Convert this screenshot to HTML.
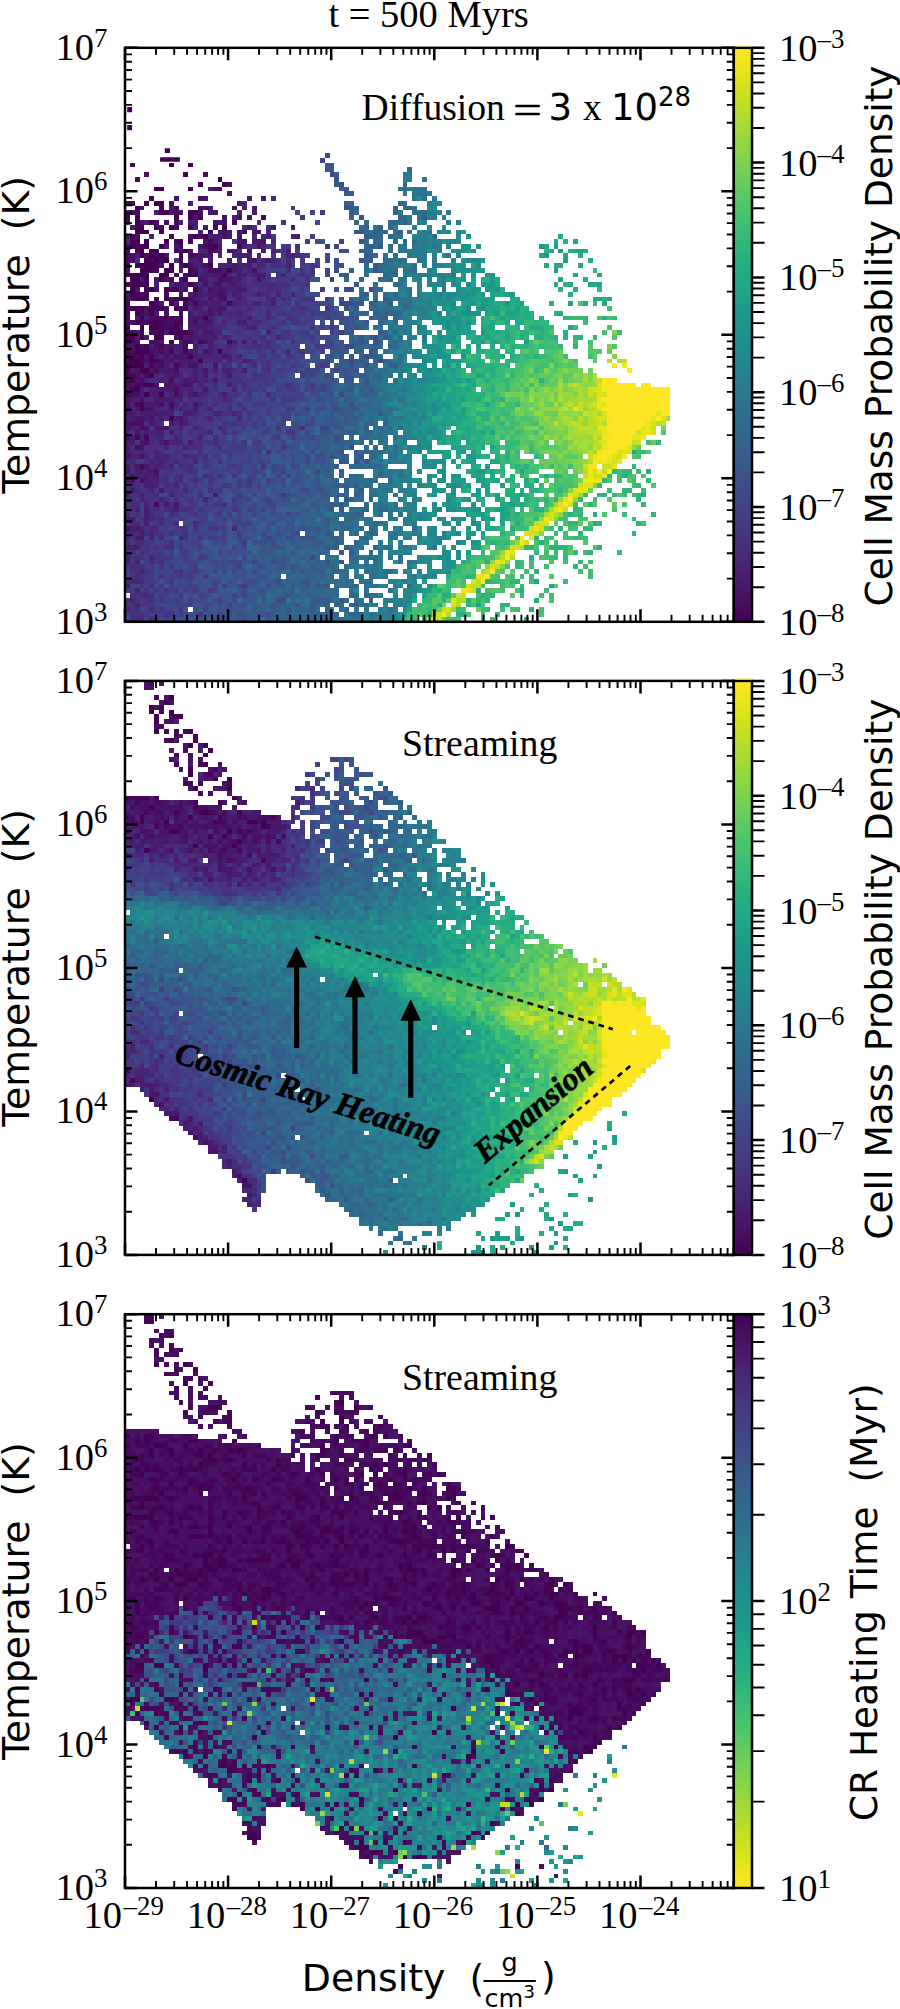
<!DOCTYPE html>
<html><head><meta charset="utf-8"><title>plot</title><style>html,body{margin:0;padding:0;background:#fff;width:900px;height:2009px;overflow:hidden}svg{display:block}</style></head><body>
<svg width="900" height="2009" viewBox="0 0 900 2009">
<rect width="900" height="2009" fill="#fff"/>
<defs><clipPath id="clip0"><rect x="125.0" y="47.8" width="608.8" height="574.0"/></clipPath><clipPath id="clip1"><rect x="125.0" y="680.9" width="608.8" height="574.0"/></clipPath><clipPath id="clip2"><rect x="125.0" y="1314.2" width="608.8" height="573.8"/></clipPath></defs>
<g clip-path="url(#clip0)"><g transform="translate(125.00 47.80) scale(4.8704 4.7833)" shape-rendering="crispEdges">
<path fill="#440154" d="M9 24h1v1h-1zM13 24h1v1h-1zM12 26h1v1h-1zM19 27h1v1h-1zM15 28h1v1h-1zM20 28h1v1h-1zM6 29h2v1h-2zM13 29h1v1h-1zM5 31h1v1h-1zM4 32h1v1h-1zM6 32h2v1h-2zM2 33h1v1h-1zM7 34h2v1h-2zM13 34h2v1h-2zM0 35h1v1h-1zM2 35h1v1h-1zM10 35h1v1h-1zM13 35h1v1h-1zM15 35h1v1h-1zM2 36h1v1h-1zM5 36h1v1h-1zM3 37h1v1h-1zM9 37h1v1h-1zM20 37h1v1h-1zM2 38h3v1h-3zM7 38h1v1h-1zM17 38h1v1h-1zM1 39h1v1h-1zM14 39h1v1h-1zM16 39h1v1h-1zM1 40h2v1h-2zM4 40h1v1h-1zM8 40h1v1h-1zM11 40h1v1h-1zM1 41h1v1h-1zM4 41h1v1h-1zM7 41h1v1h-1zM18 41h1v1h-1zM3 42h1v1h-1zM5 42h2v1h-2zM10 42h1v1h-1zM12 42h1v1h-1zM3 43h1v1h-1zM5 43h1v1h-1zM7 43h1v1h-1zM11 43h1v1h-1zM6 44h1v1h-1zM8 44h1v1h-1zM11 44h1v1h-1zM0 45h1v1h-1zM3 45h3v1h-3zM9 45h1v1h-1zM12 45h1v1h-1zM17 45h1v1h-1zM3 46h3v1h-3zM8 46h2v1h-2zM21 46h1v1h-1zM0 47h5v1h-5zM7 47h2v1h-2zM13 47h2v1h-2zM1 48h2v1h-2zM4 48h1v1h-1zM7 48h1v1h-1zM0 49h5v1h-5zM13 49h1v1h-1zM1 50h1v1h-1zM4 50h2v1h-2zM8 50h1v1h-1zM10 50h1v1h-1zM14 50h1v1h-1zM1 51h1v1h-1zM2 52h2v1h-2zM10 52h3v1h-3zM5 53h1v1h-1zM9 53h1v1h-1zM1 54h3v1h-3zM5 54h1v1h-1zM7 54h1v1h-1zM10 54h1v1h-1zM12 54h1v1h-1zM2 55h1v1h-1zM5 55h1v1h-1zM3 56h1v1h-1zM8 56h1v1h-1zM11 56h1v1h-1zM16 56h1v1h-1zM2 57h1v1h-1zM6 57h1v1h-1zM10 57h2v1h-2zM0 58h1v1h-1zM3 58h1v1h-1zM5 58h2v1h-2zM10 58h1v1h-1zM3 59h1v1h-1zM7 59h1v1h-1zM9 59h4v1h-4zM0 60h2v1h-2zM3 60h1v1h-1zM6 60h2v1h-2zM11 60h1v1h-1zM0 61h1v1h-1zM2 62h1v1h-1zM4 62h1v1h-1zM2 63h3v1h-3zM19 63h1v1h-1zM0 64h2v1h-2zM3 64h1v1h-1zM5 64h1v1h-1zM13 64h1v1h-1zM1 65h2v1h-2zM5 65h2v1h-2zM15 65h1v1h-1zM0 66h4v1h-4zM0 67h1v1h-1zM3 67h2v1h-2zM5 68h1v1h-1zM1 69h1v1h-1zM4 70h2v1h-2zM1 71h2v1h-2zM4 72h1v1h-1zM7 72h1v1h-1zM3 74h1v1h-1zM3 75h1v1h-1zM9 77h1v1h-1z"/>
<path fill="#46075a" d="M1 24h1v1h-1zM2 27h1v1h-1zM19 29h1v1h-1zM1 32h1v1h-1zM7 33h1v1h-1zM10 33h1v1h-1zM1 34h2v1h-2zM10 34h1v1h-1zM28 35h1v1h-1zM22 36h1v1h-1zM2 37h1v1h-1zM6 37h1v1h-1zM13 37h1v1h-1zM9 39h1v1h-1zM10 40h1v1h-1zM13 40h1v1h-1zM17 40h1v1h-1zM2 41h2v1h-2zM11 41h1v1h-1zM17 41h1v1h-1zM23 41h1v1h-1zM2 42h1v1h-1zM17 42h1v1h-1zM6 43h1v1h-1zM13 43h1v1h-1zM4 44h2v1h-2zM7 44h1v1h-1zM2 45h1v1h-1zM6 45h1v1h-1zM6 46h1v1h-1zM13 46h1v1h-1zM17 46h1v1h-1zM20 47h1v1h-1zM12 48h1v1h-1zM9 50h1v1h-1zM2 51h1v1h-1zM4 51h1v1h-1zM8 51h1v1h-1zM4 52h1v1h-1zM6 52h1v1h-1zM8 52h1v1h-1zM0 53h1v1h-1zM6 53h1v1h-1zM12 53h1v1h-1zM14 53h1v1h-1zM21 53h1v1h-1zM0 54h1v1h-1zM6 54h1v1h-1zM0 55h1v1h-1zM3 55h1v1h-1zM0 56h1v1h-1zM9 56h1v1h-1zM3 57h1v1h-1zM5 57h1v1h-1zM7 57h1v1h-1zM7 58h1v1h-1zM9 58h1v1h-1zM0 59h1v1h-1zM6 59h1v1h-1zM1 61h1v1h-1zM9 61h1v1h-1zM12 61h1v1h-1zM15 61h1v1h-1zM21 61h1v1h-1zM7 62h1v1h-1zM12 62h1v1h-1zM0 63h1v1h-1zM9 63h1v1h-1zM12 63h1v1h-1zM0 65h1v1h-1zM5 66h1v1h-1zM10 66h1v1h-1zM0 68h2v1h-2zM0 69h1v1h-1zM2 70h2v1h-2zM0 72h1v1h-1zM2 74h1v1h-1zM2 81h1v1h-1zM4 81h1v1h-1zM3 87h1v1h-1zM6 95h1v1h-1z"/>
<path fill="#470d60" d="M16 26h1v1h-1zM18 29h1v1h-1zM15 31h1v1h-1zM0 32h1v1h-1zM9 32h1v1h-1zM15 33h1v1h-1zM22 33h1v1h-1zM15 34h1v1h-1zM0 36h1v1h-1zM6 36h1v1h-1zM8 36h1v1h-1zM10 36h1v1h-1zM20 36h1v1h-1zM7 37h1v1h-1zM10 37h1v1h-1zM18 37h1v1h-1zM20 38h1v1h-1zM24 38h1v1h-1zM2 39h1v1h-1zM13 39h1v1h-1zM15 39h1v1h-1zM0 41h1v1h-1zM16 41h1v1h-1zM0 42h1v1h-1zM11 42h1v1h-1zM13 42h1v1h-1zM18 42h1v1h-1zM0 43h2v1h-2zM4 43h1v1h-1zM0 44h2v1h-2zM16 45h1v1h-1zM14 46h1v1h-1zM18 46h2v1h-2zM10 47h1v1h-1zM12 47h1v1h-1zM9 48h1v1h-1zM19 48h1v1h-1zM3 51h1v1h-1zM11 51h1v1h-1zM19 51h1v1h-1zM0 52h2v1h-2zM9 52h1v1h-1zM13 52h1v1h-1zM20 52h1v1h-1zM4 54h1v1h-1zM8 54h1v1h-1zM11 54h1v1h-1zM11 55h1v1h-1zM5 56h3v1h-3zM0 57h2v1h-2zM4 57h1v1h-1zM8 57h2v1h-2zM14 57h1v1h-1zM8 58h1v1h-1zM1 59h1v1h-1zM5 59h1v1h-1zM13 59h1v1h-1zM5 61h2v1h-2zM13 61h1v1h-1zM3 62h1v1h-1zM6 62h1v1h-1zM1 63h1v1h-1zM5 63h1v1h-1zM7 63h1v1h-1zM2 64h1v1h-1zM3 65h2v1h-2zM7 65h1v1h-1zM7 66h1v1h-1zM6 67h1v1h-1zM10 67h1v1h-1zM2 68h1v1h-1zM4 68h1v1h-1zM3 69h1v1h-1zM9 69h1v1h-1zM6 70h1v1h-1zM0 71h1v1h-1zM10 71h1v1h-1zM1 72h2v1h-2zM10 72h1v1h-1zM7 74h1v1h-1zM9 74h1v1h-1zM0 75h1v1h-1zM1 78h3v1h-3zM3 79h2v1h-2zM0 81h1v1h-1zM4 82h1v1h-1zM2 83h1v1h-1zM1 90h1v1h-1zM3 90h1v1h-1z"/>
<path fill="#471365" d="M4 26h1v1h-1zM21 28h1v1h-1zM10 31h1v1h-1zM16 31h1v1h-1zM3 33h1v1h-1zM16 33h1v1h-1zM11 34h1v1h-1zM18 34h1v1h-1zM14 35h1v1h-1zM20 35h1v1h-1zM23 35h1v1h-1zM25 35h1v1h-1zM3 36h1v1h-1zM18 36h1v1h-1zM19 38h1v1h-1zM26 38h2v1h-2zM20 39h1v1h-1zM23 39h1v1h-1zM16 40h1v1h-1zM24 40h1v1h-1zM28 40h1v1h-1zM27 41h1v1h-1zM25 42h1v1h-1zM8 43h1v1h-1zM14 43h2v1h-2zM17 43h1v1h-1zM26 44h1v1h-1zM7 45h1v1h-1zM11 45h1v1h-1zM13 45h1v1h-1zM26 46h1v1h-1zM8 48h1v1h-1zM11 48h1v1h-1zM15 48h1v1h-1zM20 48h2v1h-2zM27 48h1v1h-1zM11 49h1v1h-1zM16 49h1v1h-1zM18 49h2v1h-2zM6 50h1v1h-1zM12 50h1v1h-1zM17 50h1v1h-1zM14 51h1v1h-1zM20 51h1v1h-1zM17 52h1v1h-1zM4 55h1v1h-1zM8 55h1v1h-1zM17 55h1v1h-1zM19 55h1v1h-1zM10 56h1v1h-1zM11 58h1v1h-1zM10 60h1v1h-1zM13 60h1v1h-1zM2 61h1v1h-1zM16 61h1v1h-1zM0 62h2v1h-2zM9 62h1v1h-1zM6 63h1v1h-1zM16 63h1v1h-1zM4 64h1v1h-1zM8 64h1v1h-1zM10 64h3v1h-3zM9 65h1v1h-1zM6 66h1v1h-1zM13 66h2v1h-2zM18 66h1v1h-1zM2 67h1v1h-1zM16 67h1v1h-1zM2 69h1v1h-1zM0 70h2v1h-2zM8 70h1v1h-1zM12 70h1v1h-1zM14 72h1v1h-1zM3 73h1v1h-1zM0 74h1v1h-1zM14 74h1v1h-1zM4 75h2v1h-2zM9 75h1v1h-1zM2 77h2v1h-2zM0 78h1v1h-1zM0 79h1v1h-1zM8 79h1v1h-1zM2 80h1v1h-1zM8 82h1v1h-1zM3 83h1v1h-1zM0 85h1v1h-1zM3 85h1v1h-1zM0 88h1v1h-1zM6 88h1v1h-1zM1 89h1v1h-1zM0 100h1v1h-1z"/>
<path fill="#48186a" d="M21 30h1v1h-1zM25 31h1v1h-1zM28 31h1v1h-1zM9 33h1v1h-1zM17 33h1v1h-1zM26 33h1v1h-1zM9 34h1v1h-1zM1 37h1v1h-1zM16 37h1v1h-1zM25 37h1v1h-1zM34 37h1v1h-1zM21 38h1v1h-1zM23 38h1v1h-1zM18 40h1v1h-1zM23 40h1v1h-1zM26 40h1v1h-1zM10 41h1v1h-1zM15 41h1v1h-1zM19 41h1v1h-1zM19 42h1v1h-1zM21 42h2v1h-2zM16 43h1v1h-1zM15 44h1v1h-1zM25 44h1v1h-1zM29 44h1v1h-1zM22 45h1v1h-1zM0 46h1v1h-1zM20 46h1v1h-1zM22 46h1v1h-1zM16 47h1v1h-1zM18 47h2v1h-2zM6 48h1v1h-1zM10 49h1v1h-1zM14 49h1v1h-1zM2 50h1v1h-1zM11 50h1v1h-1zM15 50h1v1h-1zM19 50h2v1h-2zM0 51h1v1h-1zM18 51h1v1h-1zM19 52h1v1h-1zM7 53h1v1h-1zM13 53h1v1h-1zM15 53h2v1h-2zM14 54h1v1h-1zM17 54h1v1h-1zM19 54h2v1h-2zM6 55h1v1h-1zM13 55h1v1h-1zM2 56h1v1h-1zM13 56h3v1h-3zM13 57h1v1h-1zM16 57h2v1h-2zM2 59h1v1h-1zM8 59h1v1h-1zM16 59h2v1h-2zM4 60h1v1h-1zM12 60h1v1h-1zM7 61h1v1h-1zM24 61h1v1h-1zM8 62h1v1h-1zM14 62h1v1h-1zM8 63h1v1h-1zM13 63h1v1h-1zM6 64h1v1h-1zM20 64h1v1h-1zM11 65h1v1h-1zM13 65h1v1h-1zM8 66h1v1h-1zM11 66h1v1h-1zM5 67h1v1h-1zM7 67h3v1h-3zM3 68h1v1h-1zM9 68h2v1h-2zM21 68h1v1h-1zM12 69h1v1h-1zM14 69h1v1h-1zM18 69h1v1h-1zM9 70h1v1h-1zM13 70h1v1h-1zM9 71h1v1h-1zM16 71h1v1h-1zM0 73h2v1h-2zM5 74h2v1h-2zM2 75h1v1h-1zM14 75h1v1h-1zM0 76h2v1h-2zM6 76h1v1h-1zM5 77h1v1h-1zM11 77h1v1h-1zM5 78h1v1h-1zM11 78h1v1h-1zM7 79h1v1h-1zM3 82h1v1h-1zM0 83h1v1h-1zM2 87h1v1h-1zM4 87h1v1h-1zM6 89h1v1h-1zM0 90h1v1h-1zM1 92h1v1h-1zM7 92h1v1h-1zM18 93h1v1h-1zM8 95h1v1h-1zM10 95h1v1h-1zM0 98h2v1h-2zM2 100h1v1h-1zM2 102h2v1h-2zM0 112h1v1h-1z"/>
<path fill="#481d6f" d="M17 29h1v1h-1zM13 32h1v1h-1zM23 32h1v1h-1zM0 34h1v1h-1zM6 34h1v1h-1zM17 34h1v1h-1zM26 34h1v1h-1zM22 35h1v1h-1zM4 36h1v1h-1zM13 36h2v1h-2zM19 36h1v1h-1zM30 37h1v1h-1zM0 39h1v1h-1zM18 39h2v1h-2zM21 39h1v1h-1zM29 39h1v1h-1zM35 39h1v1h-1zM27 40h1v1h-1zM8 41h1v1h-1zM28 42h1v1h-1zM33 42h1v1h-1zM2 43h1v1h-1zM23 43h3v1h-3zM13 44h1v1h-1zM17 44h1v1h-1zM21 44h1v1h-1zM14 45h2v1h-2zM25 45h1v1h-1zM11 46h1v1h-1zM16 46h1v1h-1zM23 46h1v1h-1zM17 47h1v1h-1zM23 47h2v1h-2zM27 47h2v1h-2zM3 48h1v1h-1zM16 48h1v1h-1zM22 48h2v1h-2zM6 49h1v1h-1zM12 49h1v1h-1zM21 49h2v1h-2zM18 50h1v1h-1zM23 50h2v1h-2zM13 51h1v1h-1zM15 51h1v1h-1zM17 51h1v1h-1zM22 51h1v1h-1zM27 51h1v1h-1zM14 52h1v1h-1zM23 52h1v1h-1zM10 53h1v1h-1zM18 53h2v1h-2zM22 53h1v1h-1zM27 53h1v1h-1zM30 53h1v1h-1zM15 54h1v1h-1zM18 54h1v1h-1zM16 55h1v1h-1zM4 56h1v1h-1zM25 56h1v1h-1zM23 57h2v1h-2zM13 58h4v1h-4zM26 58h1v1h-1zM14 59h1v1h-1zM19 59h1v1h-1zM29 59h1v1h-1zM2 60h1v1h-1zM14 60h3v1h-3zM18 60h1v1h-1zM17 61h1v1h-1zM22 61h1v1h-1zM5 62h1v1h-1zM10 62h2v1h-2zM17 62h1v1h-1zM11 63h1v1h-1zM17 63h1v1h-1zM14 64h1v1h-1zM8 65h1v1h-1zM12 65h1v1h-1zM24 65h1v1h-1zM4 66h1v1h-1zM1 67h1v1h-1zM14 67h1v1h-1zM18 67h1v1h-1zM24 67h1v1h-1zM8 68h1v1h-1zM14 68h1v1h-1zM16 68h1v1h-1zM4 69h1v1h-1zM7 69h1v1h-1zM13 69h1v1h-1zM10 70h2v1h-2zM21 70h1v1h-1zM3 71h1v1h-1zM5 71h4v1h-4zM3 72h1v1h-1zM5 72h2v1h-2zM11 72h1v1h-1zM13 72h1v1h-1zM20 72h1v1h-1zM6 73h4v1h-4zM4 74h1v1h-1zM11 75h1v1h-1zM3 76h3v1h-3zM7 76h2v1h-2zM12 76h2v1h-2zM1 77h1v1h-1zM4 77h1v1h-1zM7 77h1v1h-1zM10 77h1v1h-1zM9 78h1v1h-1zM12 78h1v1h-1zM1 79h1v1h-1zM6 79h1v1h-1zM14 79h1v1h-1zM4 80h1v1h-1zM7 80h1v1h-1zM9 80h1v1h-1zM1 81h1v1h-1zM0 82h2v1h-2zM7 82h1v1h-1zM13 82h1v1h-1zM0 84h1v1h-1zM7 86h1v1h-1zM0 87h1v1h-1zM2 88h2v1h-2zM5 88h1v1h-1zM2 89h1v1h-1zM4 89h1v1h-1zM4 90h1v1h-1zM4 91h2v1h-2zM0 93h1v1h-1zM3 93h1v1h-1zM9 93h1v1h-1zM2 96h1v1h-1zM4 96h1v1h-1zM10 96h1v1h-1zM4 97h1v1h-1zM4 98h1v1h-1zM4 99h1v1h-1zM1 100h1v1h-1zM3 101h1v1h-1zM0 104h1v1h-1zM2 104h1v1h-1zM0 106h1v1h-1zM0 107h1v1h-1zM2 107h1v1h-1zM3 109h1v1h-1z"/>
<path fill="#482374" d="M24 33h1v1h-1zM23 34h1v1h-1zM11 36h1v1h-1zM14 37h1v1h-1zM15 38h1v1h-1zM29 38h1v1h-1zM5 39h1v1h-1zM17 39h1v1h-1zM26 39h1v1h-1zM34 39h1v1h-1zM19 40h1v1h-1zM24 41h1v1h-1zM30 42h1v1h-1zM19 43h1v1h-1zM22 43h1v1h-1zM27 43h1v1h-1zM33 43h2v1h-2zM14 44h1v1h-1zM28 44h1v1h-1zM19 45h3v1h-3zM23 45h2v1h-2zM27 45h1v1h-1zM33 45h1v1h-1zM25 46h1v1h-1zM15 47h1v1h-1zM26 47h1v1h-1zM32 47h1v1h-1zM18 48h1v1h-1zM9 49h1v1h-1zM23 49h1v1h-1zM21 50h2v1h-2zM16 51h1v1h-1zM23 51h1v1h-1zM31 51h1v1h-1zM34 51h1v1h-1zM15 52h1v1h-1zM30 52h1v1h-1zM17 53h1v1h-1zM26 53h1v1h-1zM15 55h1v1h-1zM18 55h1v1h-1zM21 55h1v1h-1zM23 55h1v1h-1zM17 56h1v1h-1zM15 57h1v1h-1zM20 57h1v1h-1zM17 58h1v1h-1zM25 58h1v1h-1zM18 59h1v1h-1zM17 60h1v1h-1zM20 60h1v1h-1zM31 60h1v1h-1zM11 61h1v1h-1zM26 61h1v1h-1zM21 62h1v1h-1zM10 63h1v1h-1zM14 63h1v1h-1zM7 64h1v1h-1zM9 64h1v1h-1zM15 64h1v1h-1zM17 64h1v1h-1zM21 64h1v1h-1zM23 64h1v1h-1zM10 65h1v1h-1zM14 65h1v1h-1zM18 65h2v1h-2zM21 65h1v1h-1zM25 65h1v1h-1zM12 66h1v1h-1zM20 67h2v1h-2zM6 68h1v1h-1zM11 68h1v1h-1zM8 69h1v1h-1zM16 69h1v1h-1zM15 70h1v1h-1zM11 71h1v1h-1zM13 71h1v1h-1zM22 71h1v1h-1zM9 72h1v1h-1zM15 72h1v1h-1zM2 73h1v1h-1zM11 73h1v1h-1zM1 74h1v1h-1zM10 74h1v1h-1zM12 74h1v1h-1zM15 74h1v1h-1zM17 75h1v1h-1zM9 76h1v1h-1zM18 76h2v1h-2zM22 76h1v1h-1zM0 77h1v1h-1zM12 77h1v1h-1zM17 77h1v1h-1zM6 78h1v1h-1zM2 79h1v1h-1zM11 79h1v1h-1zM19 79h1v1h-1zM0 80h1v1h-1zM6 80h1v1h-1zM17 80h1v1h-1zM3 81h1v1h-1zM7 81h1v1h-1zM10 81h1v1h-1zM15 81h1v1h-1zM9 82h3v1h-3zM8 83h1v1h-1zM12 83h1v1h-1zM6 84h1v1h-1zM1 85h2v1h-2zM4 85h1v1h-1zM6 85h1v1h-1zM8 85h1v1h-1zM12 85h1v1h-1zM5 86h1v1h-1zM14 86h1v1h-1zM6 87h2v1h-2zM9 87h1v1h-1zM4 88h1v1h-1zM5 89h1v1h-1zM5 90h2v1h-2zM1 91h1v1h-1zM6 91h1v1h-1zM10 91h1v1h-1zM5 92h1v1h-1zM3 94h1v1h-1zM7 94h1v1h-1zM16 94h1v1h-1zM4 95h1v1h-1zM3 100h1v1h-1zM0 101h2v1h-2zM5 101h1v1h-1zM0 102h1v1h-1zM5 102h1v1h-1zM11 102h1v1h-1zM1 104h1v1h-1zM5 106h1v1h-1zM2 111h1v1h-1zM2 113h1v1h-1zM1 115h1v1h-1zM2 116h1v1h-1z"/>
<path fill="#482878" d="M30 31h1v1h-1zM24 32h1v1h-1zM24 37h1v1h-1zM28 39h1v1h-1zM0 40h1v1h-1zM30 40h1v1h-1zM28 41h1v1h-1zM15 42h2v1h-2zM23 42h1v1h-1zM30 44h1v1h-1zM33 44h1v1h-1zM28 45h1v1h-1zM30 45h1v1h-1zM15 46h1v1h-1zM33 46h1v1h-1zM21 47h1v1h-1zM25 47h1v1h-1zM17 48h1v1h-1zM28 48h1v1h-1zM34 48h1v1h-1zM15 49h1v1h-1zM17 49h1v1h-1zM20 49h1v1h-1zM24 49h1v1h-1zM29 49h2v1h-2zM29 50h1v1h-1zM26 51h1v1h-1zM28 51h2v1h-2zM18 52h1v1h-1zM24 52h1v1h-1zM29 52h1v1h-1zM32 52h1v1h-1zM20 53h1v1h-1zM23 53h2v1h-2zM13 54h1v1h-1zM25 54h1v1h-1zM20 55h1v1h-1zM22 55h1v1h-1zM29 55h1v1h-1zM21 56h1v1h-1zM23 56h1v1h-1zM29 56h1v1h-1zM26 57h2v1h-2zM18 58h2v1h-2zM15 59h1v1h-1zM21 60h1v1h-1zM28 60h1v1h-1zM14 61h1v1h-1zM29 61h1v1h-1zM15 62h1v1h-1zM18 62h1v1h-1zM27 62h1v1h-1zM18 63h1v1h-1zM20 63h1v1h-1zM33 63h1v1h-1zM16 64h1v1h-1zM18 64h2v1h-2zM16 65h2v1h-2zM20 66h1v1h-1zM26 66h1v1h-1zM12 67h2v1h-2zM15 67h1v1h-1zM22 67h1v1h-1zM13 68h1v1h-1zM5 69h2v1h-2zM11 69h1v1h-1zM15 69h1v1h-1zM18 70h1v1h-1zM24 70h1v1h-1zM12 71h1v1h-1zM16 72h1v1h-1zM19 72h1v1h-1zM29 72h1v1h-1zM4 73h1v1h-1zM10 73h1v1h-1zM20 73h1v1h-1zM8 74h1v1h-1zM1 75h1v1h-1zM6 75h3v1h-3zM12 75h1v1h-1zM21 75h1v1h-1zM2 76h1v1h-1zM14 76h1v1h-1zM6 77h1v1h-1zM8 77h1v1h-1zM23 77h1v1h-1zM10 78h1v1h-1zM3 80h1v1h-1zM5 80h1v1h-1zM11 80h1v1h-1zM6 81h1v1h-1zM18 81h1v1h-1zM5 82h1v1h-1zM18 82h1v1h-1zM1 84h1v1h-1zM3 84h2v1h-2zM15 84h1v1h-1zM7 85h1v1h-1zM14 85h1v1h-1zM1 86h1v1h-1zM6 86h1v1h-1zM8 86h1v1h-1zM10 86h1v1h-1zM5 87h1v1h-1zM11 87h1v1h-1zM13 87h1v1h-1zM3 89h1v1h-1zM11 89h1v1h-1zM11 90h1v1h-1zM14 90h1v1h-1zM0 92h1v1h-1zM2 92h1v1h-1zM12 92h1v1h-1zM6 93h1v1h-1zM1 95h2v1h-2zM8 96h2v1h-2zM0 97h1v1h-1zM5 97h1v1h-1zM9 97h1v1h-1zM5 98h1v1h-1zM7 98h1v1h-1zM1 99h2v1h-2zM7 99h1v1h-1zM10 99h1v1h-1zM14 99h1v1h-1zM5 100h2v1h-2zM22 100h1v1h-1zM2 101h1v1h-1zM4 101h1v1h-1zM7 102h1v1h-1zM0 103h1v1h-1zM2 103h2v1h-2zM1 108h1v1h-1zM2 110h1v1h-1zM0 111h2v1h-2zM3 111h1v1h-1zM4 114h1v1h-1zM0 117h1v1h-1zM5 117h1v1h-1zM3 119h1v1h-1zM5 119h1v1h-1z"/>
<path fill="#472d7b" d="M27 36h1v1h-1zM26 37h1v1h-1zM25 41h2v1h-2zM35 41h1v1h-1zM31 42h1v1h-1zM35 43h1v1h-1zM2 44h1v1h-1zM10 44h1v1h-1zM23 44h1v1h-1zM31 44h1v1h-1zM31 45h1v1h-1zM24 46h1v1h-1zM27 46h1v1h-1zM31 47h1v1h-1zM36 47h1v1h-1zM24 48h1v1h-1zM26 48h1v1h-1zM26 49h3v1h-3zM31 49h2v1h-2zM16 50h1v1h-1zM30 50h2v1h-2zM21 51h1v1h-1zM16 52h1v1h-1zM22 52h1v1h-1zM37 52h1v1h-1zM29 53h1v1h-1zM22 54h2v1h-2zM36 54h1v1h-1zM14 55h1v1h-1zM24 55h1v1h-1zM32 55h1v1h-1zM18 56h1v1h-1zM20 56h1v1h-1zM22 56h1v1h-1zM24 56h1v1h-1zM33 56h1v1h-1zM20 58h1v1h-1zM24 58h1v1h-1zM30 58h1v1h-1zM23 59h1v1h-1zM22 62h1v1h-1zM26 62h1v1h-1zM29 62h1v1h-1zM21 63h1v1h-1zM30 63h1v1h-1zM9 66h1v1h-1zM15 66h1v1h-1zM21 66h1v1h-1zM23 66h1v1h-1zM29 66h1v1h-1zM11 67h1v1h-1zM17 67h1v1h-1zM29 67h1v1h-1zM7 68h1v1h-1zM15 68h1v1h-1zM18 68h1v1h-1zM20 68h1v1h-1zM26 68h1v1h-1zM10 69h1v1h-1zM17 69h1v1h-1zM21 69h1v1h-1zM23 69h1v1h-1zM22 70h1v1h-1zM33 70h1v1h-1zM4 71h1v1h-1zM14 71h1v1h-1zM18 71h1v1h-1zM8 72h1v1h-1zM12 72h1v1h-1zM5 73h1v1h-1zM13 73h1v1h-1zM15 73h1v1h-1zM21 73h1v1h-1zM16 74h1v1h-1zM18 74h1v1h-1zM23 74h1v1h-1zM10 75h1v1h-1zM13 75h1v1h-1zM16 75h1v1h-1zM24 75h1v1h-1zM23 76h1v1h-1zM14 77h1v1h-1zM16 77h1v1h-1zM7 78h1v1h-1zM13 78h1v1h-1zM10 79h1v1h-1zM15 79h1v1h-1zM36 79h1v1h-1zM13 80h1v1h-1zM15 80h2v1h-2zM20 80h1v1h-1zM5 81h1v1h-1zM11 81h1v1h-1zM6 82h1v1h-1zM15 82h1v1h-1zM1 83h1v1h-1zM5 83h2v1h-2zM13 83h3v1h-3zM19 83h1v1h-1zM2 84h1v1h-1zM5 84h1v1h-1zM7 84h1v1h-1zM10 84h1v1h-1zM29 84h1v1h-1zM9 85h1v1h-1zM13 85h1v1h-1zM16 85h1v1h-1zM0 86h1v1h-1zM4 86h1v1h-1zM9 86h1v1h-1zM19 86h1v1h-1zM1 87h1v1h-1zM8 87h1v1h-1zM1 88h1v1h-1zM13 88h1v1h-1zM0 89h1v1h-1zM8 89h1v1h-1zM16 89h1v1h-1zM19 89h1v1h-1zM2 90h1v1h-1zM8 90h1v1h-1zM10 90h1v1h-1zM0 91h1v1h-1zM2 91h1v1h-1zM8 91h1v1h-1zM4 92h1v1h-1zM9 92h1v1h-1zM2 93h1v1h-1zM11 93h1v1h-1zM15 93h1v1h-1zM0 94h2v1h-2zM4 94h1v1h-1zM8 94h1v1h-1zM10 94h1v1h-1zM13 94h1v1h-1zM20 95h1v1h-1zM0 96h2v1h-2zM5 96h2v1h-2zM12 96h1v1h-1zM2 97h1v1h-1zM3 98h1v1h-1zM6 98h1v1h-1zM14 100h1v1h-1zM9 101h1v1h-1zM12 101h1v1h-1zM1 102h1v1h-1zM9 103h1v1h-1zM8 104h2v1h-2zM1 105h1v1h-1zM3 105h1v1h-1zM2 106h1v1h-1zM5 107h1v1h-1zM7 107h1v1h-1zM2 108h2v1h-2zM2 109h1v1h-1zM5 112h1v1h-1zM3 114h1v1h-1zM5 114h1v1h-1zM0 115h1v1h-1zM5 115h1v1h-1zM1 117h2v1h-2zM2 119h1v1h-1z"/>
<path fill="#46327e" d="M34 33h1v1h-1zM32 36h1v1h-1zM29 37h1v1h-1zM30 41h1v1h-1zM32 42h1v1h-1zM30 43h1v1h-1zM36 43h1v1h-1zM27 44h1v1h-1zM32 45h1v1h-1zM36 46h1v1h-1zM38 46h1v1h-1zM22 47h1v1h-1zM29 47h1v1h-1zM35 47h1v1h-1zM29 48h1v1h-1zM37 48h1v1h-1zM25 49h1v1h-1zM33 49h1v1h-1zM37 49h1v1h-1zM25 50h1v1h-1zM27 50h2v1h-2zM24 51h2v1h-2zM33 52h1v1h-1zM36 52h1v1h-1zM25 53h1v1h-1zM28 53h1v1h-1zM35 53h1v1h-1zM16 54h1v1h-1zM24 54h1v1h-1zM26 54h1v1h-1zM29 54h2v1h-2zM25 55h1v1h-1zM31 55h1v1h-1zM26 56h1v1h-1zM30 56h1v1h-1zM34 56h1v1h-1zM18 57h2v1h-2zM21 57h2v1h-2zM25 57h1v1h-1zM28 57h1v1h-1zM32 57h1v1h-1zM34 57h2v1h-2zM23 58h1v1h-1zM38 58h1v1h-1zM22 59h1v1h-1zM26 59h1v1h-1zM32 59h2v1h-2zM19 60h1v1h-1zM24 60h2v1h-2zM27 60h1v1h-1zM32 60h1v1h-1zM18 61h1v1h-1zM28 61h1v1h-1zM34 61h1v1h-1zM16 62h1v1h-1zM19 62h2v1h-2zM24 62h2v1h-2zM28 62h1v1h-1zM15 63h1v1h-1zM22 63h1v1h-1zM27 63h1v1h-1zM36 63h1v1h-1zM22 64h1v1h-1zM28 64h1v1h-1zM33 64h1v1h-1zM22 65h1v1h-1zM26 65h1v1h-1zM29 65h1v1h-1zM23 67h1v1h-1zM23 68h1v1h-1zM27 68h2v1h-2zM20 69h1v1h-1zM22 69h1v1h-1zM26 69h1v1h-1zM15 71h1v1h-1zM17 71h1v1h-1zM24 71h2v1h-2zM17 72h1v1h-1zM21 72h2v1h-2zM25 72h1v1h-1zM14 73h1v1h-1zM16 73h1v1h-1zM18 73h2v1h-2zM30 73h1v1h-1zM13 74h1v1h-1zM21 74h1v1h-1zM15 75h1v1h-1zM15 76h1v1h-1zM20 76h2v1h-2zM25 76h1v1h-1zM13 77h1v1h-1zM19 77h1v1h-1zM4 78h1v1h-1zM20 78h1v1h-1zM22 78h1v1h-1zM9 79h1v1h-1zM20 79h1v1h-1zM1 80h1v1h-1zM10 80h1v1h-1zM14 81h1v1h-1zM14 82h1v1h-1zM17 82h1v1h-1zM4 83h1v1h-1zM7 83h1v1h-1zM10 83h1v1h-1zM11 84h1v1h-1zM5 85h1v1h-1zM10 85h1v1h-1zM11 86h2v1h-2zM16 86h1v1h-1zM12 87h1v1h-1zM28 87h1v1h-1zM8 88h2v1h-2zM12 88h1v1h-1zM14 88h1v1h-1zM7 89h1v1h-1zM10 89h1v1h-1zM17 89h1v1h-1zM22 89h1v1h-1zM7 90h1v1h-1zM17 90h1v1h-1zM25 90h1v1h-1zM3 91h1v1h-1zM9 91h1v1h-1zM12 91h1v1h-1zM3 92h1v1h-1zM8 92h1v1h-1zM10 92h1v1h-1zM17 92h1v1h-1zM1 93h1v1h-1zM4 93h2v1h-2zM32 93h1v1h-1zM5 94h2v1h-2zM0 95h1v1h-1zM5 95h1v1h-1zM7 95h1v1h-1zM9 95h1v1h-1zM11 96h1v1h-1zM13 96h1v1h-1zM6 97h2v1h-2zM10 97h1v1h-1zM14 97h1v1h-1zM11 98h1v1h-1zM4 100h1v1h-1zM12 100h1v1h-1zM6 101h2v1h-2zM12 102h1v1h-1zM15 102h1v1h-1zM4 103h1v1h-1zM3 104h2v1h-2zM6 104h1v1h-1zM11 104h1v1h-1zM0 105h1v1h-1zM4 105h1v1h-1zM3 106h1v1h-1zM6 106h1v1h-1zM1 107h1v1h-1zM7 108h1v1h-1zM1 109h1v1h-1zM4 109h1v1h-1zM11 109h1v1h-1zM3 110h1v1h-1zM7 110h1v1h-1zM4 113h1v1h-1zM8 113h1v1h-1zM1 114h2v1h-2zM2 115h1v1h-1zM4 115h1v1h-1zM1 116h1v1h-1zM7 117h1v1h-1zM1 118h3v1h-3zM9 118h1v1h-1zM1 119h1v1h-1z"/>
<path fill="#453781" d="M40 34h1v1h-1zM36 35h1v1h-1zM30 39h1v1h-1zM22 40h1v1h-1zM29 41h1v1h-1zM33 41h1v1h-1zM41 41h1v1h-1zM32 43h1v1h-1zM36 44h1v1h-1zM38 45h1v1h-1zM28 46h1v1h-1zM37 47h1v1h-1zM25 48h1v1h-1zM31 48h1v1h-1zM33 48h1v1h-1zM32 50h2v1h-2zM36 50h1v1h-1zM32 51h1v1h-1zM21 52h1v1h-1zM25 52h1v1h-1zM31 52h1v1h-1zM38 52h1v1h-1zM33 53h1v1h-1zM21 54h1v1h-1zM27 54h1v1h-1zM31 54h1v1h-1zM34 54h2v1h-2zM41 54h1v1h-1zM27 55h1v1h-1zM33 55h1v1h-1zM35 55h2v1h-2zM38 55h1v1h-1zM28 56h1v1h-1zM29 57h1v1h-1zM31 57h1v1h-1zM21 58h2v1h-2zM29 58h1v1h-1zM24 59h1v1h-1zM37 59h1v1h-1zM23 60h1v1h-1zM30 60h1v1h-1zM33 60h1v1h-1zM38 60h1v1h-1zM19 61h1v1h-1zM23 61h1v1h-1zM30 61h1v1h-1zM23 62h1v1h-1zM30 62h2v1h-2zM39 62h1v1h-1zM25 63h1v1h-1zM27 64h1v1h-1zM30 64h2v1h-2zM34 64h1v1h-1zM20 65h1v1h-1zM23 65h1v1h-1zM28 65h1v1h-1zM32 65h1v1h-1zM16 66h2v1h-2zM25 66h1v1h-1zM28 66h1v1h-1zM34 66h1v1h-1zM19 67h1v1h-1zM28 67h1v1h-1zM12 68h1v1h-1zM17 68h1v1h-1zM19 68h1v1h-1zM22 68h1v1h-1zM24 68h1v1h-1zM36 68h1v1h-1zM25 69h1v1h-1zM28 69h1v1h-1zM14 70h1v1h-1zM16 70h2v1h-2zM20 70h1v1h-1zM38 70h1v1h-1zM26 71h1v1h-1zM34 71h1v1h-1zM18 72h1v1h-1zM23 72h1v1h-1zM17 73h1v1h-1zM25 73h1v1h-1zM32 73h1v1h-1zM11 74h1v1h-1zM17 74h1v1h-1zM19 74h2v1h-2zM27 74h1v1h-1zM11 76h1v1h-1zM16 76h2v1h-2zM15 77h1v1h-1zM25 77h1v1h-1zM14 78h1v1h-1zM17 78h1v1h-1zM21 78h1v1h-1zM23 78h1v1h-1zM5 79h1v1h-1zM16 79h1v1h-1zM31 79h1v1h-1zM14 80h1v1h-1zM22 80h1v1h-1zM33 80h2v1h-2zM9 81h1v1h-1zM13 81h1v1h-1zM16 82h1v1h-1zM24 82h1v1h-1zM27 82h1v1h-1zM9 83h1v1h-1zM11 83h1v1h-1zM32 83h1v1h-1zM9 84h1v1h-1zM20 84h1v1h-1zM11 85h1v1h-1zM15 85h1v1h-1zM18 85h1v1h-1zM2 86h1v1h-1zM13 86h1v1h-1zM16 87h1v1h-1zM7 88h1v1h-1zM13 90h1v1h-1zM14 91h1v1h-1zM20 91h1v1h-1zM6 92h1v1h-1zM19 92h1v1h-1zM10 93h1v1h-1zM23 93h1v1h-1zM12 94h1v1h-1zM22 94h1v1h-1zM11 95h1v1h-1zM13 95h1v1h-1zM18 95h1v1h-1zM7 96h1v1h-1zM15 96h1v1h-1zM22 96h1v1h-1zM13 97h1v1h-1zM8 98h1v1h-1zM0 99h1v1h-1zM6 99h1v1h-1zM9 99h1v1h-1zM10 100h2v1h-2zM18 100h1v1h-1zM1 103h1v1h-1zM5 103h1v1h-1zM8 103h1v1h-1zM6 105h2v1h-2zM12 105h1v1h-1zM1 106h1v1h-1zM7 106h2v1h-2zM15 106h1v1h-1zM6 107h1v1h-1zM0 108h1v1h-1zM5 108h1v1h-1zM9 108h1v1h-1zM5 109h1v1h-1zM10 109h1v1h-1zM14 109h1v1h-1zM1 110h1v1h-1zM4 110h1v1h-1zM11 110h1v1h-1zM16 110h1v1h-1zM9 111h1v1h-1zM3 112h1v1h-1zM24 112h1v1h-1zM6 113h1v1h-1zM11 114h1v1h-1zM3 115h1v1h-1zM7 115h1v1h-1zM0 116h1v1h-1zM3 116h3v1h-3zM11 117h1v1h-1zM4 118h1v1h-1zM6 118h1v1h-1zM8 118h1v1h-1zM15 118h1v1h-1zM6 119h1v1h-1z"/>
<path fill="#443b84" d="M37 40h1v1h-1zM32 41h1v1h-1zM35 42h1v1h-1zM37 43h1v1h-1zM34 44h1v1h-1zM26 45h1v1h-1zM34 45h1v1h-1zM36 45h1v1h-1zM39 45h1v1h-1zM30 46h2v1h-2zM33 47h1v1h-1zM38 47h1v1h-1zM32 48h1v1h-1zM35 49h2v1h-2zM26 50h1v1h-1zM40 50h1v1h-1zM30 51h1v1h-1zM33 51h1v1h-1zM35 51h1v1h-1zM27 52h2v1h-2zM41 52h1v1h-1zM32 53h1v1h-1zM39 53h1v1h-1zM28 54h1v1h-1zM37 54h1v1h-1zM28 55h1v1h-1zM34 55h1v1h-1zM19 56h1v1h-1zM35 56h1v1h-1zM41 56h1v1h-1zM36 57h2v1h-2zM27 58h2v1h-2zM31 58h1v1h-1zM42 58h1v1h-1zM21 59h1v1h-1zM25 59h1v1h-1zM27 59h1v1h-1zM30 59h1v1h-1zM36 59h1v1h-1zM44 59h1v1h-1zM22 60h1v1h-1zM26 60h1v1h-1zM34 60h1v1h-1zM25 61h1v1h-1zM40 62h1v1h-1zM28 63h1v1h-1zM32 63h1v1h-1zM35 63h1v1h-1zM24 64h1v1h-1zM40 66h1v1h-1zM26 67h1v1h-1zM31 67h1v1h-1zM29 68h1v1h-1zM19 69h1v1h-1zM24 69h1v1h-1zM27 69h1v1h-1zM29 69h2v1h-2zM23 70h1v1h-1zM25 70h1v1h-1zM27 70h1v1h-1zM29 70h1v1h-1zM34 70h1v1h-1zM20 71h2v1h-2zM28 71h1v1h-1zM31 71h1v1h-1zM33 71h1v1h-1zM12 73h1v1h-1zM22 73h1v1h-1zM24 73h1v1h-1zM33 73h2v1h-2zM26 74h1v1h-1zM28 74h1v1h-1zM32 74h1v1h-1zM19 75h2v1h-2zM23 75h1v1h-1zM29 75h1v1h-1zM33 75h2v1h-2zM37 75h1v1h-1zM26 76h1v1h-1zM29 76h1v1h-1zM18 77h1v1h-1zM32 77h1v1h-1zM15 78h2v1h-2zM18 78h1v1h-1zM24 78h1v1h-1zM26 78h1v1h-1zM28 78h1v1h-1zM12 79h2v1h-2zM17 79h1v1h-1zM24 79h1v1h-1zM8 80h1v1h-1zM12 80h1v1h-1zM12 81h1v1h-1zM31 81h1v1h-1zM2 82h1v1h-1zM12 82h1v1h-1zM19 82h2v1h-2zM22 82h1v1h-1zM26 82h1v1h-1zM18 83h1v1h-1zM22 83h3v1h-3zM8 84h1v1h-1zM12 84h2v1h-2zM21 84h1v1h-1zM23 84h1v1h-1zM27 84h1v1h-1zM21 85h1v1h-1zM3 86h1v1h-1zM17 86h1v1h-1zM17 87h1v1h-1zM21 87h3v1h-3zM10 88h2v1h-2zM23 88h1v1h-1zM32 88h1v1h-1zM9 89h1v1h-1zM14 89h1v1h-1zM31 89h1v1h-1zM15 90h1v1h-1zM18 90h1v1h-1zM23 90h1v1h-1zM29 90h1v1h-1zM7 91h1v1h-1zM17 91h1v1h-1zM21 91h1v1h-1zM23 91h1v1h-1zM25 91h1v1h-1zM27 91h1v1h-1zM11 92h1v1h-1zM13 92h1v1h-1zM15 92h1v1h-1zM12 93h1v1h-1zM2 94h1v1h-1zM11 94h1v1h-1zM17 94h1v1h-1zM19 94h1v1h-1zM14 95h1v1h-1zM16 95h1v1h-1zM19 95h1v1h-1zM1 97h1v1h-1zM3 97h1v1h-1zM18 97h2v1h-2zM2 98h1v1h-1zM16 98h1v1h-1zM3 99h1v1h-1zM5 99h1v1h-1zM8 99h1v1h-1zM15 99h1v1h-1zM25 99h1v1h-1zM8 100h1v1h-1zM17 100h1v1h-1zM8 101h1v1h-1zM10 101h2v1h-2zM23 101h1v1h-1zM17 102h1v1h-1zM24 103h1v1h-1zM5 104h1v1h-1zM7 104h1v1h-1zM5 105h1v1h-1zM9 105h1v1h-1zM4 106h1v1h-1zM9 106h1v1h-1zM12 106h1v1h-1zM4 107h1v1h-1zM4 108h1v1h-1zM14 108h1v1h-1zM23 108h1v1h-1zM5 110h1v1h-1zM9 110h2v1h-2zM13 110h1v1h-1zM4 111h2v1h-2zM7 112h1v1h-1zM9 112h1v1h-1zM20 112h1v1h-1zM0 113h2v1h-2zM10 113h1v1h-1zM12 113h1v1h-1zM14 113h1v1h-1zM17 113h1v1h-1zM7 114h1v1h-1zM10 115h1v1h-1zM19 115h1v1h-1zM4 117h1v1h-1zM6 117h1v1h-1zM8 119h1v1h-1z"/>
<path fill="#424086" d="M42 26h1v1h-1zM38 39h1v1h-1zM44 40h1v1h-1zM32 44h1v1h-1zM39 44h1v1h-1zM29 45h1v1h-1zM29 46h1v1h-1zM30 48h1v1h-1zM35 48h1v1h-1zM42 48h1v1h-1zM34 49h1v1h-1zM36 51h1v1h-1zM26 52h1v1h-1zM35 52h1v1h-1zM31 53h1v1h-1zM36 53h1v1h-1zM38 53h1v1h-1zM32 54h1v1h-1zM42 54h1v1h-1zM26 55h1v1h-1zM30 55h1v1h-1zM39 55h2v1h-2zM27 56h1v1h-1zM37 56h1v1h-1zM30 57h1v1h-1zM40 58h1v1h-1zM34 59h2v1h-2zM39 59h1v1h-1zM42 59h1v1h-1zM36 60h2v1h-2zM41 60h1v1h-1zM20 61h1v1h-1zM27 61h1v1h-1zM35 61h1v1h-1zM34 62h1v1h-1zM23 63h2v1h-2zM26 63h1v1h-1zM29 63h1v1h-1zM40 63h1v1h-1zM36 64h1v1h-1zM27 65h1v1h-1zM30 65h2v1h-2zM33 65h1v1h-1zM35 65h1v1h-1zM30 66h1v1h-1zM35 66h2v1h-2zM41 66h1v1h-1zM25 67h1v1h-1zM32 67h2v1h-2zM37 67h1v1h-1zM30 68h2v1h-2zM38 68h1v1h-1zM19 70h1v1h-1zM28 70h1v1h-1zM32 70h1v1h-1zM35 70h1v1h-1zM19 71h1v1h-1zM23 71h1v1h-1zM35 71h1v1h-1zM27 72h1v1h-1zM30 72h1v1h-1zM32 72h1v1h-1zM44 72h1v1h-1zM35 73h1v1h-1zM22 74h1v1h-1zM24 74h1v1h-1zM18 75h1v1h-1zM26 75h1v1h-1zM24 76h1v1h-1zM32 76h2v1h-2zM20 77h1v1h-1zM22 77h1v1h-1zM27 77h1v1h-1zM33 77h1v1h-1zM31 78h1v1h-1zM18 79h1v1h-1zM21 79h1v1h-1zM26 79h1v1h-1zM23 80h1v1h-1zM28 80h2v1h-2zM8 81h1v1h-1zM16 81h1v1h-1zM19 81h2v1h-2zM22 81h1v1h-1zM26 81h1v1h-1zM30 81h1v1h-1zM34 81h1v1h-1zM21 82h1v1h-1zM16 83h2v1h-2zM21 83h1v1h-1zM26 83h1v1h-1zM14 84h1v1h-1zM17 84h3v1h-3zM22 84h1v1h-1zM24 84h1v1h-1zM19 85h1v1h-1zM15 86h1v1h-1zM23 86h1v1h-1zM25 86h1v1h-1zM10 87h1v1h-1zM26 87h1v1h-1zM34 87h1v1h-1zM17 88h2v1h-2zM21 88h1v1h-1zM26 88h2v1h-2zM12 89h2v1h-2zM18 89h1v1h-1zM20 89h1v1h-1zM26 89h1v1h-1zM33 89h1v1h-1zM9 90h1v1h-1zM11 91h1v1h-1zM13 91h1v1h-1zM18 92h1v1h-1zM26 93h1v1h-1zM9 94h1v1h-1zM14 94h1v1h-1zM25 94h1v1h-1zM3 95h1v1h-1zM22 95h1v1h-1zM30 95h1v1h-1zM3 96h1v1h-1zM16 96h1v1h-1zM19 96h1v1h-1zM23 96h1v1h-1zM28 96h1v1h-1zM12 97h1v1h-1zM15 97h2v1h-2zM21 97h1v1h-1zM23 97h1v1h-1zM26 97h1v1h-1zM9 98h1v1h-1zM12 98h1v1h-1zM15 98h1v1h-1zM20 98h1v1h-1zM20 99h1v1h-1zM7 100h1v1h-1zM19 100h2v1h-2zM15 101h2v1h-2zM20 101h1v1h-1zM6 102h1v1h-1zM18 102h3v1h-3zM23 102h1v1h-1zM29 102h1v1h-1zM7 103h1v1h-1zM11 103h1v1h-1zM14 103h1v1h-1zM20 103h1v1h-1zM15 104h1v1h-1zM24 104h1v1h-1zM2 105h1v1h-1zM11 105h1v1h-1zM19 105h1v1h-1zM16 106h1v1h-1zM8 107h1v1h-1zM12 107h1v1h-1zM26 107h1v1h-1zM7 109h1v1h-1zM13 109h1v1h-1zM18 109h1v1h-1zM12 110h1v1h-1zM6 111h1v1h-1zM8 111h1v1h-1zM18 111h1v1h-1zM1 112h2v1h-2zM4 112h1v1h-1zM11 112h1v1h-1zM13 112h1v1h-1zM18 112h1v1h-1zM3 113h1v1h-1zM5 113h1v1h-1zM9 113h1v1h-1zM18 113h1v1h-1zM8 114h1v1h-1zM15 114h1v1h-1zM22 114h1v1h-1zM24 114h1v1h-1zM6 115h1v1h-1zM11 115h1v1h-1zM13 115h1v1h-1zM6 116h1v1h-1zM12 116h2v1h-2zM21 116h1v1h-1zM8 117h1v1h-1zM0 118h1v1h-1zM5 118h1v1h-1zM7 118h1v1h-1zM11 118h1v1h-1zM19 119h1v1h-1z"/>
<path fill="#404588" d="M40 23h1v1h-1zM38 34h1v1h-1zM41 43h1v1h-1zM41 44h1v1h-1zM37 45h1v1h-1zM32 46h1v1h-1zM41 46h1v1h-1zM34 47h1v1h-1zM36 48h1v1h-1zM34 50h1v1h-1zM37 50h1v1h-1zM46 50h1v1h-1zM38 51h1v1h-1zM37 53h1v1h-1zM40 53h1v1h-1zM33 54h1v1h-1zM38 54h1v1h-1zM37 55h1v1h-1zM41 55h1v1h-1zM43 55h1v1h-1zM31 56h2v1h-2zM36 56h1v1h-1zM38 56h1v1h-1zM33 57h1v1h-1zM38 57h1v1h-1zM42 57h1v1h-1zM43 58h1v1h-1zM20 59h1v1h-1zM31 59h1v1h-1zM29 60h1v1h-1zM32 61h1v1h-1zM38 61h1v1h-1zM42 61h1v1h-1zM35 62h1v1h-1zM37 62h1v1h-1zM41 62h2v1h-2zM37 63h2v1h-2zM29 64h1v1h-1zM41 65h1v1h-1zM19 66h1v1h-1zM32 66h1v1h-1zM39 66h1v1h-1zM35 67h1v1h-1zM39 67h1v1h-1zM43 67h1v1h-1zM25 68h1v1h-1zM32 68h1v1h-1zM41 68h1v1h-1zM26 70h1v1h-1zM30 70h2v1h-2zM40 70h1v1h-1zM27 71h1v1h-1zM32 71h1v1h-1zM38 71h1v1h-1zM40 71h1v1h-1zM33 72h4v1h-4zM38 72h1v1h-1zM26 73h4v1h-4zM36 73h1v1h-1zM39 73h1v1h-1zM29 74h3v1h-3zM22 75h1v1h-1zM25 75h1v1h-1zM27 75h1v1h-1zM30 75h1v1h-1zM43 75h1v1h-1zM27 76h1v1h-1zM30 76h2v1h-2zM35 76h1v1h-1zM21 77h1v1h-1zM24 77h1v1h-1zM28 77h1v1h-1zM30 77h1v1h-1zM25 78h1v1h-1zM32 78h1v1h-1zM37 78h2v1h-2zM22 79h2v1h-2zM29 79h1v1h-1zM40 79h2v1h-2zM19 80h1v1h-1zM21 80h1v1h-1zM37 80h1v1h-1zM38 81h1v1h-1zM32 82h1v1h-1zM20 83h1v1h-1zM27 83h2v1h-2zM16 84h1v1h-1zM26 84h1v1h-1zM31 84h1v1h-1zM17 85h1v1h-1zM22 85h1v1h-1zM25 85h1v1h-1zM27 85h1v1h-1zM37 85h1v1h-1zM21 86h2v1h-2zM24 86h1v1h-1zM27 86h2v1h-2zM37 86h1v1h-1zM14 87h1v1h-1zM30 87h1v1h-1zM19 88h2v1h-2zM22 88h1v1h-1zM30 88h1v1h-1zM25 89h1v1h-1zM28 89h1v1h-1zM12 90h1v1h-1zM26 90h1v1h-1zM32 90h1v1h-1zM15 91h1v1h-1zM19 91h1v1h-1zM24 91h1v1h-1zM14 92h1v1h-1zM22 92h1v1h-1zM27 92h1v1h-1zM8 93h1v1h-1zM13 93h1v1h-1zM15 94h1v1h-1zM23 94h1v1h-1zM29 94h1v1h-1zM12 95h1v1h-1zM17 95h1v1h-1zM26 95h1v1h-1zM29 95h1v1h-1zM14 96h1v1h-1zM17 96h1v1h-1zM20 96h1v1h-1zM25 96h1v1h-1zM11 97h1v1h-1zM10 98h1v1h-1zM18 98h1v1h-1zM22 98h2v1h-2zM28 98h1v1h-1zM16 99h3v1h-3zM23 99h2v1h-2zM9 100h1v1h-1zM24 100h1v1h-1zM13 101h2v1h-2zM4 102h1v1h-1zM8 102h1v1h-1zM6 103h1v1h-1zM12 103h2v1h-2zM15 103h1v1h-1zM12 104h1v1h-1zM22 104h1v1h-1zM8 105h1v1h-1zM13 105h1v1h-1zM24 106h1v1h-1zM38 106h1v1h-1zM9 107h1v1h-1zM13 107h2v1h-2zM18 107h1v1h-1zM21 107h1v1h-1zM23 107h1v1h-1zM8 108h1v1h-1zM11 108h1v1h-1zM13 108h1v1h-1zM0 109h1v1h-1zM8 109h2v1h-2zM12 109h1v1h-1zM15 109h1v1h-1zM0 110h1v1h-1zM8 110h1v1h-1zM13 111h1v1h-1zM12 112h1v1h-1zM14 112h1v1h-1zM23 112h1v1h-1zM7 113h1v1h-1zM13 113h1v1h-1zM13 114h1v1h-1zM16 114h1v1h-1zM8 115h2v1h-2zM32 115h1v1h-1zM10 116h1v1h-1zM17 116h1v1h-1zM3 117h1v1h-1zM9 117h1v1h-1zM16 117h1v1h-1zM4 119h1v1h-1zM7 119h1v1h-1zM10 119h1v1h-1zM12 119h1v1h-1z"/>
<path fill="#3e4989" d="M44 28h1v1h-1zM35 34h1v1h-1zM39 36h1v1h-1zM43 41h1v1h-1zM34 46h2v1h-2zM37 46h1v1h-1zM41 47h1v1h-1zM35 50h1v1h-1zM39 51h1v1h-1zM34 52h1v1h-1zM41 53h1v1h-1zM44 53h2v1h-2zM39 54h1v1h-1zM42 55h1v1h-1zM43 56h2v1h-2zM32 58h2v1h-2zM35 58h2v1h-2zM40 60h1v1h-1zM36 61h1v1h-1zM39 61h1v1h-1zM41 61h1v1h-1zM33 62h1v1h-1zM45 62h2v1h-2zM31 63h1v1h-1zM25 64h2v1h-2zM35 64h1v1h-1zM37 65h1v1h-1zM46 65h1v1h-1zM52 65h1v1h-1zM33 66h1v1h-1zM30 67h1v1h-1zM34 67h1v1h-1zM36 67h1v1h-1zM38 67h1v1h-1zM37 68h1v1h-1zM32 69h3v1h-3zM37 69h1v1h-1zM42 69h1v1h-1zM37 70h1v1h-1zM37 71h1v1h-1zM39 71h1v1h-1zM24 72h1v1h-1zM28 72h1v1h-1zM31 72h1v1h-1zM39 72h1v1h-1zM37 73h1v1h-1zM25 74h1v1h-1zM33 74h1v1h-1zM35 74h1v1h-1zM28 75h1v1h-1zM31 75h1v1h-1zM36 75h1v1h-1zM39 75h1v1h-1zM10 76h1v1h-1zM26 77h1v1h-1zM38 77h1v1h-1zM19 78h1v1h-1zM27 78h1v1h-1zM35 78h1v1h-1zM27 79h1v1h-1zM33 79h1v1h-1zM35 79h1v1h-1zM18 80h1v1h-1zM31 80h2v1h-2zM35 80h1v1h-1zM17 81h1v1h-1zM25 81h1v1h-1zM43 81h1v1h-1zM23 82h1v1h-1zM30 82h1v1h-1zM25 83h1v1h-1zM33 83h2v1h-2zM46 83h1v1h-1zM25 84h1v1h-1zM38 84h1v1h-1zM23 85h2v1h-2zM34 85h1v1h-1zM39 85h1v1h-1zM18 86h1v1h-1zM20 86h1v1h-1zM29 86h1v1h-1zM34 86h1v1h-1zM15 87h1v1h-1zM18 87h1v1h-1zM20 87h1v1h-1zM25 87h1v1h-1zM31 87h2v1h-2zM35 87h1v1h-1zM16 88h1v1h-1zM24 88h1v1h-1zM28 88h1v1h-1zM39 88h1v1h-1zM15 89h1v1h-1zM16 90h1v1h-1zM20 90h1v1h-1zM24 90h1v1h-1zM27 90h1v1h-1zM30 90h1v1h-1zM35 90h1v1h-1zM16 91h1v1h-1zM18 91h1v1h-1zM32 91h1v1h-1zM21 92h1v1h-1zM23 92h1v1h-1zM25 92h1v1h-1zM36 92h2v1h-2zM7 93h1v1h-1zM14 93h1v1h-1zM17 93h1v1h-1zM19 93h1v1h-1zM24 93h1v1h-1zM31 93h1v1h-1zM33 93h1v1h-1zM24 94h1v1h-1zM28 94h1v1h-1zM32 94h1v1h-1zM23 95h1v1h-1zM18 96h1v1h-1zM21 96h1v1h-1zM26 96h1v1h-1zM30 96h1v1h-1zM8 97h1v1h-1zM30 97h1v1h-1zM33 97h1v1h-1zM14 98h1v1h-1zM19 98h1v1h-1zM12 99h2v1h-2zM22 99h1v1h-1zM30 99h1v1h-1zM15 100h1v1h-1zM26 100h1v1h-1zM17 101h2v1h-2zM28 101h1v1h-1zM9 102h1v1h-1zM14 102h1v1h-1zM16 102h1v1h-1zM25 102h1v1h-1zM33 102h1v1h-1zM10 103h1v1h-1zM18 103h1v1h-1zM28 103h1v1h-1zM30 103h1v1h-1zM10 104h1v1h-1zM13 104h2v1h-2zM15 105h1v1h-1zM21 105h1v1h-1zM10 106h2v1h-2zM13 106h1v1h-1zM3 107h1v1h-1zM10 107h1v1h-1zM15 107h1v1h-1zM17 107h1v1h-1zM20 107h1v1h-1zM22 107h1v1h-1zM30 107h1v1h-1zM6 108h1v1h-1zM10 108h1v1h-1zM18 108h3v1h-3zM22 108h1v1h-1zM27 108h1v1h-1zM6 109h1v1h-1zM20 109h1v1h-1zM22 109h1v1h-1zM26 109h1v1h-1zM6 110h1v1h-1zM14 110h1v1h-1zM11 111h2v1h-2zM19 111h1v1h-1zM25 111h2v1h-2zM31 111h1v1h-1zM10 112h1v1h-1zM29 112h1v1h-1zM15 113h1v1h-1zM24 113h1v1h-1zM6 114h1v1h-1zM9 114h2v1h-2zM15 115h1v1h-1zM18 115h1v1h-1zM22 115h1v1h-1zM31 115h1v1h-1zM7 116h3v1h-3zM11 116h1v1h-1zM16 116h1v1h-1zM19 116h1v1h-1zM10 117h1v1h-1zM14 117h1v1h-1zM10 118h1v1h-1zM12 118h1v1h-1zM17 118h1v1h-1zM19 118h1v1h-1zM23 118h1v1h-1zM9 119h1v1h-1zM14 119h1v1h-1zM18 119h1v1h-1zM24 119h1v1h-1z"/>
<path fill="#3d4e8a" d="M41 22h1v1h-1zM45 33h1v1h-1zM48 35h1v1h-1zM39 40h1v1h-1zM45 42h1v1h-1zM43 44h1v1h-1zM48 44h1v1h-1zM44 45h1v1h-1zM43 46h1v1h-1zM45 50h1v1h-1zM50 50h1v1h-1zM37 51h1v1h-1zM42 52h1v1h-1zM44 52h1v1h-1zM46 53h1v1h-1zM45 54h1v1h-1zM39 56h2v1h-2zM42 56h1v1h-1zM40 57h1v1h-1zM44 57h2v1h-2zM37 58h1v1h-1zM39 58h1v1h-1zM41 58h1v1h-1zM45 58h1v1h-1zM47 58h1v1h-1zM43 59h1v1h-1zM35 60h1v1h-1zM48 60h1v1h-1zM51 60h1v1h-1zM37 61h1v1h-1zM32 62h1v1h-1zM34 63h1v1h-1zM32 64h1v1h-1zM38 64h1v1h-1zM41 64h1v1h-1zM49 64h1v1h-1zM34 65h1v1h-1zM39 65h1v1h-1zM22 66h1v1h-1zM24 66h1v1h-1zM27 66h1v1h-1zM31 66h1v1h-1zM46 66h1v1h-1zM49 66h1v1h-1zM27 67h1v1h-1zM33 68h1v1h-1zM31 69h1v1h-1zM35 69h1v1h-1zM41 70h1v1h-1zM41 71h1v1h-1zM26 72h1v1h-1zM42 72h1v1h-1zM23 73h1v1h-1zM40 73h1v1h-1zM46 74h1v1h-1zM32 75h1v1h-1zM40 75h1v1h-1zM42 75h1v1h-1zM28 76h1v1h-1zM36 76h2v1h-2zM29 77h1v1h-1zM25 79h1v1h-1zM28 79h1v1h-1zM30 79h1v1h-1zM34 79h1v1h-1zM24 80h2v1h-2zM27 80h1v1h-1zM27 81h1v1h-1zM35 81h3v1h-3zM39 81h1v1h-1zM29 82h1v1h-1zM31 82h1v1h-1zM35 82h1v1h-1zM30 83h2v1h-2zM26 85h1v1h-1zM29 85h1v1h-1zM32 85h1v1h-1zM40 85h1v1h-1zM42 85h1v1h-1zM26 86h1v1h-1zM40 86h1v1h-1zM19 87h1v1h-1zM24 87h1v1h-1zM15 88h1v1h-1zM25 88h1v1h-1zM31 88h1v1h-1zM35 88h1v1h-1zM23 89h1v1h-1zM35 89h1v1h-1zM19 90h1v1h-1zM22 90h1v1h-1zM31 90h1v1h-1zM34 90h1v1h-1zM22 91h1v1h-1zM26 91h1v1h-1zM29 91h1v1h-1zM34 91h1v1h-1zM16 92h1v1h-1zM20 92h1v1h-1zM26 92h1v1h-1zM28 92h1v1h-1zM30 92h1v1h-1zM40 92h1v1h-1zM16 93h1v1h-1zM20 93h1v1h-1zM22 93h1v1h-1zM28 93h1v1h-1zM34 93h1v1h-1zM18 94h1v1h-1zM30 94h2v1h-2zM33 94h1v1h-1zM15 95h1v1h-1zM21 95h1v1h-1zM24 95h1v1h-1zM28 95h1v1h-1zM27 96h1v1h-1zM17 97h1v1h-1zM24 97h1v1h-1zM31 97h1v1h-1zM35 97h1v1h-1zM13 98h1v1h-1zM21 98h1v1h-1zM24 98h2v1h-2zM27 98h1v1h-1zM32 98h1v1h-1zM19 99h1v1h-1zM26 99h1v1h-1zM29 99h1v1h-1zM16 100h1v1h-1zM29 100h1v1h-1zM34 100h1v1h-1zM36 100h1v1h-1zM24 101h1v1h-1zM31 101h1v1h-1zM35 101h1v1h-1zM13 102h1v1h-1zM22 102h1v1h-1zM24 102h1v1h-1zM36 102h1v1h-1zM38 102h1v1h-1zM19 103h1v1h-1zM23 103h1v1h-1zM26 103h2v1h-2zM16 104h1v1h-1zM19 104h2v1h-2zM23 104h1v1h-1zM30 104h2v1h-2zM16 105h2v1h-2zM20 105h1v1h-1zM22 105h3v1h-3zM14 106h1v1h-1zM17 106h1v1h-1zM19 106h2v1h-2zM11 107h1v1h-1zM19 107h1v1h-1zM32 107h1v1h-1zM41 107h1v1h-1zM44 107h1v1h-1zM28 108h1v1h-1zM32 108h1v1h-1zM34 108h1v1h-1zM16 109h1v1h-1zM24 109h1v1h-1zM22 110h1v1h-1zM24 110h1v1h-1zM27 110h2v1h-2zM10 111h1v1h-1zM15 111h1v1h-1zM17 111h1v1h-1zM21 111h2v1h-2zM6 112h1v1h-1zM15 112h2v1h-2zM21 112h1v1h-1zM16 113h1v1h-1zM27 113h2v1h-2zM17 114h1v1h-1zM19 114h1v1h-1zM23 114h1v1h-1zM33 114h1v1h-1zM12 115h1v1h-1zM14 115h1v1h-1zM16 115h1v1h-1zM20 115h1v1h-1zM23 116h2v1h-2zM35 116h1v1h-1zM19 117h1v1h-1zM21 117h1v1h-1zM13 118h2v1h-2zM21 118h1v1h-1zM27 118h1v1h-1zM29 118h1v1h-1zM0 119h1v1h-1zM11 119h1v1h-1zM15 119h1v1h-1z"/>
<path fill="#3a538b" d="M41 24h1v1h-1zM43 27h1v1h-1zM47 38h1v1h-1zM40 40h1v1h-1zM44 42h1v1h-1zM43 45h1v1h-1zM51 46h1v1h-1zM38 48h1v1h-1zM43 50h1v1h-1zM34 53h1v1h-1zM42 53h1v1h-1zM47 53h1v1h-1zM45 56h2v1h-2zM28 59h1v1h-1zM38 59h1v1h-1zM39 60h1v1h-1zM42 60h1v1h-1zM31 61h1v1h-1zM33 61h1v1h-1zM44 61h1v1h-1zM51 61h1v1h-1zM38 62h1v1h-1zM43 62h1v1h-1zM39 63h1v1h-1zM43 63h1v1h-1zM50 63h1v1h-1zM39 64h1v1h-1zM44 64h1v1h-1zM36 65h1v1h-1zM40 65h1v1h-1zM47 65h1v1h-1zM40 67h1v1h-1zM45 67h1v1h-1zM47 67h1v1h-1zM34 68h1v1h-1zM39 68h1v1h-1zM42 68h1v1h-1zM45 68h1v1h-1zM38 69h2v1h-2zM45 69h1v1h-1zM36 70h1v1h-1zM39 70h1v1h-1zM30 71h1v1h-1zM36 71h1v1h-1zM46 71h1v1h-1zM50 71h1v1h-1zM41 72h1v1h-1zM31 73h1v1h-1zM41 73h2v1h-2zM34 74h1v1h-1zM40 74h1v1h-1zM42 74h2v1h-2zM44 75h1v1h-1zM46 75h2v1h-2zM39 76h1v1h-1zM42 76h1v1h-1zM44 76h1v1h-1zM37 77h1v1h-1zM42 77h1v1h-1zM45 77h1v1h-1zM29 78h2v1h-2zM34 78h1v1h-1zM42 78h2v1h-2zM32 79h1v1h-1zM43 79h1v1h-1zM26 80h1v1h-1zM30 80h1v1h-1zM40 80h2v1h-2zM23 81h2v1h-2zM28 81h1v1h-1zM33 81h1v1h-1zM28 82h1v1h-1zM34 82h1v1h-1zM37 82h1v1h-1zM39 82h1v1h-1zM43 82h1v1h-1zM35 83h1v1h-1zM37 83h1v1h-1zM39 83h1v1h-1zM30 84h1v1h-1zM32 84h1v1h-1zM34 84h3v1h-3zM40 84h1v1h-1zM28 85h1v1h-1zM33 85h1v1h-1zM48 85h1v1h-1zM39 86h1v1h-1zM47 86h1v1h-1zM29 87h1v1h-1zM37 87h1v1h-1zM33 88h1v1h-1zM36 88h1v1h-1zM21 89h1v1h-1zM21 90h1v1h-1zM36 90h1v1h-1zM39 90h1v1h-1zM28 91h1v1h-1zM30 91h1v1h-1zM36 91h1v1h-1zM39 91h1v1h-1zM24 92h1v1h-1zM31 92h1v1h-1zM39 92h1v1h-1zM35 93h1v1h-1zM37 93h2v1h-2zM20 94h2v1h-2zM27 94h1v1h-1zM36 94h1v1h-1zM45 94h1v1h-1zM25 95h1v1h-1zM27 95h1v1h-1zM31 95h2v1h-2zM24 96h1v1h-1zM29 96h1v1h-1zM20 97h1v1h-1zM25 97h1v1h-1zM27 97h3v1h-3zM34 97h1v1h-1zM31 98h1v1h-1zM34 98h1v1h-1zM41 98h1v1h-1zM33 99h1v1h-1zM13 100h1v1h-1zM21 100h1v1h-1zM23 100h1v1h-1zM25 100h1v1h-1zM31 100h1v1h-1zM33 100h1v1h-1zM37 100h1v1h-1zM39 100h1v1h-1zM19 101h1v1h-1zM26 101h1v1h-1zM29 101h1v1h-1zM32 101h1v1h-1zM34 101h1v1h-1zM41 101h1v1h-1zM28 102h1v1h-1zM30 102h1v1h-1zM34 102h1v1h-1zM37 102h1v1h-1zM34 103h1v1h-1zM28 104h1v1h-1zM35 104h1v1h-1zM25 105h1v1h-1zM28 105h2v1h-2zM22 106h1v1h-1zM26 106h1v1h-1zM32 106h1v1h-1zM16 107h1v1h-1zM24 107h2v1h-2zM31 107h1v1h-1zM12 108h1v1h-1zM16 108h2v1h-2zM21 108h1v1h-1zM17 109h1v1h-1zM23 109h1v1h-1zM36 109h1v1h-1zM15 110h1v1h-1zM17 110h1v1h-1zM19 110h1v1h-1zM23 110h1v1h-1zM7 111h1v1h-1zM14 111h1v1h-1zM24 111h1v1h-1zM36 111h1v1h-1zM22 112h1v1h-1zM25 112h2v1h-2zM37 112h1v1h-1zM41 112h1v1h-1zM11 113h1v1h-1zM23 113h1v1h-1zM12 114h1v1h-1zM14 114h1v1h-1zM25 114h1v1h-1zM28 114h1v1h-1zM25 115h1v1h-1zM14 116h2v1h-2zM20 116h1v1h-1zM30 116h1v1h-1zM38 116h1v1h-1zM12 117h1v1h-1zM20 117h1v1h-1zM22 117h1v1h-1zM26 117h1v1h-1zM33 117h1v1h-1zM18 118h1v1h-1zM20 118h1v1h-1zM24 118h1v1h-1zM13 119h1v1h-1zM23 119h1v1h-1zM26 119h1v1h-1z"/>
<path fill="#38588c" d="M42 24h1v1h-1zM41 25h2v1h-2zM43 28h1v1h-1zM46 30h1v1h-1zM46 34h1v1h-1zM48 38h1v1h-1zM48 40h1v1h-1zM52 41h1v1h-1zM49 43h1v1h-1zM51 45h1v1h-1zM45 47h1v1h-1zM39 48h1v1h-1zM47 49h1v1h-1zM48 53h1v1h-1zM54 53h1v1h-1zM44 55h1v1h-1zM46 55h1v1h-1zM47 56h1v1h-1zM46 57h1v1h-1zM49 57h1v1h-1zM34 58h1v1h-1zM45 59h2v1h-2zM52 59h1v1h-1zM43 61h1v1h-1zM48 61h1v1h-1zM44 62h1v1h-1zM42 63h1v1h-1zM44 63h1v1h-1zM42 64h1v1h-1zM46 64h1v1h-1zM38 65h1v1h-1zM45 65h1v1h-1zM48 65h1v1h-1zM37 66h1v1h-1zM44 67h1v1h-1zM46 68h1v1h-1zM40 69h2v1h-2zM43 69h1v1h-1zM46 69h1v1h-1zM42 70h1v1h-1zM49 70h1v1h-1zM29 71h1v1h-1zM42 71h1v1h-1zM45 71h1v1h-1zM37 72h1v1h-1zM38 73h1v1h-1zM43 73h1v1h-1zM45 73h1v1h-1zM37 74h3v1h-3zM35 75h1v1h-1zM38 75h1v1h-1zM41 75h1v1h-1zM34 76h1v1h-1zM52 76h1v1h-1zM31 77h1v1h-1zM35 77h1v1h-1zM41 77h1v1h-1zM36 78h1v1h-1zM41 78h1v1h-1zM45 78h1v1h-1zM37 79h2v1h-2zM44 79h1v1h-1zM38 80h1v1h-1zM42 80h1v1h-1zM29 81h1v1h-1zM40 81h1v1h-1zM44 81h1v1h-1zM29 83h1v1h-1zM33 84h1v1h-1zM44 84h1v1h-1zM20 85h1v1h-1zM31 85h1v1h-1zM35 85h2v1h-2zM32 86h2v1h-2zM35 86h2v1h-2zM38 86h1v1h-1zM41 86h1v1h-1zM44 86h2v1h-2zM49 86h1v1h-1zM27 87h1v1h-1zM40 87h1v1h-1zM34 88h1v1h-1zM41 88h1v1h-1zM30 89h1v1h-1zM32 89h1v1h-1zM36 89h2v1h-2zM39 89h1v1h-1zM31 91h1v1h-1zM38 91h1v1h-1zM45 91h1v1h-1zM32 92h2v1h-2zM35 92h1v1h-1zM48 92h1v1h-1zM21 93h1v1h-1zM29 93h2v1h-2zM40 93h2v1h-2zM47 93h1v1h-1zM35 94h1v1h-1zM33 95h3v1h-3zM38 95h2v1h-2zM39 96h1v1h-1zM42 96h1v1h-1zM44 96h1v1h-1zM22 97h1v1h-1zM32 97h1v1h-1zM17 98h1v1h-1zM30 98h1v1h-1zM27 99h1v1h-1zM34 99h1v1h-1zM41 99h1v1h-1zM21 101h2v1h-2zM25 101h1v1h-1zM27 101h1v1h-1zM30 101h1v1h-1zM26 102h1v1h-1zM31 102h1v1h-1zM17 103h1v1h-1zM21 103h1v1h-1zM29 103h1v1h-1zM39 103h1v1h-1zM17 104h1v1h-1zM29 104h1v1h-1zM32 104h1v1h-1zM41 104h1v1h-1zM14 105h1v1h-1zM18 105h1v1h-1zM27 105h1v1h-1zM34 105h1v1h-1zM46 105h1v1h-1zM18 106h1v1h-1zM21 106h1v1h-1zM28 106h1v1h-1zM30 106h1v1h-1zM27 107h1v1h-1zM31 108h1v1h-1zM27 109h1v1h-1zM29 109h1v1h-1zM34 109h1v1h-1zM18 110h1v1h-1zM20 110h1v1h-1zM16 111h1v1h-1zM27 111h1v1h-1zM30 111h1v1h-1zM37 111h1v1h-1zM17 112h1v1h-1zM31 112h2v1h-2zM39 112h1v1h-1zM19 113h2v1h-2zM34 113h1v1h-1zM20 114h2v1h-2zM26 114h2v1h-2zM32 114h1v1h-1zM17 115h1v1h-1zM21 115h1v1h-1zM24 115h1v1h-1zM26 115h1v1h-1zM28 115h1v1h-1zM39 115h1v1h-1zM44 115h1v1h-1zM18 116h1v1h-1zM22 116h1v1h-1zM26 116h2v1h-2zM31 116h1v1h-1zM17 117h2v1h-2zM23 117h2v1h-2zM30 117h1v1h-1zM38 117h1v1h-1zM28 118h1v1h-1zM30 118h1v1h-1zM16 119h1v1h-1zM20 119h1v1h-1zM22 119h1v1h-1zM25 119h1v1h-1zM29 119h1v1h-1zM33 119h1v1h-1z"/>
<path fill="#365c8d" d="M45 29h1v1h-1zM45 30h1v1h-1zM45 32h1v1h-1zM46 33h1v1h-1zM55 33h1v1h-1zM58 33h1v1h-1zM51 38h1v1h-1zM56 38h1v1h-1zM49 39h1v1h-1zM50 43h1v1h-1zM49 44h1v1h-1zM49 51h1v1h-1zM53 52h1v1h-1zM50 53h1v1h-1zM43 54h1v1h-1zM47 54h1v1h-1zM46 58h1v1h-1zM43 60h1v1h-1zM50 60h1v1h-1zM53 60h1v1h-1zM46 61h1v1h-1zM49 61h1v1h-1zM45 63h1v1h-1zM51 64h1v1h-1zM44 65h1v1h-1zM43 66h3v1h-3zM55 66h1v1h-1zM42 67h1v1h-1zM46 67h1v1h-1zM40 68h1v1h-1zM48 68h2v1h-2zM36 69h1v1h-1zM49 69h1v1h-1zM43 70h1v1h-1zM46 70h1v1h-1zM44 71h1v1h-1zM48 71h1v1h-1zM40 72h1v1h-1zM49 72h1v1h-1zM36 74h1v1h-1zM45 75h1v1h-1zM45 76h2v1h-2zM48 76h1v1h-1zM46 77h2v1h-2zM39 78h2v1h-2zM44 78h1v1h-1zM42 79h1v1h-1zM49 79h1v1h-1zM44 80h3v1h-3zM21 81h1v1h-1zM32 81h1v1h-1zM41 81h1v1h-1zM36 82h1v1h-1zM38 82h1v1h-1zM40 82h3v1h-3zM44 82h1v1h-1zM38 83h1v1h-1zM41 83h1v1h-1zM44 83h1v1h-1zM41 84h1v1h-1zM43 84h1v1h-1zM47 84h1v1h-1zM30 85h1v1h-1zM41 85h1v1h-1zM30 86h1v1h-1zM38 87h1v1h-1zM41 87h1v1h-1zM43 87h1v1h-1zM24 89h1v1h-1zM27 89h1v1h-1zM34 89h1v1h-1zM41 89h1v1h-1zM28 90h1v1h-1zM37 90h1v1h-1zM33 91h1v1h-1zM35 91h1v1h-1zM40 91h1v1h-1zM43 91h1v1h-1zM47 91h1v1h-1zM38 92h1v1h-1zM41 92h1v1h-1zM25 93h1v1h-1zM36 93h1v1h-1zM39 94h3v1h-3zM42 95h1v1h-1zM44 95h1v1h-1zM31 96h1v1h-1zM36 96h2v1h-2zM36 97h1v1h-1zM29 98h1v1h-1zM33 98h1v1h-1zM36 98h1v1h-1zM38 98h1v1h-1zM21 99h1v1h-1zM28 100h1v1h-1zM32 100h1v1h-1zM38 100h1v1h-1zM33 101h1v1h-1zM37 101h1v1h-1zM39 101h1v1h-1zM10 102h1v1h-1zM21 102h1v1h-1zM32 102h1v1h-1zM35 102h1v1h-1zM42 102h1v1h-1zM22 103h1v1h-1zM31 103h1v1h-1zM35 103h1v1h-1zM38 103h1v1h-1zM40 103h1v1h-1zM43 103h1v1h-1zM18 104h1v1h-1zM21 104h1v1h-1zM43 104h1v1h-1zM10 105h1v1h-1zM30 105h1v1h-1zM44 105h1v1h-1zM31 106h1v1h-1zM33 106h1v1h-1zM36 106h1v1h-1zM28 107h2v1h-2zM39 107h1v1h-1zM15 108h1v1h-1zM24 108h1v1h-1zM26 108h1v1h-1zM29 108h1v1h-1zM33 108h1v1h-1zM35 108h1v1h-1zM38 108h1v1h-1zM19 109h1v1h-1zM25 109h1v1h-1zM31 109h1v1h-1zM40 109h1v1h-1zM43 109h1v1h-1zM21 110h1v1h-1zM26 110h1v1h-1zM20 111h1v1h-1zM28 111h2v1h-2zM34 111h1v1h-1zM8 112h1v1h-1zM19 112h1v1h-1zM34 112h1v1h-1zM40 112h1v1h-1zM21 113h1v1h-1zM30 113h1v1h-1zM18 114h1v1h-1zM34 114h1v1h-1zM37 114h2v1h-2zM34 115h1v1h-1zM40 115h2v1h-2zM32 116h1v1h-1zM43 116h1v1h-1zM47 116h1v1h-1zM15 117h1v1h-1zM28 117h1v1h-1zM31 117h1v1h-1zM36 117h1v1h-1zM41 117h1v1h-1zM22 118h1v1h-1zM25 118h2v1h-2zM33 118h1v1h-1zM17 119h1v1h-1zM27 119h1v1h-1zM31 119h1v1h-1zM37 119h2v1h-2z"/>
<path fill="#34608d" d="M43 26h1v1h-1zM44 29h1v1h-1zM46 32h1v1h-1zM47 33h1v1h-1zM61 35h1v1h-1zM52 37h1v1h-1zM57 40h1v1h-1zM49 41h2v1h-2zM48 42h1v1h-1zM50 44h1v1h-1zM46 46h1v1h-1zM44 47h1v1h-1zM46 52h1v1h-1zM48 52h1v1h-1zM51 53h1v1h-1zM51 55h1v1h-1zM50 56h1v1h-1zM52 56h2v1h-2zM48 58h1v1h-1zM46 60h1v1h-1zM47 61h1v1h-1zM52 61h1v1h-1zM47 62h1v1h-1zM51 62h1v1h-1zM47 63h2v1h-2zM48 64h1v1h-1zM50 64h1v1h-1zM53 65h1v1h-1zM47 66h1v1h-1zM54 66h1v1h-1zM49 67h1v1h-1zM44 68h1v1h-1zM51 68h1v1h-1zM45 72h2v1h-2zM51 72h1v1h-1zM46 73h2v1h-2zM41 74h1v1h-1zM38 76h1v1h-1zM41 76h1v1h-1zM43 76h1v1h-1zM36 77h1v1h-1zM39 77h2v1h-2zM43 77h1v1h-1zM46 78h2v1h-2zM36 80h1v1h-1zM25 82h1v1h-1zM33 82h1v1h-1zM45 82h2v1h-2zM48 82h1v1h-1zM40 83h1v1h-1zM28 84h1v1h-1zM37 84h1v1h-1zM42 84h1v1h-1zM49 84h1v1h-1zM43 85h3v1h-3zM31 86h1v1h-1zM33 87h1v1h-1zM36 87h1v1h-1zM38 88h1v1h-1zM40 88h1v1h-1zM44 88h1v1h-1zM38 89h1v1h-1zM42 89h1v1h-1zM38 90h1v1h-1zM41 91h2v1h-2zM29 92h1v1h-1zM34 92h1v1h-1zM45 92h1v1h-1zM27 93h1v1h-1zM43 93h2v1h-2zM26 94h1v1h-1zM37 94h1v1h-1zM50 94h1v1h-1zM36 95h1v1h-1zM41 95h1v1h-1zM43 95h1v1h-1zM35 96h1v1h-1zM41 96h1v1h-1zM49 96h1v1h-1zM37 97h1v1h-1zM39 97h2v1h-2zM47 97h1v1h-1zM35 98h1v1h-1zM37 98h1v1h-1zM40 98h1v1h-1zM31 99h2v1h-2zM36 99h1v1h-1zM38 99h1v1h-1zM27 100h1v1h-1zM35 100h1v1h-1zM40 100h2v1h-2zM48 100h1v1h-1zM43 102h1v1h-1zM16 103h1v1h-1zM32 103h1v1h-1zM36 103h2v1h-2zM36 104h1v1h-1zM38 104h2v1h-2zM42 104h1v1h-1zM45 104h1v1h-1zM32 105h1v1h-1zM27 106h1v1h-1zM29 106h1v1h-1zM39 106h1v1h-1zM33 107h1v1h-1zM37 107h1v1h-1zM39 108h3v1h-3zM21 109h1v1h-1zM28 109h1v1h-1zM30 109h1v1h-1zM35 109h1v1h-1zM37 109h3v1h-3zM25 110h1v1h-1zM29 110h1v1h-1zM31 110h1v1h-1zM37 110h2v1h-2zM40 110h1v1h-1zM42 110h1v1h-1zM23 111h1v1h-1zM33 111h1v1h-1zM39 111h1v1h-1zM27 112h2v1h-2zM30 112h1v1h-1zM36 112h1v1h-1zM47 112h1v1h-1zM22 113h1v1h-1zM25 113h2v1h-2zM29 113h1v1h-1zM32 113h2v1h-2zM36 113h2v1h-2zM31 114h1v1h-1zM35 114h1v1h-1zM39 114h1v1h-1zM46 114h1v1h-1zM38 115h1v1h-1zM50 115h1v1h-1zM25 116h1v1h-1zM28 116h2v1h-2zM33 116h2v1h-2zM39 116h1v1h-1zM41 116h1v1h-1zM27 117h1v1h-1zM37 117h1v1h-1zM16 118h1v1h-1zM37 118h2v1h-2zM41 118h1v1h-1zM43 118h1v1h-1zM21 119h1v1h-1zM30 119h1v1h-1zM32 119h1v1h-1zM34 119h2v1h-2zM40 119h1v1h-1z"/>
<path fill="#32648e" d="M56 32h1v1h-1zM47 36h1v1h-1zM55 36h1v1h-1zM57 36h1v1h-1zM49 37h1v1h-1zM49 38h1v1h-1zM53 38h1v1h-1zM50 39h2v1h-2zM49 40h1v1h-1zM52 40h1v1h-1zM50 42h1v1h-1zM51 43h1v1h-1zM53 47h1v1h-1zM45 48h1v1h-1zM48 48h1v1h-1zM54 48h1v1h-1zM51 50h1v1h-1zM55 51h1v1h-1zM50 54h2v1h-2zM47 55h1v1h-1zM49 55h1v1h-1zM52 55h2v1h-2zM55 55h2v1h-2zM55 56h1v1h-1zM47 57h1v1h-1zM52 57h1v1h-1zM53 59h1v1h-1zM48 62h1v1h-1zM50 62h1v1h-1zM52 62h1v1h-1zM54 62h1v1h-1zM51 63h1v1h-1zM53 63h1v1h-1zM43 64h1v1h-1zM42 65h1v1h-1zM49 65h1v1h-1zM51 65h1v1h-1zM50 67h1v1h-1zM47 68h1v1h-1zM52 68h1v1h-1zM45 70h1v1h-1zM47 70h2v1h-2zM50 70h1v1h-1zM43 71h1v1h-1zM49 71h1v1h-1zM51 71h1v1h-1zM48 72h1v1h-1zM50 72h1v1h-1zM45 74h1v1h-1zM48 74h2v1h-2zM50 75h2v1h-2zM40 76h1v1h-1zM34 77h1v1h-1zM50 77h1v1h-1zM49 78h2v1h-2zM53 78h1v1h-1zM39 79h1v1h-1zM47 80h1v1h-1zM49 80h2v1h-2zM42 81h1v1h-1zM48 81h2v1h-2zM42 83h1v1h-1zM39 84h1v1h-1zM50 84h1v1h-1zM38 85h1v1h-1zM47 85h1v1h-1zM50 85h1v1h-1zM39 87h1v1h-1zM50 87h1v1h-1zM29 88h1v1h-1zM29 89h1v1h-1zM44 89h1v1h-1zM46 89h2v1h-2zM52 89h1v1h-1zM43 90h1v1h-1zM37 91h1v1h-1zM44 91h1v1h-1zM43 92h1v1h-1zM39 93h1v1h-1zM42 93h1v1h-1zM48 93h1v1h-1zM38 94h1v1h-1zM46 94h1v1h-1zM48 94h1v1h-1zM40 95h1v1h-1zM32 96h3v1h-3zM38 96h1v1h-1zM52 96h1v1h-1zM38 97h1v1h-1zM48 97h1v1h-1zM26 98h1v1h-1zM42 98h1v1h-1zM46 98h1v1h-1zM28 99h1v1h-1zM40 99h1v1h-1zM44 99h1v1h-1zM51 99h1v1h-1zM30 100h1v1h-1zM46 100h1v1h-1zM38 101h1v1h-1zM40 101h1v1h-1zM44 101h1v1h-1zM47 101h1v1h-1zM50 101h1v1h-1zM39 102h1v1h-1zM33 103h1v1h-1zM47 103h1v1h-1zM26 104h2v1h-2zM37 104h1v1h-1zM40 104h1v1h-1zM33 105h1v1h-1zM35 105h1v1h-1zM37 105h1v1h-1zM23 106h1v1h-1zM25 106h1v1h-1zM35 106h1v1h-1zM37 106h1v1h-1zM35 107h1v1h-1zM38 107h1v1h-1zM40 107h1v1h-1zM30 108h1v1h-1zM36 108h2v1h-2zM42 108h1v1h-1zM33 110h1v1h-1zM35 110h1v1h-1zM35 111h1v1h-1zM38 111h1v1h-1zM41 111h1v1h-1zM38 112h1v1h-1zM38 113h3v1h-3zM30 114h1v1h-1zM36 114h1v1h-1zM41 114h1v1h-1zM49 114h1v1h-1zM30 115h1v1h-1zM42 115h1v1h-1zM45 115h1v1h-1zM40 116h1v1h-1zM46 116h1v1h-1zM25 117h1v1h-1zM29 117h1v1h-1zM32 117h1v1h-1zM35 117h1v1h-1zM45 117h1v1h-1zM31 118h2v1h-2zM35 118h1v1h-1zM39 118h2v1h-2zM46 118h1v1h-1zM48 118h1v1h-1zM39 119h1v1h-1zM41 119h2v1h-2zM44 119h1v1h-1z"/>
<path fill="#31688e" d="M58 25h1v1h-1zM47 34h1v1h-1zM55 34h1v1h-1zM61 34h1v1h-1zM46 35h1v1h-1zM56 35h1v1h-1zM54 36h1v1h-1zM52 38h1v1h-1zM52 39h1v1h-1zM54 39h1v1h-1zM51 40h1v1h-1zM55 40h1v1h-1zM51 41h1v1h-1zM54 41h1v1h-1zM49 42h1v1h-1zM56 44h1v1h-1zM49 45h1v1h-1zM52 45h1v1h-1zM52 46h1v1h-1zM54 46h2v1h-2zM55 47h1v1h-1zM52 50h1v1h-1zM48 51h1v1h-1zM51 52h1v1h-1zM46 54h1v1h-1zM48 55h1v1h-1zM54 55h1v1h-1zM51 56h1v1h-1zM48 57h1v1h-1zM49 58h1v1h-1zM55 59h1v1h-1zM54 60h1v1h-1zM55 61h1v1h-1zM49 62h1v1h-1zM55 62h1v1h-1zM48 66h1v1h-1zM51 66h1v1h-1zM52 69h1v1h-1zM52 71h1v1h-1zM50 73h1v1h-1zM44 74h1v1h-1zM47 74h1v1h-1zM50 74h1v1h-1zM52 74h1v1h-1zM49 75h1v1h-1zM54 75h1v1h-1zM44 77h1v1h-1zM48 77h1v1h-1zM51 78h1v1h-1zM46 79h2v1h-2zM52 79h1v1h-1zM39 80h1v1h-1zM43 80h1v1h-1zM43 83h1v1h-1zM51 83h1v1h-1zM48 84h1v1h-1zM52 84h1v1h-1zM51 85h1v1h-1zM42 87h1v1h-1zM46 87h1v1h-1zM48 87h1v1h-1zM51 87h2v1h-2zM42 88h1v1h-1zM52 88h1v1h-1zM40 89h1v1h-1zM33 90h1v1h-1zM40 90h1v1h-1zM42 90h1v1h-1zM45 90h1v1h-1zM47 90h1v1h-1zM50 90h1v1h-1zM46 91h1v1h-1zM42 92h1v1h-1zM47 92h1v1h-1zM45 93h1v1h-1zM34 94h1v1h-1zM37 95h1v1h-1zM48 96h1v1h-1zM53 96h1v1h-1zM44 97h1v1h-1zM46 97h1v1h-1zM43 98h1v1h-1zM37 99h1v1h-1zM39 99h1v1h-1zM44 100h2v1h-2zM50 100h1v1h-1zM42 101h1v1h-1zM51 101h1v1h-1zM40 102h2v1h-2zM48 102h2v1h-2zM25 103h1v1h-1zM44 103h1v1h-1zM33 104h1v1h-1zM51 104h1v1h-1zM26 105h1v1h-1zM31 105h1v1h-1zM36 105h1v1h-1zM39 105h2v1h-2zM34 106h1v1h-1zM46 106h1v1h-1zM50 106h2v1h-2zM25 108h1v1h-1zM32 109h1v1h-1zM42 109h1v1h-1zM49 109h1v1h-1zM30 110h1v1h-1zM36 110h1v1h-1zM39 110h1v1h-1zM32 111h1v1h-1zM42 111h1v1h-1zM50 111h1v1h-1zM33 112h1v1h-1zM35 112h1v1h-1zM46 112h1v1h-1zM31 113h1v1h-1zM41 113h3v1h-3zM40 114h1v1h-1zM43 114h1v1h-1zM47 114h1v1h-1zM29 115h1v1h-1zM36 115h1v1h-1zM36 116h1v1h-1zM34 117h1v1h-1zM36 118h1v1h-1zM47 118h1v1h-1zM48 119h1v1h-1z"/>
<path fill="#2f6c8e" d="M57 28h1v1h-1zM57 29h1v1h-1zM57 35h1v1h-1zM49 36h1v1h-1zM48 37h1v1h-1zM55 38h1v1h-1zM59 40h1v1h-1zM58 43h1v1h-1zM53 44h1v1h-1zM59 45h1v1h-1zM49 46h1v1h-1zM59 46h1v1h-1zM52 48h1v1h-1zM51 49h1v1h-1zM55 49h2v1h-2zM51 51h1v1h-1zM53 51h1v1h-1zM49 52h1v1h-1zM54 52h1v1h-1zM58 52h1v1h-1zM57 53h1v1h-1zM53 54h1v1h-1zM57 54h1v1h-1zM55 57h1v1h-1zM51 58h1v1h-1zM47 60h1v1h-1zM49 60h1v1h-1zM54 65h1v1h-1zM56 65h1v1h-1zM53 67h1v1h-1zM48 69h1v1h-1zM50 69h2v1h-2zM43 72h1v1h-1zM44 73h1v1h-1zM56 73h1v1h-1zM51 74h1v1h-1zM50 76h1v1h-1zM53 77h1v1h-1zM45 79h1v1h-1zM56 79h1v1h-1zM52 80h1v1h-1zM46 81h1v1h-1zM52 81h1v1h-1zM50 82h1v1h-1zM36 83h1v1h-1zM45 83h1v1h-1zM55 83h1v1h-1zM55 85h1v1h-1zM42 86h1v1h-1zM48 86h1v1h-1zM50 86h1v1h-1zM41 90h1v1h-1zM46 90h1v1h-1zM49 91h2v1h-2zM43 94h1v1h-1zM45 95h1v1h-1zM49 95h1v1h-1zM40 96h1v1h-1zM46 96h1v1h-1zM43 97h1v1h-1zM52 97h1v1h-1zM45 98h1v1h-1zM47 98h1v1h-1zM49 98h1v1h-1zM35 99h1v1h-1zM46 99h2v1h-2zM43 100h1v1h-1zM27 102h1v1h-1zM41 103h2v1h-2zM25 104h1v1h-1zM34 104h1v1h-1zM47 104h1v1h-1zM38 105h1v1h-1zM41 105h1v1h-1zM47 106h1v1h-1zM42 107h1v1h-1zM46 107h2v1h-2zM43 108h1v1h-1zM51 108h1v1h-1zM33 109h1v1h-1zM44 109h2v1h-2zM34 110h1v1h-1zM41 110h1v1h-1zM45 110h1v1h-1zM40 111h1v1h-1zM43 111h4v1h-4zM49 111h1v1h-1zM51 112h1v1h-1zM46 113h1v1h-1zM42 114h1v1h-1zM51 114h1v1h-1zM27 115h1v1h-1zM44 116h1v1h-1zM49 116h1v1h-1zM39 117h1v1h-1zM34 118h1v1h-1zM42 118h1v1h-1zM50 118h1v1h-1zM28 119h1v1h-1zM43 119h1v1h-1z"/>
<path fill="#2d708e" d="M56 29h1v1h-1zM60 29h1v1h-1zM60 30h1v1h-1zM61 31h1v1h-1zM57 32h1v1h-1zM57 33h1v1h-1zM59 33h1v1h-1zM59 34h1v1h-1zM56 36h1v1h-1zM51 37h1v1h-1zM54 37h1v1h-1zM55 39h2v1h-2zM63 39h1v1h-1zM54 42h1v1h-1zM57 42h1v1h-1zM53 43h1v1h-1zM55 43h1v1h-1zM54 44h1v1h-1zM53 45h1v1h-1zM58 46h1v1h-1zM49 47h1v1h-1zM54 47h1v1h-1zM56 48h1v1h-1zM47 52h1v1h-1zM55 52h2v1h-2zM58 53h1v1h-1zM52 54h1v1h-1zM54 54h1v1h-1zM57 59h1v1h-1zM52 60h1v1h-1zM56 60h1v1h-1zM52 64h1v1h-1zM56 64h1v1h-1zM52 67h1v1h-1zM50 68h1v1h-1zM55 69h1v1h-1zM44 70h1v1h-1zM51 70h1v1h-1zM48 73h2v1h-2zM51 73h3v1h-3zM48 75h1v1h-1zM52 75h1v1h-1zM55 75h1v1h-1zM47 76h1v1h-1zM49 76h1v1h-1zM53 76h1v1h-1zM51 77h1v1h-1zM48 79h1v1h-1zM54 79h1v1h-1zM53 80h1v1h-1zM51 81h1v1h-1zM55 81h1v1h-1zM47 82h1v1h-1zM49 83h1v1h-1zM53 83h1v1h-1zM51 84h1v1h-1zM55 84h1v1h-1zM52 86h1v1h-1zM47 87h1v1h-1zM54 88h1v1h-1zM56 89h1v1h-1zM48 90h2v1h-2zM51 90h1v1h-1zM54 90h1v1h-1zM53 92h1v1h-1zM50 93h2v1h-2zM47 94h1v1h-1zM55 95h1v1h-1zM47 96h1v1h-1zM45 97h1v1h-1zM54 97h1v1h-1zM56 97h1v1h-1zM42 99h1v1h-1zM45 99h1v1h-1zM50 99h1v1h-1zM59 100h1v1h-1zM55 101h1v1h-1zM44 102h1v1h-1zM46 104h1v1h-1zM53 104h2v1h-2zM52 105h1v1h-1zM34 107h1v1h-1zM51 107h1v1h-1zM45 108h1v1h-1zM49 108h1v1h-1zM54 109h1v1h-1zM50 110h2v1h-2zM44 112h2v1h-2zM50 112h1v1h-1zM58 112h1v1h-1zM29 114h1v1h-1zM50 114h1v1h-1zM23 115h1v1h-1zM35 115h1v1h-1zM47 115h1v1h-1zM37 116h1v1h-1zM54 117h1v1h-1zM45 119h1v1h-1zM47 119h1v1h-1z"/>
<path fill="#2c738e" d="M59 29h1v1h-1zM61 29h1v1h-1zM59 30h1v1h-1zM61 30h1v1h-1zM56 34h1v1h-1zM60 34h1v1h-1zM60 35h1v1h-1zM50 38h1v1h-1zM58 38h1v1h-1zM62 38h1v1h-1zM56 41h2v1h-2zM63 41h1v1h-1zM56 42h1v1h-1zM55 44h1v1h-1zM57 44h1v1h-1zM60 44h1v1h-1zM54 45h1v1h-1zM53 46h1v1h-1zM57 47h1v1h-1zM53 48h1v1h-1zM58 50h1v1h-1zM58 51h1v1h-1zM57 52h1v1h-1zM53 53h1v1h-1zM56 53h1v1h-1zM58 54h1v1h-1zM56 56h1v1h-1zM53 57h1v1h-1zM54 58h1v1h-1zM56 58h1v1h-1zM55 65h1v1h-1zM50 66h1v1h-1zM56 66h1v1h-1zM51 67h1v1h-1zM55 67h1v1h-1zM54 68h1v1h-1zM56 68h1v1h-1zM52 70h2v1h-2zM53 71h1v1h-1zM57 71h1v1h-1zM47 72h1v1h-1zM53 72h1v1h-1zM54 73h1v1h-1zM53 75h1v1h-1zM51 76h1v1h-1zM54 76h1v1h-1zM49 77h1v1h-1zM55 77h2v1h-2zM51 79h1v1h-1zM50 81h1v1h-1zM53 81h1v1h-1zM52 82h1v1h-1zM54 85h1v1h-1zM49 87h1v1h-1zM37 88h1v1h-1zM56 88h1v1h-1zM48 89h1v1h-1zM53 89h1v1h-1zM52 91h1v1h-1zM50 92h1v1h-1zM54 92h1v1h-1zM55 93h1v1h-1zM52 95h2v1h-2zM51 96h1v1h-1zM55 96h1v1h-1zM41 97h1v1h-1zM48 98h1v1h-1zM54 98h1v1h-1zM43 99h1v1h-1zM49 99h1v1h-1zM47 100h1v1h-1zM51 100h1v1h-1zM46 101h1v1h-1zM54 102h1v1h-1zM49 103h1v1h-1zM52 103h1v1h-1zM48 104h1v1h-1zM58 104h1v1h-1zM63 104h1v1h-1zM47 105h1v1h-1zM50 105h1v1h-1zM41 106h2v1h-2zM49 106h1v1h-1zM54 106h1v1h-1zM36 107h1v1h-1zM43 107h1v1h-1zM49 107h1v1h-1zM56 107h1v1h-1zM58 107h1v1h-1zM46 108h1v1h-1zM51 109h1v1h-1zM53 109h1v1h-1zM44 110h1v1h-1zM47 110h1v1h-1zM53 110h1v1h-1zM48 111h1v1h-1zM43 112h1v1h-1zM49 112h1v1h-1zM35 113h1v1h-1zM49 113h1v1h-1zM54 113h1v1h-1zM43 115h1v1h-1zM48 116h1v1h-1zM44 117h1v1h-1zM45 118h1v1h-1zM51 118h1v1h-1zM36 119h1v1h-1zM46 119h1v1h-1zM50 119h1v1h-1z"/>
<path fill="#2a778e" d="M57 26h2v1h-2zM57 30h1v1h-1zM59 31h1v1h-1zM63 31h1v1h-1zM63 35h1v1h-1zM58 36h1v1h-1zM68 36h1v1h-1zM59 41h1v1h-1zM61 41h1v1h-1zM59 42h2v1h-2zM60 43h1v1h-1zM66 43h1v1h-1zM55 45h1v1h-1zM57 46h1v1h-1zM67 47h1v1h-1zM57 48h1v1h-1zM65 50h1v1h-1zM55 54h1v1h-1zM57 56h1v1h-1zM52 58h1v1h-1zM57 58h1v1h-1zM58 60h1v1h-1zM61 60h1v1h-1zM54 61h1v1h-1zM56 61h1v1h-1zM58 61h1v1h-1zM56 62h1v1h-1zM55 63h1v1h-1zM53 69h1v1h-1zM47 71h1v1h-1zM56 71h1v1h-1zM54 72h2v1h-2zM57 74h1v1h-1zM48 78h1v1h-1zM51 80h1v1h-1zM54 80h1v1h-1zM58 83h1v1h-1zM54 84h1v1h-1zM56 84h1v1h-1zM51 86h1v1h-1zM55 86h3v1h-3zM53 88h1v1h-1zM51 89h1v1h-1zM54 89h1v1h-1zM57 90h1v1h-1zM48 91h1v1h-1zM51 92h1v1h-1zM51 95h1v1h-1zM57 96h1v1h-1zM42 97h1v1h-1zM51 97h1v1h-1zM39 98h1v1h-1zM50 98h1v1h-1zM55 98h1v1h-1zM58 98h1v1h-1zM52 99h2v1h-2zM42 100h1v1h-1zM49 101h1v1h-1zM59 101h1v1h-1zM50 102h1v1h-1zM55 102h1v1h-1zM60 102h1v1h-1zM57 104h1v1h-1zM43 106h1v1h-1zM48 106h1v1h-1zM56 106h1v1h-1zM52 107h1v1h-1zM59 107h1v1h-1zM47 108h1v1h-1zM58 108h1v1h-1zM41 109h1v1h-1zM50 109h1v1h-1zM59 110h1v1h-1zM61 110h1v1h-1zM37 115h1v1h-1zM48 115h1v1h-1zM51 116h1v1h-1zM47 117h1v1h-1zM49 117h1v1h-1zM54 118h1v1h-1zM52 119h1v1h-1zM54 119h1v1h-1z"/>
<path fill="#297b8e" d="M58 27h1v1h-1zM61 27h1v1h-1zM62 30h1v1h-1zM62 32h1v1h-1zM66 34h1v1h-1zM58 35h1v1h-1zM66 36h1v1h-1zM59 37h1v1h-1zM61 39h1v1h-1zM60 40h2v1h-2zM64 41h1v1h-1zM58 42h1v1h-1zM64 42h1v1h-1zM59 43h1v1h-1zM61 43h1v1h-1zM63 43h1v1h-1zM63 44h1v1h-1zM56 45h2v1h-2zM59 47h3v1h-3zM64 47h1v1h-1zM65 49h1v1h-1zM48 50h1v1h-1zM57 50h1v1h-1zM54 51h1v1h-1zM60 52h1v1h-1zM52 53h1v1h-1zM59 54h2v1h-2zM61 55h1v1h-1zM54 57h1v1h-1zM58 57h1v1h-1zM54 59h1v1h-1zM54 63h1v1h-1zM57 63h1v1h-1zM57 64h1v1h-1zM53 66h1v1h-1zM54 67h1v1h-1zM56 67h1v1h-1zM55 70h1v1h-1zM52 72h1v1h-1zM57 72h1v1h-1zM53 74h1v1h-1zM59 74h1v1h-1zM59 76h1v1h-1zM54 78h1v1h-1zM53 79h1v1h-1zM48 80h1v1h-1zM55 80h1v1h-1zM57 81h1v1h-1zM53 82h1v1h-1zM56 83h1v1h-1zM53 84h1v1h-1zM54 86h1v1h-1zM53 87h1v1h-1zM55 88h1v1h-1zM57 89h1v1h-1zM56 90h1v1h-1zM54 91h2v1h-2zM52 92h1v1h-1zM56 92h1v1h-1zM52 93h1v1h-1zM59 93h1v1h-1zM52 94h1v1h-1zM58 95h2v1h-2zM58 96h1v1h-1zM58 97h1v1h-1zM57 98h1v1h-1zM57 99h1v1h-1zM55 100h2v1h-2zM54 101h1v1h-1zM56 101h1v1h-1zM65 101h1v1h-1zM48 103h1v1h-1zM56 103h1v1h-1zM55 105h1v1h-1zM57 105h1v1h-1zM52 109h1v1h-1zM48 110h1v1h-1zM52 110h1v1h-1zM57 111h1v1h-1zM58 114h1v1h-1zM33 115h1v1h-1zM53 115h1v1h-1zM55 116h1v1h-1zM42 117h1v1h-1zM55 117h1v1h-1zM52 118h2v1h-2zM51 119h1v1h-1z"/>
<path fill="#277f8e" d="M57 27h1v1h-1zM58 29h1v1h-1zM62 34h2v1h-2zM62 35h1v1h-1zM65 35h1v1h-1zM61 36h1v1h-1zM61 38h1v1h-1zM64 38h1v1h-1zM59 39h2v1h-2zM62 40h3v1h-3zM67 40h1v1h-1zM60 41h1v1h-1zM61 42h1v1h-1zM61 44h1v1h-1zM64 45h1v1h-1zM50 46h1v1h-1zM62 46h1v1h-1zM58 47h1v1h-1zM62 47h1v1h-1zM65 48h1v1h-1zM56 50h1v1h-1zM60 51h1v1h-1zM64 51h1v1h-1zM62 53h1v1h-1zM56 54h1v1h-1zM62 54h1v1h-1zM58 55h1v1h-1zM64 55h1v1h-1zM59 57h1v1h-1zM55 58h1v1h-1zM58 58h1v1h-1zM60 58h1v1h-1zM58 59h1v1h-1zM57 61h1v1h-1zM57 62h2v1h-2zM58 63h1v1h-1zM53 68h1v1h-1zM54 70h1v1h-1zM57 70h2v1h-2zM54 71h2v1h-2zM57 73h1v1h-1zM56 75h1v1h-1zM52 77h1v1h-1zM54 77h1v1h-1zM57 77h1v1h-1zM55 78h1v1h-1zM58 78h1v1h-1zM57 80h2v1h-2zM56 81h1v1h-1zM57 82h1v1h-1zM54 83h1v1h-1zM60 84h1v1h-1zM52 85h1v1h-1zM57 85h2v1h-2zM51 88h1v1h-1zM53 91h1v1h-1zM60 91h1v1h-1zM57 92h1v1h-1zM53 94h1v1h-1zM56 94h1v1h-1zM59 94h1v1h-1zM54 96h1v1h-1zM59 96h1v1h-1zM60 98h1v1h-1zM64 98h1v1h-1zM59 99h1v1h-1zM53 100h1v1h-1zM64 102h1v1h-1zM56 104h1v1h-1zM52 106h1v1h-1zM48 108h1v1h-1zM50 108h1v1h-1zM57 109h1v1h-1zM54 111h2v1h-2zM59 111h1v1h-1zM52 112h1v1h-1zM52 114h1v1h-1zM57 114h1v1h-1zM54 115h1v1h-1zM50 116h1v1h-1zM56 116h1v1h-1zM52 117h1v1h-1zM49 119h1v1h-1z"/>
<path fill="#26828e" d="M64 34h1v1h-1zM60 36h1v1h-1zM66 38h1v1h-1zM66 40h1v1h-1zM62 41h1v1h-1zM66 41h1v1h-1zM68 43h1v1h-1zM61 45h1v1h-1zM63 45h1v1h-1zM65 47h1v1h-1zM60 48h1v1h-1zM62 48h1v1h-1zM57 49h1v1h-1zM60 49h1v1h-1zM60 50h1v1h-1zM56 51h1v1h-1zM59 52h1v1h-1zM62 52h1v1h-1zM59 53h1v1h-1zM61 54h1v1h-1zM63 54h1v1h-1zM57 55h1v1h-1zM60 55h1v1h-1zM61 56h1v1h-1zM57 57h1v1h-1zM59 60h1v1h-1zM61 61h1v1h-1zM56 63h1v1h-1zM57 66h2v1h-2zM57 67h1v1h-1zM57 69h2v1h-2zM60 69h2v1h-2zM58 71h1v1h-1zM56 72h1v1h-1zM55 73h1v1h-1zM56 74h1v1h-1zM58 74h1v1h-1zM57 76h1v1h-1zM56 78h1v1h-1zM58 79h1v1h-1zM58 81h2v1h-2zM60 83h1v1h-1zM58 87h1v1h-1zM55 89h1v1h-1zM58 89h1v1h-1zM55 90h1v1h-1zM58 90h1v1h-1zM56 91h1v1h-1zM58 92h1v1h-1zM53 93h1v1h-1zM58 93h1v1h-1zM60 94h1v1h-1zM54 95h1v1h-1zM64 96h1v1h-1zM67 98h1v1h-1zM60 101h1v1h-1zM62 101h1v1h-1zM57 102h2v1h-2zM65 102h1v1h-1zM68 103h1v1h-1zM52 108h1v1h-1zM47 109h1v1h-1zM55 109h1v1h-1zM63 110h1v1h-1zM53 112h1v1h-1zM55 112h2v1h-2zM47 113h1v1h-1zM58 113h2v1h-2zM55 114h1v1h-1zM55 115h2v1h-2zM58 115h1v1h-1zM57 116h1v1h-1zM49 118h1v1h-1zM53 119h1v1h-1zM55 119h1v1h-1z"/>
<path fill="#24868e" d="M64 32h1v1h-1zM62 33h1v1h-1zM55 37h1v1h-1zM62 37h1v1h-1zM60 38h1v1h-1zM62 39h1v1h-1zM67 44h1v1h-1zM58 45h1v1h-1zM67 46h1v1h-1zM63 47h1v1h-1zM59 48h1v1h-1zM62 49h1v1h-1zM64 49h1v1h-1zM70 49h1v1h-1zM57 51h1v1h-1zM61 51h1v1h-1zM63 51h1v1h-1zM67 51h1v1h-1zM61 52h1v1h-1zM66 52h1v1h-1zM60 53h2v1h-2zM67 53h1v1h-1zM58 56h1v1h-1zM60 56h1v1h-1zM62 56h1v1h-1zM61 58h1v1h-1zM56 59h1v1h-1zM61 59h1v1h-1zM55 60h1v1h-1zM55 64h1v1h-1zM60 64h1v1h-1zM61 65h1v1h-1zM60 66h1v1h-1zM62 67h1v1h-1zM59 68h1v1h-1zM56 70h1v1h-1zM60 71h1v1h-1zM58 72h2v1h-2zM54 74h2v1h-2zM57 75h1v1h-1zM58 76h1v1h-1zM60 77h2v1h-2zM60 78h1v1h-1zM55 79h1v1h-1zM59 79h1v1h-1zM55 82h2v1h-2zM62 83h1v1h-1zM56 85h1v1h-1zM58 86h1v1h-1zM61 86h1v1h-1zM61 87h1v1h-1zM57 88h2v1h-2zM65 89h1v1h-1zM59 92h1v1h-1zM56 96h1v1h-1zM60 97h2v1h-2zM61 98h1v1h-1zM58 99h1v1h-1zM65 99h1v1h-1zM71 99h1v1h-1zM57 101h1v1h-1zM63 101h1v1h-1zM63 102h1v1h-1zM54 103h1v1h-1zM61 103h1v1h-1zM63 103h2v1h-2zM52 104h1v1h-1zM62 104h1v1h-1zM54 105h1v1h-1zM56 105h1v1h-1zM58 105h1v1h-1zM60 106h1v1h-1zM60 107h1v1h-1zM60 109h1v1h-1zM58 110h1v1h-1zM62 110h1v1h-1zM57 113h1v1h-1zM53 116h1v1h-1zM53 117h1v1h-1zM55 118h1v1h-1z"/>
<path fill="#238a8d" d="M63 32h1v1h-1zM65 37h1v1h-1zM68 38h1v1h-1zM68 39h1v1h-1zM68 40h1v1h-1zM62 42h2v1h-2zM67 42h1v1h-1zM71 42h1v1h-1zM71 44h2v1h-2zM65 45h1v1h-1zM72 45h1v1h-1zM63 46h1v1h-1zM66 47h1v1h-1zM64 48h1v1h-1zM67 48h1v1h-1zM67 49h1v1h-1zM66 51h1v1h-1zM64 52h1v1h-1zM67 54h1v1h-1zM70 54h1v1h-1zM59 55h1v1h-1zM62 55h1v1h-1zM66 57h1v1h-1zM66 58h1v1h-1zM60 63h1v1h-1zM59 64h1v1h-1zM58 68h1v1h-1zM56 69h1v1h-1zM63 69h1v1h-1zM59 73h1v1h-1zM61 76h1v1h-1zM59 77h1v1h-1zM57 79h1v1h-1zM60 80h1v1h-1zM60 82h1v1h-1zM57 83h1v1h-1zM59 83h1v1h-1zM53 86h1v1h-1zM62 87h2v1h-2zM62 89h1v1h-1zM58 91h1v1h-1zM63 91h1v1h-1zM66 91h1v1h-1zM57 93h1v1h-1zM66 94h1v1h-1zM57 95h1v1h-1zM63 95h1v1h-1zM67 96h1v1h-1zM59 97h1v1h-1zM68 99h1v1h-1zM62 100h2v1h-2zM58 101h1v1h-1zM68 101h1v1h-1zM62 102h1v1h-1zM60 103h1v1h-1zM71 103h1v1h-1zM59 104h1v1h-1zM65 105h2v1h-2zM64 106h1v1h-1zM66 106h1v1h-1zM61 107h2v1h-2zM63 109h1v1h-1zM59 112h1v1h-1zM57 115h1v1h-1zM57 117h1v1h-1z"/>
<path fill="#218e8d" d="M60 31h1v1h-1zM63 33h1v1h-1zM70 39h1v1h-1zM70 41h1v1h-1zM69 42h1v1h-1zM65 43h1v1h-1zM70 44h1v1h-1zM66 45h2v1h-2zM69 46h1v1h-1zM63 49h1v1h-1zM68 49h1v1h-1zM63 50h1v1h-1zM76 50h1v1h-1zM62 51h1v1h-1zM68 51h1v1h-1zM64 53h2v1h-2zM73 54h1v1h-1zM69 55h1v1h-1zM67 56h1v1h-1zM60 59h1v1h-1zM64 60h1v1h-1zM61 62h2v1h-2zM59 63h1v1h-1zM57 65h1v1h-1zM59 66h1v1h-1zM62 69h1v1h-1zM59 70h1v1h-1zM59 71h1v1h-1zM61 71h1v1h-1zM60 74h1v1h-1zM63 74h1v1h-1zM58 75h1v1h-1zM60 75h2v1h-2zM63 75h1v1h-1zM55 76h2v1h-2zM63 76h1v1h-1zM58 77h1v1h-1zM57 78h1v1h-1zM62 79h2v1h-2zM62 80h1v1h-1zM61 81h1v1h-1zM64 81h1v1h-1zM64 86h2v1h-2zM65 88h1v1h-1zM62 90h1v1h-1zM67 91h2v1h-2zM67 93h1v1h-1zM66 96h1v1h-1zM62 97h1v1h-1zM59 98h1v1h-1zM60 100h1v1h-1zM70 102h1v1h-1zM69 103h1v1h-1zM67 104h1v1h-1zM68 105h1v1h-1zM61 106h1v1h-1zM65 106h1v1h-1zM62 108h1v1h-1zM66 108h1v1h-1zM58 109h1v1h-1zM62 109h1v1h-1zM64 109h1v1h-1zM66 109h1v1h-1zM56 111h1v1h-1zM58 111h1v1h-1zM62 112h1v1h-1zM56 119h1v1h-1z"/>
<path fill="#20928c" d="M65 38h1v1h-1zM69 41h1v1h-1zM72 41h1v1h-1zM68 42h1v1h-1zM69 44h1v1h-1zM70 46h1v1h-1zM73 46h1v1h-1zM75 47h1v1h-1zM66 48h1v1h-1zM69 48h1v1h-1zM68 50h1v1h-1zM71 50h1v1h-1zM74 50h1v1h-1zM70 51h1v1h-1zM63 52h1v1h-1zM65 52h1v1h-1zM66 53h1v1h-1zM65 54h1v1h-1zM66 55h1v1h-1zM70 55h1v1h-1zM64 56h1v1h-1zM60 57h1v1h-1zM63 57h2v1h-2zM68 57h1v1h-1zM68 58h1v1h-1zM63 62h1v1h-1zM62 63h1v1h-1zM64 63h1v1h-1zM61 64h1v1h-1zM64 64h2v1h-2zM63 65h1v1h-1zM60 67h1v1h-1zM64 67h1v1h-1zM61 68h2v1h-2zM59 69h1v1h-1zM63 71h1v1h-1zM60 72h2v1h-2zM58 73h1v1h-1zM60 73h1v1h-1zM61 74h1v1h-1zM65 74h1v1h-1zM64 75h1v1h-1zM60 76h1v1h-1zM59 78h1v1h-1zM65 78h1v1h-1zM63 80h1v1h-1zM60 81h1v1h-1zM61 82h2v1h-2zM61 83h1v1h-1zM58 84h2v1h-2zM63 86h1v1h-1zM60 88h1v1h-1zM64 88h1v1h-1zM67 89h1v1h-1zM59 90h1v1h-1zM65 90h1v1h-1zM61 91h2v1h-2zM64 92h1v1h-1zM67 92h1v1h-1zM63 93h1v1h-1zM57 94h1v1h-1zM70 94h1v1h-1zM66 95h1v1h-1zM71 95h1v1h-1zM63 96h1v1h-1zM68 96h1v1h-1zM72 96h1v1h-1zM63 97h1v1h-1zM62 98h1v1h-1zM65 98h1v1h-1zM69 98h1v1h-1zM66 99h1v1h-1zM67 100h1v1h-1zM66 102h1v1h-1zM62 103h1v1h-1zM62 106h1v1h-1zM68 106h1v1h-1zM55 107h1v1h-1zM66 107h1v1h-1zM59 108h1v1h-1zM65 108h1v1h-1zM60 112h1v1h-1zM55 113h1v1h-1zM60 113h1v1h-1zM56 118h1v1h-1z"/>
<path fill="#1f968b" d="M65 40h1v1h-1zM85 41h1v1h-1zM86 43h1v1h-1zM68 45h2v1h-2zM68 46h1v1h-1zM71 46h1v1h-1zM71 47h1v1h-1zM75 48h1v1h-1zM73 49h1v1h-1zM75 49h1v1h-1zM69 50h1v1h-1zM72 50h1v1h-1zM65 51h1v1h-1zM71 51h1v1h-1zM73 51h1v1h-1zM69 52h2v1h-2zM63 53h1v1h-1zM71 53h1v1h-1zM73 53h1v1h-1zM78 53h1v1h-1zM63 55h1v1h-1zM71 55h2v1h-2zM63 56h1v1h-1zM65 56h1v1h-1zM68 56h1v1h-1zM67 57h1v1h-1zM70 57h1v1h-1zM64 59h1v1h-1zM73 59h1v1h-1zM65 60h1v1h-1zM67 60h1v1h-1zM64 61h1v1h-1zM66 61h1v1h-1zM63 63h1v1h-1zM69 64h1v1h-1zM62 65h1v1h-1zM61 66h1v1h-1zM66 66h1v1h-1zM58 67h1v1h-1zM61 67h1v1h-1zM63 67h1v1h-1zM63 68h1v1h-1zM65 68h1v1h-1zM64 69h1v1h-1zM60 70h2v1h-2zM61 73h1v1h-1zM64 73h1v1h-1zM59 75h1v1h-1zM66 75h1v1h-1zM62 78h1v1h-1zM60 79h1v1h-1zM59 80h1v1h-1zM61 80h1v1h-1zM64 80h1v1h-1zM63 81h1v1h-1zM69 84h1v1h-1zM62 86h1v1h-1zM73 88h1v1h-1zM68 89h1v1h-1zM67 90h1v1h-1zM63 92h1v1h-1zM65 92h1v1h-1zM72 92h1v1h-1zM61 96h1v1h-1zM71 96h1v1h-1zM68 98h1v1h-1zM75 98h1v1h-1zM72 99h1v1h-1zM72 100h1v1h-1zM66 101h2v1h-2zM71 101h1v1h-1zM65 107h1v1h-1zM67 107h1v1h-1zM67 108h1v1h-1zM60 110h1v1h-1zM59 114h1v1h-1zM58 116h1v1h-1z"/>
<path fill="#1f9a8a" d="M69 38h1v1h-1zM72 46h1v1h-1zM69 47h1v1h-1zM74 47h1v1h-1zM69 51h1v1h-1zM79 51h1v1h-1zM67 52h2v1h-2zM74 53h1v1h-1zM68 55h1v1h-1zM76 55h1v1h-1zM66 56h1v1h-1zM65 57h1v1h-1zM62 59h1v1h-1zM68 59h1v1h-1zM66 60h1v1h-1zM73 61h1v1h-1zM64 62h1v1h-1zM62 64h1v1h-1zM66 64h1v1h-1zM67 65h2v1h-2zM63 66h1v1h-1zM65 66h1v1h-1zM67 67h1v1h-1zM65 69h1v1h-1zM68 69h1v1h-1zM62 70h1v1h-1zM62 71h1v1h-1zM65 71h1v1h-1zM62 72h1v1h-1zM62 74h1v1h-1zM64 74h1v1h-1zM66 74h1v1h-1zM62 75h1v1h-1zM62 77h1v1h-1zM61 78h1v1h-1zM64 78h1v1h-1zM61 79h1v1h-1zM64 84h1v1h-1zM61 85h1v1h-1zM71 85h1v1h-1zM67 86h1v1h-1zM71 86h1v1h-1zM74 87h1v1h-1zM72 88h1v1h-1zM63 89h1v1h-1zM60 90h1v1h-1zM64 90h1v1h-1zM72 90h1v1h-1zM62 93h1v1h-1zM66 93h1v1h-1zM76 93h1v1h-1zM69 94h1v1h-1zM67 95h1v1h-1zM73 97h1v1h-1zM73 98h1v1h-1zM70 100h1v1h-1zM70 101h1v1h-1zM65 109h1v1h-1zM61 111h1v1h-1zM61 113h1v1h-1z"/>
<path fill="#1f9e89" d="M88 41h1v1h-1zM70 42h1v1h-1zM73 44h1v1h-1zM68 48h1v1h-1zM71 49h1v1h-1zM70 50h1v1h-1zM75 50h1v1h-1zM78 51h1v1h-1zM71 52h1v1h-1zM73 52h1v1h-1zM75 52h1v1h-1zM70 53h1v1h-1zM66 54h1v1h-1zM80 54h1v1h-1zM79 55h1v1h-1zM69 57h1v1h-1zM65 58h1v1h-1zM70 58h1v1h-1zM66 59h2v1h-2zM69 59h2v1h-2zM74 60h1v1h-1zM67 61h2v1h-2zM65 62h1v1h-1zM67 63h1v1h-1zM63 64h1v1h-1zM66 65h1v1h-1zM70 66h1v1h-1zM70 69h1v1h-1zM64 70h1v1h-1zM64 72h1v1h-1zM69 75h1v1h-1zM64 76h2v1h-2zM69 76h1v1h-1zM65 77h2v1h-2zM68 77h1v1h-1zM65 81h1v1h-1zM67 81h1v1h-1zM65 82h1v1h-1zM68 84h1v1h-1zM66 85h1v1h-1zM70 85h1v1h-1zM65 87h1v1h-1zM72 89h1v1h-1zM68 90h2v1h-2zM74 92h1v1h-1zM71 93h2v1h-2zM65 95h1v1h-1zM68 95h1v1h-1zM69 96h2v1h-2zM77 97h1v1h-1zM73 101h1v1h-1zM61 102h1v1h-1zM72 103h1v1h-1zM71 104h2v1h-2zM70 105h1v1h-1zM63 106h1v1h-1zM62 113h1v1h-1zM57 118h1v1h-1z"/>
<path fill="#1fa187" d="M89 42h1v1h-1zM88 46h1v1h-1zM71 48h1v1h-1zM74 49h1v1h-1zM75 51h1v1h-1zM72 52h1v1h-1zM74 52h1v1h-1zM81 53h1v1h-1zM68 54h2v1h-2zM72 54h1v1h-1zM75 54h1v1h-1zM74 55h1v1h-1zM78 55h1v1h-1zM77 56h1v1h-1zM69 58h1v1h-1zM63 60h1v1h-1zM65 61h1v1h-1zM71 61h1v1h-1zM75 61h1v1h-1zM82 61h1v1h-1zM72 62h1v1h-1zM65 63h1v1h-1zM68 66h1v1h-1zM66 67h1v1h-1zM64 68h1v1h-1zM67 68h1v1h-1zM66 69h2v1h-2zM66 70h1v1h-1zM64 71h1v1h-1zM66 72h2v1h-2zM62 73h2v1h-2zM66 73h2v1h-2zM69 73h1v1h-1zM62 76h1v1h-1zM66 76h2v1h-2zM63 78h1v1h-1zM66 78h2v1h-2zM65 79h1v1h-1zM65 80h1v1h-1zM69 81h1v1h-1zM67 83h1v1h-1zM62 84h2v1h-2zM65 84h2v1h-2zM71 84h1v1h-1zM65 85h1v1h-1zM70 86h1v1h-1zM75 88h1v1h-1zM71 89h1v1h-1zM73 90h1v1h-1zM70 91h1v1h-1zM73 91h1v1h-1zM77 91h1v1h-1zM81 93h1v1h-1zM67 94h1v1h-1zM76 94h1v1h-1zM79 95h1v1h-1zM76 96h2v1h-2zM70 97h1v1h-1zM72 97h1v1h-1zM78 97h1v1h-1zM71 98h1v1h-1zM74 98h1v1h-1zM58 117h1v1h-1z"/>
<path fill="#21a585" d="M92 40h1v1h-1zM93 42h1v1h-1zM85 43h1v1h-1zM90 44h1v1h-1zM71 45h1v1h-1zM86 45h1v1h-1zM89 45h1v1h-1zM89 48h1v1h-1zM95 49h1v1h-1zM97 49h1v1h-1zM72 51h1v1h-1zM76 51h2v1h-2zM99 52h1v1h-1zM69 53h1v1h-1zM75 53h1v1h-1zM91 53h1v1h-1zM98 53h1v1h-1zM74 54h1v1h-1zM76 54h1v1h-1zM75 55h1v1h-1zM80 55h1v1h-1zM70 56h1v1h-1zM79 56h1v1h-1zM71 57h1v1h-1zM75 57h1v1h-1zM67 58h1v1h-1zM73 58h3v1h-3zM91 58h1v1h-1zM76 59h1v1h-1zM72 60h1v1h-1zM78 60h1v1h-1zM76 61h1v1h-1zM68 62h1v1h-1zM69 63h2v1h-2zM72 68h1v1h-1zM63 70h1v1h-1zM65 70h1v1h-1zM67 70h1v1h-1zM67 71h2v1h-2zM70 71h1v1h-1zM63 72h1v1h-1zM65 72h1v1h-1zM67 74h2v1h-2zM68 76h1v1h-1zM69 77h1v1h-1zM68 78h1v1h-1zM64 79h1v1h-1zM70 79h1v1h-1zM73 80h1v1h-1zM75 80h1v1h-1zM62 81h1v1h-1zM70 82h1v1h-1zM68 83h2v1h-2zM73 83h1v1h-1zM75 83h1v1h-1zM104 84h1v1h-1zM76 86h1v1h-1zM71 87h1v1h-1zM71 88h1v1h-1zM81 88h1v1h-1zM84 90h1v1h-1zM69 91h1v1h-1zM74 91h1v1h-1zM69 92h1v1h-1zM74 93h1v1h-1zM74 96h1v1h-1zM71 97h1v1h-1zM77 98h1v1h-1zM77 99h1v1h-1zM74 100h2v1h-2zM73 102h1v1h-1zM65 104h1v1h-1zM84 111h1v1h-1zM63 112h1v1h-1zM61 114h1v1h-1zM59 115h1v1h-1zM72 116h1v1h-1z"/>
<path fill="#23a983" d="M89 39h1v1h-1zM88 40h1v1h-1zM86 41h1v1h-1zM92 42h1v1h-1zM94 42h1v1h-1zM90 43h1v1h-1zM88 45h1v1h-1zM93 45h1v1h-1zM92 47h1v1h-1zM97 47h1v1h-1zM73 48h1v1h-1zM76 48h1v1h-1zM76 49h1v1h-1zM91 49h1v1h-1zM96 49h1v1h-1zM92 50h1v1h-1zM79 52h2v1h-2zM96 52h2v1h-2zM72 53h1v1h-1zM76 53h2v1h-2zM80 53h1v1h-1zM94 53h1v1h-1zM78 54h1v1h-1zM67 55h1v1h-1zM82 55h1v1h-1zM69 56h1v1h-1zM73 56h1v1h-1zM78 56h1v1h-1zM80 56h1v1h-1zM82 56h1v1h-1zM78 57h1v1h-1zM80 57h2v1h-2zM83 58h2v1h-2zM78 59h1v1h-1zM81 60h1v1h-1zM63 61h1v1h-1zM75 62h1v1h-1zM72 63h1v1h-1zM77 64h1v1h-1zM65 65h1v1h-1zM69 65h1v1h-1zM71 66h1v1h-1zM68 67h1v1h-1zM75 67h1v1h-1zM66 68h1v1h-1zM73 68h1v1h-1zM69 69h1v1h-1zM71 69h1v1h-1zM71 70h1v1h-1zM69 71h1v1h-1zM68 72h2v1h-2zM65 73h1v1h-1zM68 73h1v1h-1zM72 73h1v1h-1zM74 74h1v1h-1zM65 75h1v1h-1zM67 75h1v1h-1zM63 77h2v1h-2zM67 77h1v1h-1zM70 77h1v1h-1zM69 79h1v1h-1zM70 80h1v1h-1zM66 81h1v1h-1zM70 81h1v1h-1zM64 82h1v1h-1zM67 82h2v1h-2zM68 85h1v1h-1zM72 85h1v1h-1zM75 86h1v1h-1zM68 87h1v1h-1zM70 88h1v1h-1zM75 89h1v1h-1zM102 89h1v1h-1zM74 90h3v1h-3zM82 91h1v1h-1zM79 93h2v1h-2zM72 94h2v1h-2zM80 94h1v1h-1zM77 95h2v1h-2zM81 95h1v1h-1zM78 96h1v1h-1zM74 99h1v1h-1zM96 99h1v1h-1zM70 106h1v1h-1zM69 107h1v1h-1zM87 112h1v1h-1z"/>
<path fill="#26ad81" d="M90 40h1v1h-1zM74 48h1v1h-1zM77 50h1v1h-1zM91 51h1v1h-1zM79 53h1v1h-1zM79 54h1v1h-1zM83 55h1v1h-1zM89 55h1v1h-1zM76 56h1v1h-1zM81 56h1v1h-1zM73 57h1v1h-1zM85 58h1v1h-1zM71 59h1v1h-1zM74 59h1v1h-1zM77 59h1v1h-1zM70 60h2v1h-2zM75 60h1v1h-1zM84 60h2v1h-2zM72 61h1v1h-1zM70 62h1v1h-1zM79 62h1v1h-1zM66 63h1v1h-1zM79 64h1v1h-1zM70 65h1v1h-1zM72 66h1v1h-1zM65 67h1v1h-1zM71 67h1v1h-1zM68 68h1v1h-1zM74 69h1v1h-1zM70 70h1v1h-1zM68 75h1v1h-1zM72 76h1v1h-1zM71 78h1v1h-1zM68 79h1v1h-1zM71 79h1v1h-1zM67 80h1v1h-1zM71 80h1v1h-1zM72 81h1v1h-1zM66 82h1v1h-1zM71 82h2v1h-2zM71 83h1v1h-1zM74 85h1v1h-1zM78 85h1v1h-1zM69 86h1v1h-1zM72 87h1v1h-1zM86 89h1v1h-1zM82 90h1v1h-1zM83 91h1v1h-1zM78 93h1v1h-1zM106 93h1v1h-1zM68 94h1v1h-1zM79 94h1v1h-1zM73 95h1v1h-1zM80 95h1v1h-1zM75 96h1v1h-1zM85 96h1v1h-1zM80 97h1v1h-1zM96 97h1v1h-1zM78 98h1v1h-1zM80 99h1v1h-1zM76 100h1v1h-1zM83 106h1v1h-1zM74 107h1v1h-1zM66 110h1v1h-1zM64 113h1v1h-1zM72 113h1v1h-1zM69 118h1v1h-1z"/>
<path fill="#2ab07f" d="M87 42h1v1h-1zM91 42h1v1h-1zM93 43h1v1h-1zM95 44h1v1h-1zM94 48h1v1h-1zM88 49h1v1h-1zM87 53h1v1h-1zM77 54h1v1h-1zM81 54h2v1h-2zM81 55h1v1h-1zM88 55h1v1h-1zM71 56h1v1h-1zM74 56h1v1h-1zM83 56h1v1h-1zM85 56h1v1h-1zM98 56h1v1h-1zM74 57h1v1h-1zM80 58h1v1h-1zM75 59h1v1h-1zM81 59h2v1h-2zM85 59h1v1h-1zM90 59h1v1h-1zM68 60h1v1h-1zM73 60h1v1h-1zM77 60h1v1h-1zM88 60h1v1h-1zM90 60h1v1h-1zM78 61h1v1h-1zM77 62h1v1h-1zM82 62h1v1h-1zM73 63h1v1h-1zM76 63h1v1h-1zM72 64h1v1h-1zM75 64h1v1h-1zM84 64h1v1h-1zM72 65h2v1h-2zM73 66h1v1h-1zM75 66h1v1h-1zM74 67h1v1h-1zM75 68h1v1h-1zM85 69h1v1h-1zM68 70h1v1h-1zM75 71h1v1h-1zM70 72h2v1h-2zM73 72h1v1h-1zM70 73h2v1h-2zM77 73h1v1h-1zM70 75h1v1h-1zM73 76h2v1h-2zM73 77h2v1h-2zM69 78h2v1h-2zM74 79h1v1h-1zM69 80h1v1h-1zM72 80h1v1h-1zM68 81h1v1h-1zM73 82h1v1h-1zM70 83h1v1h-1zM75 84h1v1h-1zM78 84h1v1h-1zM73 85h1v1h-1zM76 85h1v1h-1zM80 87h1v1h-1zM82 87h1v1h-1zM74 88h1v1h-1zM107 88h1v1h-1zM73 89h1v1h-1zM79 89h1v1h-1zM78 90h2v1h-2zM70 92h1v1h-1zM78 92h2v1h-2zM81 92h1v1h-1zM84 92h1v1h-1zM82 93h1v1h-1zM82 94h1v1h-1zM84 96h1v1h-1zM74 97h1v1h-1zM91 97h1v1h-1zM79 100h1v1h-1zM77 101h1v1h-1zM75 103h1v1h-1zM85 103h1v1h-1zM88 104h2v1h-2zM97 104h1v1h-1zM84 109h1v1h-1zM70 110h1v1h-1zM81 113h1v1h-1zM65 114h2v1h-2zM73 114h1v1h-1zM70 115h1v1h-1zM84 115h1v1h-1zM64 116h1v1h-1zM78 116h1v1h-1zM83 117h1v1h-1zM62 118h1v1h-1z"/>
<path fill="#2fb47c" d="M86 42h1v1h-1zM89 50h1v1h-1zM98 52h1v1h-1zM90 56h1v1h-1zM94 56h1v1h-1zM76 57h2v1h-2zM84 57h1v1h-1zM79 58h1v1h-1zM79 59h1v1h-1zM86 59h1v1h-1zM76 60h1v1h-1zM79 60h1v1h-1zM82 60h1v1h-1zM87 60h1v1h-1zM92 60h2v1h-2zM77 61h1v1h-1zM80 62h2v1h-2zM74 63h2v1h-2zM79 63h1v1h-1zM71 64h1v1h-1zM76 64h1v1h-1zM80 64h1v1h-1zM82 64h1v1h-1zM71 65h1v1h-1zM78 65h3v1h-3zM74 66h1v1h-1zM76 66h1v1h-1zM78 66h1v1h-1zM69 67h1v1h-1zM73 67h1v1h-1zM69 68h1v1h-1zM76 68h1v1h-1zM79 68h1v1h-1zM78 69h1v1h-1zM66 71h1v1h-1zM71 71h1v1h-1zM72 72h1v1h-1zM75 73h1v1h-1zM80 74h1v1h-1zM70 76h1v1h-1zM71 77h1v1h-1zM77 78h1v1h-1zM66 79h1v1h-1zM73 81h1v1h-1zM72 83h1v1h-1zM76 83h1v1h-1zM72 84h1v1h-1zM76 84h1v1h-1zM84 85h1v1h-1zM77 87h1v1h-1zM76 88h2v1h-2zM103 88h1v1h-1zM81 89h1v1h-1zM88 89h1v1h-1zM80 91h1v1h-1zM83 92h1v1h-1zM89 92h1v1h-1zM102 92h1v1h-1zM75 93h1v1h-1zM97 93h2v1h-2zM105 93h1v1h-1zM77 94h1v1h-1zM86 94h1v1h-1zM88 94h1v1h-1zM82 95h1v1h-1zM95 95h1v1h-1zM92 96h1v1h-1zM91 99h1v1h-1zM97 99h1v1h-1zM105 99h1v1h-1zM89 100h1v1h-1zM93 101h1v1h-1zM84 102h1v1h-1zM82 104h1v1h-1zM87 104h1v1h-1zM90 104h1v1h-1zM95 105h1v1h-1zM70 107h1v1h-1zM80 108h1v1h-1zM92 108h1v1h-1zM68 109h1v1h-1zM74 111h1v1h-1zM80 111h1v1h-1zM63 113h1v1h-1zM75 114h1v1h-1zM61 115h2v1h-2zM65 115h1v1h-1zM72 115h1v1h-1zM74 115h1v1h-1zM70 116h1v1h-1zM77 116h1v1h-1zM68 118h1v1h-1zM57 119h1v1h-1zM82 119h1v1h-1z"/>
<path fill="#35b779" d="M96 46h1v1h-1zM90 49h1v1h-1zM97 50h1v1h-1zM96 53h1v1h-1zM77 55h1v1h-1zM91 56h1v1h-1zM82 57h2v1h-2zM85 57h2v1h-2zM78 58h1v1h-1zM86 58h2v1h-2zM84 59h1v1h-1zM80 60h1v1h-1zM86 60h1v1h-1zM96 60h1v1h-1zM79 61h1v1h-1zM67 62h1v1h-1zM85 62h1v1h-1zM89 62h1v1h-1zM92 62h1v1h-1zM78 63h1v1h-1zM85 64h1v1h-1zM76 65h1v1h-1zM67 66h1v1h-1zM77 66h1v1h-1zM72 67h1v1h-1zM76 67h2v1h-2zM71 68h1v1h-1zM77 68h1v1h-1zM73 69h1v1h-1zM77 69h1v1h-1zM75 70h1v1h-1zM78 70h1v1h-1zM74 71h1v1h-1zM78 71h1v1h-1zM75 72h1v1h-1zM76 73h1v1h-1zM69 74h1v1h-1zM71 74h1v1h-1zM73 74h1v1h-1zM75 74h1v1h-1zM71 75h1v1h-1zM77 76h2v1h-2zM76 77h1v1h-1zM72 78h1v1h-1zM73 79h1v1h-1zM75 79h1v1h-1zM68 80h1v1h-1zM74 80h1v1h-1zM71 81h1v1h-1zM77 81h1v1h-1zM75 82h1v1h-1zM78 82h3v1h-3zM109 82h1v1h-1zM78 83h2v1h-2zM80 84h1v1h-1zM83 84h1v1h-1zM106 84h1v1h-1zM78 86h1v1h-1zM104 87h1v1h-1zM100 88h1v1h-1zM102 88h1v1h-1zM77 89h1v1h-1zM89 89h1v1h-1zM99 89h1v1h-1zM98 90h1v1h-1zM107 90h1v1h-1zM79 91h1v1h-1zM85 91h1v1h-1zM97 91h1v1h-1zM105 91h1v1h-1zM103 92h1v1h-1zM94 93h1v1h-1zM100 93h1v1h-1zM83 94h2v1h-2zM93 94h1v1h-1zM105 94h1v1h-1zM106 95h1v1h-1zM79 96h1v1h-1zM81 96h1v1h-1zM79 97h1v1h-1zM93 97h1v1h-1zM108 97h1v1h-1zM79 98h3v1h-3zM84 98h1v1h-1zM92 99h1v1h-1zM94 100h2v1h-2zM104 101h1v1h-1zM92 102h1v1h-1zM74 103h1v1h-1zM76 103h1v1h-1zM78 103h1v1h-1zM83 104h1v1h-1zM73 105h1v1h-1zM84 105h1v1h-1zM92 105h1v1h-1zM71 106h1v1h-1zM90 106h1v1h-1zM80 107h1v1h-1zM93 107h1v1h-1zM68 108h1v1h-1zM71 110h1v1h-1zM75 111h1v1h-1zM79 111h1v1h-1zM66 112h1v1h-1zM81 112h1v1h-1zM66 113h1v1h-1zM62 114h2v1h-2zM74 114h1v1h-1zM60 116h1v1h-1zM62 117h1v1h-1zM74 117h1v1h-1zM76 118h1v1h-1z"/>
<path fill="#3bbb75" d="M92 56h2v1h-2zM100 56h1v1h-1zM94 57h1v1h-1zM82 58h1v1h-1zM92 58h1v1h-1zM80 59h1v1h-1zM83 59h1v1h-1zM101 59h1v1h-1zM74 61h1v1h-1zM86 61h1v1h-1zM88 61h1v1h-1zM83 62h1v1h-1zM86 62h2v1h-2zM68 63h1v1h-1zM83 63h1v1h-1zM74 64h1v1h-1zM83 64h1v1h-1zM86 64h1v1h-1zM81 65h2v1h-2zM87 65h1v1h-1zM81 66h1v1h-1zM79 67h1v1h-1zM84 67h1v1h-1zM70 68h1v1h-1zM75 69h2v1h-2zM69 70h1v1h-1zM72 70h1v1h-1zM74 70h1v1h-1zM83 70h1v1h-1zM76 72h1v1h-1zM73 73h1v1h-1zM70 74h1v1h-1zM74 75h2v1h-2zM77 75h1v1h-1zM71 76h1v1h-1zM79 77h1v1h-1zM73 78h1v1h-1zM76 78h1v1h-1zM79 78h1v1h-1zM77 79h3v1h-3zM80 80h1v1h-1zM74 81h2v1h-2zM74 82h1v1h-1zM83 83h1v1h-1zM77 85h1v1h-1zM80 85h1v1h-1zM77 86h1v1h-1zM79 87h1v1h-1zM81 87h1v1h-1zM87 87h1v1h-1zM82 88h2v1h-2zM101 88h1v1h-1zM105 88h1v1h-1zM104 90h1v1h-1zM104 91h1v1h-1zM85 92h1v1h-1zM99 92h1v1h-1zM106 92h1v1h-1zM83 93h1v1h-1zM102 93h1v1h-1zM104 93h1v1h-1zM96 94h1v1h-1zM84 95h1v1h-1zM86 95h1v1h-1zM92 95h1v1h-1zM93 96h1v1h-1zM90 97h1v1h-1zM92 97h1v1h-1zM102 97h1v1h-1zM104 98h1v1h-1zM81 99h1v1h-1zM77 100h1v1h-1zM80 100h3v1h-3zM79 101h1v1h-1zM88 101h1v1h-1zM74 102h1v1h-1zM86 102h1v1h-1zM90 102h1v1h-1zM94 102h1v1h-1zM77 103h1v1h-1zM86 103h1v1h-1zM77 104h1v1h-1zM86 105h1v1h-1zM88 105h1v1h-1zM90 105h1v1h-1zM101 105h1v1h-1zM72 106h2v1h-2zM87 106h2v1h-2zM69 108h1v1h-1zM71 108h1v1h-1zM83 108h1v1h-1zM67 109h1v1h-1zM69 110h1v1h-1zM83 110h1v1h-1zM66 111h2v1h-2zM69 111h1v1h-1zM76 111h1v1h-1zM83 111h1v1h-1zM86 113h1v1h-1zM72 114h1v1h-1zM81 114h1v1h-1zM60 117h1v1h-1zM63 117h1v1h-1zM68 117h1v1h-1zM80 117h1v1h-1zM58 118h1v1h-1zM73 118h1v1h-1zM59 119h1v1h-1zM67 119h1v1h-1zM75 119h1v1h-1z"/>
<path fill="#42be71" d="M99 54h1v1h-1zM75 56h1v1h-1zM98 59h1v1h-1zM83 61h1v1h-1zM87 61h1v1h-1zM92 61h1v1h-1zM95 61h1v1h-1zM84 62h1v1h-1zM88 62h1v1h-1zM70 64h1v1h-1zM81 64h1v1h-1zM90 64h1v1h-1zM95 64h1v1h-1zM85 66h2v1h-2zM88 66h1v1h-1zM80 67h1v1h-1zM74 68h1v1h-1zM72 69h1v1h-1zM76 70h2v1h-2zM73 71h1v1h-1zM82 71h1v1h-1zM74 72h1v1h-1zM72 74h1v1h-1zM78 74h2v1h-2zM76 75h1v1h-1zM78 75h2v1h-2zM75 76h2v1h-2zM78 77h1v1h-1zM75 78h1v1h-1zM80 78h1v1h-1zM84 78h1v1h-1zM72 79h1v1h-1zM78 80h1v1h-1zM81 80h1v1h-1zM79 81h1v1h-1zM76 82h1v1h-1zM107 82h1v1h-1zM105 84h1v1h-1zM105 85h1v1h-1zM79 86h1v1h-1zM91 87h1v1h-1zM80 88h1v1h-1zM84 88h1v1h-1zM87 89h1v1h-1zM101 89h1v1h-1zM103 89h1v1h-1zM83 90h1v1h-1zM88 90h1v1h-1zM101 90h1v1h-1zM88 91h2v1h-2zM91 91h1v1h-1zM88 92h1v1h-1zM85 94h1v1h-1zM83 95h1v1h-1zM81 97h1v1h-1zM89 98h2v1h-2zM93 98h1v1h-1zM106 99h1v1h-1zM87 100h1v1h-1zM91 100h1v1h-1zM78 101h1v1h-1zM77 102h1v1h-1zM87 102h1v1h-1zM93 102h1v1h-1zM88 103h1v1h-1zM76 104h1v1h-1zM94 105h1v1h-1zM74 106h2v1h-2zM81 107h1v1h-1zM83 107h1v1h-1zM90 107h1v1h-1zM95 107h1v1h-1zM78 108h1v1h-1zM81 108h1v1h-1zM86 108h1v1h-1zM94 108h1v1h-1zM69 109h1v1h-1zM71 109h1v1h-1zM82 109h1v1h-1zM93 109h1v1h-1zM95 109h1v1h-1zM67 110h2v1h-2zM76 110h1v1h-1zM79 110h1v1h-1zM81 110h1v1h-1zM95 110h1v1h-1zM77 111h1v1h-1zM90 111h1v1h-1zM73 112h1v1h-1zM77 112h1v1h-1zM65 113h1v1h-1zM74 113h1v1h-1zM77 113h1v1h-1zM85 114h1v1h-1zM87 114h1v1h-1zM73 115h1v1h-1zM62 116h1v1h-1zM71 116h1v1h-1zM61 117h1v1h-1zM69 117h1v1h-1zM73 117h1v1h-1zM77 117h1v1h-1zM85 117h1v1h-1zM59 118h1v1h-1zM61 118h1v1h-1zM66 119h1v1h-1zM68 119h1v1h-1zM73 119h1v1h-1z"/>
<path fill="#4ac16d" d="M93 53h1v1h-1zM97 56h1v1h-1zM99 56h1v1h-1zM99 58h1v1h-1zM87 59h1v1h-1zM85 61h1v1h-1zM78 62h1v1h-1zM81 63h1v1h-1zM84 63h1v1h-1zM86 63h3v1h-3zM87 64h1v1h-1zM85 65h2v1h-2zM92 65h1v1h-1zM80 66h1v1h-1zM84 66h1v1h-1zM78 67h1v1h-1zM81 67h1v1h-1zM85 67h1v1h-1zM80 68h2v1h-2zM83 68h1v1h-1zM79 69h1v1h-1zM73 70h1v1h-1zM81 70h1v1h-1zM85 70h1v1h-1zM76 71h2v1h-2zM80 73h1v1h-1zM76 74h1v1h-1zM72 75h1v1h-1zM72 77h1v1h-1zM81 77h2v1h-2zM74 78h1v1h-1zM83 78h1v1h-1zM76 79h1v1h-1zM85 79h1v1h-1zM76 80h2v1h-2zM84 80h1v1h-1zM83 82h1v1h-1zM77 83h1v1h-1zM80 83h1v1h-1zM84 84h1v1h-1zM79 85h1v1h-1zM85 85h1v1h-1zM80 86h1v1h-1zM83 86h1v1h-1zM83 87h2v1h-2zM82 89h1v1h-1zM85 89h1v1h-1zM91 89h1v1h-1zM90 90h2v1h-2zM90 91h1v1h-1zM86 92h1v1h-1zM90 92h1v1h-1zM88 93h2v1h-2zM87 95h1v1h-1zM102 95h1v1h-1zM82 97h3v1h-3zM94 98h1v1h-1zM83 99h1v1h-1zM90 99h1v1h-1zM92 100h1v1h-1zM90 101h1v1h-1zM75 102h2v1h-2zM78 102h1v1h-1zM80 102h1v1h-1zM91 102h1v1h-1zM84 103h1v1h-1zM73 104h1v1h-1zM91 104h1v1h-1zM96 104h1v1h-1zM85 106h2v1h-2zM71 107h1v1h-1zM70 109h1v1h-1zM77 109h1v1h-1zM78 111h1v1h-1zM69 112h1v1h-1zM79 112h1v1h-1zM80 113h1v1h-1zM87 115h1v1h-1zM61 116h1v1h-1zM63 116h1v1h-1zM73 116h1v1h-1zM59 117h1v1h-1zM79 117h1v1h-1zM70 118h1v1h-1zM85 118h1v1h-1zM58 119h1v1h-1zM61 119h1v1h-1z"/>
<path fill="#52c569" d="M100 60h1v1h-1zM95 62h1v1h-1zM100 62h1v1h-1zM95 63h1v1h-1zM97 63h1v1h-1zM75 65h1v1h-1zM83 65h2v1h-2zM88 65h1v1h-1zM82 66h1v1h-1zM89 66h1v1h-1zM91 66h1v1h-1zM88 67h1v1h-1zM84 68h1v1h-1zM80 69h1v1h-1zM86 69h1v1h-1zM90 69h1v1h-1zM79 70h1v1h-1zM80 71h1v1h-1zM74 73h1v1h-1zM79 73h1v1h-1zM73 75h1v1h-1zM79 76h1v1h-1zM75 77h1v1h-1zM83 77h1v1h-1zM79 80h1v1h-1zM110 80h1v1h-1zM80 81h1v1h-1zM82 82h1v1h-1zM86 83h1v1h-1zM104 85h1v1h-1zM85 87h1v1h-1zM89 87h1v1h-1zM90 88h1v1h-1zM92 89h1v1h-1zM104 89h1v1h-1zM106 89h1v1h-1zM89 90h1v1h-1zM99 90h1v1h-1zM92 91h1v1h-1zM108 91h1v1h-1zM87 92h1v1h-1zM101 93h1v1h-1zM87 94h1v1h-1zM99 94h1v1h-1zM96 95h1v1h-1zM83 96h1v1h-1zM86 96h1v1h-1zM100 96h1v1h-1zM85 97h1v1h-1zM98 97h1v1h-1zM79 99h1v1h-1zM82 99h1v1h-1zM95 99h1v1h-1zM86 100h1v1h-1zM94 103h1v1h-1zM78 104h1v1h-1zM84 104h1v1h-1zM75 105h1v1h-1zM72 107h2v1h-2zM87 107h1v1h-1zM70 108h1v1h-1zM72 108h1v1h-1zM75 110h1v1h-1zM78 110h1v1h-1zM87 110h1v1h-1zM65 112h1v1h-1zM67 112h1v1h-1zM78 112h1v1h-1zM75 113h2v1h-2zM63 115h2v1h-2zM60 118h1v1h-1z"/>
<path fill="#5ac864" d="M82 63h1v1h-1zM89 63h1v1h-1zM96 63h1v1h-1zM88 64h1v1h-1zM96 64h1v1h-1zM89 65h1v1h-1zM96 65h1v1h-1zM83 66h1v1h-1zM90 66h1v1h-1zM82 67h1v1h-1zM87 67h1v1h-1zM82 68h1v1h-1zM87 68h1v1h-1zM90 68h2v1h-2zM82 69h1v1h-1zM88 69h1v1h-1zM87 70h1v1h-1zM79 71h1v1h-1zM84 71h1v1h-1zM77 72h1v1h-1zM82 72h1v1h-1zM81 74h1v1h-1zM82 76h1v1h-1zM77 77h1v1h-1zM80 77h1v1h-1zM78 78h1v1h-1zM81 78h2v1h-2zM80 79h2v1h-2zM82 80h2v1h-2zM76 81h1v1h-1zM78 81h1v1h-1zM81 81h2v1h-2zM85 81h1v1h-1zM81 82h1v1h-1zM86 82h1v1h-1zM85 83h1v1h-1zM87 83h2v1h-2zM79 84h1v1h-1zM107 84h1v1h-1zM91 85h2v1h-2zM81 86h1v1h-1zM88 86h1v1h-1zM90 89h1v1h-1zM92 90h1v1h-1zM103 90h1v1h-1zM87 91h1v1h-1zM86 93h1v1h-1zM82 98h1v1h-1zM88 99h1v1h-1zM74 104h1v1h-1zM86 104h1v1h-1zM76 105h1v1h-1zM91 105h1v1h-1zM68 111h1v1h-1zM68 112h1v1h-1zM88 112h1v1h-1zM64 114h1v1h-1zM67 114h1v1h-1zM79 114h1v1h-1zM66 115h1v1h-1zM71 115h1v1h-1z"/>
<path fill="#65cb5e" d="M84 61h1v1h-1zM99 63h1v1h-1zM89 64h1v1h-1zM91 65h1v1h-1zM92 66h1v1h-1zM85 68h2v1h-2zM81 69h1v1h-1zM84 69h1v1h-1zM80 70h1v1h-1zM86 70h1v1h-1zM88 70h1v1h-1zM81 71h1v1h-1zM78 73h1v1h-1zM82 74h2v1h-2zM87 74h1v1h-1zM81 75h2v1h-2zM84 75h1v1h-1zM83 76h1v1h-1zM88 76h1v1h-1zM84 77h1v1h-1zM86 80h1v1h-1zM84 81h1v1h-1zM84 82h1v1h-1zM90 82h1v1h-1zM108 82h1v1h-1zM81 83h1v1h-1zM84 83h1v1h-1zM89 83h2v1h-2zM89 84h1v1h-1zM87 85h1v1h-1zM90 85h1v1h-1zM82 86h1v1h-1zM85 86h2v1h-2zM86 87h1v1h-1zM88 88h1v1h-1zM92 88h1v1h-1zM86 90h1v1h-1zM94 95h1v1h-1zM100 95h1v1h-1zM83 98h1v1h-1zM93 99h1v1h-1zM79 103h1v1h-1zM76 109h1v1h-1zM79 109h1v1h-1zM64 112h1v1h-1zM65 119h1v1h-1z"/>
<path fill="#6ece58" d="M89 67h1v1h-1zM91 67h2v1h-2zM95 67h1v1h-1zM78 68h1v1h-1zM88 68h1v1h-1zM87 69h1v1h-1zM91 69h1v1h-1zM79 72h2v1h-2zM88 72h1v1h-1zM82 73h1v1h-1zM84 73h1v1h-1zM77 74h1v1h-1zM86 74h1v1h-1zM80 76h1v1h-1zM86 76h2v1h-2zM87 80h1v1h-1zM89 81h1v1h-1zM82 83h1v1h-1zM105 83h1v1h-1zM82 84h1v1h-1zM85 84h1v1h-1zM91 84h1v1h-1zM88 85h1v1h-1zM87 86h1v1h-1zM89 86h3v1h-3zM88 87h1v1h-1zM90 87h1v1h-1zM89 88h1v1h-1zM64 117h1v1h-1zM72 117h1v1h-1z"/>
<path fill="#77d153" d="M100 59h1v1h-1zM83 67h1v1h-1zM93 67h1v1h-1zM89 68h1v1h-1zM95 68h1v1h-1zM92 69h2v1h-2zM82 70h1v1h-1zM84 70h1v1h-1zM85 71h1v1h-1zM87 71h1v1h-1zM90 71h1v1h-1zM78 72h1v1h-1zM85 72h1v1h-1zM81 73h1v1h-1zM86 73h1v1h-1zM88 73h1v1h-1zM84 74h1v1h-1zM89 74h1v1h-1zM81 76h1v1h-1zM87 77h1v1h-1zM86 78h1v1h-1zM82 79h2v1h-2zM86 79h1v1h-1zM110 79h1v1h-1zM88 80h1v1h-1zM90 80h1v1h-1zM83 81h1v1h-1zM88 82h1v1h-1zM86 84h3v1h-3zM93 85h1v1h-1zM92 87h2v1h-2zM93 90h1v1h-1zM95 92h1v1h-1zM90 93h1v1h-1zM65 116h1v1h-1z"/>
<path fill="#81d34d" d="M99 62h1v1h-1zM100 64h1v1h-1zM90 65h1v1h-1zM87 66h1v1h-1zM86 67h1v1h-1zM93 68h1v1h-1zM83 69h1v1h-1zM95 69h1v1h-1zM90 70h1v1h-1zM83 71h1v1h-1zM91 71h1v1h-1zM81 72h1v1h-1zM84 72h1v1h-1zM86 72h1v1h-1zM92 72h1v1h-1zM85 77h1v1h-1zM88 77h1v1h-1zM92 77h1v1h-1zM85 78h1v1h-1zM87 78h1v1h-1zM84 79h1v1h-1zM90 79h1v1h-1zM85 80h1v1h-1zM89 80h1v1h-1zM87 81h1v1h-1zM85 82h1v1h-1zM89 82h1v1h-1zM91 82h1v1h-1zM90 84h1v1h-1zM92 86h1v1h-1zM96 91h1v1h-1zM91 92h1v1h-1zM76 106h1v1h-1zM77 108h1v1h-1z"/>
<path fill="#8bd646" d="M90 67h1v1h-1zM89 69h1v1h-1zM94 70h1v1h-1zM88 71h1v1h-1zM83 72h1v1h-1zM87 72h1v1h-1zM85 73h1v1h-1zM90 73h1v1h-1zM80 75h1v1h-1zM85 75h1v1h-1zM87 75h2v1h-2zM94 75h1v1h-1zM90 76h2v1h-2zM93 76h1v1h-1zM89 78h1v1h-1zM94 78h1v1h-1zM87 79h2v1h-2zM92 83h1v1h-1zM95 83h1v1h-1zM92 84h2v1h-2zM89 85h1v1h-1zM93 86h1v1h-1zM93 88h1v1h-1zM88 98h1v1h-1zM85 101h1v1h-1zM75 107h1v1h-1zM74 108h1v1h-1z"/>
<path fill="#95d840" d="M92 68h1v1h-1zM95 70h1v1h-1zM86 71h1v1h-1zM92 71h1v1h-1zM94 71h1v1h-1zM90 72h2v1h-2zM94 72h1v1h-1zM85 74h1v1h-1zM83 75h1v1h-1zM86 75h1v1h-1zM91 75h1v1h-1zM84 76h2v1h-2zM92 76h1v1h-1zM86 77h1v1h-1zM89 77h1v1h-1zM94 77h1v1h-1zM89 79h1v1h-1zM91 79h1v1h-1zM88 81h1v1h-1zM90 81h1v1h-1zM92 81h1v1h-1zM95 81h1v1h-1zM104 83h1v1h-1zM94 86h1v1h-1zM89 94h1v1h-1zM92 94h1v1h-1zM89 97h1v1h-1zM85 98h1v1h-1zM77 105h1v1h-1zM67 117h1v1h-1z"/>
<path fill="#a0da39" d="M94 68h1v1h-1zM93 70h1v1h-1zM96 70h1v1h-1zM89 71h1v1h-1zM89 72h1v1h-1zM87 73h1v1h-1zM91 73h2v1h-2zM94 73h2v1h-2zM90 74h1v1h-1zM92 74h1v1h-1zM89 76h1v1h-1zM97 76h1v1h-1zM91 77h1v1h-1zM90 78h1v1h-1zM91 80h1v1h-1zM86 81h1v1h-1zM93 81h2v1h-2zM93 82h1v1h-1zM95 82h1v1h-1zM91 83h1v1h-1zM94 84h1v1h-1zM96 84h1v1h-1zM93 93h1v1h-1zM88 95h1v1h-1zM80 103h1v1h-1zM78 107h1v1h-1z"/>
<path fill="#aadc32" d="M101 65h1v1h-1zM94 69h1v1h-1zM89 70h1v1h-1zM91 70h1v1h-1zM93 71h1v1h-1zM93 72h1v1h-1zM83 73h1v1h-1zM89 73h1v1h-1zM93 73h1v1h-1zM88 74h1v1h-1zM94 74h1v1h-1zM89 75h1v1h-1zM111 77h1v1h-1zM93 78h1v1h-1zM98 78h1v1h-1zM92 79h1v1h-1zM96 79h1v1h-1zM92 80h3v1h-3zM91 81h1v1h-1zM97 81h1v1h-1zM92 82h1v1h-1zM94 82h1v1h-1zM93 83h2v1h-2zM94 88h1v1h-1zM87 96h1v1h-1zM86 97h1v1h-1zM79 106h1v1h-1zM73 109h1v1h-1zM68 115h1v1h-1zM63 118h1v1h-1zM66 118h1v1h-1z"/>
<path fill="#b5de2b" d="M99 65h1v1h-1zM96 68h1v1h-1zM96 69h1v1h-1zM96 72h1v1h-1zM96 73h1v1h-1zM95 75h2v1h-2zM95 76h1v1h-1zM90 77h1v1h-1zM95 77h1v1h-1zM91 78h1v1h-1zM95 78h2v1h-2zM109 78h1v1h-1zM95 80h1v1h-1zM96 82h1v1h-1zM97 83h1v1h-1zM95 86h1v1h-1zM88 97h1v1h-1zM81 104h1v1h-1zM77 106h1v1h-1zM69 115h1v1h-1zM68 116h1v1h-1zM62 119h1v1h-1z"/>
<path fill="#c0df25" d="M102 65h1v1h-1zM92 70h1v1h-1zM91 74h1v1h-1zM95 74h1v1h-1zM90 75h1v1h-1zM93 77h1v1h-1zM88 78h1v1h-1zM92 78h1v1h-1zM110 78h1v1h-1zM93 79h3v1h-3zM108 79h1v1h-1zM96 80h1v1h-1zM104 82h1v1h-1zM95 84h1v1h-1zM98 88h1v1h-1zM94 89h1v1h-1zM84 99h1v1h-1zM76 108h1v1h-1zM74 109h1v1h-1zM72 111h1v1h-1zM71 112h1v1h-1zM65 117h1v1h-1z"/>
<path fill="#cae11f" d="M97 69h1v1h-1zM95 71h1v1h-1zM95 72h1v1h-1zM93 74h1v1h-1zM96 74h1v1h-1zM93 75h1v1h-1zM94 76h1v1h-1zM96 76h1v1h-1zM96 77h1v1h-1zM97 78h1v1h-1zM97 80h1v1h-1zM105 80h1v1h-1zM96 81h1v1h-1zM97 82h1v1h-1zM105 82h1v1h-1zM96 83h1v1h-1zM95 85h1v1h-1zM101 85h1v1h-1zM94 87h1v1h-1zM98 87h2v1h-2zM96 89h2v1h-2zM93 91h1v1h-1zM90 96h1v1h-1zM84 101h1v1h-1zM82 103h1v1h-1zM72 112h1v1h-1zM71 113h1v1h-1zM69 114h1v1h-1zM64 118h1v1h-1zM64 119h1v1h-1z"/>
<path fill="#d5e21a" d="M96 71h1v1h-1zM98 72h1v1h-1zM98 76h1v1h-1zM98 77h1v1h-1zM108 78h1v1h-1zM108 80h1v1h-1zM101 84h1v1h-1zM100 86h1v1h-1zM96 88h1v1h-1zM92 93h1v1h-1zM91 95h1v1h-1zM87 97h1v1h-1zM87 98h1v1h-1zM86 99h1v1h-1zM83 100h1v1h-1zM85 100h1v1h-1zM83 101h1v1h-1zM79 104h2v1h-2zM75 108h1v1h-1zM70 112h1v1h-1zM68 114h1v1h-1zM67 116h1v1h-1z"/>
<path fill="#dfe318" d="M97 70h1v1h-1zM97 71h1v1h-1zM97 72h1v1h-1zM98 74h1v1h-1zM109 76h1v1h-1zM97 77h1v1h-1zM110 77h1v1h-1zM106 79h1v1h-1zM98 82h1v1h-1zM103 83h1v1h-1zM102 84h2v1h-2zM100 85h1v1h-1zM94 91h2v1h-2zM92 92h1v1h-1zM89 95h1v1h-1zM85 99h1v1h-1zM82 101h1v1h-1zM79 105h1v1h-1zM77 107h1v1h-1zM71 111h1v1h-1zM66 117h1v1h-1zM63 119h1v1h-1z"/>
<path fill="#eae51a" d="M97 73h1v1h-1zM97 74h1v1h-1zM92 75h1v1h-1zM97 75h1v1h-1zM108 77h1v1h-1zM107 78h1v1h-1zM97 79h2v1h-2zM107 79h1v1h-1zM98 80h1v1h-1zM106 80h1v1h-1zM104 81h2v1h-2zM98 83h1v1h-1zM96 85h1v1h-1zM97 86h1v1h-1zM99 86h1v1h-1zM101 86h1v1h-1zM100 87h1v1h-1zM95 89h1v1h-1zM98 89h1v1h-1zM96 90h1v1h-1zM93 92h2v1h-2zM91 93h1v1h-1zM90 94h1v1h-1zM88 96h1v1h-1zM84 100h1v1h-1zM83 102h1v1h-1zM76 107h1v1h-1zM72 110h2v1h-2zM67 115h1v1h-1z"/>
<path fill="#f4e61e" d="M100 66h1v1h-1zM102 66h1v1h-1zM99 77h1v1h-1zM107 80h1v1h-1zM98 81h2v1h-2zM106 81h1v1h-1zM102 83h1v1h-1zM97 84h1v1h-1zM99 85h1v1h-1zM95 87h1v1h-1zM95 88h1v1h-1zM94 90h2v1h-2zM97 90h1v1h-1zM89 96h1v1h-1zM86 98h1v1h-1zM78 105h1v1h-1zM69 113h2v1h-2z"/>
<path fill="#fde725" d="M103 67h1v1h-1zM98 69h3v1h-3zM98 70h7v1h-7zM106 70h2v1h-2zM98 71h14v1h-14zM99 72h13v1h-13zM98 73h14v1h-14zM99 74h13v1h-13zM98 75h14v1h-14zM99 76h10v1h-10zM110 76h2v1h-2zM100 77h8v1h-8zM109 77h1v1h-1zM99 78h8v1h-8zM99 79h7v1h-7zM99 80h6v1h-6zM100 81h4v1h-4zM99 82h5v1h-5zM99 83h3v1h-3zM98 84h3v1h-3zM97 85h2v1h-2zM102 85h1v1h-1zM96 86h1v1h-1zM98 86h1v1h-1zM96 87h1v1h-1zM97 88h1v1h-1zM99 88h1v1h-1zM91 94h1v1h-1zM90 95h1v1h-1zM81 102h1v1h-1zM81 103h1v1h-1zM78 106h1v1h-1zM75 109h1v1h-1zM74 110h1v1h-1zM73 111h1v1h-1zM65 118h1v1h-1z"/>
</g></g>
<g clip-path="url(#clip1)"><g transform="translate(125.00 680.90) scale(4.8704 4.7833)" shape-rendering="crispEdges">
<path fill="#440154" d="M9 3h1v1h-1zM8 4h1v1h-1zM5 5h1v1h-1zM7 5h1v1h-1zM5 6h1v1h-1zM9 6h1v1h-1zM6 7h1v1h-1zM10 7h2v1h-2zM6 8h1v1h-1zM6 10h1v1h-1zM13 10h1v1h-1zM9 12h1v1h-1zM14 12h1v1h-1zM13 13h1v1h-1zM16 13h1v1h-1zM17 14h1v1h-1zM16 15h1v1h-1zM13 18h1v1h-1zM13 19h1v1h-1zM17 19h1v1h-1zM18 20h1v1h-1zM21 20h1v1h-1zM12 21h1v1h-1zM21 21h1v1h-1zM14 22h1v1h-1zM21 22h1v1h-1zM0 24h1v1h-1zM4 24h1v1h-1zM6 24h1v1h-1zM22 24h1v1h-1zM14 25h1v1h-1zM19 25h1v1h-1zM5 26h1v1h-1zM14 26h1v1h-1zM10 27h1v1h-1zM16 27h1v1h-1zM23 27h1v1h-1zM3 28h1v1h-1zM13 28h1v1h-1zM19 28h1v1h-1zM3 29h1v1h-1zM8 29h1v1h-1zM18 29h1v1h-1zM25 29h2v1h-2zM28 29h1v1h-1zM28 30h1v1h-1zM0 31h1v1h-1zM9 31h2v1h-2zM21 31h1v1h-1zM17 32h1v1h-1zM20 32h1v1h-1zM23 33h1v1h-1zM14 34h1v1h-1zM22 34h1v1h-1zM4 35h1v1h-1zM5 87h1v1h-1z"/>
<path fill="#46075a" d="M5 0h1v1h-1zM6 3h1v1h-1zM7 6h1v1h-1zM9 7h1v1h-1zM7 9h1v1h-1zM8 10h1v1h-1zM10 10h1v1h-1zM12 10h1v1h-1zM10 11h1v1h-1zM14 11h1v1h-1zM8 12h1v1h-1zM10 15h1v1h-1zM10 17h1v1h-1zM15 17h2v1h-2zM18 18h1v1h-1zM13 21h1v1h-1zM15 21h1v1h-1zM15 23h1v1h-1zM1 24h3v1h-3zM2 25h1v1h-1zM4 27h1v1h-1zM15 27h1v1h-1zM17 27h1v1h-1zM0 28h1v1h-1zM30 28h1v1h-1zM1 29h1v1h-1zM19 29h2v1h-2zM6 30h1v1h-1zM8 30h1v1h-1zM11 30h1v1h-1zM29 30h1v1h-1zM23 31h1v1h-1zM25 31h1v1h-1zM24 32h1v1h-1zM31 33h1v1h-1zM20 35h1v1h-1zM23 35h1v1h-1zM28 37h1v1h-1zM0 81h1v1h-1zM1 83h1v1h-1zM10 91h1v1h-1zM24 104h1v1h-1z"/>
<path fill="#470d60" d="M9 8h1v1h-1zM6 9h1v1h-1zM12 14h1v1h-1zM15 16h1v1h-1zM19 17h1v1h-1zM16 19h1v1h-1zM17 23h1v1h-1zM4 25h1v1h-1zM6 25h2v1h-2zM11 25h1v1h-1zM13 25h1v1h-1zM24 25h1v1h-1zM1 26h1v1h-1zM3 26h2v1h-2zM11 26h1v1h-1zM15 26h2v1h-2zM6 27h2v1h-2zM11 27h1v1h-1zM18 27h1v1h-1zM20 27h1v1h-1zM1 28h1v1h-1zM7 28h1v1h-1zM10 28h1v1h-1zM23 28h2v1h-2zM27 28h3v1h-3zM6 29h1v1h-1zM12 29h1v1h-1zM27 29h1v1h-1zM10 30h1v1h-1zM16 30h1v1h-1zM18 30h1v1h-1zM20 30h1v1h-1zM18 31h1v1h-1zM24 31h1v1h-1zM2 32h1v1h-1zM5 32h1v1h-1zM12 32h1v1h-1zM27 32h1v1h-1zM29 32h1v1h-1zM32 32h1v1h-1zM19 33h1v1h-1zM22 33h1v1h-1zM26 33h1v1h-1zM29 33h1v1h-1zM17 35h1v1h-1zM19 36h1v1h-1zM25 36h1v1h-1zM21 37h1v1h-1zM9 91h1v1h-1zM14 95h1v1h-1zM23 103h1v1h-1z"/>
<path fill="#471365" d="M4 0h1v1h-1zM7 0h1v1h-1zM4 1h2v1h-2zM8 3h1v1h-1zM7 4h1v1h-1zM9 4h1v1h-1zM6 5h1v1h-1zM8 8h1v1h-1zM10 12h1v1h-1zM13 15h1v1h-1zM9 16h1v1h-1zM13 16h1v1h-1zM11 18h1v1h-1zM17 18h1v1h-1zM20 18h1v1h-1zM20 21h1v1h-1zM19 22h1v1h-1zM0 25h1v1h-1zM3 25h1v1h-1zM8 25h1v1h-1zM20 25h1v1h-1zM2 26h1v1h-1zM6 26h5v1h-5zM3 27h1v1h-1zM5 27h1v1h-1zM9 27h1v1h-1zM14 27h1v1h-1zM6 28h1v1h-1zM8 28h1v1h-1zM16 28h1v1h-1zM20 28h1v1h-1zM0 29h1v1h-1zM10 29h2v1h-2zM14 29h1v1h-1zM17 29h1v1h-1zM22 29h1v1h-1zM9 30h1v1h-1zM13 30h3v1h-3zM17 30h1v1h-1zM19 30h1v1h-1zM21 30h1v1h-1zM23 30h1v1h-1zM26 30h1v1h-1zM3 31h2v1h-2zM7 31h2v1h-2zM11 31h2v1h-2zM14 31h1v1h-1zM26 31h1v1h-1zM4 32h1v1h-1zM26 32h1v1h-1zM30 32h1v1h-1zM12 33h1v1h-1zM15 33h1v1h-1zM21 33h1v1h-1zM24 33h1v1h-1zM16 34h3v1h-3zM20 34h2v1h-2zM23 34h1v1h-1zM9 35h1v1h-1zM13 35h1v1h-1zM19 35h1v1h-1zM27 35h1v1h-1zM19 37h1v1h-1zM22 37h1v1h-1zM19 38h1v1h-1zM19 39h1v1h-1zM25 39h1v1h-1zM30 39h1v1h-1zM17 41h1v1h-1zM6 86h1v1h-1zM7 88h1v1h-1zM13 91h1v1h-1zM13 94h1v1h-1zM16 96h1v1h-1zM18 98h1v1h-1zM24 105h2v1h-2z"/>
<path fill="#48186a" d="M12 13h1v1h-1zM15 13h1v1h-1zM9 14h1v1h-1zM13 17h1v1h-1zM19 19h1v1h-1zM16 20h2v1h-2zM13 22h1v1h-1zM18 22h1v1h-1zM20 22h1v1h-1zM5 24h1v1h-1zM23 24h1v1h-1zM1 25h1v1h-1zM5 25h1v1h-1zM12 25h1v1h-1zM23 25h1v1h-1zM17 26h3v1h-3zM22 26h1v1h-1zM0 27h1v1h-1zM2 27h1v1h-1zM12 27h1v1h-1zM26 27h2v1h-2zM4 28h1v1h-1zM11 28h2v1h-2zM15 28h1v1h-1zM17 28h1v1h-1zM22 28h1v1h-1zM25 28h2v1h-2zM31 28h1v1h-1zM2 29h1v1h-1zM5 29h1v1h-1zM7 29h1v1h-1zM29 29h3v1h-3zM1 30h3v1h-3zM7 30h1v1h-1zM12 30h1v1h-1zM22 30h1v1h-1zM25 30h1v1h-1zM30 30h3v1h-3zM5 31h1v1h-1zM19 31h1v1h-1zM22 31h1v1h-1zM27 31h1v1h-1zM29 31h1v1h-1zM31 31h1v1h-1zM6 32h3v1h-3zM11 32h1v1h-1zM21 32h1v1h-1zM28 32h1v1h-1zM1 33h1v1h-1zM3 33h1v1h-1zM8 33h1v1h-1zM11 33h1v1h-1zM17 33h1v1h-1zM27 33h1v1h-1zM25 34h1v1h-1zM5 35h1v1h-1zM18 35h1v1h-1zM21 35h2v1h-2zM25 35h2v1h-2zM20 36h2v1h-2zM27 36h1v1h-1zM30 36h1v1h-1zM14 37h1v1h-1zM23 38h1v1h-1zM26 38h1v1h-1zM29 38h1v1h-1zM14 39h1v1h-1zM16 39h1v1h-1zM20 39h2v1h-2zM21 40h1v1h-1zM25 40h1v1h-1zM24 41h1v1h-1zM23 42h1v1h-1zM3 83h1v1h-1zM0 84h2v1h-2zM5 85h1v1h-1zM5 86h1v1h-1zM8 87h1v1h-1zM8 90h1v1h-1zM10 90h1v1h-1zM17 96h1v1h-1zM17 98h1v1h-1zM22 102h1v1h-1zM25 107h1v1h-1z"/>
<path fill="#481d6f" d="M11 11h1v1h-1zM15 14h1v1h-1zM19 18h1v1h-1zM12 20h1v1h-1zM15 20h1v1h-1zM21 23h1v1h-1zM10 25h1v1h-1zM35 25h1v1h-1zM12 26h1v1h-1zM1 27h1v1h-1zM8 27h1v1h-1zM19 27h1v1h-1zM24 27h1v1h-1zM5 28h1v1h-1zM21 28h1v1h-1zM4 29h1v1h-1zM13 29h1v1h-1zM16 29h1v1h-1zM23 29h2v1h-2zM0 30h1v1h-1zM27 30h1v1h-1zM15 31h2v1h-2zM30 31h1v1h-1zM1 32h1v1h-1zM9 32h1v1h-1zM13 32h1v1h-1zM15 32h2v1h-2zM19 32h1v1h-1zM23 32h1v1h-1zM4 33h2v1h-2zM7 33h1v1h-1zM10 33h1v1h-1zM14 33h1v1h-1zM20 33h1v1h-1zM25 33h1v1h-1zM2 34h2v1h-2zM6 34h2v1h-2zM13 34h1v1h-1zM26 34h1v1h-1zM29 34h1v1h-1zM34 34h1v1h-1zM2 35h1v1h-1zM6 35h1v1h-1zM8 35h1v1h-1zM12 35h1v1h-1zM15 35h1v1h-1zM29 35h1v1h-1zM32 35h1v1h-1zM0 36h1v1h-1zM7 36h1v1h-1zM16 36h1v1h-1zM18 36h1v1h-1zM23 36h1v1h-1zM28 36h2v1h-2zM31 36h1v1h-1zM5 37h1v1h-1zM10 37h1v1h-1zM13 37h1v1h-1zM17 37h1v1h-1zM20 37h1v1h-1zM23 37h2v1h-2zM29 37h1v1h-1zM12 38h1v1h-1zM20 38h1v1h-1zM27 38h1v1h-1zM32 39h1v1h-1zM16 40h1v1h-1zM22 40h2v1h-2zM28 40h1v1h-1zM14 41h1v1h-1zM26 41h1v1h-1zM30 41h1v1h-1zM7 78h1v1h-1zM2 83h1v1h-1zM3 84h3v1h-3zM3 85h1v1h-1zM8 85h1v1h-1zM9 90h1v1h-1zM12 92h1v1h-1zM15 92h1v1h-1zM12 93h1v1h-1zM14 93h1v1h-1zM15 94h1v1h-1zM15 95h1v1h-1zM17 97h2v1h-2zM20 97h1v1h-1zM21 100h1v1h-1zM22 103h1v1h-1zM25 109h1v1h-1z"/>
<path fill="#482374" d="M10 8h1v1h-1zM10 16h1v1h-1zM18 19h1v1h-1zM35 22h1v1h-1zM13 26h1v1h-1zM21 27h2v1h-2zM25 27h1v1h-1zM2 28h1v1h-1zM9 28h1v1h-1zM14 28h1v1h-1zM18 28h1v1h-1zM15 29h1v1h-1zM21 29h1v1h-1zM4 30h1v1h-1zM24 30h1v1h-1zM33 30h1v1h-1zM1 31h2v1h-2zM13 31h1v1h-1zM20 31h1v1h-1zM32 31h1v1h-1zM10 32h1v1h-1zM18 32h1v1h-1zM25 32h1v1h-1zM0 33h1v1h-1zM6 33h1v1h-1zM9 33h1v1h-1zM16 33h1v1h-1zM18 33h1v1h-1zM1 34h1v1h-1zM5 34h1v1h-1zM19 34h1v1h-1zM24 34h1v1h-1zM11 35h1v1h-1zM14 35h1v1h-1zM24 35h1v1h-1zM5 36h1v1h-1zM8 36h1v1h-1zM10 36h1v1h-1zM17 36h1v1h-1zM22 36h1v1h-1zM18 37h1v1h-1zM30 37h1v1h-1zM32 37h2v1h-2zM11 38h1v1h-1zM17 38h1v1h-1zM10 39h1v1h-1zM15 39h1v1h-1zM22 39h1v1h-1zM24 39h1v1h-1zM29 39h1v1h-1zM17 40h1v1h-1zM20 40h1v1h-1zM26 40h1v1h-1zM30 40h1v1h-1zM15 41h1v1h-1zM19 41h1v1h-1zM21 41h1v1h-1zM27 41h1v1h-1zM31 41h1v1h-1zM21 42h1v1h-1zM25 42h1v1h-1zM28 42h1v1h-1zM1 76h1v1h-1zM1 77h1v1h-1zM0 78h1v1h-1zM3 81h2v1h-2zM0 82h1v1h-1zM2 82h4v1h-4zM6 84h1v1h-1zM6 87h1v1h-1zM6 88h1v1h-1zM10 89h1v1h-1zM13 92h1v1h-1zM16 95h1v1h-1zM15 96h1v1h-1zM20 98h1v1h-1zM21 101h1v1h-1zM23 104h1v1h-1zM26 107h1v1h-1zM24 108h2v1h-2z"/>
<path fill="#482878" d="M15 19h1v1h-1zM38 22h1v1h-1zM9 25h1v1h-1zM0 26h1v1h-1zM35 26h1v1h-1zM13 27h1v1h-1zM5 30h1v1h-1zM28 31h1v1h-1zM0 32h1v1h-1zM3 32h1v1h-1zM14 32h1v1h-1zM13 33h1v1h-1zM28 33h1v1h-1zM30 33h1v1h-1zM9 34h1v1h-1zM11 34h1v1h-1zM15 34h1v1h-1zM27 34h1v1h-1zM31 34h2v1h-2zM3 35h1v1h-1zM16 35h1v1h-1zM30 35h1v1h-1zM1 36h1v1h-1zM3 36h1v1h-1zM12 36h1v1h-1zM15 36h1v1h-1zM24 36h1v1h-1zM7 37h2v1h-2zM25 37h1v1h-1zM9 38h2v1h-2zM13 38h4v1h-4zM22 38h1v1h-1zM26 39h2v1h-2zM31 39h1v1h-1zM34 39h1v1h-1zM13 40h1v1h-1zM12 41h1v1h-1zM18 41h1v1h-1zM20 41h1v1h-1zM31 43h1v1h-1zM3 75h2v1h-2zM0 77h1v1h-1zM11 78h1v1h-1zM6 79h1v1h-1zM3 80h1v1h-1zM6 80h1v1h-1zM1 81h2v1h-2zM6 83h1v1h-1zM7 84h2v1h-2zM15 86h1v1h-1zM17 87h1v1h-1zM7 89h2v1h-2zM12 91h1v1h-1zM13 93h1v1h-1zM15 93h1v1h-1zM14 94h1v1h-1zM18 96h1v1h-1zM19 98h1v1h-1zM20 100h1v1h-1zM22 100h1v1h-1zM20 101h1v1h-1zM23 102h1v1h-1zM25 104h2v1h-2zM24 106h2v1h-2zM27 108h1v1h-1zM26 109h2v1h-2z"/>
<path fill="#472d7b" d="M34 28h1v1h-1zM32 29h1v1h-1zM34 29h1v1h-1zM6 31h1v1h-1zM17 31h1v1h-1zM34 31h1v1h-1zM22 32h1v1h-1zM2 33h1v1h-1zM32 33h1v1h-1zM0 34h1v1h-1zM8 34h1v1h-1zM10 34h1v1h-1zM12 34h1v1h-1zM28 34h1v1h-1zM30 34h1v1h-1zM7 35h1v1h-1zM28 35h1v1h-1zM31 35h1v1h-1zM36 35h1v1h-1zM2 36h1v1h-1zM6 36h1v1h-1zM9 36h1v1h-1zM14 36h1v1h-1zM32 36h1v1h-1zM35 36h1v1h-1zM3 37h1v1h-1zM11 37h1v1h-1zM26 37h2v1h-2zM31 37h1v1h-1zM35 37h1v1h-1zM25 38h1v1h-1zM28 38h1v1h-1zM32 38h1v1h-1zM34 38h1v1h-1zM0 39h1v1h-1zM11 39h1v1h-1zM13 39h1v1h-1zM17 39h2v1h-2zM14 40h1v1h-1zM19 40h1v1h-1zM29 40h1v1h-1zM34 40h1v1h-1zM16 41h1v1h-1zM23 41h1v1h-1zM25 41h1v1h-1zM28 41h2v1h-2zM16 42h1v1h-1zM24 42h1v1h-1zM32 42h1v1h-1zM9 43h1v1h-1zM20 44h2v1h-2zM1 73h2v1h-2zM1 75h1v1h-1zM0 76h1v1h-1zM5 76h1v1h-1zM2 77h1v1h-1zM5 81h2v1h-2zM7 82h1v1h-1zM0 83h1v1h-1zM6 85h1v1h-1zM10 85h1v1h-1zM7 86h1v1h-1zM7 87h1v1h-1zM9 87h1v1h-1zM9 88h1v1h-1zM14 92h1v1h-1zM17 94h1v1h-1zM22 101h2v1h-2zM24 103h2v1h-2zM26 106h1v1h-1z"/>
<path fill="#46327e" d="M38 23h1v1h-1zM34 24h1v1h-1zM36 24h1v1h-1zM36 25h1v1h-1zM34 26h1v1h-1zM34 27h1v1h-1zM33 29h1v1h-1zM36 31h1v1h-1zM35 32h1v1h-1zM33 33h1v1h-1zM37 33h1v1h-1zM4 34h1v1h-1zM34 35h1v1h-1zM13 36h1v1h-1zM34 36h1v1h-1zM6 37h1v1h-1zM18 38h1v1h-1zM21 38h1v1h-1zM30 38h2v1h-2zM12 39h1v1h-1zM23 39h1v1h-1zM24 40h1v1h-1zM13 41h1v1h-1zM22 41h1v1h-1zM9 42h1v1h-1zM13 42h1v1h-1zM17 42h1v1h-1zM19 42h2v1h-2zM27 42h1v1h-1zM20 43h1v1h-1zM25 43h3v1h-3zM22 44h1v1h-1zM3 71h1v1h-1zM1 72h1v1h-1zM3 74h1v1h-1zM9 76h1v1h-1zM5 77h1v1h-1zM5 78h1v1h-1zM1 79h1v1h-1zM7 79h1v1h-1zM5 80h1v1h-1zM10 80h1v1h-1zM9 81h2v1h-2zM1 82h1v1h-1zM4 83h1v1h-1zM7 83h1v1h-1zM2 84h1v1h-1zM9 84h1v1h-1zM4 85h1v1h-1zM7 85h1v1h-1zM4 86h1v1h-1zM8 86h1v1h-1zM10 87h2v1h-2zM8 88h1v1h-1zM11 88h1v1h-1zM9 89h1v1h-1zM13 89h1v1h-1zM11 90h2v1h-2zM14 90h1v1h-1zM11 91h1v1h-1zM11 92h1v1h-1zM16 93h1v1h-1zM17 95h2v1h-2zM19 96h1v1h-1zM19 97h1v1h-1zM20 99h2v1h-2zM24 101h1v1h-1zM26 105h1v1h-1z"/>
<path fill="#453781" d="M37 19h1v1h-1zM38 25h1v1h-1zM38 26h1v1h-1zM9 29h1v1h-1zM35 31h1v1h-1zM31 32h1v1h-1zM33 32h1v1h-1zM35 33h1v1h-1zM40 33h1v1h-1zM33 34h1v1h-1zM10 35h1v1h-1zM33 35h1v1h-1zM35 35h1v1h-1zM11 36h1v1h-1zM26 36h1v1h-1zM2 37h1v1h-1zM37 37h1v1h-1zM1 38h2v1h-2zM5 38h1v1h-1zM8 38h1v1h-1zM35 38h1v1h-1zM28 39h1v1h-1zM7 40h1v1h-1zM12 40h1v1h-1zM18 40h1v1h-1zM27 40h1v1h-1zM32 40h2v1h-2zM32 41h1v1h-1zM1 42h1v1h-1zM18 42h1v1h-1zM26 42h1v1h-1zM29 42h2v1h-2zM17 43h1v1h-1zM19 43h1v1h-1zM21 43h1v1h-1zM29 43h2v1h-2zM26 44h1v1h-1zM31 44h1v1h-1zM3 66h1v1h-1zM5 68h1v1h-1zM1 70h1v1h-1zM4 72h1v1h-1zM2 74h1v1h-1zM4 74h1v1h-1zM6 74h2v1h-2zM0 75h1v1h-1zM4 76h1v1h-1zM6 77h2v1h-2zM10 77h1v1h-1zM12 78h1v1h-1zM0 79h1v1h-1zM3 79h1v1h-1zM5 79h1v1h-1zM9 79h1v1h-1zM0 80h1v1h-1zM2 80h1v1h-1zM13 80h1v1h-1zM11 81h1v1h-1zM14 81h1v1h-1zM18 81h1v1h-1zM10 82h2v1h-2zM15 82h1v1h-1zM9 83h2v1h-2zM10 84h1v1h-1zM13 84h1v1h-1zM9 85h1v1h-1zM11 85h2v1h-2zM15 85h1v1h-1zM14 86h1v1h-1zM14 87h1v1h-1zM10 88h1v1h-1zM12 88h2v1h-2zM11 89h1v1h-1zM13 90h1v1h-1zM14 91h1v1h-1zM21 93h1v1h-1zM19 99h1v1h-1zM24 100h1v1h-1zM25 101h1v1h-1zM27 107h1v1h-1z"/>
<path fill="#443b84" d="M39 20h1v1h-1zM37 22h1v1h-1zM35 24h1v1h-1zM35 28h1v1h-1zM36 29h1v1h-1zM37 34h1v1h-1zM4 36h1v1h-1zM33 36h1v1h-1zM9 37h1v1h-1zM12 37h1v1h-1zM15 37h1v1h-1zM0 38h1v1h-1zM6 38h1v1h-1zM24 38h1v1h-1zM5 39h1v1h-1zM7 39h1v1h-1zM33 39h1v1h-1zM35 39h1v1h-1zM2 40h1v1h-1zM4 40h3v1h-3zM8 40h1v1h-1zM11 40h1v1h-1zM35 40h2v1h-2zM4 41h1v1h-1zM7 41h1v1h-1zM11 41h1v1h-1zM11 42h1v1h-1zM22 42h1v1h-1zM31 42h1v1h-1zM33 42h1v1h-1zM14 43h2v1h-2zM18 43h1v1h-1zM24 43h1v1h-1zM28 43h1v1h-1zM18 44h2v1h-2zM28 44h1v1h-1zM7 64h1v1h-1zM2 67h1v1h-1zM3 69h1v1h-1zM2 70h1v1h-1zM7 70h1v1h-1zM12 71h1v1h-1zM7 73h1v1h-1zM9 74h1v1h-1zM13 74h1v1h-1zM2 75h1v1h-1zM5 75h1v1h-1zM12 75h1v1h-1zM3 76h1v1h-1zM12 76h1v1h-1zM16 76h1v1h-1zM3 77h1v1h-1zM8 77h1v1h-1zM2 78h1v1h-1zM8 78h1v1h-1zM1 80h1v1h-1zM8 80h1v1h-1zM14 80h1v1h-1zM13 81h1v1h-1zM22 81h1v1h-1zM6 82h1v1h-1zM9 82h1v1h-1zM12 82h1v1h-1zM5 83h1v1h-1zM8 83h1v1h-1zM11 83h1v1h-1zM13 83h1v1h-1zM20 84h1v1h-1zM13 85h1v1h-1zM16 85h1v1h-1zM12 86h1v1h-1zM12 87h1v1h-1zM16 87h1v1h-1zM15 88h1v1h-1zM20 89h1v1h-1zM18 90h1v1h-1zM15 91h3v1h-3zM17 93h1v1h-1zM18 94h2v1h-2zM19 95h1v1h-1zM21 95h1v1h-1zM20 96h2v1h-2zM22 97h1v1h-1zM23 98h1v1h-1zM22 99h1v1h-1zM24 99h1v1h-1zM30 102h1v1h-1zM27 105h1v1h-1zM26 108h1v1h-1zM26 110h1v1h-1z"/>
<path fill="#424086" d="M43 16h1v1h-1zM37 21h1v1h-1zM36 22h1v1h-1zM38 24h1v1h-1zM50 27h1v1h-1zM36 30h1v1h-1zM33 31h1v1h-1zM34 32h1v1h-1zM36 33h1v1h-1zM39 33h1v1h-1zM35 34h1v1h-1zM0 35h2v1h-2zM1 37h1v1h-1zM4 37h1v1h-1zM36 37h1v1h-1zM3 38h1v1h-1zM37 38h1v1h-1zM2 39h1v1h-1zM8 39h1v1h-1zM36 39h1v1h-1zM3 40h1v1h-1zM10 40h1v1h-1zM15 40h1v1h-1zM0 41h3v1h-3zM8 41h2v1h-2zM34 41h1v1h-1zM37 42h1v1h-1zM4 43h1v1h-1zM7 43h1v1h-1zM12 43h2v1h-2zM16 43h1v1h-1zM22 43h2v1h-2zM33 43h1v1h-1zM10 44h1v1h-1zM23 44h2v1h-2zM21 45h1v1h-1zM0 64h1v1h-1zM8 66h1v1h-1zM1 67h1v1h-1zM6 68h1v1h-1zM1 69h1v1h-1zM6 69h1v1h-1zM10 69h1v1h-1zM5 70h1v1h-1zM10 70h1v1h-1zM0 71h1v1h-1zM2 71h1v1h-1zM2 72h1v1h-1zM7 72h1v1h-1zM0 73h1v1h-1zM4 73h2v1h-2zM17 73h1v1h-1zM9 75h1v1h-1zM15 75h1v1h-1zM21 76h1v1h-1zM16 77h1v1h-1zM1 78h1v1h-1zM3 78h2v1h-2zM9 78h2v1h-2zM20 78h1v1h-1zM4 79h1v1h-1zM12 79h1v1h-1zM7 80h1v1h-1zM9 80h1v1h-1zM19 80h1v1h-1zM7 81h2v1h-2zM12 81h1v1h-1zM8 82h1v1h-1zM13 82h2v1h-2zM16 83h1v1h-1zM14 85h1v1h-1zM17 85h1v1h-1zM10 86h1v1h-1zM16 86h1v1h-1zM13 87h1v1h-1zM15 87h1v1h-1zM20 87h1v1h-1zM17 88h1v1h-1zM19 90h1v1h-1zM16 92h2v1h-2zM19 93h1v1h-1zM16 94h1v1h-1zM21 94h1v1h-1zM28 94h1v1h-1zM20 95h1v1h-1zM29 97h1v1h-1zM21 98h2v1h-2zM23 99h1v1h-1zM26 103h1v1h-1z"/>
<path fill="#404588" d="M42 16h1v1h-1zM45 16h1v1h-1zM43 18h1v1h-1zM38 19h1v1h-1zM40 22h1v1h-1zM39 23h1v1h-1zM50 25h1v1h-1zM41 28h1v1h-1zM38 30h1v1h-1zM45 30h1v1h-1zM36 32h1v1h-1zM38 32h1v1h-1zM34 33h1v1h-1zM36 34h1v1h-1zM37 35h1v1h-1zM0 37h1v1h-1zM34 37h1v1h-1zM39 37h1v1h-1zM4 38h1v1h-1zM7 38h1v1h-1zM1 39h1v1h-1zM3 39h2v1h-2zM6 39h1v1h-1zM9 39h1v1h-1zM0 40h2v1h-2zM9 40h1v1h-1zM31 40h1v1h-1zM37 40h1v1h-1zM5 41h2v1h-2zM33 41h1v1h-1zM36 41h1v1h-1zM4 42h1v1h-1zM8 42h1v1h-1zM10 42h1v1h-1zM14 42h2v1h-2zM34 42h2v1h-2zM11 43h1v1h-1zM5 44h1v1h-1zM16 44h1v1h-1zM25 44h1v1h-1zM34 44h1v1h-1zM27 45h1v1h-1zM29 45h1v1h-1zM32 45h1v1h-1zM20 46h1v1h-1zM0 66h1v1h-1zM0 67h1v1h-1zM4 67h1v1h-1zM9 67h2v1h-2zM2 69h1v1h-1zM6 70h1v1h-1zM9 70h1v1h-1zM4 71h2v1h-2zM5 72h1v1h-1zM8 72h1v1h-1zM11 72h1v1h-1zM3 73h1v1h-1zM12 73h1v1h-1zM0 74h2v1h-2zM8 74h1v1h-1zM16 74h1v1h-1zM6 75h1v1h-1zM10 75h1v1h-1zM2 76h1v1h-1zM6 76h1v1h-1zM8 76h1v1h-1zM11 76h1v1h-1zM13 76h1v1h-1zM12 77h2v1h-2zM17 78h1v1h-1zM8 79h1v1h-1zM13 79h1v1h-1zM15 79h1v1h-1zM12 80h1v1h-1zM16 80h1v1h-1zM20 80h1v1h-1zM16 81h1v1h-1zM17 83h1v1h-1zM19 83h1v1h-1zM12 84h1v1h-1zM14 84h4v1h-4zM20 85h1v1h-1zM9 86h1v1h-1zM13 86h1v1h-1zM17 86h1v1h-1zM19 86h1v1h-1zM22 87h1v1h-1zM28 87h1v1h-1zM14 88h1v1h-1zM18 88h1v1h-1zM21 88h1v1h-1zM12 89h1v1h-1zM14 89h2v1h-2zM22 89h1v1h-1zM15 90h2v1h-2zM21 91h1v1h-1zM20 92h3v1h-3zM34 93h1v1h-1zM20 94h1v1h-1zM26 98h1v1h-1zM23 100h1v1h-1zM25 100h1v1h-1zM24 102h1v1h-1zM27 102h1v1h-1zM28 103h1v1h-1zM27 106h1v1h-1z"/>
<path fill="#3e4989" d="M39 17h1v1h-1zM43 19h1v1h-1zM39 21h1v1h-1zM44 22h1v1h-1zM46 22h1v1h-1zM43 23h1v1h-1zM37 25h1v1h-1zM40 26h1v1h-1zM49 26h1v1h-1zM36 27h1v1h-1zM38 27h1v1h-1zM44 27h2v1h-2zM40 28h1v1h-1zM38 29h1v1h-1zM40 31h1v1h-1zM50 31h1v1h-1zM39 35h1v1h-1zM41 35h1v1h-1zM38 36h1v1h-1zM45 37h1v1h-1zM39 38h1v1h-1zM38 40h1v1h-1zM3 41h1v1h-1zM35 41h1v1h-1zM6 42h2v1h-2zM38 42h1v1h-1zM2 43h2v1h-2zM5 43h1v1h-1zM10 43h1v1h-1zM32 43h1v1h-1zM6 44h1v1h-1zM15 44h1v1h-1zM17 44h1v1h-1zM27 44h1v1h-1zM29 44h1v1h-1zM32 44h1v1h-1zM19 45h1v1h-1zM22 45h1v1h-1zM25 45h2v1h-2zM30 45h1v1h-1zM19 46h1v1h-1zM7 62h1v1h-1zM3 63h1v1h-1zM10 64h1v1h-1zM0 65h2v1h-2zM1 66h1v1h-1zM21 66h2v1h-2zM5 67h1v1h-1zM24 67h1v1h-1zM1 68h1v1h-1zM13 69h1v1h-1zM0 70h1v1h-1zM3 70h2v1h-2zM6 71h2v1h-2zM9 71h1v1h-1zM11 71h1v1h-1zM13 71h1v1h-1zM3 72h1v1h-1zM10 72h1v1h-1zM6 73h1v1h-1zM10 73h2v1h-2zM5 74h1v1h-1zM10 74h2v1h-2zM14 74h1v1h-1zM19 74h1v1h-1zM7 75h2v1h-2zM11 75h1v1h-1zM14 75h1v1h-1zM15 76h1v1h-1zM18 76h1v1h-1zM4 77h1v1h-1zM20 77h1v1h-1zM6 78h1v1h-1zM13 78h1v1h-1zM18 78h1v1h-1zM2 79h1v1h-1zM10 79h2v1h-2zM16 79h1v1h-1zM18 79h1v1h-1zM21 79h1v1h-1zM11 80h1v1h-1zM15 80h1v1h-1zM18 80h1v1h-1zM23 80h1v1h-1zM17 82h1v1h-1zM22 82h1v1h-1zM25 82h1v1h-1zM31 82h1v1h-1zM12 83h1v1h-1zM15 83h1v1h-1zM18 83h1v1h-1zM11 84h1v1h-1zM21 85h1v1h-1zM11 86h1v1h-1zM18 86h1v1h-1zM24 86h1v1h-1zM24 87h1v1h-1zM16 89h2v1h-2zM17 90h1v1h-1zM21 90h1v1h-1zM23 90h2v1h-2zM27 90h1v1h-1zM19 91h1v1h-1zM22 91h1v1h-1zM18 92h1v1h-1zM20 93h1v1h-1zM22 93h3v1h-3zM22 94h1v1h-1zM25 94h1v1h-1zM23 95h1v1h-1zM23 96h1v1h-1zM30 96h1v1h-1zM21 97h1v1h-1zM24 97h1v1h-1zM33 97h1v1h-1zM32 98h1v1h-1zM27 99h1v1h-1zM26 100h1v1h-1zM27 101h1v1h-1zM34 101h1v1h-1zM25 102h1v1h-1zM27 104h1v1h-1z"/>
<path fill="#3d4e8a" d="M44 18h1v1h-1zM48 19h1v1h-1zM45 21h1v1h-1zM52 24h2v1h-2zM43 26h1v1h-1zM45 26h1v1h-1zM40 27h1v1h-1zM40 29h1v1h-1zM45 29h1v1h-1zM46 30h1v1h-1zM38 31h1v1h-1zM41 31h1v1h-1zM39 32h1v1h-1zM43 33h1v1h-1zM39 34h1v1h-1zM38 35h1v1h-1zM52 35h1v1h-1zM37 36h1v1h-1zM33 38h1v1h-1zM36 38h1v1h-1zM46 38h1v1h-1zM39 40h1v1h-1zM37 41h1v1h-1zM39 41h1v1h-1zM2 42h2v1h-2zM0 43h2v1h-2zM6 43h1v1h-1zM8 43h1v1h-1zM4 44h1v1h-1zM9 44h1v1h-1zM18 45h1v1h-1zM20 45h1v1h-1zM24 45h1v1h-1zM36 45h1v1h-1zM2 61h1v1h-1zM4 62h1v1h-1zM11 62h1v1h-1zM4 63h1v1h-1zM2 64h1v1h-1zM4 65h1v1h-1zM11 65h1v1h-1zM9 66h1v1h-1zM12 66h1v1h-1zM15 66h1v1h-1zM20 66h1v1h-1zM6 67h1v1h-1zM11 67h1v1h-1zM2 68h1v1h-1zM4 68h1v1h-1zM7 68h1v1h-1zM13 68h1v1h-1zM4 69h1v1h-1zM9 69h1v1h-1zM20 69h1v1h-1zM14 70h2v1h-2zM1 71h1v1h-1zM10 71h1v1h-1zM14 71h1v1h-1zM0 72h1v1h-1zM6 72h1v1h-1zM17 72h1v1h-1zM15 73h1v1h-1zM18 74h1v1h-1zM23 74h1v1h-1zM7 76h1v1h-1zM10 76h1v1h-1zM14 76h1v1h-1zM17 76h1v1h-1zM14 77h2v1h-2zM18 77h1v1h-1zM14 78h1v1h-1zM21 78h2v1h-2zM19 79h2v1h-2zM24 79h1v1h-1zM4 80h1v1h-1zM17 80h1v1h-1zM21 80h1v1h-1zM25 80h1v1h-1zM23 82h2v1h-2zM33 82h1v1h-1zM14 83h1v1h-1zM22 84h1v1h-1zM28 84h1v1h-1zM19 85h1v1h-1zM23 85h1v1h-1zM28 85h1v1h-1zM31 86h1v1h-1zM16 88h1v1h-1zM19 88h1v1h-1zM25 88h1v1h-1zM23 89h1v1h-1zM18 91h1v1h-1zM24 91h1v1h-1zM26 91h1v1h-1zM19 92h1v1h-1zM23 92h1v1h-1zM18 93h1v1h-1zM23 94h1v1h-1zM22 95h1v1h-1zM24 95h1v1h-1zM24 96h1v1h-1zM26 99h1v1h-1zM32 99h1v1h-1zM38 99h1v1h-1zM27 100h1v1h-1zM32 100h1v1h-1zM28 101h1v1h-1zM26 102h1v1h-1zM28 104h1v1h-1zM37 104h1v1h-1zM42 105h1v1h-1zM28 106h1v1h-1zM41 107h1v1h-1z"/>
<path fill="#3a538b" d="M46 16h1v1h-1zM47 18h1v1h-1zM41 19h1v1h-1zM50 19h1v1h-1zM47 20h1v1h-1zM44 21h1v1h-1zM46 21h1v1h-1zM40 23h1v1h-1zM45 23h1v1h-1zM49 24h1v1h-1zM42 25h2v1h-2zM41 26h1v1h-1zM37 27h1v1h-1zM46 27h1v1h-1zM48 27h1v1h-1zM47 28h2v1h-2zM47 29h1v1h-1zM39 30h1v1h-1zM47 30h1v1h-1zM43 32h3v1h-3zM51 32h1v1h-1zM38 33h1v1h-1zM40 34h1v1h-1zM53 34h1v1h-1zM45 35h1v1h-1zM36 36h1v1h-1zM47 36h1v1h-1zM44 37h1v1h-1zM38 39h1v1h-1zM38 41h1v1h-1zM39 42h1v1h-1zM44 42h1v1h-1zM34 43h3v1h-3zM1 44h1v1h-1zM12 44h1v1h-1zM30 44h1v1h-1zM35 44h1v1h-1zM9 45h1v1h-1zM28 45h1v1h-1zM33 45h1v1h-1zM35 45h1v1h-1zM21 46h2v1h-2zM25 46h1v1h-1zM0 61h1v1h-1zM3 61h2v1h-2zM0 62h1v1h-1zM5 62h1v1h-1zM4 64h1v1h-1zM11 64h1v1h-1zM22 64h1v1h-1zM5 65h2v1h-2zM8 65h1v1h-1zM2 66h1v1h-1zM4 66h1v1h-1zM7 66h1v1h-1zM11 66h1v1h-1zM16 66h1v1h-1zM13 67h1v1h-1zM3 68h1v1h-1zM8 68h3v1h-3zM15 68h1v1h-1zM0 69h1v1h-1zM8 69h1v1h-1zM12 69h1v1h-1zM14 69h1v1h-1zM16 69h1v1h-1zM19 69h1v1h-1zM8 70h1v1h-1zM13 70h1v1h-1zM17 71h1v1h-1zM19 71h2v1h-2zM25 71h1v1h-1zM12 72h1v1h-1zM14 72h1v1h-1zM18 72h1v1h-1zM13 73h1v1h-1zM16 73h1v1h-1zM23 73h1v1h-1zM26 74h1v1h-1zM20 76h1v1h-1zM22 76h1v1h-1zM25 76h1v1h-1zM9 77h1v1h-1zM11 77h1v1h-1zM17 77h1v1h-1zM21 77h1v1h-1zM26 78h1v1h-1zM35 78h1v1h-1zM14 79h1v1h-1zM23 79h1v1h-1zM26 80h1v1h-1zM31 80h1v1h-1zM15 81h1v1h-1zM17 81h1v1h-1zM24 81h1v1h-1zM28 81h1v1h-1zM18 82h1v1h-1zM20 83h2v1h-2zM23 83h1v1h-1zM27 83h1v1h-1zM18 84h1v1h-1zM21 84h1v1h-1zM35 84h1v1h-1zM24 85h1v1h-1zM27 85h1v1h-1zM20 86h2v1h-2zM33 86h1v1h-1zM18 87h2v1h-2zM25 87h1v1h-1zM18 89h2v1h-2zM24 89h1v1h-1zM20 90h1v1h-1zM22 90h1v1h-1zM26 90h1v1h-1zM29 90h1v1h-1zM20 91h1v1h-1zM23 91h1v1h-1zM27 91h1v1h-1zM31 92h1v1h-1zM30 93h1v1h-1zM24 94h1v1h-1zM26 94h1v1h-1zM25 95h2v1h-2zM31 95h2v1h-2zM36 95h1v1h-1zM22 96h1v1h-1zM26 97h2v1h-2zM30 98h1v1h-1zM36 102h1v1h-1zM40 102h1v1h-1zM38 103h1v1h-1zM41 103h1v1h-1zM28 105h1v1h-1z"/>
<path fill="#38588c" d="M46 17h1v1h-1zM49 19h1v1h-1zM46 20h1v1h-1zM53 22h1v1h-1zM47 23h1v1h-1zM51 23h1v1h-1zM54 23h1v1h-1zM41 24h1v1h-1zM44 24h2v1h-2zM44 25h2v1h-2zM47 26h2v1h-2zM51 26h1v1h-1zM39 27h1v1h-1zM43 27h1v1h-1zM49 27h1v1h-1zM52 28h1v1h-1zM39 29h1v1h-1zM43 29h2v1h-2zM43 30h1v1h-1zM43 31h2v1h-2zM53 31h1v1h-1zM42 32h1v1h-1zM44 33h1v1h-1zM48 33h1v1h-1zM38 34h1v1h-1zM44 34h1v1h-1zM47 34h1v1h-1zM44 35h1v1h-1zM43 36h1v1h-1zM46 36h1v1h-1zM38 37h1v1h-1zM40 37h2v1h-2zM43 38h2v1h-2zM37 39h1v1h-1zM41 39h2v1h-2zM47 39h1v1h-1zM53 39h1v1h-1zM40 40h3v1h-3zM5 42h1v1h-1zM12 42h1v1h-1zM36 42h1v1h-1zM42 42h1v1h-1zM11 44h1v1h-1zM13 44h2v1h-2zM33 44h1v1h-1zM37 44h3v1h-3zM12 45h1v1h-1zM15 45h2v1h-2zM31 45h1v1h-1zM24 46h1v1h-1zM29 46h2v1h-2zM32 46h1v1h-1zM35 46h1v1h-1zM38 46h1v1h-1zM27 47h1v1h-1zM1 57h1v1h-1zM5 59h1v1h-1zM7 61h1v1h-1zM9 62h1v1h-1zM2 63h1v1h-1zM9 63h1v1h-1zM13 63h1v1h-1zM8 64h1v1h-1zM13 64h1v1h-1zM17 64h1v1h-1zM3 65h1v1h-1zM6 66h1v1h-1zM10 66h1v1h-1zM13 66h1v1h-1zM7 67h2v1h-2zM12 67h1v1h-1zM15 67h1v1h-1zM21 67h1v1h-1zM0 68h1v1h-1zM28 68h1v1h-1zM5 69h1v1h-1zM17 69h1v1h-1zM12 70h1v1h-1zM18 70h1v1h-1zM23 70h1v1h-1zM15 71h2v1h-2zM22 71h1v1h-1zM9 72h1v1h-1zM15 72h2v1h-2zM8 73h1v1h-1zM35 73h1v1h-1zM15 74h1v1h-1zM30 74h1v1h-1zM13 75h1v1h-1zM17 75h1v1h-1zM19 75h1v1h-1zM21 75h1v1h-1zM24 75h1v1h-1zM26 76h1v1h-1zM30 77h1v1h-1zM16 78h1v1h-1zM28 78h1v1h-1zM22 79h1v1h-1zM26 79h1v1h-1zM22 80h1v1h-1zM24 80h1v1h-1zM27 80h1v1h-1zM21 81h1v1h-1zM16 82h1v1h-1zM19 82h1v1h-1zM21 82h1v1h-1zM27 82h1v1h-1zM34 82h1v1h-1zM22 83h1v1h-1zM25 83h1v1h-1zM28 83h2v1h-2zM19 84h1v1h-1zM23 84h1v1h-1zM26 84h1v1h-1zM29 84h1v1h-1zM33 84h1v1h-1zM18 85h1v1h-1zM22 85h1v1h-1zM32 85h1v1h-1zM39 85h1v1h-1zM22 86h1v1h-1zM35 87h1v1h-1zM20 88h1v1h-1zM22 88h1v1h-1zM27 88h2v1h-2zM36 88h1v1h-1zM30 89h1v1h-1zM28 90h1v1h-1zM30 90h1v1h-1zM25 91h1v1h-1zM24 92h1v1h-1zM28 92h1v1h-1zM35 92h1v1h-1zM37 92h1v1h-1zM27 93h3v1h-3zM31 94h1v1h-1zM27 95h1v1h-1zM29 95h2v1h-2zM34 95h1v1h-1zM26 96h1v1h-1zM28 96h1v1h-1zM23 97h1v1h-1zM25 97h1v1h-1zM28 97h1v1h-1zM31 97h1v1h-1zM28 98h1v1h-1zM31 98h1v1h-1zM25 99h1v1h-1zM29 99h1v1h-1zM33 100h3v1h-3zM26 101h1v1h-1zM29 102h1v1h-1zM27 103h1v1h-1zM36 103h1v1h-1zM40 104h1v1h-1zM40 106h1v1h-1zM45 108h1v1h-1z"/>
<path fill="#365c8d" d="M44 16h1v1h-1zM44 17h1v1h-1zM44 19h1v1h-1zM47 19h1v1h-1zM40 20h1v1h-1zM43 20h3v1h-3zM41 23h1v1h-1zM44 23h1v1h-1zM48 24h1v1h-1zM49 25h1v1h-1zM53 25h1v1h-1zM56 25h1v1h-1zM39 26h1v1h-1zM46 26h1v1h-1zM50 26h1v1h-1zM51 27h1v1h-1zM53 27h1v1h-1zM56 28h1v1h-1zM42 29h1v1h-1zM42 30h1v1h-1zM48 30h1v1h-1zM50 30h1v1h-1zM46 31h1v1h-1zM51 31h1v1h-1zM45 33h1v1h-1zM42 34h2v1h-2zM45 34h1v1h-1zM42 35h1v1h-1zM53 35h1v1h-1zM40 36h2v1h-2zM48 36h1v1h-1zM59 36h1v1h-1zM50 37h1v1h-1zM38 38h1v1h-1zM50 38h1v1h-1zM39 39h1v1h-1zM50 39h1v1h-1zM43 40h1v1h-1zM41 41h1v1h-1zM0 42h1v1h-1zM37 43h2v1h-2zM42 43h1v1h-1zM49 43h1v1h-1zM7 44h1v1h-1zM36 44h1v1h-1zM7 45h1v1h-1zM10 45h2v1h-2zM13 45h1v1h-1zM17 45h1v1h-1zM23 45h1v1h-1zM18 46h1v1h-1zM23 47h1v1h-1zM28 47h1v1h-1zM6 54h1v1h-1zM16 58h1v1h-1zM0 59h1v1h-1zM3 59h1v1h-1zM10 59h1v1h-1zM15 59h1v1h-1zM7 60h1v1h-1zM9 60h2v1h-2zM13 60h1v1h-1zM15 60h1v1h-1zM5 61h1v1h-1zM14 61h1v1h-1zM17 61h1v1h-1zM2 62h1v1h-1zM10 62h1v1h-1zM18 62h1v1h-1zM5 63h4v1h-4zM1 64h1v1h-1zM3 64h1v1h-1zM9 64h1v1h-1zM15 64h2v1h-2zM7 65h1v1h-1zM12 65h2v1h-2zM14 66h1v1h-1zM17 66h1v1h-1zM17 67h2v1h-2zM12 68h1v1h-1zM14 68h1v1h-1zM16 68h1v1h-1zM19 68h1v1h-1zM15 69h1v1h-1zM22 69h1v1h-1zM24 69h1v1h-1zM11 70h1v1h-1zM17 70h1v1h-1zM21 70h1v1h-1zM18 71h1v1h-1zM32 71h1v1h-1zM23 72h1v1h-1zM9 73h1v1h-1zM14 73h1v1h-1zM18 73h4v1h-4zM29 73h1v1h-1zM20 74h2v1h-2zM25 74h1v1h-1zM18 75h1v1h-1zM22 75h1v1h-1zM25 75h1v1h-1zM19 76h1v1h-1zM27 76h1v1h-1zM30 76h1v1h-1zM32 77h1v1h-1zM19 78h1v1h-1zM30 78h2v1h-2zM17 79h1v1h-1zM34 80h1v1h-1zM36 80h1v1h-1zM26 81h2v1h-2zM30 81h1v1h-1zM32 81h1v1h-1zM34 81h1v1h-1zM20 82h1v1h-1zM36 83h1v1h-1zM27 84h1v1h-1zM31 84h2v1h-2zM34 84h1v1h-1zM38 84h1v1h-1zM26 85h1v1h-1zM30 85h2v1h-2zM27 86h3v1h-3zM23 87h1v1h-1zM26 87h2v1h-2zM33 87h1v1h-1zM37 87h1v1h-1zM23 88h1v1h-1zM31 88h1v1h-1zM26 89h4v1h-4zM25 90h1v1h-1zM32 90h2v1h-2zM28 91h1v1h-1zM30 91h2v1h-2zM38 91h1v1h-1zM26 92h1v1h-1zM36 92h1v1h-1zM38 92h1v1h-1zM26 93h1v1h-1zM31 93h1v1h-1zM30 94h1v1h-1zM42 94h1v1h-1zM28 95h1v1h-1zM25 96h1v1h-1zM27 96h1v1h-1zM25 98h1v1h-1zM27 98h1v1h-1zM37 98h1v1h-1zM30 99h1v1h-1zM34 99h2v1h-2zM44 99h2v1h-2zM28 100h1v1h-1zM29 101h1v1h-1zM35 101h1v1h-1zM40 101h1v1h-1zM33 102h2v1h-2zM38 102h1v1h-1zM40 103h1v1h-1zM42 104h1v1h-1zM39 105h1v1h-1zM44 106h1v1h-1zM54 108h1v1h-1z"/>
<path fill="#34608d" d="M49 22h2v1h-2zM52 23h1v1h-1zM51 24h1v1h-1zM51 25h1v1h-1zM42 27h1v1h-1zM52 27h1v1h-1zM58 27h1v1h-1zM42 28h1v1h-1zM44 28h1v1h-1zM49 28h1v1h-1zM41 29h1v1h-1zM46 29h1v1h-1zM49 30h1v1h-1zM42 31h1v1h-1zM45 31h1v1h-1zM49 31h1v1h-1zM52 31h1v1h-1zM40 32h2v1h-2zM47 32h1v1h-1zM42 33h1v1h-1zM48 34h1v1h-1zM43 35h1v1h-1zM39 36h1v1h-1zM45 36h1v1h-1zM51 36h1v1h-1zM56 36h1v1h-1zM43 37h1v1h-1zM46 37h1v1h-1zM49 37h1v1h-1zM51 37h1v1h-1zM58 37h1v1h-1zM42 38h1v1h-1zM47 38h2v1h-2zM55 38h1v1h-1zM43 39h1v1h-1zM45 39h1v1h-1zM48 39h2v1h-2zM44 40h1v1h-1zM49 40h2v1h-2zM10 41h1v1h-1zM43 41h2v1h-2zM50 42h1v1h-1zM39 43h1v1h-1zM2 44h1v1h-1zM8 44h1v1h-1zM0 45h2v1h-2zM8 45h1v1h-1zM34 45h1v1h-1zM40 45h1v1h-1zM14 46h1v1h-1zM16 46h1v1h-1zM28 46h1v1h-1zM31 46h1v1h-1zM26 47h1v1h-1zM29 47h2v1h-2zM49 47h1v1h-1zM0 55h1v1h-1zM6 56h1v1h-1zM2 58h1v1h-1zM1 59h1v1h-1zM6 59h1v1h-1zM12 59h1v1h-1zM0 60h1v1h-1zM8 60h1v1h-1zM14 60h1v1h-1zM11 61h2v1h-2zM1 62h1v1h-1zM12 62h1v1h-1zM12 63h1v1h-1zM23 64h2v1h-2zM14 65h2v1h-2zM17 65h1v1h-1zM21 65h1v1h-1zM19 66h1v1h-1zM3 67h1v1h-1zM14 67h1v1h-1zM22 67h1v1h-1zM25 67h1v1h-1zM11 68h1v1h-1zM22 68h2v1h-2zM25 68h2v1h-2zM7 69h1v1h-1zM18 69h1v1h-1zM28 69h1v1h-1zM25 70h2v1h-2zM33 70h1v1h-1zM8 71h1v1h-1zM33 71h1v1h-1zM20 72h1v1h-1zM22 72h1v1h-1zM26 73h2v1h-2zM31 73h1v1h-1zM17 74h1v1h-1zM22 74h1v1h-1zM20 75h1v1h-1zM23 75h1v1h-1zM31 75h1v1h-1zM24 76h1v1h-1zM32 76h1v1h-1zM38 76h1v1h-1zM25 77h1v1h-1zM31 77h1v1h-1zM33 78h1v1h-1zM36 78h1v1h-1zM39 78h1v1h-1zM28 79h1v1h-1zM31 79h1v1h-1zM34 79h1v1h-1zM36 79h1v1h-1zM28 80h1v1h-1zM19 81h1v1h-1zM23 81h1v1h-1zM25 81h1v1h-1zM26 82h1v1h-1zM29 82h1v1h-1zM35 82h1v1h-1zM24 83h1v1h-1zM31 83h1v1h-1zM24 84h1v1h-1zM29 85h1v1h-1zM34 85h1v1h-1zM26 86h1v1h-1zM39 86h1v1h-1zM29 87h1v1h-1zM24 88h1v1h-1zM32 88h2v1h-2zM35 88h1v1h-1zM21 89h1v1h-1zM25 89h1v1h-1zM35 89h1v1h-1zM46 89h1v1h-1zM29 91h1v1h-1zM32 91h1v1h-1zM34 91h1v1h-1zM27 92h1v1h-1zM32 92h1v1h-1zM34 92h1v1h-1zM25 93h1v1h-1zM35 93h2v1h-2zM27 94h1v1h-1zM35 94h1v1h-1zM31 96h2v1h-2zM38 96h1v1h-1zM30 97h1v1h-1zM34 97h2v1h-2zM29 98h1v1h-1zM38 98h1v1h-1zM40 98h1v1h-1zM31 99h1v1h-1zM29 100h3v1h-3zM36 100h1v1h-1zM41 100h1v1h-1zM32 101h1v1h-1zM37 101h1v1h-1zM46 101h1v1h-1zM31 102h1v1h-1zM35 102h1v1h-1zM37 102h1v1h-1zM39 103h1v1h-1zM43 103h1v1h-1zM39 104h1v1h-1zM41 104h1v1h-1zM54 104h1v1h-1zM40 105h1v1h-1zM48 106h1v1h-1zM44 107h1v1h-1zM42 108h1v1h-1zM48 111h1v1h-1z"/>
<path fill="#32648e" d="M53 23h1v1h-1zM55 24h1v1h-1zM46 25h1v1h-1zM42 26h1v1h-1zM54 27h1v1h-1zM50 28h1v1h-1zM54 29h1v1h-1zM56 30h1v1h-1zM48 31h1v1h-1zM54 31h1v1h-1zM58 31h1v1h-1zM56 32h1v1h-1zM46 33h2v1h-2zM54 33h1v1h-1zM50 34h3v1h-3zM54 34h1v1h-1zM46 35h2v1h-2zM49 35h1v1h-1zM44 36h1v1h-1zM57 37h1v1h-1zM40 38h2v1h-2zM49 38h1v1h-1zM40 39h1v1h-1zM40 41h1v1h-1zM45 41h1v1h-1zM47 41h1v1h-1zM49 41h1v1h-1zM40 42h1v1h-1zM45 42h1v1h-1zM53 42h1v1h-1zM43 43h2v1h-2zM55 43h1v1h-1zM0 44h1v1h-1zM40 44h1v1h-1zM43 44h1v1h-1zM46 44h1v1h-1zM14 45h1v1h-1zM38 45h2v1h-2zM13 46h1v1h-1zM17 46h1v1h-1zM27 46h1v1h-1zM33 46h2v1h-2zM39 46h1v1h-1zM41 46h1v1h-1zM18 47h1v1h-1zM33 47h2v1h-2zM36 47h2v1h-2zM40 47h1v1h-1zM27 48h1v1h-1zM41 48h1v1h-1zM1 56h3v1h-3zM7 56h2v1h-2zM0 57h1v1h-1zM2 57h1v1h-1zM5 57h2v1h-2zM17 57h1v1h-1zM0 58h1v1h-1zM6 58h1v1h-1zM10 58h2v1h-2zM18 58h1v1h-1zM2 59h1v1h-1zM11 59h1v1h-1zM3 60h2v1h-2zM6 60h1v1h-1zM20 60h1v1h-1zM6 61h1v1h-1zM21 61h1v1h-1zM14 62h1v1h-1zM0 63h1v1h-1zM10 63h1v1h-1zM20 63h1v1h-1zM30 63h1v1h-1zM5 64h1v1h-1zM14 64h1v1h-1zM21 64h1v1h-1zM35 64h1v1h-1zM2 65h1v1h-1zM9 65h2v1h-2zM25 65h1v1h-1zM5 66h1v1h-1zM24 66h1v1h-1zM20 67h1v1h-1zM29 67h1v1h-1zM29 68h1v1h-1zM34 68h1v1h-1zM25 69h1v1h-1zM29 69h1v1h-1zM31 69h1v1h-1zM22 70h1v1h-1zM24 70h1v1h-1zM27 70h1v1h-1zM29 70h1v1h-1zM21 71h1v1h-1zM24 71h1v1h-1zM29 71h1v1h-1zM31 71h1v1h-1zM13 72h1v1h-1zM19 72h1v1h-1zM27 72h1v1h-1zM32 72h1v1h-1zM24 73h1v1h-1zM33 73h1v1h-1zM12 74h1v1h-1zM24 74h1v1h-1zM27 74h1v1h-1zM32 74h1v1h-1zM38 74h1v1h-1zM16 75h1v1h-1zM28 75h2v1h-2zM23 76h1v1h-1zM31 76h1v1h-1zM45 76h1v1h-1zM19 77h1v1h-1zM22 77h2v1h-2zM27 77h1v1h-1zM24 78h1v1h-1zM27 78h1v1h-1zM32 78h1v1h-1zM25 79h1v1h-1zM38 79h1v1h-1zM32 80h1v1h-1zM20 81h1v1h-1zM29 81h1v1h-1zM31 81h1v1h-1zM33 81h1v1h-1zM39 82h1v1h-1zM26 83h1v1h-1zM38 83h1v1h-1zM37 84h1v1h-1zM25 85h1v1h-1zM37 85h1v1h-1zM30 86h1v1h-1zM34 86h1v1h-1zM34 87h1v1h-1zM41 87h1v1h-1zM29 88h2v1h-2zM40 88h1v1h-1zM31 89h2v1h-2zM34 89h1v1h-1zM37 89h1v1h-1zM44 89h1v1h-1zM47 89h1v1h-1zM31 90h1v1h-1zM36 90h1v1h-1zM33 91h1v1h-1zM46 91h1v1h-1zM25 92h1v1h-1zM42 92h1v1h-1zM39 93h1v1h-1zM34 94h1v1h-1zM37 94h1v1h-1zM46 94h1v1h-1zM37 95h1v1h-1zM40 95h1v1h-1zM29 96h1v1h-1zM33 96h1v1h-1zM35 96h1v1h-1zM37 96h1v1h-1zM40 97h1v1h-1zM33 98h3v1h-3zM28 99h1v1h-1zM40 99h1v1h-1zM39 100h1v1h-1zM42 100h2v1h-2zM30 101h2v1h-2zM39 101h1v1h-1zM42 101h2v1h-2zM49 101h1v1h-1zM28 102h1v1h-1zM49 102h2v1h-2zM44 105h1v1h-1zM41 106h1v1h-1zM46 107h1v1h-1zM48 107h1v1h-1zM49 108h1v1h-1zM50 109h1v1h-1zM46 110h1v1h-1zM53 112h1v1h-1zM56 116h1v1h-1z"/>
<path fill="#31688e" d="M54 25h2v1h-2zM56 26h1v1h-1zM55 27h1v1h-1zM43 28h1v1h-1zM53 28h1v1h-1zM55 28h1v1h-1zM59 28h1v1h-1zM51 30h2v1h-2zM54 30h2v1h-2zM55 31h1v1h-1zM55 33h1v1h-1zM57 33h1v1h-1zM57 34h1v1h-1zM48 35h1v1h-1zM51 35h1v1h-1zM53 36h3v1h-3zM57 36h1v1h-1zM47 37h1v1h-1zM54 37h1v1h-1zM54 38h1v1h-1zM44 39h1v1h-1zM48 40h1v1h-1zM51 40h1v1h-1zM54 40h1v1h-1zM42 41h1v1h-1zM46 41h1v1h-1zM52 41h1v1h-1zM46 42h1v1h-1zM49 42h1v1h-1zM47 43h1v1h-1zM3 44h1v1h-1zM41 44h1v1h-1zM45 44h1v1h-1zM47 44h1v1h-1zM4 45h1v1h-1zM37 45h1v1h-1zM42 45h1v1h-1zM48 45h1v1h-1zM11 46h1v1h-1zM15 46h1v1h-1zM23 46h1v1h-1zM17 47h1v1h-1zM19 47h1v1h-1zM32 47h1v1h-1zM50 47h1v1h-1zM43 48h1v1h-1zM38 49h1v1h-1zM4 53h1v1h-1zM4 54h1v1h-1zM7 55h1v1h-1zM11 55h1v1h-1zM7 57h1v1h-1zM19 57h1v1h-1zM5 58h1v1h-1zM7 58h1v1h-1zM14 58h1v1h-1zM4 59h1v1h-1zM8 59h1v1h-1zM13 59h2v1h-2zM22 59h1v1h-1zM5 60h1v1h-1zM12 60h1v1h-1zM16 60h1v1h-1zM19 60h1v1h-1zM33 60h1v1h-1zM18 61h1v1h-1zM23 61h1v1h-1zM3 62h1v1h-1zM8 62h1v1h-1zM15 62h1v1h-1zM28 62h1v1h-1zM1 63h1v1h-1zM15 63h1v1h-1zM18 63h1v1h-1zM21 63h1v1h-1zM28 63h1v1h-1zM20 64h1v1h-1zM16 65h1v1h-1zM18 65h1v1h-1zM22 65h1v1h-1zM23 66h1v1h-1zM39 66h1v1h-1zM23 67h1v1h-1zM31 67h1v1h-1zM35 67h1v1h-1zM18 68h1v1h-1zM27 68h1v1h-1zM23 69h1v1h-1zM30 69h1v1h-1zM33 69h2v1h-2zM37 69h1v1h-1zM16 70h1v1h-1zM19 70h1v1h-1zM32 70h1v1h-1zM23 71h1v1h-1zM26 71h1v1h-1zM36 71h1v1h-1zM21 72h1v1h-1zM26 72h1v1h-1zM29 72h1v1h-1zM33 72h1v1h-1zM25 73h1v1h-1zM32 73h1v1h-1zM38 73h1v1h-1zM34 74h2v1h-2zM27 75h1v1h-1zM36 75h1v1h-1zM29 76h1v1h-1zM34 76h2v1h-2zM29 77h1v1h-1zM33 77h1v1h-1zM23 78h1v1h-1zM25 78h1v1h-1zM37 78h1v1h-1zM45 78h1v1h-1zM27 79h1v1h-1zM29 79h2v1h-2zM32 79h1v1h-1zM37 80h2v1h-2zM36 81h1v1h-1zM39 81h2v1h-2zM42 81h1v1h-1zM30 82h1v1h-1zM41 82h1v1h-1zM43 82h1v1h-1zM32 83h1v1h-1zM39 83h1v1h-1zM43 83h1v1h-1zM25 84h1v1h-1zM30 84h1v1h-1zM38 85h1v1h-1zM23 86h1v1h-1zM32 86h1v1h-1zM38 86h1v1h-1zM41 86h1v1h-1zM31 87h2v1h-2zM39 87h1v1h-1zM44 87h1v1h-1zM50 87h1v1h-1zM34 88h1v1h-1zM37 88h1v1h-1zM33 89h1v1h-1zM35 90h1v1h-1zM45 90h1v1h-1zM36 91h1v1h-1zM43 91h1v1h-1zM53 91h1v1h-1zM29 92h2v1h-2zM33 92h1v1h-1zM33 93h1v1h-1zM41 93h2v1h-2zM32 94h2v1h-2zM38 94h1v1h-1zM40 94h1v1h-1zM48 94h1v1h-1zM52 94h1v1h-1zM33 95h1v1h-1zM46 95h1v1h-1zM46 96h1v1h-1zM36 97h3v1h-3zM24 98h1v1h-1zM36 98h1v1h-1zM42 98h1v1h-1zM39 99h1v1h-1zM38 100h1v1h-1zM44 100h1v1h-1zM49 100h1v1h-1zM33 101h1v1h-1zM43 105h1v1h-1zM46 105h1v1h-1zM48 105h1v1h-1zM53 105h1v1h-1zM46 106h2v1h-2zM45 107h1v1h-1zM53 107h1v1h-1zM41 108h1v1h-1zM43 108h1v1h-1zM44 109h1v1h-1zM46 109h2v1h-2zM45 110h1v1h-1zM48 110h1v1h-1zM46 111h1v1h-1zM49 111h1v1h-1zM48 112h1v1h-1zM50 112h1v1h-1zM57 112h1v1h-1zM62 113h1v1h-1zM52 115h1v1h-1z"/>
<path fill="#2f6c8e" d="M47 27h1v1h-1zM49 29h2v1h-2zM57 30h1v1h-1zM48 32h1v1h-1zM50 32h1v1h-1zM58 36h1v1h-1zM53 37h1v1h-1zM46 39h1v1h-1zM55 39h1v1h-1zM58 39h1v1h-1zM62 39h1v1h-1zM47 40h1v1h-1zM57 40h1v1h-1zM50 41h1v1h-1zM41 42h1v1h-1zM48 42h1v1h-1zM56 42h1v1h-1zM40 43h2v1h-2zM52 43h1v1h-1zM42 44h1v1h-1zM44 44h1v1h-1zM50 44h2v1h-2zM55 44h1v1h-1zM57 44h1v1h-1zM2 45h1v1h-1zM6 45h1v1h-1zM44 45h1v1h-1zM47 45h1v1h-1zM51 45h1v1h-1zM54 45h1v1h-1zM12 46h1v1h-1zM26 46h1v1h-1zM36 46h1v1h-1zM40 46h1v1h-1zM45 46h1v1h-1zM13 47h1v1h-1zM22 47h1v1h-1zM24 47h1v1h-1zM23 48h3v1h-3zM28 48h1v1h-1zM30 48h2v1h-2zM46 48h1v1h-1zM34 49h1v1h-1zM42 49h1v1h-1zM0 52h1v1h-1zM4 52h1v1h-1zM8 52h1v1h-1zM11 52h1v1h-1zM3 53h1v1h-1zM0 54h1v1h-1zM15 54h1v1h-1zM24 54h1v1h-1zM1 55h1v1h-1zM4 55h1v1h-1zM8 55h1v1h-1zM16 55h1v1h-1zM13 56h2v1h-2zM16 56h1v1h-1zM34 56h1v1h-1zM9 57h2v1h-2zM12 57h1v1h-1zM14 57h2v1h-2zM22 57h1v1h-1zM29 57h1v1h-1zM1 58h1v1h-1zM4 58h1v1h-1zM8 58h2v1h-2zM9 59h1v1h-1zM16 59h1v1h-1zM24 59h1v1h-1zM33 59h1v1h-1zM1 60h2v1h-2zM32 60h1v1h-1zM1 61h1v1h-1zM9 61h2v1h-2zM15 61h2v1h-2zM27 61h2v1h-2zM16 62h1v1h-1zM22 62h2v1h-2zM25 62h1v1h-1zM27 62h1v1h-1zM30 62h1v1h-1zM17 63h1v1h-1zM6 64h1v1h-1zM19 64h1v1h-1zM31 64h2v1h-2zM19 65h2v1h-2zM18 66h1v1h-1zM26 66h2v1h-2zM31 66h1v1h-1zM35 66h1v1h-1zM16 67h1v1h-1zM19 67h1v1h-1zM30 67h1v1h-1zM39 67h1v1h-1zM20 68h1v1h-1zM30 68h3v1h-3zM38 68h1v1h-1zM21 69h1v1h-1zM39 69h1v1h-1zM20 70h1v1h-1zM30 70h2v1h-2zM35 70h1v1h-1zM28 71h1v1h-1zM38 71h1v1h-1zM28 72h1v1h-1zM31 72h1v1h-1zM36 72h1v1h-1zM45 72h1v1h-1zM30 73h1v1h-1zM36 73h1v1h-1zM45 73h1v1h-1zM29 74h1v1h-1zM33 74h1v1h-1zM46 74h1v1h-1zM35 75h1v1h-1zM33 76h1v1h-1zM37 76h1v1h-1zM40 76h2v1h-2zM43 76h1v1h-1zM24 77h1v1h-1zM28 77h1v1h-1zM35 77h1v1h-1zM37 77h1v1h-1zM39 77h1v1h-1zM41 77h1v1h-1zM44 77h1v1h-1zM34 78h1v1h-1zM41 78h1v1h-1zM33 79h1v1h-1zM37 79h1v1h-1zM43 79h1v1h-1zM46 79h1v1h-1zM29 80h1v1h-1zM33 80h1v1h-1zM40 80h1v1h-1zM41 81h1v1h-1zM47 81h1v1h-1zM38 82h1v1h-1zM34 83h2v1h-2zM41 83h1v1h-1zM36 85h1v1h-1zM40 85h1v1h-1zM46 86h1v1h-1zM21 87h1v1h-1zM42 87h1v1h-1zM51 87h1v1h-1zM26 88h1v1h-1zM44 88h2v1h-2zM55 88h1v1h-1zM36 89h1v1h-1zM39 89h1v1h-1zM41 89h1v1h-1zM37 90h1v1h-1zM47 90h1v1h-1zM35 91h1v1h-1zM37 91h1v1h-1zM39 91h4v1h-4zM50 91h1v1h-1zM52 91h1v1h-1zM54 92h1v1h-1zM56 92h1v1h-1zM32 93h1v1h-1zM40 93h1v1h-1zM29 94h1v1h-1zM36 94h1v1h-1zM41 94h1v1h-1zM45 94h1v1h-1zM38 95h1v1h-1zM44 95h1v1h-1zM34 96h1v1h-1zM36 96h1v1h-1zM39 96h1v1h-1zM44 96h1v1h-1zM50 96h1v1h-1zM32 97h1v1h-1zM46 97h2v1h-2zM52 97h1v1h-1zM39 98h1v1h-1zM41 98h1v1h-1zM43 98h1v1h-1zM45 98h1v1h-1zM47 98h1v1h-1zM49 98h1v1h-1zM52 98h1v1h-1zM33 99h1v1h-1zM36 99h1v1h-1zM45 100h1v1h-1zM47 100h1v1h-1zM50 100h1v1h-1zM36 101h1v1h-1zM38 101h1v1h-1zM41 101h1v1h-1zM45 101h1v1h-1zM39 102h1v1h-1zM47 102h1v1h-1zM42 103h1v1h-1zM49 103h1v1h-1zM38 104h1v1h-1zM44 104h1v1h-1zM49 104h3v1h-3zM57 105h1v1h-1zM39 106h1v1h-1zM40 107h1v1h-1zM42 107h1v1h-1zM47 107h1v1h-1zM50 107h2v1h-2zM44 108h1v1h-1zM49 109h1v1h-1zM51 109h1v1h-1zM53 109h1v1h-1zM55 110h1v1h-1zM47 111h1v1h-1zM52 111h1v1h-1zM48 113h1v1h-1z"/>
<path fill="#2d708e" d="M52 21h1v1h-1zM56 27h1v1h-1zM51 28h1v1h-1zM55 29h1v1h-1zM57 31h1v1h-1zM52 32h1v1h-1zM54 32h1v1h-1zM58 32h1v1h-1zM62 32h1v1h-1zM51 33h1v1h-1zM53 33h1v1h-1zM56 34h1v1h-1zM55 35h1v1h-1zM52 36h1v1h-1zM61 37h1v1h-1zM51 38h2v1h-2zM56 38h1v1h-1zM59 39h1v1h-1zM53 40h1v1h-1zM48 41h1v1h-1zM58 41h1v1h-1zM43 42h1v1h-1zM52 42h1v1h-1zM54 42h1v1h-1zM46 43h1v1h-1zM48 43h1v1h-1zM50 43h1v1h-1zM60 43h1v1h-1zM61 44h1v1h-1zM3 45h1v1h-1zM5 45h1v1h-1zM41 45h1v1h-1zM49 45h2v1h-2zM6 46h2v1h-2zM37 46h1v1h-1zM54 46h1v1h-1zM11 47h2v1h-2zM16 47h1v1h-1zM20 47h1v1h-1zM35 47h1v1h-1zM41 47h1v1h-1zM53 47h1v1h-1zM29 48h1v1h-1zM33 48h1v1h-1zM37 48h2v1h-2zM45 48h1v1h-1zM52 48h1v1h-1zM10 49h1v1h-1zM17 49h1v1h-1zM33 49h1v1h-1zM52 50h1v1h-1zM6 51h1v1h-1zM1 52h1v1h-1zM48 52h1v1h-1zM2 53h1v1h-1zM6 53h1v1h-1zM2 54h1v1h-1zM5 54h1v1h-1zM14 54h1v1h-1zM23 54h1v1h-1zM6 55h1v1h-1zM10 55h1v1h-1zM12 55h1v1h-1zM20 55h1v1h-1zM31 55h1v1h-1zM10 56h1v1h-1zM12 56h1v1h-1zM17 56h1v1h-1zM21 56h1v1h-1zM24 56h1v1h-1zM4 57h1v1h-1zM16 57h1v1h-1zM18 57h1v1h-1zM3 58h1v1h-1zM17 58h1v1h-1zM27 58h1v1h-1zM33 58h1v1h-1zM7 59h1v1h-1zM17 59h1v1h-1zM21 59h1v1h-1zM21 60h1v1h-1zM28 60h1v1h-1zM30 60h1v1h-1zM34 60h1v1h-1zM13 61h1v1h-1zM19 61h1v1h-1zM22 61h1v1h-1zM25 61h1v1h-1zM29 61h1v1h-1zM35 61h1v1h-1zM6 62h1v1h-1zM17 62h1v1h-1zM19 62h3v1h-3zM31 62h1v1h-1zM38 62h1v1h-1zM11 63h1v1h-1zM14 63h1v1h-1zM22 63h1v1h-1zM24 63h1v1h-1zM37 63h1v1h-1zM25 64h3v1h-3zM33 64h1v1h-1zM24 65h1v1h-1zM27 65h1v1h-1zM29 65h1v1h-1zM37 65h2v1h-2zM43 65h1v1h-1zM29 66h2v1h-2zM33 66h1v1h-1zM38 66h1v1h-1zM26 67h3v1h-3zM32 67h2v1h-2zM36 67h1v1h-1zM17 68h1v1h-1zM24 68h1v1h-1zM27 69h1v1h-1zM32 69h1v1h-1zM42 69h1v1h-1zM28 70h1v1h-1zM34 70h1v1h-1zM38 70h1v1h-1zM37 71h1v1h-1zM44 71h2v1h-2zM24 72h2v1h-2zM30 72h1v1h-1zM35 72h1v1h-1zM37 72h1v1h-1zM28 73h1v1h-1zM50 73h1v1h-1zM28 74h1v1h-1zM36 74h2v1h-2zM47 74h1v1h-1zM26 75h1v1h-1zM34 75h1v1h-1zM40 75h1v1h-1zM46 75h1v1h-1zM28 76h1v1h-1zM52 77h1v1h-1zM48 78h1v1h-1zM35 79h1v1h-1zM30 80h1v1h-1zM41 80h1v1h-1zM43 80h1v1h-1zM45 80h1v1h-1zM54 80h1v1h-1zM37 81h2v1h-2zM43 81h1v1h-1zM28 82h1v1h-1zM47 82h1v1h-1zM54 82h1v1h-1zM30 83h1v1h-1zM40 83h1v1h-1zM40 84h2v1h-2zM44 84h1v1h-1zM56 84h2v1h-2zM41 85h1v1h-1zM43 85h1v1h-1zM47 85h1v1h-1zM40 86h1v1h-1zM45 86h1v1h-1zM50 86h1v1h-1zM30 87h1v1h-1zM43 87h1v1h-1zM48 87h1v1h-1zM55 87h1v1h-1zM38 88h2v1h-2zM42 88h1v1h-1zM49 88h1v1h-1zM38 89h1v1h-1zM45 89h1v1h-1zM51 89h1v1h-1zM34 90h1v1h-1zM55 90h1v1h-1zM48 91h2v1h-2zM39 92h2v1h-2zM43 92h1v1h-1zM46 92h1v1h-1zM37 93h2v1h-2zM55 93h1v1h-1zM47 94h1v1h-1zM39 95h1v1h-1zM41 95h2v1h-2zM45 95h1v1h-1zM40 96h2v1h-2zM45 96h1v1h-1zM49 96h1v1h-1zM51 96h1v1h-1zM41 97h5v1h-5zM48 98h1v1h-1zM54 98h1v1h-1zM37 99h1v1h-1zM49 99h1v1h-1zM51 99h2v1h-2zM60 99h1v1h-1zM40 100h1v1h-1zM48 100h1v1h-1zM53 100h1v1h-1zM56 100h1v1h-1zM51 101h2v1h-2zM41 102h1v1h-1zM44 102h1v1h-1zM53 102h2v1h-2zM45 103h1v1h-1zM47 103h2v1h-2zM51 103h1v1h-1zM53 103h1v1h-1zM45 104h1v1h-1zM41 105h1v1h-1zM45 105h1v1h-1zM47 105h1v1h-1zM49 105h4v1h-4zM55 105h1v1h-1zM42 106h2v1h-2zM50 106h1v1h-1zM43 107h1v1h-1zM52 107h1v1h-1zM56 107h1v1h-1zM46 108h1v1h-1zM55 108h1v1h-1zM60 108h1v1h-1zM48 109h1v1h-1zM57 109h1v1h-1zM47 110h1v1h-1zM49 110h3v1h-3zM53 110h1v1h-1zM50 111h2v1h-2zM56 111h1v1h-1zM49 112h1v1h-1zM52 112h1v1h-1zM55 112h2v1h-2zM50 113h1v1h-1zM54 113h1v1h-1zM53 114h1v1h-1z"/>
<path fill="#2c738e" d="M47 22h1v1h-1zM54 24h1v1h-1zM57 27h1v1h-1zM60 30h2v1h-2zM55 32h1v1h-1zM57 32h1v1h-1zM59 32h1v1h-1zM61 32h1v1h-1zM58 33h1v1h-1zM55 34h1v1h-1zM58 34h1v1h-1zM61 34h1v1h-1zM59 35h1v1h-1zM57 38h1v1h-1zM54 39h1v1h-1zM56 39h1v1h-1zM46 40h1v1h-1zM54 41h1v1h-1zM47 42h1v1h-1zM62 42h1v1h-1zM55 45h1v1h-1zM1 46h2v1h-2zM4 46h1v1h-1zM42 46h1v1h-1zM44 46h1v1h-1zM49 46h1v1h-1zM4 47h1v1h-1zM25 47h1v1h-1zM38 47h1v1h-1zM42 47h2v1h-2zM45 47h2v1h-2zM26 48h1v1h-1zM32 48h1v1h-1zM35 48h2v1h-2zM39 48h2v1h-2zM49 48h1v1h-1zM25 49h1v1h-1zM41 49h1v1h-1zM44 49h1v1h-1zM48 49h2v1h-2zM15 50h1v1h-1zM41 50h1v1h-1zM5 52h3v1h-3zM0 53h1v1h-1zM7 53h1v1h-1zM18 53h2v1h-2zM3 54h1v1h-1zM13 54h1v1h-1zM19 54h4v1h-4zM2 55h1v1h-1zM5 55h1v1h-1zM14 55h2v1h-2zM19 55h1v1h-1zM23 55h1v1h-1zM26 55h1v1h-1zM28 55h1v1h-1zM4 56h2v1h-2zM9 56h1v1h-1zM33 56h1v1h-1zM3 57h1v1h-1zM20 57h1v1h-1zM12 58h2v1h-2zM19 58h1v1h-1zM21 58h1v1h-1zM25 58h1v1h-1zM28 58h1v1h-1zM31 58h1v1h-1zM18 59h2v1h-2zM28 59h1v1h-1zM30 59h1v1h-1zM36 59h1v1h-1zM17 60h1v1h-1zM27 60h1v1h-1zM26 61h1v1h-1zM32 61h2v1h-2zM13 62h1v1h-1zM16 63h1v1h-1zM19 63h1v1h-1zM23 63h1v1h-1zM25 63h2v1h-2zM29 63h1v1h-1zM35 63h1v1h-1zM48 63h1v1h-1zM18 64h1v1h-1zM29 64h2v1h-2zM36 64h1v1h-1zM39 64h1v1h-1zM49 64h1v1h-1zM23 65h1v1h-1zM28 65h1v1h-1zM41 65h1v1h-1zM32 66h1v1h-1zM40 66h1v1h-1zM43 67h1v1h-1zM43 68h1v1h-1zM26 69h1v1h-1zM44 69h1v1h-1zM36 70h1v1h-1zM39 70h1v1h-1zM45 70h1v1h-1zM50 70h1v1h-1zM27 71h1v1h-1zM30 71h1v1h-1zM40 71h1v1h-1zM42 71h1v1h-1zM44 72h1v1h-1zM51 72h1v1h-1zM22 73h1v1h-1zM39 73h1v1h-1zM43 73h1v1h-1zM31 74h1v1h-1zM41 74h1v1h-1zM48 74h1v1h-1zM30 75h1v1h-1zM33 75h1v1h-1zM39 75h1v1h-1zM41 75h1v1h-1zM45 75h1v1h-1zM36 76h1v1h-1zM46 76h1v1h-1zM54 76h1v1h-1zM34 77h1v1h-1zM36 77h1v1h-1zM38 77h1v1h-1zM47 77h1v1h-1zM29 78h1v1h-1zM38 78h1v1h-1zM40 79h2v1h-2zM44 79h1v1h-1zM52 79h1v1h-1zM44 81h1v1h-1zM37 82h1v1h-1zM42 82h1v1h-1zM48 82h1v1h-1zM50 82h1v1h-1zM33 83h1v1h-1zM37 83h1v1h-1zM52 83h1v1h-1zM61 83h1v1h-1zM39 84h1v1h-1zM45 84h1v1h-1zM48 84h1v1h-1zM53 84h1v1h-1zM42 85h1v1h-1zM44 85h1v1h-1zM46 85h1v1h-1zM48 85h1v1h-1zM50 85h2v1h-2zM53 85h1v1h-1zM35 86h3v1h-3zM43 86h1v1h-1zM52 86h1v1h-1zM46 87h1v1h-1zM41 88h1v1h-1zM48 88h1v1h-1zM40 89h1v1h-1zM50 89h1v1h-1zM55 89h1v1h-1zM38 90h1v1h-1zM40 90h1v1h-1zM42 90h1v1h-1zM46 90h1v1h-1zM56 90h1v1h-1zM48 92h2v1h-2zM43 93h2v1h-2zM47 93h1v1h-1zM56 93h1v1h-1zM43 94h1v1h-1zM54 94h1v1h-1zM60 94h1v1h-1zM47 95h1v1h-1zM43 96h1v1h-1zM48 96h1v1h-1zM54 96h1v1h-1zM57 96h1v1h-1zM39 97h1v1h-1zM48 97h1v1h-1zM51 97h1v1h-1zM54 97h3v1h-3zM59 97h1v1h-1zM44 98h1v1h-1zM42 99h2v1h-2zM48 99h1v1h-1zM37 100h1v1h-1zM44 101h1v1h-1zM57 101h1v1h-1zM42 102h1v1h-1zM48 102h1v1h-1zM55 102h1v1h-1zM37 103h1v1h-1zM44 103h1v1h-1zM43 104h1v1h-1zM52 104h1v1h-1zM62 104h1v1h-1zM54 105h1v1h-1zM45 106h1v1h-1zM54 107h1v1h-1zM59 107h1v1h-1zM47 108h1v1h-1zM50 108h1v1h-1zM52 108h2v1h-2zM45 109h1v1h-1zM56 109h1v1h-1zM58 110h1v1h-1zM63 110h1v1h-1zM51 112h1v1h-1zM58 112h1v1h-1zM65 112h1v1h-1zM51 113h1v1h-1zM56 113h1v1h-1zM55 114h1v1h-1zM56 115h1v1h-1zM54 117h1v1h-1zM57 117h1v1h-1z"/>
<path fill="#2a778e" d="M58 30h2v1h-2zM63 31h1v1h-1zM60 34h1v1h-1zM62 34h1v1h-1zM57 35h1v1h-1zM48 37h1v1h-1zM52 37h1v1h-1zM55 37h2v1h-2zM62 37h1v1h-1zM45 40h1v1h-1zM66 40h1v1h-1zM55 41h1v1h-1zM57 41h1v1h-1zM62 41h1v1h-1zM58 42h2v1h-2zM45 43h1v1h-1zM54 43h1v1h-1zM62 43h1v1h-1zM48 44h2v1h-2zM59 44h1v1h-1zM45 45h1v1h-1zM52 45h1v1h-1zM58 45h1v1h-1zM61 45h1v1h-1zM8 46h1v1h-1zM10 46h1v1h-1zM47 46h1v1h-1zM50 46h1v1h-1zM52 46h1v1h-1zM59 46h1v1h-1zM5 47h1v1h-1zM8 47h2v1h-2zM31 47h1v1h-1zM44 47h1v1h-1zM48 47h1v1h-1zM57 47h1v1h-1zM18 48h1v1h-1zM34 48h1v1h-1zM6 49h1v1h-1zM13 49h1v1h-1zM30 49h1v1h-1zM45 49h2v1h-2zM62 49h1v1h-1zM1 50h1v1h-1zM48 50h1v1h-1zM2 51h1v1h-1zM7 51h1v1h-1zM19 51h1v1h-1zM22 51h1v1h-1zM2 52h1v1h-1zM25 52h1v1h-1zM13 53h1v1h-1zM9 54h1v1h-1zM16 54h1v1h-1zM9 55h1v1h-1zM13 55h1v1h-1zM18 55h1v1h-1zM25 55h1v1h-1zM0 56h1v1h-1zM15 56h1v1h-1zM19 56h1v1h-1zM26 56h1v1h-1zM8 57h1v1h-1zM11 57h1v1h-1zM15 58h1v1h-1zM20 58h1v1h-1zM23 58h2v1h-2zM26 58h1v1h-1zM23 59h1v1h-1zM25 59h1v1h-1zM29 59h1v1h-1zM18 60h1v1h-1zM25 60h1v1h-1zM29 60h1v1h-1zM8 61h1v1h-1zM24 61h1v1h-1zM31 61h1v1h-1zM37 61h1v1h-1zM42 61h1v1h-1zM24 62h1v1h-1zM32 62h1v1h-1zM35 62h2v1h-2zM32 63h1v1h-1zM39 63h1v1h-1zM28 64h1v1h-1zM34 64h1v1h-1zM38 64h1v1h-1zM40 64h1v1h-1zM45 64h1v1h-1zM32 65h2v1h-2zM42 65h1v1h-1zM44 65h1v1h-1zM28 66h1v1h-1zM37 66h1v1h-1zM41 66h3v1h-3zM45 66h1v1h-1zM34 67h1v1h-1zM37 67h1v1h-1zM40 67h1v1h-1zM49 67h1v1h-1zM36 68h1v1h-1zM39 68h2v1h-2zM42 68h1v1h-1zM36 69h1v1h-1zM47 69h1v1h-1zM50 69h1v1h-1zM40 70h3v1h-3zM46 70h1v1h-1zM48 70h1v1h-1zM46 71h1v1h-1zM48 71h1v1h-1zM38 72h2v1h-2zM47 72h1v1h-1zM44 73h1v1h-1zM46 73h2v1h-2zM42 74h1v1h-1zM38 75h1v1h-1zM42 75h2v1h-2zM39 76h1v1h-1zM42 76h1v1h-1zM44 76h1v1h-1zM26 77h1v1h-1zM40 77h1v1h-1zM42 77h1v1h-1zM45 77h1v1h-1zM48 77h3v1h-3zM46 78h1v1h-1zM49 78h1v1h-1zM54 78h1v1h-1zM39 79h1v1h-1zM50 79h1v1h-1zM54 79h1v1h-1zM58 79h1v1h-1zM35 80h1v1h-1zM39 80h1v1h-1zM42 80h1v1h-1zM48 80h1v1h-1zM35 81h1v1h-1zM44 82h1v1h-1zM52 82h1v1h-1zM44 83h2v1h-2zM53 83h1v1h-1zM57 83h1v1h-1zM36 84h1v1h-1zM43 84h1v1h-1zM45 85h1v1h-1zM49 86h1v1h-1zM38 87h1v1h-1zM50 88h1v1h-1zM54 88h1v1h-1zM43 89h1v1h-1zM39 90h1v1h-1zM41 90h1v1h-1zM43 90h1v1h-1zM48 90h1v1h-1zM45 91h1v1h-1zM56 91h1v1h-1zM41 92h1v1h-1zM44 92h2v1h-2zM51 92h1v1h-1zM45 93h2v1h-2zM48 93h2v1h-2zM39 94h1v1h-1zM49 95h1v1h-1zM53 95h1v1h-1zM42 96h1v1h-1zM47 96h1v1h-1zM52 96h1v1h-1zM58 96h1v1h-1zM50 97h1v1h-1zM53 97h1v1h-1zM58 97h1v1h-1zM55 98h1v1h-1zM59 98h1v1h-1zM41 99h1v1h-1zM46 99h1v1h-1zM50 99h1v1h-1zM47 101h1v1h-1zM56 101h1v1h-1zM43 102h1v1h-1zM51 102h2v1h-2zM50 103h1v1h-1zM56 103h1v1h-1zM46 104h2v1h-2zM53 104h1v1h-1zM56 105h1v1h-1zM59 105h1v1h-1zM61 105h1v1h-1zM54 106h1v1h-1zM55 107h1v1h-1zM58 107h1v1h-1zM48 108h1v1h-1zM51 108h1v1h-1zM57 108h1v1h-1zM59 109h2v1h-2zM52 110h1v1h-1zM56 110h1v1h-1zM54 111h1v1h-1zM60 111h1v1h-1zM62 112h1v1h-1zM49 113h1v1h-1zM52 113h1v1h-1zM55 113h1v1h-1zM58 113h1v1h-1zM60 113h2v1h-2zM55 116h1v1h-1zM59 116h1v1h-1zM58 117h1v1h-1zM61 118h1v1h-1z"/>
<path fill="#297b8e" d="M62 30h1v1h-1zM60 31h1v1h-1zM56 33h1v1h-1zM61 33h2v1h-2zM56 35h1v1h-1zM60 35h1v1h-1zM61 36h2v1h-2zM60 37h1v1h-1zM61 38h1v1h-1zM64 38h2v1h-2zM52 39h1v1h-1zM63 39h1v1h-1zM63 40h1v1h-1zM60 41h1v1h-1zM51 43h1v1h-1zM58 43h1v1h-1zM63 43h1v1h-1zM53 44h2v1h-2zM60 44h1v1h-1zM65 44h1v1h-1zM53 45h1v1h-1zM9 46h1v1h-1zM43 46h1v1h-1zM6 47h1v1h-1zM10 47h1v1h-1zM14 47h2v1h-2zM21 47h1v1h-1zM39 47h1v1h-1zM51 47h1v1h-1zM19 48h1v1h-1zM47 48h1v1h-1zM53 48h2v1h-2zM12 49h1v1h-1zM20 49h1v1h-1zM26 49h1v1h-1zM32 49h1v1h-1zM35 49h1v1h-1zM37 49h1v1h-1zM39 49h2v1h-2zM43 49h1v1h-1zM47 49h1v1h-1zM11 50h1v1h-1zM23 50h1v1h-1zM0 51h2v1h-2zM12 51h2v1h-2zM23 51h1v1h-1zM30 51h1v1h-1zM33 51h1v1h-1zM42 51h1v1h-1zM9 52h1v1h-1zM14 52h1v1h-1zM18 52h1v1h-1zM52 52h1v1h-1zM9 53h1v1h-1zM14 53h1v1h-1zM22 53h1v1h-1zM47 53h1v1h-1zM7 54h2v1h-2zM27 54h1v1h-1zM31 54h1v1h-1zM3 55h1v1h-1zM17 55h1v1h-1zM29 55h1v1h-1zM18 56h1v1h-1zM20 56h1v1h-1zM28 56h1v1h-1zM35 56h1v1h-1zM23 57h1v1h-1zM31 57h1v1h-1zM22 58h1v1h-1zM29 58h1v1h-1zM20 59h1v1h-1zM31 59h1v1h-1zM34 59h1v1h-1zM24 60h1v1h-1zM34 61h1v1h-1zM38 61h1v1h-1zM29 62h1v1h-1zM27 63h1v1h-1zM33 63h2v1h-2zM43 63h1v1h-1zM12 64h1v1h-1zM37 64h1v1h-1zM26 65h1v1h-1zM30 65h2v1h-2zM34 65h2v1h-2zM39 65h1v1h-1zM46 65h1v1h-1zM25 66h1v1h-1zM34 66h1v1h-1zM36 66h1v1h-1zM38 67h1v1h-1zM42 67h1v1h-1zM21 68h1v1h-1zM35 68h1v1h-1zM37 68h1v1h-1zM44 68h1v1h-1zM35 69h1v1h-1zM40 69h2v1h-2zM48 69h2v1h-2zM37 70h1v1h-1zM34 71h2v1h-2zM43 71h1v1h-1zM34 72h1v1h-1zM40 72h1v1h-1zM42 72h2v1h-2zM54 72h1v1h-1zM34 73h1v1h-1zM37 73h1v1h-1zM42 73h1v1h-1zM39 74h1v1h-1zM44 74h1v1h-1zM44 75h1v1h-1zM49 75h1v1h-1zM52 75h1v1h-1zM52 76h1v1h-1zM46 77h1v1h-1zM51 77h1v1h-1zM42 78h1v1h-1zM57 78h1v1h-1zM44 80h1v1h-1zM47 80h1v1h-1zM57 80h1v1h-1zM54 81h1v1h-1zM36 82h1v1h-1zM61 82h1v1h-1zM59 83h1v1h-1zM42 84h1v1h-1zM47 84h1v1h-1zM51 84h1v1h-1zM33 85h1v1h-1zM55 85h1v1h-1zM60 85h1v1h-1zM25 86h1v1h-1zM42 86h1v1h-1zM53 86h1v1h-1zM40 87h1v1h-1zM52 87h1v1h-1zM43 88h1v1h-1zM46 88h1v1h-1zM53 88h1v1h-1zM57 88h1v1h-1zM48 89h2v1h-2zM53 89h2v1h-2zM58 90h1v1h-1zM44 91h1v1h-1zM61 91h1v1h-1zM47 92h1v1h-1zM58 92h1v1h-1zM63 92h1v1h-1zM59 94h1v1h-1zM43 95h1v1h-1zM48 95h1v1h-1zM55 95h1v1h-1zM65 95h1v1h-1zM53 96h1v1h-1zM56 96h1v1h-1zM61 96h1v1h-1zM63 96h1v1h-1zM46 98h1v1h-1zM56 98h1v1h-1zM62 98h1v1h-1zM47 99h1v1h-1zM46 100h1v1h-1zM52 100h1v1h-1zM54 100h1v1h-1zM48 101h1v1h-1zM50 101h1v1h-1zM54 101h1v1h-1zM59 101h1v1h-1zM46 102h1v1h-1zM59 102h1v1h-1zM62 102h1v1h-1zM46 103h1v1h-1zM55 103h1v1h-1zM48 104h1v1h-1zM56 104h1v1h-1zM58 104h1v1h-1zM49 106h1v1h-1zM55 106h1v1h-1zM57 106h2v1h-2zM49 107h1v1h-1zM57 107h1v1h-1zM65 107h1v1h-1zM61 108h1v1h-1zM63 108h1v1h-1zM52 109h1v1h-1zM55 109h1v1h-1zM54 110h1v1h-1zM62 110h1v1h-1zM68 110h1v1h-1zM53 111h1v1h-1zM55 111h1v1h-1zM57 111h1v1h-1zM54 112h1v1h-1zM57 113h1v1h-1zM50 114h1v1h-1zM52 114h1v1h-1zM61 115h1v1h-1z"/>
<path fill="#277f8e" d="M58 26h1v1h-1zM57 29h1v1h-1zM60 29h1v1h-1zM62 29h1v1h-1zM62 31h1v1h-1zM59 33h1v1h-1zM59 34h1v1h-1zM63 35h1v1h-1zM65 35h1v1h-1zM60 36h1v1h-1zM69 37h1v1h-1zM58 38h1v1h-1zM60 38h1v1h-1zM51 39h1v1h-1zM61 39h1v1h-1zM62 40h1v1h-1zM56 41h1v1h-1zM67 41h1v1h-1zM71 41h1v1h-1zM51 42h1v1h-1zM63 42h1v1h-1zM65 42h2v1h-2zM57 43h1v1h-1zM65 43h1v1h-1zM68 43h1v1h-1zM56 44h1v1h-1zM58 44h1v1h-1zM64 44h1v1h-1zM43 45h1v1h-1zM46 45h1v1h-1zM57 45h1v1h-1zM64 45h1v1h-1zM0 46h1v1h-1zM46 46h1v1h-1zM48 46h1v1h-1zM57 46h1v1h-1zM1 47h1v1h-1zM3 47h1v1h-1zM52 47h1v1h-1zM1 48h1v1h-1zM10 48h1v1h-1zM15 48h1v1h-1zM17 48h1v1h-1zM20 48h2v1h-2zM44 48h1v1h-1zM57 48h1v1h-1zM15 49h1v1h-1zM24 49h1v1h-1zM36 49h1v1h-1zM52 49h1v1h-1zM58 49h1v1h-1zM3 50h1v1h-1zM6 50h1v1h-1zM8 50h1v1h-1zM13 50h1v1h-1zM21 50h1v1h-1zM31 50h1v1h-1zM45 50h1v1h-1zM51 50h1v1h-1zM9 51h1v1h-1zM11 51h1v1h-1zM15 51h1v1h-1zM27 51h1v1h-1zM38 51h1v1h-1zM44 51h1v1h-1zM12 52h1v1h-1zM20 52h1v1h-1zM29 52h1v1h-1zM31 52h1v1h-1zM44 52h1v1h-1zM46 52h1v1h-1zM11 53h1v1h-1zM15 53h1v1h-1zM23 53h1v1h-1zM39 53h1v1h-1zM10 54h1v1h-1zM12 54h1v1h-1zM18 54h1v1h-1zM30 54h1v1h-1zM34 54h1v1h-1zM56 54h1v1h-1zM24 55h1v1h-1zM11 56h1v1h-1zM25 56h1v1h-1zM29 56h1v1h-1zM32 56h1v1h-1zM13 57h1v1h-1zM24 57h1v1h-1zM26 57h1v1h-1zM28 57h1v1h-1zM32 57h1v1h-1zM30 58h1v1h-1zM22 60h1v1h-1zM36 60h1v1h-1zM39 60h1v1h-1zM39 61h1v1h-1zM26 62h1v1h-1zM37 62h1v1h-1zM39 62h1v1h-1zM41 62h2v1h-2zM44 62h1v1h-1zM41 63h1v1h-1zM45 63h1v1h-1zM41 64h1v1h-1zM44 64h1v1h-1zM36 65h1v1h-1zM40 65h1v1h-1zM48 65h1v1h-1zM50 65h2v1h-2zM50 66h1v1h-1zM46 67h2v1h-2zM38 69h1v1h-1zM45 69h2v1h-2zM41 71h1v1h-1zM49 71h1v1h-1zM41 72h1v1h-1zM48 72h2v1h-2zM52 72h2v1h-2zM40 73h1v1h-1zM49 73h1v1h-1zM51 73h1v1h-1zM59 73h1v1h-1zM45 74h1v1h-1zM49 74h1v1h-1zM51 74h1v1h-1zM32 75h1v1h-1zM37 75h1v1h-1zM48 76h1v1h-1zM50 76h2v1h-2zM43 77h1v1h-1zM54 77h1v1h-1zM57 77h1v1h-1zM43 78h2v1h-2zM47 78h1v1h-1zM51 78h2v1h-2zM60 78h1v1h-1zM51 79h1v1h-1zM55 79h1v1h-1zM49 80h3v1h-3zM53 80h1v1h-1zM58 80h1v1h-1zM45 81h1v1h-1zM48 81h3v1h-3zM45 82h2v1h-2zM57 82h1v1h-1zM42 83h1v1h-1zM47 83h1v1h-1zM49 83h1v1h-1zM54 83h1v1h-1zM54 84h1v1h-1zM58 84h1v1h-1zM56 85h1v1h-1zM44 86h1v1h-1zM47 86h1v1h-1zM47 87h1v1h-1zM49 87h1v1h-1zM54 87h1v1h-1zM61 87h1v1h-1zM63 87h1v1h-1zM52 88h1v1h-1zM58 88h1v1h-1zM56 89h1v1h-1zM60 89h1v1h-1zM44 90h1v1h-1zM49 90h1v1h-1zM54 90h1v1h-1zM59 90h2v1h-2zM62 90h1v1h-1zM67 90h1v1h-1zM57 91h1v1h-1zM64 91h2v1h-2zM57 92h1v1h-1zM54 93h1v1h-1zM58 93h1v1h-1zM62 93h1v1h-1zM44 94h1v1h-1zM51 94h1v1h-1zM55 94h2v1h-2zM50 95h2v1h-2zM57 95h1v1h-1zM55 96h1v1h-1zM49 97h1v1h-1zM57 97h1v1h-1zM60 97h2v1h-2zM50 98h2v1h-2zM58 98h1v1h-1zM54 99h1v1h-1zM59 99h1v1h-1zM51 100h1v1h-1zM57 100h1v1h-1zM61 100h2v1h-2zM64 100h1v1h-1zM55 101h1v1h-1zM58 101h1v1h-1zM60 101h1v1h-1zM45 102h1v1h-1zM56 102h3v1h-3zM54 103h1v1h-1zM60 103h1v1h-1zM62 103h1v1h-1zM57 104h1v1h-1zM58 105h1v1h-1zM60 105h1v1h-1zM51 106h2v1h-2zM59 106h1v1h-1zM58 108h1v1h-1zM63 109h2v1h-2zM60 110h2v1h-2zM58 111h1v1h-1zM63 111h2v1h-2zM63 112h1v1h-1zM59 113h1v1h-1zM54 114h1v1h-1zM64 114h1v1h-1zM66 114h1v1h-1z"/>
<path fill="#26828e" d="M60 32h1v1h-1zM61 35h1v1h-1zM66 35h1v1h-1zM67 36h1v1h-1zM66 37h3v1h-3zM59 38h1v1h-1zM62 38h1v1h-1zM57 39h1v1h-1zM58 40h2v1h-2zM59 41h1v1h-1zM68 42h1v1h-1zM56 43h1v1h-1zM72 43h1v1h-1zM52 44h1v1h-1zM66 44h1v1h-1zM70 44h1v1h-1zM5 46h1v1h-1zM51 46h1v1h-1zM56 46h1v1h-1zM58 46h1v1h-1zM7 47h1v1h-1zM54 47h3v1h-3zM3 48h1v1h-1zM6 48h2v1h-2zM9 48h1v1h-1zM11 48h2v1h-2zM14 48h1v1h-1zM22 48h1v1h-1zM42 48h1v1h-1zM50 48h1v1h-1zM58 48h1v1h-1zM60 48h1v1h-1zM18 49h1v1h-1zM21 49h3v1h-3zM28 49h2v1h-2zM5 50h1v1h-1zM10 50h1v1h-1zM19 50h1v1h-1zM22 50h1v1h-1zM27 50h1v1h-1zM30 50h1v1h-1zM37 50h1v1h-1zM39 50h2v1h-2zM3 51h3v1h-3zM8 51h1v1h-1zM10 51h1v1h-1zM18 51h1v1h-1zM31 51h2v1h-2zM34 51h1v1h-1zM43 51h1v1h-1zM45 51h3v1h-3zM57 51h1v1h-1zM3 52h1v1h-1zM13 52h1v1h-1zM16 52h1v1h-1zM39 52h1v1h-1zM42 52h1v1h-1zM49 52h1v1h-1zM56 52h1v1h-1zM1 53h1v1h-1zM17 53h1v1h-1zM21 53h1v1h-1zM28 53h1v1h-1zM31 53h1v1h-1zM48 53h1v1h-1zM58 53h1v1h-1zM1 54h1v1h-1zM11 54h1v1h-1zM26 54h1v1h-1zM45 54h1v1h-1zM49 54h2v1h-2zM53 54h1v1h-1zM32 55h2v1h-2zM49 55h1v1h-1zM60 55h1v1h-1zM23 56h1v1h-1zM31 56h1v1h-1zM21 57h1v1h-1zM27 57h1v1h-1zM30 57h1v1h-1zM35 58h1v1h-1zM26 59h1v1h-1zM32 59h1v1h-1zM37 59h1v1h-1zM23 60h1v1h-1zM26 60h1v1h-1zM31 60h1v1h-1zM37 60h2v1h-2zM20 61h1v1h-1zM30 61h1v1h-1zM36 61h1v1h-1zM40 61h1v1h-1zM34 62h1v1h-1zM31 63h1v1h-1zM36 63h1v1h-1zM38 63h1v1h-1zM46 63h1v1h-1zM49 63h1v1h-1zM42 64h2v1h-2zM47 64h1v1h-1zM50 64h2v1h-2zM46 66h1v1h-1zM44 67h2v1h-2zM33 68h1v1h-1zM41 68h1v1h-1zM45 68h2v1h-2zM43 69h1v1h-1zM49 70h1v1h-1zM52 70h1v1h-1zM54 70h1v1h-1zM39 71h1v1h-1zM47 71h1v1h-1zM50 72h1v1h-1zM48 73h1v1h-1zM53 73h1v1h-1zM43 74h1v1h-1zM52 74h1v1h-1zM47 75h1v1h-1zM51 75h1v1h-1zM49 76h1v1h-1zM53 76h1v1h-1zM56 76h1v1h-1zM61 76h1v1h-1zM58 77h1v1h-1zM40 78h1v1h-1zM50 78h1v1h-1zM53 78h1v1h-1zM42 79h1v1h-1zM45 79h1v1h-1zM47 79h2v1h-2zM53 79h1v1h-1zM57 79h1v1h-1zM46 80h1v1h-1zM46 81h1v1h-1zM55 81h2v1h-2zM58 81h2v1h-2zM40 82h1v1h-1zM49 82h1v1h-1zM51 82h1v1h-1zM53 82h1v1h-1zM56 82h1v1h-1zM59 82h2v1h-2zM63 82h1v1h-1zM48 83h1v1h-1zM50 83h1v1h-1zM56 83h1v1h-1zM50 84h1v1h-1zM59 84h1v1h-1zM63 84h2v1h-2zM54 85h1v1h-1zM59 85h1v1h-1zM62 85h1v1h-1zM51 86h1v1h-1zM56 86h1v1h-1zM58 86h1v1h-1zM45 87h1v1h-1zM56 87h1v1h-1zM59 87h1v1h-1zM65 87h1v1h-1zM47 88h1v1h-1zM56 88h1v1h-1zM61 88h1v1h-1zM42 89h1v1h-1zM57 89h2v1h-2zM50 90h4v1h-4zM54 91h2v1h-2zM58 91h3v1h-3zM62 91h2v1h-2zM50 92h1v1h-1zM52 92h1v1h-1zM59 92h1v1h-1zM51 93h3v1h-3zM59 93h1v1h-1zM65 93h1v1h-1zM50 94h1v1h-1zM58 94h1v1h-1zM64 94h1v1h-1zM52 95h1v1h-1zM54 95h1v1h-1zM61 95h1v1h-1zM65 97h1v1h-1zM53 98h1v1h-1zM61 98h1v1h-1zM53 99h1v1h-1zM55 99h2v1h-2zM58 99h1v1h-1zM63 99h1v1h-1zM55 100h1v1h-1zM62 101h2v1h-2zM52 103h1v1h-1zM61 103h1v1h-1zM63 103h1v1h-1zM66 103h1v1h-1zM63 104h1v1h-1zM62 105h1v1h-1zM65 105h2v1h-2zM53 106h1v1h-1zM63 106h1v1h-1zM65 106h1v1h-1zM61 107h3v1h-3zM59 108h1v1h-1zM62 108h1v1h-1zM64 108h2v1h-2zM54 109h1v1h-1zM61 109h2v1h-2zM59 110h1v1h-1zM64 110h1v1h-1zM61 111h1v1h-1zM59 112h2v1h-2zM64 112h1v1h-1zM53 113h1v1h-1zM63 113h2v1h-2zM62 115h1v1h-1z"/>
<path fill="#24868e" d="M63 32h1v1h-1zM65 33h1v1h-1zM67 35h1v1h-1zM68 36h1v1h-1zM63 37h1v1h-1zM63 38h1v1h-1zM66 38h2v1h-2zM69 40h1v1h-1zM63 41h1v1h-1zM66 41h1v1h-1zM68 41h2v1h-2zM57 42h1v1h-1zM61 42h1v1h-1zM70 42h1v1h-1zM53 43h1v1h-1zM59 43h1v1h-1zM64 43h1v1h-1zM66 43h1v1h-1zM56 45h1v1h-1zM59 45h2v1h-2zM70 45h1v1h-1zM72 45h1v1h-1zM3 46h1v1h-1zM53 46h1v1h-1zM60 46h1v1h-1zM65 46h1v1h-1zM72 46h1v1h-1zM2 47h1v1h-1zM47 47h1v1h-1zM59 47h1v1h-1zM61 47h1v1h-1zM65 47h1v1h-1zM8 48h1v1h-1zM48 48h1v1h-1zM51 48h1v1h-1zM1 49h2v1h-2zM5 49h1v1h-1zM7 49h1v1h-1zM9 49h1v1h-1zM16 49h1v1h-1zM31 49h1v1h-1zM53 49h1v1h-1zM55 49h3v1h-3zM2 50h1v1h-1zM7 50h1v1h-1zM9 50h1v1h-1zM12 50h1v1h-1zM26 50h1v1h-1zM33 50h2v1h-2zM42 50h1v1h-1zM47 50h1v1h-1zM53 50h2v1h-2zM56 50h1v1h-1zM17 51h1v1h-1zM20 51h1v1h-1zM24 51h1v1h-1zM29 51h1v1h-1zM39 51h2v1h-2zM50 51h1v1h-1zM54 51h2v1h-2zM15 52h1v1h-1zM17 52h1v1h-1zM23 52h1v1h-1zM27 52h1v1h-1zM30 52h1v1h-1zM32 52h1v1h-1zM34 52h2v1h-2zM50 52h2v1h-2zM5 53h1v1h-1zM16 53h1v1h-1zM20 53h1v1h-1zM26 53h1v1h-1zM52 53h1v1h-1zM17 54h1v1h-1zM32 54h2v1h-2zM35 54h2v1h-2zM47 54h2v1h-2zM54 54h1v1h-1zM34 55h2v1h-2zM51 55h1v1h-1zM54 55h1v1h-1zM57 55h1v1h-1zM22 56h1v1h-1zM27 56h1v1h-1zM30 56h1v1h-1zM36 56h1v1h-1zM33 57h1v1h-1zM32 58h1v1h-1zM35 59h1v1h-1zM41 61h1v1h-1zM33 62h1v1h-1zM43 62h1v1h-1zM47 62h1v1h-1zM40 63h1v1h-1zM42 63h1v1h-1zM47 65h1v1h-1zM49 65h1v1h-1zM44 66h1v1h-1zM48 67h1v1h-1zM47 68h3v1h-3zM53 68h1v1h-1zM53 69h1v1h-1zM56 69h1v1h-1zM56 70h1v1h-1zM51 71h1v1h-1zM55 71h1v1h-1zM57 71h1v1h-1zM46 72h1v1h-1zM55 72h1v1h-1zM57 72h2v1h-2zM41 73h1v1h-1zM55 73h1v1h-1zM40 74h1v1h-1zM55 74h2v1h-2zM48 75h1v1h-1zM56 75h2v1h-2zM59 75h1v1h-1zM61 75h1v1h-1zM59 76h1v1h-1zM53 77h1v1h-1zM60 77h1v1h-1zM56 78h1v1h-1zM49 79h1v1h-1zM52 80h1v1h-1zM55 80h1v1h-1zM59 80h1v1h-1zM51 81h1v1h-1zM53 81h1v1h-1zM64 81h1v1h-1zM55 82h1v1h-1zM68 82h1v1h-1zM46 83h1v1h-1zM58 83h1v1h-1zM49 84h1v1h-1zM52 84h1v1h-1zM55 84h1v1h-1zM62 84h1v1h-1zM57 85h1v1h-1zM64 85h1v1h-1zM48 86h1v1h-1zM57 86h1v1h-1zM61 86h1v1h-1zM53 87h1v1h-1zM58 87h1v1h-1zM51 88h1v1h-1zM59 88h1v1h-1zM52 89h1v1h-1zM64 89h2v1h-2zM61 90h1v1h-1zM64 90h1v1h-1zM47 91h1v1h-1zM51 91h1v1h-1zM50 93h1v1h-1zM57 93h1v1h-1zM66 93h1v1h-1zM57 94h1v1h-1zM56 95h1v1h-1zM59 95h1v1h-1zM64 97h1v1h-1zM57 98h1v1h-1zM63 98h1v1h-1zM57 99h1v1h-1zM62 99h1v1h-1zM58 100h1v1h-1zM65 100h1v1h-1zM67 100h1v1h-1zM58 103h2v1h-2zM65 103h1v1h-1zM59 104h2v1h-2zM65 104h1v1h-1zM64 105h1v1h-1zM56 106h1v1h-1zM60 106h2v1h-2zM64 106h1v1h-1zM58 109h1v1h-1zM65 109h1v1h-1zM68 109h1v1h-1zM67 110h1v1h-1zM70 110h1v1h-1zM59 111h1v1h-1zM62 111h1v1h-1zM61 112h1v1h-1zM66 113h1v1h-1z"/>
<path fill="#238a8d" d="M68 35h1v1h-1zM66 36h1v1h-1zM65 37h1v1h-1zM71 39h1v1h-1zM60 42h1v1h-1zM62 45h2v1h-2zM66 45h1v1h-1zM55 46h1v1h-1zM62 46h1v1h-1zM0 47h1v1h-1zM60 47h1v1h-1zM2 48h1v1h-1zM13 48h1v1h-1zM55 48h1v1h-1zM61 48h1v1h-1zM4 49h1v1h-1zM11 49h1v1h-1zM51 49h1v1h-1zM54 49h1v1h-1zM59 49h1v1h-1zM61 49h1v1h-1zM65 49h1v1h-1zM0 50h1v1h-1zM14 50h1v1h-1zM16 50h1v1h-1zM24 50h1v1h-1zM28 50h1v1h-1zM32 50h1v1h-1zM35 50h1v1h-1zM46 50h1v1h-1zM49 50h1v1h-1zM55 50h1v1h-1zM57 50h2v1h-2zM14 51h1v1h-1zM25 51h1v1h-1zM35 51h1v1h-1zM49 51h1v1h-1zM19 52h1v1h-1zM22 52h1v1h-1zM26 52h1v1h-1zM45 52h1v1h-1zM47 52h1v1h-1zM10 53h1v1h-1zM12 53h1v1h-1zM25 53h1v1h-1zM34 53h1v1h-1zM43 53h2v1h-2zM46 53h1v1h-1zM49 53h3v1h-3zM53 53h1v1h-1zM55 53h1v1h-1zM25 54h1v1h-1zM41 54h1v1h-1zM51 54h1v1h-1zM57 54h1v1h-1zM21 55h1v1h-1zM37 55h1v1h-1zM50 55h1v1h-1zM53 55h1v1h-1zM55 55h1v1h-1zM61 55h1v1h-1zM63 55h1v1h-1zM54 56h1v1h-1zM60 56h2v1h-2zM25 57h1v1h-1zM34 57h1v1h-1zM61 57h1v1h-1zM34 58h1v1h-1zM36 58h1v1h-1zM27 59h1v1h-1zM35 60h1v1h-1zM44 63h1v1h-1zM52 63h1v1h-1zM45 65h1v1h-1zM53 65h1v1h-1zM55 65h1v1h-1zM49 66h1v1h-1zM51 67h1v1h-1zM50 68h1v1h-1zM52 68h1v1h-1zM54 68h2v1h-2zM51 69h2v1h-2zM54 69h1v1h-1zM57 69h1v1h-1zM44 70h1v1h-1zM47 70h1v1h-1zM53 70h1v1h-1zM63 70h1v1h-1zM50 71h1v1h-1zM52 71h1v1h-1zM59 71h1v1h-1zM56 73h1v1h-1zM58 73h1v1h-1zM50 74h1v1h-1zM54 74h1v1h-1zM60 74h2v1h-2zM50 75h1v1h-1zM55 75h1v1h-1zM60 75h1v1h-1zM55 76h1v1h-1zM58 76h1v1h-1zM60 76h1v1h-1zM65 76h1v1h-1zM55 77h2v1h-2zM64 77h1v1h-1zM68 77h1v1h-1zM55 78h1v1h-1zM62 78h1v1h-1zM56 79h1v1h-1zM59 79h1v1h-1zM56 80h1v1h-1zM60 80h1v1h-1zM52 81h1v1h-1zM63 81h1v1h-1zM58 82h1v1h-1zM69 82h1v1h-1zM51 83h1v1h-1zM55 83h1v1h-1zM60 83h1v1h-1zM62 83h1v1h-1zM65 83h1v1h-1zM46 84h1v1h-1zM60 84h1v1h-1zM49 85h1v1h-1zM52 85h1v1h-1zM58 85h1v1h-1zM66 85h1v1h-1zM65 86h1v1h-1zM60 87h1v1h-1zM66 88h1v1h-1zM68 89h1v1h-1zM63 90h1v1h-1zM68 90h1v1h-1zM53 92h1v1h-1zM60 92h1v1h-1zM60 93h2v1h-2zM67 93h1v1h-1zM68 94h1v1h-1zM58 95h1v1h-1zM60 95h1v1h-1zM62 95h1v1h-1zM66 95h1v1h-1zM60 96h1v1h-1zM62 96h1v1h-1zM65 96h1v1h-1zM63 97h1v1h-1zM60 98h1v1h-1zM65 98h1v1h-1zM69 99h1v1h-1zM60 100h1v1h-1zM63 100h1v1h-1zM53 101h1v1h-1zM61 101h1v1h-1zM65 101h1v1h-1zM60 102h1v1h-1zM63 102h1v1h-1zM65 102h1v1h-1zM64 103h1v1h-1zM64 104h1v1h-1zM66 106h1v1h-1zM68 106h1v1h-1zM72 106h1v1h-1zM56 108h1v1h-1zM66 108h1v1h-1zM69 108h1v1h-1zM67 109h1v1h-1zM69 110h1v1h-1zM66 111h2v1h-2zM69 111h1v1h-1zM66 112h2v1h-2z"/>
<path fill="#218e8d" d="M64 33h1v1h-1zM63 36h1v1h-1zM60 39h1v1h-1zM64 40h1v1h-1zM73 40h1v1h-1zM70 43h1v1h-1zM67 44h1v1h-1zM74 44h1v1h-1zM68 45h1v1h-1zM61 46h1v1h-1zM63 46h1v1h-1zM58 47h1v1h-1zM66 47h1v1h-1zM4 48h1v1h-1zM56 48h1v1h-1zM63 48h1v1h-1zM0 49h1v1h-1zM8 49h1v1h-1zM14 49h1v1h-1zM60 49h1v1h-1zM63 49h2v1h-2zM4 50h1v1h-1zM18 50h1v1h-1zM36 50h1v1h-1zM38 50h1v1h-1zM43 50h2v1h-2zM50 50h1v1h-1zM16 51h1v1h-1zM28 51h1v1h-1zM36 51h1v1h-1zM48 51h1v1h-1zM59 51h1v1h-1zM10 52h1v1h-1zM28 52h1v1h-1zM36 52h1v1h-1zM41 52h1v1h-1zM53 52h2v1h-2zM57 52h1v1h-1zM62 52h1v1h-1zM35 53h2v1h-2zM38 53h1v1h-1zM42 53h1v1h-1zM45 53h1v1h-1zM54 53h1v1h-1zM57 53h1v1h-1zM63 53h1v1h-1zM29 54h1v1h-1zM52 54h1v1h-1zM27 55h1v1h-1zM36 55h1v1h-1zM45 55h3v1h-3zM52 55h1v1h-1zM58 55h1v1h-1zM50 56h1v1h-1zM55 56h1v1h-1zM54 57h3v1h-3zM60 57h1v1h-1zM59 58h1v1h-1zM61 58h1v1h-1zM38 59h2v1h-2zM40 60h2v1h-2zM47 63h1v1h-1zM46 64h1v1h-1zM48 64h1v1h-1zM52 64h2v1h-2zM52 65h1v1h-1zM47 66h2v1h-2zM52 66h1v1h-1zM54 66h1v1h-1zM41 67h1v1h-1zM50 67h1v1h-1zM52 67h2v1h-2zM55 67h2v1h-2zM59 69h1v1h-1zM61 69h1v1h-1zM53 71h2v1h-2zM63 71h1v1h-1zM56 72h1v1h-1zM59 72h1v1h-1zM52 73h1v1h-1zM54 73h1v1h-1zM57 73h1v1h-1zM61 73h2v1h-2zM53 74h1v1h-1zM58 74h1v1h-1zM62 75h1v1h-1zM65 75h1v1h-1zM47 76h1v1h-1zM57 76h1v1h-1zM59 77h1v1h-1zM61 77h1v1h-1zM69 77h1v1h-1zM59 78h1v1h-1zM67 78h1v1h-1zM61 79h1v1h-1zM63 79h1v1h-1zM64 80h1v1h-1zM60 81h1v1h-1zM65 82h2v1h-2zM63 85h1v1h-1zM67 85h1v1h-1zM55 86h1v1h-1zM59 86h2v1h-2zM62 86h1v1h-1zM67 87h1v1h-1zM71 87h1v1h-1zM60 88h1v1h-1zM72 88h1v1h-1zM66 89h1v1h-1zM57 90h1v1h-1zM66 91h1v1h-1zM65 92h1v1h-1zM64 93h1v1h-1zM53 94h1v1h-1zM61 94h1v1h-1zM65 94h1v1h-1zM64 95h1v1h-1zM68 95h1v1h-1zM59 96h1v1h-1zM64 96h1v1h-1zM71 96h1v1h-1zM62 97h1v1h-1zM61 99h1v1h-1zM67 99h1v1h-1zM59 100h1v1h-1zM67 101h1v1h-1zM69 101h1v1h-1zM61 102h1v1h-1zM64 102h1v1h-1zM67 102h1v1h-1zM67 103h1v1h-1zM61 104h1v1h-1zM66 104h1v1h-1zM70 104h1v1h-1zM63 105h1v1h-1zM70 106h1v1h-1zM67 107h1v1h-1zM69 107h1v1h-1zM67 108h2v1h-2zM72 109h1v1h-1zM57 110h1v1h-1zM66 110h1v1h-1zM71 110h1v1h-1zM68 111h1v1h-1zM68 112h1v1h-1zM64 115h1v1h-1z"/>
<path fill="#20928c" d="M63 33h1v1h-1zM67 39h1v1h-1zM73 41h1v1h-1zM64 42h1v1h-1zM73 42h1v1h-1zM75 42h1v1h-1zM65 45h1v1h-1zM67 45h1v1h-1zM69 45h1v1h-1zM62 47h1v1h-1zM70 47h2v1h-2zM5 48h1v1h-1zM16 48h1v1h-1zM59 48h1v1h-1zM62 48h1v1h-1zM66 48h2v1h-2zM19 49h1v1h-1zM66 49h1v1h-1zM69 49h2v1h-2zM25 50h1v1h-1zM60 50h2v1h-2zM41 51h1v1h-1zM58 51h1v1h-1zM62 51h1v1h-1zM64 51h1v1h-1zM33 52h1v1h-1zM37 52h2v1h-2zM40 52h1v1h-1zM43 52h1v1h-1zM59 52h1v1h-1zM64 52h1v1h-1zM24 53h1v1h-1zM27 53h1v1h-1zM29 53h2v1h-2zM32 53h1v1h-1zM37 53h1v1h-1zM40 53h1v1h-1zM56 53h1v1h-1zM59 53h1v1h-1zM28 54h1v1h-1zM39 54h1v1h-1zM43 54h1v1h-1zM46 54h1v1h-1zM55 54h1v1h-1zM60 54h1v1h-1zM22 55h1v1h-1zM30 55h1v1h-1zM56 55h1v1h-1zM59 55h1v1h-1zM47 56h1v1h-1zM57 56h1v1h-1zM62 56h2v1h-2zM68 56h1v1h-1zM53 57h1v1h-1zM57 57h1v1h-1zM59 57h1v1h-1zM37 58h1v1h-1zM53 58h1v1h-1zM63 58h2v1h-2zM42 60h1v1h-1zM44 60h1v1h-1zM53 60h1v1h-1zM43 61h1v1h-1zM45 62h1v1h-1zM52 62h1v1h-1zM54 65h1v1h-1zM51 66h1v1h-1zM53 66h1v1h-1zM55 66h1v1h-1zM54 67h1v1h-1zM58 67h1v1h-1zM51 68h1v1h-1zM57 68h1v1h-1zM59 68h1v1h-1zM55 69h1v1h-1zM43 70h1v1h-1zM51 70h1v1h-1zM55 70h1v1h-1zM59 70h2v1h-2zM58 71h1v1h-1zM61 71h1v1h-1zM63 73h1v1h-1zM66 73h1v1h-1zM69 73h1v1h-1zM57 74h1v1h-1zM68 74h1v1h-1zM53 75h1v1h-1zM58 75h1v1h-1zM64 75h1v1h-1zM67 76h1v1h-1zM62 77h1v1h-1zM66 77h1v1h-1zM61 78h1v1h-1zM62 79h1v1h-1zM61 80h1v1h-1zM65 80h2v1h-2zM62 82h1v1h-1zM64 83h1v1h-1zM67 83h1v1h-1zM61 84h1v1h-1zM54 86h1v1h-1zM64 86h1v1h-1zM73 86h1v1h-1zM57 87h1v1h-1zM64 87h1v1h-1zM66 87h1v1h-1zM62 88h1v1h-1zM64 88h1v1h-1zM68 88h1v1h-1zM59 89h1v1h-1zM63 89h1v1h-1zM65 90h1v1h-1zM67 91h1v1h-1zM55 92h1v1h-1zM61 92h2v1h-2zM64 92h1v1h-1zM69 92h1v1h-1zM66 96h2v1h-2zM64 98h1v1h-1zM67 98h1v1h-1zM69 98h1v1h-1zM64 99h2v1h-2zM66 100h1v1h-1zM66 102h1v1h-1zM68 102h1v1h-1zM62 106h1v1h-1zM64 107h1v1h-1zM70 107h1v1h-1zM71 108h2v1h-2zM66 109h1v1h-1zM70 109h1v1h-1zM65 110h1v1h-1zM65 111h1v1h-1zM65 113h1v1h-1zM81 116h1v1h-1z"/>
<path fill="#1f968b" d="M68 39h1v1h-1zM67 43h1v1h-1zM69 43h1v1h-1zM63 44h1v1h-1zM66 46h2v1h-2zM69 46h1v1h-1zM63 47h1v1h-1zM67 47h1v1h-1zM73 47h1v1h-1zM69 48h1v1h-1zM3 49h1v1h-1zM27 49h1v1h-1zM67 49h1v1h-1zM17 50h1v1h-1zM29 50h1v1h-1zM65 50h1v1h-1zM52 51h1v1h-1zM24 52h1v1h-1zM55 52h1v1h-1zM58 52h1v1h-1zM41 53h1v1h-1zM60 53h2v1h-2zM44 54h1v1h-1zM62 54h1v1h-1zM42 55h1v1h-1zM48 55h1v1h-1zM52 56h1v1h-1zM59 56h1v1h-1zM67 56h1v1h-1zM36 57h1v1h-1zM62 57h1v1h-1zM52 58h1v1h-1zM48 59h1v1h-1zM55 59h1v1h-1zM63 59h1v1h-1zM44 61h1v1h-1zM46 61h1v1h-1zM51 63h1v1h-1zM54 63h1v1h-1zM56 66h1v1h-1zM57 67h1v1h-1zM56 68h1v1h-1zM60 69h1v1h-1zM64 69h1v1h-1zM57 70h2v1h-2zM62 71h1v1h-1zM65 71h1v1h-1zM70 71h1v1h-1zM62 72h1v1h-1zM65 72h1v1h-1zM68 72h1v1h-1zM67 73h1v1h-1zM59 74h1v1h-1zM62 74h4v1h-4zM54 75h1v1h-1zM68 75h1v1h-1zM70 75h1v1h-1zM62 76h3v1h-3zM65 77h1v1h-1zM58 78h1v1h-1zM64 78h1v1h-1zM64 79h2v1h-2zM70 80h1v1h-1zM57 81h1v1h-1zM61 81h1v1h-1zM65 81h1v1h-1zM67 82h1v1h-1zM76 82h1v1h-1zM63 83h1v1h-1zM68 83h1v1h-1zM70 83h1v1h-1zM65 84h1v1h-1zM68 84h1v1h-1zM70 84h1v1h-1zM61 85h1v1h-1zM65 85h1v1h-1zM68 85h1v1h-1zM63 86h1v1h-1zM68 86h1v1h-1zM70 86h1v1h-1zM69 87h1v1h-1zM72 87h1v1h-1zM67 88h1v1h-1zM67 89h1v1h-1zM69 89h2v1h-2zM68 91h1v1h-1zM66 92h3v1h-3zM63 93h1v1h-1zM62 94h2v1h-2zM67 94h1v1h-1zM63 95h1v1h-1zM71 95h1v1h-1zM66 97h1v1h-1zM68 97h1v1h-1zM68 98h1v1h-1zM66 99h1v1h-1zM68 99h1v1h-1zM74 100h1v1h-1zM66 101h1v1h-1zM69 102h2v1h-2zM67 104h1v1h-1zM68 107h1v1h-1zM74 108h1v1h-1zM95 108h1v1h-1zM69 109h1v1h-1zM71 111h1v1h-1zM88 117h1v1h-1zM72 118h1v1h-1zM53 119h1v1h-1zM73 119h1v1h-1z"/>
<path fill="#1f9a8a" d="M64 41h1v1h-1zM76 44h1v1h-1zM71 45h1v1h-1zM64 46h1v1h-1zM70 46h2v1h-2zM74 47h1v1h-1zM64 48h1v1h-1zM68 48h1v1h-1zM70 48h1v1h-1zM72 48h2v1h-2zM50 49h1v1h-1zM20 50h1v1h-1zM63 50h1v1h-1zM68 50h1v1h-1zM26 51h1v1h-1zM37 51h1v1h-1zM53 51h1v1h-1zM61 51h1v1h-1zM63 51h1v1h-1zM68 51h1v1h-1zM21 52h1v1h-1zM60 52h2v1h-2zM69 52h1v1h-1zM33 53h1v1h-1zM65 53h1v1h-1zM38 54h1v1h-1zM58 54h2v1h-2zM65 54h2v1h-2zM69 54h1v1h-1zM62 55h1v1h-1zM65 55h2v1h-2zM56 56h1v1h-1zM58 56h1v1h-1zM69 56h1v1h-1zM52 57h1v1h-1zM63 57h1v1h-1zM65 57h1v1h-1zM38 58h1v1h-1zM46 58h1v1h-1zM55 58h4v1h-4zM60 58h1v1h-1zM68 58h1v1h-1zM42 59h1v1h-1zM58 59h2v1h-2zM61 59h2v1h-2zM64 59h1v1h-1zM50 60h1v1h-1zM48 61h1v1h-1zM52 61h1v1h-1zM46 62h1v1h-1zM53 63h1v1h-1zM61 67h1v1h-1zM58 69h1v1h-1zM62 69h1v1h-1zM61 70h1v1h-1zM65 70h1v1h-1zM56 71h1v1h-1zM67 71h1v1h-1zM60 72h1v1h-1zM64 72h1v1h-1zM67 72h1v1h-1zM60 73h1v1h-1zM64 73h1v1h-1zM66 74h2v1h-2zM66 75h1v1h-1zM71 75h1v1h-1zM68 76h2v1h-2zM63 78h1v1h-1zM68 78h1v1h-1zM66 79h4v1h-4zM71 79h1v1h-1zM67 80h1v1h-1zM69 80h1v1h-1zM62 81h1v1h-1zM66 81h2v1h-2zM71 82h2v1h-2zM66 84h1v1h-1zM71 85h1v1h-1zM66 86h1v1h-1zM65 88h1v1h-1zM69 88h2v1h-2zM62 89h1v1h-1zM72 90h1v1h-1zM70 91h1v1h-1zM72 91h1v1h-1zM69 93h2v1h-2zM69 94h1v1h-1zM72 94h1v1h-1zM69 95h1v1h-1zM68 96h1v1h-1zM96 96h1v1h-1zM69 97h2v1h-2zM66 98h1v1h-1zM71 98h1v1h-1zM96 98h1v1h-1zM70 99h1v1h-1zM71 100h2v1h-2zM73 101h1v1h-1zM71 102h2v1h-2zM70 103h1v1h-1zM69 104h1v1h-1zM72 104h1v1h-1zM68 105h1v1h-1zM72 105h1v1h-1zM67 106h1v1h-1zM71 106h1v1h-1zM60 107h1v1h-1zM66 107h1v1h-1zM71 109h1v1h-1zM80 111h1v1h-1zM87 112h1v1h-1zM88 115h1v1h-1zM75 116h1v1h-1zM71 119h2v1h-2z"/>
<path fill="#1f9e89" d="M73 45h1v1h-1zM75 46h1v1h-1zM78 47h1v1h-1zM65 48h1v1h-1zM72 49h1v1h-1zM74 49h1v1h-1zM59 50h1v1h-1zM62 50h1v1h-1zM69 50h1v1h-1zM21 51h1v1h-1zM51 51h1v1h-1zM65 51h1v1h-1zM67 51h1v1h-1zM71 51h1v1h-1zM63 52h1v1h-1zM66 52h1v1h-1zM70 53h1v1h-1zM67 54h1v1h-1zM38 55h2v1h-2zM44 55h1v1h-1zM37 56h1v1h-1zM42 56h1v1h-1zM48 56h1v1h-1zM64 56h1v1h-1zM35 57h1v1h-1zM40 57h2v1h-2zM46 57h1v1h-1zM50 57h1v1h-1zM58 57h1v1h-1zM39 58h1v1h-1zM50 58h1v1h-1zM69 58h1v1h-1zM52 59h1v1h-1zM57 59h1v1h-1zM45 60h1v1h-1zM54 60h1v1h-1zM45 61h1v1h-1zM48 62h2v1h-2zM55 63h1v1h-1zM55 64h1v1h-1zM59 66h1v1h-1zM62 68h1v1h-1zM62 70h1v1h-1zM60 71h1v1h-1zM64 71h1v1h-1zM69 71h1v1h-1zM61 72h1v1h-1zM70 72h1v1h-1zM65 73h1v1h-1zM63 75h1v1h-1zM72 76h1v1h-1zM74 76h1v1h-1zM70 77h2v1h-2zM65 78h1v1h-1zM60 79h1v1h-1zM70 79h1v1h-1zM76 79h1v1h-1zM62 80h1v1h-1zM71 80h1v1h-1zM73 80h2v1h-2zM69 81h1v1h-1zM73 81h3v1h-3zM64 82h1v1h-1zM70 82h1v1h-1zM75 82h1v1h-1zM69 83h1v1h-1zM73 83h1v1h-1zM67 84h1v1h-1zM69 84h1v1h-1zM71 84h1v1h-1zM69 85h2v1h-2zM75 85h1v1h-1zM68 87h1v1h-1zM63 88h1v1h-1zM71 88h1v1h-1zM73 88h1v1h-1zM75 88h1v1h-1zM61 89h1v1h-1zM75 89h1v1h-1zM66 90h1v1h-1zM70 90h1v1h-1zM73 90h1v1h-1zM69 91h1v1h-1zM70 92h1v1h-1zM73 92h1v1h-1zM68 93h1v1h-1zM70 94h1v1h-1zM67 95h1v1h-1zM72 95h1v1h-1zM100 95h1v1h-1zM73 96h1v1h-1zM70 98h1v1h-1zM73 98h1v1h-1zM71 99h1v1h-1zM95 99h1v1h-1zM69 100h1v1h-1zM64 101h1v1h-1zM71 101h1v1h-1zM97 101h1v1h-1zM75 102h1v1h-1zM69 103h1v1h-1zM72 103h1v1h-1zM75 103h1v1h-1zM92 103h1v1h-1zM68 104h1v1h-1zM71 104h1v1h-1zM67 105h1v1h-1zM70 105h1v1h-1zM69 106h1v1h-1zM74 106h1v1h-1zM73 107h1v1h-1zM75 107h1v1h-1zM70 108h1v1h-1zM73 109h1v1h-1zM78 111h1v1h-1zM89 113h1v1h-1zM76 115h1v1h-1zM76 116h3v1h-3z"/>
<path fill="#1fa187" d="M77 45h1v1h-1zM74 48h1v1h-1zM68 49h1v1h-1zM73 49h1v1h-1zM71 50h4v1h-4zM56 51h1v1h-1zM60 51h1v1h-1zM75 52h1v1h-1zM62 53h1v1h-1zM67 53h1v1h-1zM72 53h1v1h-1zM37 54h1v1h-1zM61 54h1v1h-1zM68 54h1v1h-1zM71 54h1v1h-1zM73 54h1v1h-1zM40 55h1v1h-1zM71 55h1v1h-1zM41 56h1v1h-1zM43 56h2v1h-2zM46 56h1v1h-1zM49 56h1v1h-1zM51 56h1v1h-1zM53 56h1v1h-1zM38 57h1v1h-1zM44 57h2v1h-2zM47 57h2v1h-2zM51 57h1v1h-1zM64 57h1v1h-1zM68 57h1v1h-1zM77 57h1v1h-1zM41 58h2v1h-2zM47 58h1v1h-1zM49 58h1v1h-1zM54 58h1v1h-1zM65 58h2v1h-2zM40 59h2v1h-2zM45 59h1v1h-1zM49 59h1v1h-1zM67 59h1v1h-1zM47 60h1v1h-1zM49 60h1v1h-1zM51 60h1v1h-1zM70 60h1v1h-1zM73 60h1v1h-1zM49 61h1v1h-1zM71 61h1v1h-1zM51 62h1v1h-1zM54 62h1v1h-1zM50 63h1v1h-1zM57 66h1v1h-1zM58 68h1v1h-1zM63 68h1v1h-1zM71 69h1v1h-1zM64 70h1v1h-1zM66 70h2v1h-2zM66 71h1v1h-1zM66 72h1v1h-1zM71 73h2v1h-2zM74 73h1v1h-1zM67 75h1v1h-1zM66 76h1v1h-1zM70 76h1v1h-1zM63 77h1v1h-1zM77 77h1v1h-1zM66 78h1v1h-1zM75 79h1v1h-1zM63 80h1v1h-1zM72 80h1v1h-1zM75 80h1v1h-1zM77 80h1v1h-1zM72 81h1v1h-1zM80 82h1v1h-1zM66 83h1v1h-1zM71 83h1v1h-1zM74 83h1v1h-1zM76 83h1v1h-1zM78 83h1v1h-1zM75 84h1v1h-1zM72 85h1v1h-1zM67 86h1v1h-1zM69 86h1v1h-1zM74 86h1v1h-1zM78 86h1v1h-1zM79 87h1v1h-1zM76 88h1v1h-1zM71 89h1v1h-1zM73 89h1v1h-1zM76 89h1v1h-1zM71 90h1v1h-1zM75 90h1v1h-1zM72 92h1v1h-1zM74 92h1v1h-1zM71 93h1v1h-1zM73 93h2v1h-2zM79 93h1v1h-1zM66 94h1v1h-1zM73 95h3v1h-3zM75 97h1v1h-1zM72 98h1v1h-1zM73 99h1v1h-1zM75 99h3v1h-3zM90 99h1v1h-1zM68 100h1v1h-1zM70 101h1v1h-1zM72 101h1v1h-1zM73 102h1v1h-1zM90 102h1v1h-1zM68 103h1v1h-1zM74 103h1v1h-1zM73 104h1v1h-1zM69 105h1v1h-1zM71 105h1v1h-1zM73 106h1v1h-1zM72 107h1v1h-1zM91 107h1v1h-1zM73 108h1v1h-1zM79 109h1v1h-1zM73 116h1v1h-1zM80 116h1v1h-1zM83 118h1v1h-1zM87 118h1v1h-1z"/>
<path fill="#21a585" d="M74 46h1v1h-1zM72 47h1v1h-1zM71 48h1v1h-1zM79 49h1v1h-1zM79 53h1v1h-1zM40 54h1v1h-1zM42 54h1v1h-1zM63 54h1v1h-1zM64 55h1v1h-1zM67 55h1v1h-1zM69 55h1v1h-1zM38 56h1v1h-1zM66 56h1v1h-1zM39 57h1v1h-1zM70 57h1v1h-1zM43 58h3v1h-3zM46 59h1v1h-1zM51 59h1v1h-1zM53 59h2v1h-2zM56 59h1v1h-1zM60 59h1v1h-1zM65 59h2v1h-2zM68 59h1v1h-1zM72 59h1v1h-1zM43 60h1v1h-1zM55 60h2v1h-2zM62 60h1v1h-1zM65 60h1v1h-1zM47 61h1v1h-1zM54 61h1v1h-1zM65 61h1v1h-1zM50 62h1v1h-1zM54 64h1v1h-1zM56 65h1v1h-1zM58 66h1v1h-1zM60 66h1v1h-1zM59 67h1v1h-1zM60 68h2v1h-2zM64 68h1v1h-1zM65 69h1v1h-1zM70 70h1v1h-1zM68 71h1v1h-1zM71 72h1v1h-1zM72 74h1v1h-1zM69 75h1v1h-1zM72 75h1v1h-1zM75 75h1v1h-1zM71 76h1v1h-1zM67 77h1v1h-1zM76 77h1v1h-1zM80 77h1v1h-1zM69 78h1v1h-1zM72 78h1v1h-1zM75 78h1v1h-1zM72 79h2v1h-2zM68 81h1v1h-1zM70 81h2v1h-2zM76 81h1v1h-1zM71 86h2v1h-2zM62 87h1v1h-1zM73 87h1v1h-1zM69 90h1v1h-1zM76 90h1v1h-1zM102 90h1v1h-1zM71 91h1v1h-1zM74 91h1v1h-1zM76 91h1v1h-1zM76 92h1v1h-1zM79 92h1v1h-1zM72 93h1v1h-1zM99 93h1v1h-1zM71 94h1v1h-1zM73 94h1v1h-1zM70 95h1v1h-1zM69 96h2v1h-2zM72 96h1v1h-1zM74 96h1v1h-1zM92 96h1v1h-1zM100 96h1v1h-1zM72 97h1v1h-1zM74 97h1v1h-1zM76 97h1v1h-1zM74 98h1v1h-1zM72 99h1v1h-1zM70 100h1v1h-1zM73 100h1v1h-1zM68 101h1v1h-1zM75 101h1v1h-1zM74 102h1v1h-1zM77 102h1v1h-1zM80 102h1v1h-1zM71 103h1v1h-1zM73 103h1v1h-1zM96 103h1v1h-1zM93 104h1v1h-1zM74 105h1v1h-1zM77 106h1v1h-1zM71 107h1v1h-1zM74 107h1v1h-1zM86 111h1v1h-1zM91 114h1v1h-1zM72 115h1v1h-1zM90 116h1v1h-1zM84 119h1v1h-1z"/>
<path fill="#23a983" d="M69 44h1v1h-1zM68 47h1v1h-1zM75 50h1v1h-1zM77 50h2v1h-2zM72 51h2v1h-2zM65 52h1v1h-1zM70 52h3v1h-3zM78 52h1v1h-1zM81 52h1v1h-1zM66 53h1v1h-1zM71 53h1v1h-1zM74 53h1v1h-1zM64 54h1v1h-1zM41 55h1v1h-1zM43 55h1v1h-1zM68 55h1v1h-1zM39 56h1v1h-1zM65 56h1v1h-1zM37 57h1v1h-1zM42 57h1v1h-1zM66 57h2v1h-2zM74 57h1v1h-1zM40 58h1v1h-1zM51 58h1v1h-1zM62 58h1v1h-1zM67 58h1v1h-1zM43 59h1v1h-1zM50 59h1v1h-1zM46 60h1v1h-1zM48 60h1v1h-1zM52 60h1v1h-1zM50 61h1v1h-1zM53 62h1v1h-1zM55 62h1v1h-1zM56 63h1v1h-1zM57 64h1v1h-1zM57 65h3v1h-3zM64 67h1v1h-1zM73 71h1v1h-1zM72 72h1v1h-1zM68 73h1v1h-1zM69 74h1v1h-1zM71 74h1v1h-1zM73 74h1v1h-1zM74 75h1v1h-1zM76 76h1v1h-1zM72 77h1v1h-1zM74 77h1v1h-1zM71 78h1v1h-1zM73 78h1v1h-1zM78 78h1v1h-1zM68 80h1v1h-1zM77 81h1v1h-1zM81 81h1v1h-1zM73 82h2v1h-2zM83 83h1v1h-1zM73 84h1v1h-1zM81 86h2v1h-2zM70 87h1v1h-1zM75 87h1v1h-1zM72 89h1v1h-1zM74 89h1v1h-1zM82 89h1v1h-1zM74 90h1v1h-1zM73 91h1v1h-1zM76 93h1v1h-1zM74 94h1v1h-1zM76 94h2v1h-2zM78 95h1v1h-1zM80 95h1v1h-1zM67 97h1v1h-1zM71 97h1v1h-1zM73 97h1v1h-1zM77 97h1v1h-1zM74 99h1v1h-1zM75 100h1v1h-1zM74 101h1v1h-1zM89 102h1v1h-1zM74 104h1v1h-1zM80 104h1v1h-1zM75 105h2v1h-2zM85 110h1v1h-1zM77 112h1v1h-1zM86 112h1v1h-1zM87 114h1v1h-1zM90 114h1v1h-1zM79 117h1v1h-1zM64 118h1v1h-1zM75 118h1v1h-1zM77 118h1v1h-1zM75 119h1v1h-1z"/>
<path fill="#26ad81" d="M76 45h1v1h-1zM76 46h1v1h-1zM76 48h1v1h-1zM78 48h2v1h-2zM80 49h2v1h-2zM76 50h1v1h-1zM79 50h1v1h-1zM74 51h1v1h-1zM79 51h1v1h-1zM80 52h1v1h-1zM64 53h1v1h-1zM68 53h1v1h-1zM73 53h1v1h-1zM80 53h1v1h-1zM74 56h1v1h-1zM76 56h1v1h-1zM43 57h1v1h-1zM49 57h1v1h-1zM69 57h1v1h-1zM48 58h1v1h-1zM72 58h1v1h-1zM47 59h1v1h-1zM73 59h1v1h-1zM61 60h1v1h-1zM67 60h3v1h-3zM62 61h1v1h-1zM70 61h1v1h-1zM73 62h1v1h-1zM75 62h1v1h-1zM56 64h1v1h-1zM60 65h1v1h-1zM61 66h1v1h-1zM60 67h1v1h-1zM65 68h1v1h-1zM67 68h1v1h-1zM68 69h1v1h-1zM71 70h1v1h-1zM69 72h1v1h-1zM73 72h2v1h-2zM70 74h1v1h-1zM75 74h1v1h-1zM77 76h1v1h-1zM75 77h1v1h-1zM70 78h1v1h-1zM80 79h1v1h-1zM75 83h1v1h-1zM82 83h1v1h-1zM72 84h1v1h-1zM74 84h1v1h-1zM78 84h1v1h-1zM73 85h2v1h-2zM76 86h2v1h-2zM76 87h1v1h-1zM77 89h1v1h-1zM79 89h1v1h-1zM77 90h1v1h-1zM77 91h1v1h-1zM71 92h1v1h-1zM99 92h1v1h-1zM75 94h1v1h-1zM76 96h1v1h-1zM79 96h1v1h-1zM98 97h1v1h-1zM79 99h1v1h-1zM77 101h2v1h-2zM79 102h1v1h-1zM76 103h1v1h-1zM75 104h1v1h-1zM73 105h1v1h-1zM75 106h1v1h-1zM85 106h1v1h-1zM83 107h1v1h-1zM92 107h1v1h-1zM86 109h1v1h-1zM76 112h1v1h-1zM92 113h2v1h-2zM80 114h1v1h-1zM80 115h1v1h-1zM85 115h1v1h-1zM64 117h1v1h-1zM90 118h1v1h-1z"/>
<path fill="#2ab07f" d="M78 49h1v1h-1zM69 51h1v1h-1zM77 51h2v1h-2zM67 52h1v1h-1zM74 52h1v1h-1zM77 52h1v1h-1zM69 53h1v1h-1zM70 54h1v1h-1zM72 54h1v1h-1zM79 54h1v1h-1zM73 55h1v1h-1zM40 56h1v1h-1zM45 56h1v1h-1zM71 56h1v1h-1zM77 56h1v1h-1zM71 58h1v1h-1zM78 58h1v1h-1zM44 59h1v1h-1zM69 59h1v1h-1zM75 59h1v1h-1zM58 60h1v1h-1zM60 60h1v1h-1zM64 60h1v1h-1zM74 60h1v1h-1zM56 61h1v1h-1zM68 61h2v1h-2zM72 61h2v1h-2zM76 61h1v1h-1zM56 62h1v1h-1zM66 62h1v1h-1zM68 62h1v1h-1zM70 62h1v1h-1zM62 67h1v1h-1zM63 69h1v1h-1zM66 69h1v1h-1zM75 73h1v1h-1zM74 74h1v1h-1zM80 74h1v1h-1zM76 75h1v1h-1zM73 76h1v1h-1zM75 76h1v1h-1zM83 77h1v1h-1zM74 78h1v1h-1zM77 78h1v1h-1zM79 78h1v1h-1zM78 79h1v1h-1zM76 80h1v1h-1zM80 80h1v1h-1zM78 82h1v1h-1zM72 83h1v1h-1zM80 83h1v1h-1zM76 84h1v1h-1zM78 85h1v1h-1zM83 85h1v1h-1zM78 87h1v1h-1zM74 88h1v1h-1zM78 88h1v1h-1zM78 90h2v1h-2zM78 91h1v1h-1zM75 93h1v1h-1zM77 93h1v1h-1zM77 95h1v1h-1zM75 96h1v1h-1zM77 96h1v1h-1zM79 97h1v1h-1zM75 98h2v1h-2zM77 100h2v1h-2zM81 100h1v1h-1zM76 104h1v1h-1zM78 104h1v1h-1zM84 105h1v1h-1zM81 110h1v1h-1zM90 111h1v1h-1z"/>
<path fill="#2fb47c" d="M75 49h1v1h-1zM78 54h1v1h-1zM80 54h1v1h-1zM72 55h1v1h-1zM76 55h2v1h-2zM80 55h1v1h-1zM70 56h1v1h-1zM72 56h2v1h-2zM71 57h1v1h-1zM73 57h1v1h-1zM70 58h1v1h-1zM76 58h1v1h-1zM74 59h1v1h-1zM57 60h1v1h-1zM63 60h1v1h-1zM66 60h1v1h-1zM81 60h1v1h-1zM55 61h1v1h-1zM66 61h1v1h-1zM63 62h1v1h-1zM65 62h1v1h-1zM72 62h1v1h-1zM74 62h1v1h-1zM78 62h1v1h-1zM57 63h1v1h-1zM73 63h1v1h-1zM65 65h1v1h-1zM62 66h1v1h-1zM72 66h1v1h-1zM68 67h1v1h-1zM66 68h1v1h-1zM67 69h1v1h-1zM68 70h2v1h-2zM74 70h2v1h-2zM71 71h1v1h-1zM77 72h1v1h-1zM73 73h1v1h-1zM77 73h1v1h-1zM77 74h1v1h-1zM79 75h2v1h-2zM78 76h1v1h-1zM81 76h1v1h-1zM73 77h1v1h-1zM78 77h2v1h-2zM83 78h1v1h-1zM74 79h1v1h-1zM79 79h1v1h-1zM81 80h1v1h-1zM79 81h1v1h-1zM77 82h1v1h-1zM81 83h1v1h-1zM77 84h1v1h-1zM81 84h2v1h-2zM77 85h1v1h-1zM79 85h2v1h-2zM74 87h1v1h-1zM77 88h1v1h-1zM84 88h1v1h-1zM78 89h1v1h-1zM75 91h1v1h-1zM75 92h1v1h-1zM78 92h1v1h-1zM81 92h4v1h-4zM82 94h1v1h-1zM76 95h1v1h-1zM78 97h1v1h-1zM77 98h1v1h-1zM79 98h1v1h-1zM81 98h2v1h-2zM76 100h1v1h-1zM76 101h1v1h-1zM79 101h1v1h-1zM76 102h1v1h-1zM81 102h1v1h-1zM77 103h1v1h-1zM79 103h1v1h-1zM77 105h2v1h-2z"/>
<path fill="#35b779" d="M77 49h1v1h-1zM81 51h1v1h-1zM77 53h1v1h-1zM82 53h1v1h-1zM74 54h2v1h-2zM74 55h1v1h-1zM78 55h1v1h-1zM76 57h1v1h-1zM70 59h1v1h-1zM77 60h1v1h-1zM61 61h1v1h-1zM64 61h1v1h-1zM67 61h1v1h-1zM69 62h1v1h-1zM71 62h1v1h-1zM77 62h1v1h-1zM58 63h1v1h-1zM65 63h1v1h-1zM59 64h1v1h-1zM62 65h1v1h-1zM68 66h1v1h-1zM66 67h1v1h-1zM70 67h1v1h-1zM69 68h1v1h-1zM72 71h1v1h-1zM78 73h1v1h-1zM78 74h2v1h-2zM73 75h1v1h-1zM76 78h1v1h-1zM81 78h1v1h-1zM84 79h1v1h-1zM80 81h1v1h-1zM82 81h2v1h-2zM79 82h1v1h-1zM83 82h1v1h-1zM79 83h1v1h-1zM83 84h1v1h-1zM85 84h2v1h-2zM81 87h1v1h-1zM80 88h1v1h-1zM80 89h1v1h-1zM83 89h1v1h-1zM84 90h1v1h-1zM79 91h2v1h-2zM80 93h2v1h-2zM79 95h1v1h-1zM78 98h1v1h-1zM78 99h1v1h-1zM80 99h1v1h-1zM79 100h1v1h-1zM82 102h1v1h-1zM81 103h1v1h-1zM77 104h1v1h-1z"/>
<path fill="#3bbb75" d="M82 50h1v1h-1zM76 51h1v1h-1zM73 52h1v1h-1zM79 52h1v1h-1zM76 53h1v1h-1zM84 53h1v1h-1zM81 54h1v1h-1zM75 56h1v1h-1zM80 56h1v1h-1zM78 57h1v1h-1zM80 57h1v1h-1zM73 58h3v1h-3zM79 58h2v1h-2zM71 59h1v1h-1zM79 59h1v1h-1zM59 60h1v1h-1zM71 60h2v1h-2zM75 60h1v1h-1zM53 61h1v1h-1zM57 61h1v1h-1zM63 61h1v1h-1zM74 61h2v1h-2zM67 62h1v1h-1zM79 62h1v1h-1zM62 63h1v1h-1zM70 63h1v1h-1zM61 64h1v1h-1zM64 64h1v1h-1zM69 64h1v1h-1zM63 65h1v1h-1zM72 65h1v1h-1zM74 65h1v1h-1zM63 66h2v1h-2zM63 67h1v1h-1zM74 69h1v1h-1zM72 70h1v1h-1zM79 73h1v1h-1zM78 75h1v1h-1zM79 76h1v1h-1zM82 76h1v1h-1zM81 79h2v1h-2zM82 80h1v1h-1zM82 82h1v1h-1zM86 82h1v1h-1zM86 83h1v1h-1zM81 85h1v1h-1zM79 86h2v1h-2zM83 86h1v1h-1zM82 88h1v1h-1zM80 90h2v1h-2zM81 91h1v1h-1zM78 93h1v1h-1zM84 93h1v1h-1zM78 94h1v1h-1zM87 94h1v1h-1zM82 95h2v1h-2zM85 95h1v1h-1zM81 96h1v1h-1zM80 98h1v1h-1zM81 101h2v1h-2zM79 104h1v1h-1z"/>
<path fill="#42be71" d="M76 54h2v1h-2zM79 55h1v1h-1zM81 55h1v1h-1zM83 55h1v1h-1zM78 56h2v1h-2zM79 57h1v1h-1zM83 58h1v1h-1zM76 59h3v1h-3zM82 59h1v1h-1zM76 60h1v1h-1zM77 61h2v1h-2zM80 61h1v1h-1zM57 62h1v1h-1zM59 62h1v1h-1zM64 62h1v1h-1zM76 62h1v1h-1zM61 63h1v1h-1zM63 63h2v1h-2zM68 63h2v1h-2zM71 63h1v1h-1zM75 63h1v1h-1zM79 63h1v1h-1zM63 64h1v1h-1zM68 64h1v1h-1zM76 64h2v1h-2zM68 65h2v1h-2zM73 65h1v1h-1zM76 65h1v1h-1zM65 66h1v1h-1zM69 66h1v1h-1zM65 67h1v1h-1zM73 67h1v1h-1zM68 68h1v1h-1zM70 68h2v1h-2zM74 68h1v1h-1zM69 69h1v1h-1zM74 71h1v1h-1zM76 71h1v1h-1zM75 72h2v1h-2zM76 74h1v1h-1zM82 74h1v1h-1zM77 75h1v1h-1zM81 75h2v1h-2zM80 76h1v1h-1zM82 77h1v1h-1zM82 78h1v1h-1zM77 79h1v1h-1zM83 79h1v1h-1zM86 80h1v1h-1zM86 81h1v1h-1zM88 82h1v1h-1zM84 83h1v1h-1zM79 84h1v1h-1zM84 85h1v1h-1zM86 85h1v1h-1zM84 86h2v1h-2zM87 86h1v1h-1zM82 87h1v1h-1zM84 87h1v1h-1zM86 87h1v1h-1zM88 87h1v1h-1zM79 88h1v1h-1zM83 88h1v1h-1zM82 90h2v1h-2zM83 91h1v1h-1zM77 92h1v1h-1zM88 92h1v1h-1zM85 93h1v1h-1zM79 94h2v1h-2zM84 94h1v1h-1zM81 95h1v1h-1zM84 95h1v1h-1zM78 96h1v1h-1zM80 96h1v1h-1zM85 96h1v1h-1zM81 97h1v1h-1zM81 99h1v1h-1zM83 102h1v1h-1zM78 103h1v1h-1zM80 103h1v1h-1zM76 106h1v1h-1z"/>
<path fill="#4ac16d" d="M83 52h1v1h-1zM81 53h1v1h-1zM83 53h1v1h-1zM85 53h1v1h-1zM82 55h1v1h-1zM84 56h1v1h-1zM87 56h1v1h-1zM72 57h1v1h-1zM75 57h1v1h-1zM81 57h1v1h-1zM83 57h1v1h-1zM85 57h1v1h-1zM87 57h1v1h-1zM81 59h1v1h-1zM78 60h1v1h-1zM59 61h1v1h-1zM58 62h1v1h-1zM60 62h1v1h-1zM81 62h1v1h-1zM72 63h1v1h-1zM76 63h2v1h-2zM58 64h1v1h-1zM72 64h1v1h-1zM80 64h1v1h-1zM64 65h1v1h-1zM67 65h1v1h-1zM71 65h1v1h-1zM77 65h1v1h-1zM85 65h1v1h-1zM77 66h1v1h-1zM67 67h1v1h-1zM74 67h2v1h-2zM73 68h1v1h-1zM70 69h1v1h-1zM72 69h1v1h-1zM75 69h1v1h-1zM76 73h1v1h-1zM81 77h1v1h-1zM87 77h1v1h-1zM80 78h1v1h-1zM86 79h1v1h-1zM79 80h1v1h-1zM84 81h2v1h-2zM81 82h1v1h-1zM84 84h1v1h-1zM88 84h1v1h-1zM85 85h1v1h-1zM83 87h1v1h-1zM87 87h1v1h-1zM86 88h1v1h-1zM81 89h1v1h-1zM87 89h1v1h-1zM87 90h1v1h-1zM82 91h1v1h-1zM85 91h1v1h-1zM80 92h1v1h-1zM81 94h1v1h-1zM85 94h2v1h-2zM82 97h1v1h-1zM83 98h2v1h-2zM82 99h1v1h-1zM80 100h1v1h-1zM80 101h1v1h-1zM83 101h1v1h-1zM78 102h1v1h-1z"/>
<path fill="#52c569" d="M78 53h1v1h-1zM86 54h1v1h-1zM85 55h1v1h-1zM91 56h1v1h-1zM77 58h1v1h-1zM86 58h1v1h-1zM82 60h1v1h-1zM84 60h1v1h-1zM58 61h1v1h-1zM60 61h1v1h-1zM82 61h1v1h-1zM82 62h1v1h-1zM59 63h1v1h-1zM66 63h2v1h-2zM74 63h1v1h-1zM60 64h1v1h-1zM62 64h1v1h-1zM66 64h1v1h-1zM70 64h1v1h-1zM73 64h1v1h-1zM75 64h1v1h-1zM79 64h1v1h-1zM61 65h1v1h-1zM70 65h1v1h-1zM82 65h2v1h-2zM73 66h1v1h-1zM76 66h1v1h-1zM69 67h1v1h-1zM87 67h1v1h-1zM76 69h1v1h-1zM73 70h1v1h-1zM77 70h1v1h-1zM75 71h1v1h-1zM84 75h1v1h-1zM83 76h2v1h-2zM84 77h1v1h-1zM88 77h1v1h-1zM85 78h1v1h-1zM87 79h2v1h-2zM84 80h1v1h-1zM87 80h1v1h-1zM85 82h1v1h-1zM85 83h1v1h-1zM80 84h1v1h-1zM81 88h1v1h-1zM85 88h1v1h-1zM85 89h1v1h-1zM89 90h1v1h-1zM84 91h1v1h-1zM86 91h1v1h-1zM85 92h2v1h-2zM87 93h1v1h-1zM86 95h1v1h-1zM82 96h1v1h-1z"/>
<path fill="#5ac864" d="M85 54h1v1h-1zM87 55h1v1h-1zM82 56h2v1h-2zM86 56h1v1h-1zM82 57h1v1h-1zM84 57h1v1h-1zM82 58h1v1h-1zM84 58h1v1h-1zM87 58h2v1h-2zM87 59h1v1h-1zM80 60h1v1h-1zM87 60h1v1h-1zM81 61h1v1h-1zM84 61h1v1h-1zM61 62h2v1h-2zM80 62h1v1h-1zM60 63h1v1h-1zM78 63h1v1h-1zM65 64h1v1h-1zM78 64h1v1h-1zM84 64h1v1h-1zM66 65h1v1h-1zM70 66h2v1h-2zM85 66h1v1h-1zM71 67h1v1h-1zM76 67h1v1h-1zM73 69h1v1h-1zM87 70h1v1h-1zM78 72h1v1h-1zM83 75h1v1h-1zM85 76h1v1h-1zM86 78h1v1h-1zM85 79h1v1h-1zM83 80h1v1h-1zM88 81h1v1h-1zM87 83h2v1h-2zM90 83h1v1h-1zM87 85h2v1h-2zM86 86h1v1h-1zM89 86h1v1h-1zM88 88h1v1h-1zM88 89h1v1h-1zM82 93h2v1h-2zM88 93h1v1h-1zM84 96h1v1h-1zM80 97h1v1h-1zM83 97h1v1h-1zM87 99h1v1h-1zM84 101h1v1h-1z"/>
<path fill="#65cb5e" d="M86 55h1v1h-1zM88 55h1v1h-1zM85 56h1v1h-1zM89 57h2v1h-2zM81 58h1v1h-1zM80 59h1v1h-1zM84 59h1v1h-1zM79 60h1v1h-1zM85 62h1v1h-1zM80 63h1v1h-1zM82 63h1v1h-1zM84 63h1v1h-1zM67 64h1v1h-1zM71 64h1v1h-1zM74 64h1v1h-1zM81 64h1v1h-1zM75 65h1v1h-1zM67 66h1v1h-1zM75 66h1v1h-1zM77 67h2v1h-2zM82 67h1v1h-1zM72 68h1v1h-1zM76 68h1v1h-1zM76 70h1v1h-1zM77 71h1v1h-1zM87 72h1v1h-1zM83 73h1v1h-1zM81 74h1v1h-1zM87 75h1v1h-1zM87 78h1v1h-1zM85 80h1v1h-1zM87 81h1v1h-1zM89 84h1v1h-1zM89 85h2v1h-2zM88 86h1v1h-1zM87 88h1v1h-1zM89 88h2v1h-2zM84 89h1v1h-1zM86 89h1v1h-1zM89 89h1v1h-1zM87 91h1v1h-1zM83 94h1v1h-1zM87 95h1v1h-1zM86 96h1v1h-1zM83 99h1v1h-1zM81 104h1v1h-1z"/>
<path fill="#6ece58" d="M84 55h1v1h-1zM90 56h1v1h-1zM91 57h1v1h-1zM83 59h1v1h-1zM85 59h1v1h-1zM83 60h1v1h-1zM83 61h1v1h-1zM84 62h1v1h-1zM83 63h1v1h-1zM87 63h1v1h-1zM89 63h1v1h-1zM94 63h1v1h-1zM82 64h1v1h-1zM86 64h1v1h-1zM78 65h1v1h-1zM80 65h2v1h-2zM84 65h1v1h-1zM89 65h1v1h-1zM66 66h1v1h-1zM74 66h1v1h-1zM79 66h1v1h-1zM75 68h1v1h-1zM84 69h1v1h-1zM82 72h1v1h-1zM83 74h1v1h-1zM86 75h1v1h-1zM89 76h2v1h-2zM85 77h1v1h-1zM88 78h1v1h-1zM90 80h1v1h-1zM89 82h1v1h-1zM93 82h1v1h-1zM85 90h1v1h-1zM88 90h1v1h-1zM90 90h1v1h-1zM89 92h1v1h-1zM86 93h1v1h-1zM84 97h1v1h-1zM89 97h1v1h-1zM85 101h1v1h-1z"/>
<path fill="#77d153" d="M89 55h1v1h-1zM88 56h1v1h-1zM86 57h1v1h-1zM85 58h1v1h-1zM91 58h2v1h-2zM86 59h1v1h-1zM90 59h1v1h-1zM98 59h1v1h-1zM88 60h1v1h-1zM79 61h1v1h-1zM87 61h1v1h-1zM89 62h1v1h-1zM81 63h1v1h-1zM90 63h1v1h-1zM79 65h1v1h-1zM86 65h1v1h-1zM88 65h1v1h-1zM78 66h1v1h-1zM80 66h1v1h-1zM82 66h3v1h-3zM86 66h1v1h-1zM90 66h1v1h-1zM72 67h1v1h-1zM83 67h1v1h-1zM77 68h1v1h-1zM86 68h1v1h-1zM89 68h1v1h-1zM78 71h1v1h-1zM84 71h1v1h-1zM81 72h1v1h-1zM96 72h1v1h-1zM81 73h1v1h-1zM87 74h1v1h-1zM85 75h1v1h-1zM86 76h1v1h-1zM86 77h1v1h-1zM90 77h1v1h-1zM89 78h1v1h-1zM89 79h1v1h-1zM88 80h1v1h-1zM91 81h1v1h-1zM91 83h1v1h-1zM87 84h1v1h-1zM91 84h1v1h-1zM90 86h2v1h-2zM89 87h1v1h-1zM91 87h1v1h-1zM88 91h2v1h-2zM85 97h1v1h-1zM86 99h1v1h-1z"/>
<path fill="#81d34d" d="M91 59h1v1h-1zM93 59h1v1h-1zM89 60h2v1h-2zM85 61h1v1h-1zM89 61h1v1h-1zM93 61h1v1h-1zM83 62h1v1h-1zM86 62h1v1h-1zM90 62h1v1h-1zM92 62h1v1h-1zM83 64h1v1h-1zM85 64h1v1h-1zM88 64h1v1h-1zM94 64h1v1h-1zM87 65h1v1h-1zM81 66h1v1h-1zM87 66h1v1h-1zM89 66h1v1h-1zM81 67h1v1h-1zM81 68h2v1h-2zM83 69h1v1h-1zM81 70h1v1h-1zM79 71h2v1h-2zM85 71h1v1h-1zM79 72h2v1h-2zM84 72h1v1h-1zM80 73h1v1h-1zM82 73h1v1h-1zM88 73h1v1h-1zM95 73h1v1h-1zM85 74h2v1h-2zM89 74h1v1h-1zM91 75h1v1h-1zM96 75h1v1h-1zM87 76h2v1h-2zM89 77h1v1h-1zM84 78h1v1h-1zM91 78h2v1h-2zM89 81h1v1h-1zM90 84h1v1h-1zM90 89h1v1h-1zM87 92h1v1h-1zM83 96h1v1h-1zM82 100h1v1h-1z"/>
<path fill="#8bd646" d="M89 58h2v1h-2zM89 59h1v1h-1zM92 59h1v1h-1zM93 60h1v1h-1zM86 61h1v1h-1zM88 61h1v1h-1zM90 61h1v1h-1zM95 61h1v1h-1zM97 61h1v1h-1zM87 62h1v1h-1zM85 63h2v1h-2zM87 64h1v1h-1zM90 64h1v1h-1zM92 64h2v1h-2zM88 66h1v1h-1zM79 67h2v1h-2zM84 67h1v1h-1zM89 67h1v1h-1zM91 67h1v1h-1zM95 67h1v1h-1zM90 68h1v1h-1zM77 69h1v1h-1zM89 69h1v1h-1zM91 69h1v1h-1zM78 70h1v1h-1zM91 70h1v1h-1zM83 72h1v1h-1zM93 72h1v1h-1zM84 73h2v1h-2zM87 73h1v1h-1zM91 73h1v1h-1zM96 73h1v1h-1zM88 75h1v1h-1zM94 75h1v1h-1zM91 76h1v1h-1zM90 78h1v1h-1zM94 78h1v1h-1zM90 79h1v1h-1zM93 79h1v1h-1zM96 79h1v1h-1zM89 80h1v1h-1zM92 80h2v1h-2zM90 81h1v1h-1zM95 81h1v1h-1zM87 82h1v1h-1zM89 83h1v1h-1zM93 83h2v1h-2zM91 85h2v1h-2zM93 86h1v1h-1zM92 87h1v1h-1zM91 88h1v1h-1zM86 90h1v1h-1zM91 90h1v1h-1zM85 100h1v1h-1z"/>
<path fill="#95d840" d="M88 59h1v1h-1zM85 60h1v1h-1zM91 60h1v1h-1zM96 60h2v1h-2zM96 61h1v1h-1zM93 62h1v1h-1zM88 63h1v1h-1zM91 63h1v1h-1zM91 64h1v1h-1zM93 65h1v1h-1zM97 65h1v1h-1zM90 67h1v1h-1zM78 68h2v1h-2zM85 68h1v1h-1zM88 69h1v1h-1zM90 69h1v1h-1zM93 69h1v1h-1zM88 70h2v1h-2zM81 71h1v1h-1zM87 71h1v1h-1zM89 71h1v1h-1zM91 72h1v1h-1zM86 73h1v1h-1zM92 73h1v1h-1zM84 74h1v1h-1zM88 74h1v1h-1zM91 74h1v1h-1zM90 75h1v1h-1zM92 75h1v1h-1zM93 77h1v1h-1zM93 78h1v1h-1zM96 78h1v1h-1zM91 79h1v1h-1zM91 80h1v1h-1zM96 81h1v1h-1zM90 82h1v1h-1zM92 82h1v1h-1zM93 84h1v1h-1zM94 85h1v1h-1zM91 89h1v1h-1zM88 94h1v1h-1z"/>
<path fill="#a0da39" d="M94 59h1v1h-1zM86 60h1v1h-1zM92 60h1v1h-1zM94 60h1v1h-1zM91 61h1v1h-1zM94 61h1v1h-1zM99 61h1v1h-1zM91 62h1v1h-1zM94 62h1v1h-1zM97 62h1v1h-1zM99 62h1v1h-1zM97 64h2v1h-2zM90 65h1v1h-1zM92 65h1v1h-1zM86 67h1v1h-1zM88 67h1v1h-1zM80 68h1v1h-1zM91 68h2v1h-2zM80 69h1v1h-1zM85 69h1v1h-1zM87 69h1v1h-1zM79 70h1v1h-1zM86 70h1v1h-1zM86 71h1v1h-1zM92 71h2v1h-2zM90 72h1v1h-1zM90 74h1v1h-1zM92 74h1v1h-1zM94 74h3v1h-3zM91 77h1v1h-1zM95 79h1v1h-1zM94 80h2v1h-2zM92 81h3v1h-3zM91 82h1v1h-1zM95 82h1v1h-1zM94 84h2v1h-2zM93 85h1v1h-1zM92 86h1v1h-1zM90 91h1v1h-1zM85 98h1v1h-1z"/>
<path fill="#aadc32" d="M96 58h1v1h-1zM88 62h1v1h-1zM95 62h2v1h-2zM101 63h1v1h-1zM89 64h1v1h-1zM101 64h1v1h-1zM98 65h1v1h-1zM92 66h1v1h-1zM94 66h1v1h-1zM85 67h1v1h-1zM92 67h3v1h-3zM84 68h1v1h-1zM88 68h1v1h-1zM82 69h1v1h-1zM86 69h1v1h-1zM80 70h1v1h-1zM85 70h1v1h-1zM97 70h1v1h-1zM88 71h1v1h-1zM95 71h1v1h-1zM85 72h1v1h-1zM88 72h1v1h-1zM92 72h1v1h-1zM90 73h1v1h-1zM89 75h1v1h-1zM95 75h1v1h-1zM92 76h1v1h-1zM92 77h1v1h-1zM96 80h2v1h-2zM94 82h1v1h-1zM95 83h1v1h-1zM90 87h1v1h-1zM92 88h1v1h-1zM88 95h1v1h-1zM87 96h1v1h-1zM86 97h1v1h-1zM88 97h1v1h-1zM86 98h2v1h-2zM83 100h1v1h-1z"/>
<path fill="#b5de2b" d="M98 61h1v1h-1zM92 63h1v1h-1zM96 63h1v1h-1zM100 63h1v1h-1zM99 64h1v1h-1zM101 65h1v1h-1zM104 65h1v1h-1zM91 66h1v1h-1zM93 66h1v1h-1zM95 66h2v1h-2zM98 66h1v1h-1zM100 66h1v1h-1zM83 68h1v1h-1zM94 68h1v1h-1zM78 69h2v1h-2zM82 70h1v1h-1zM90 70h1v1h-1zM82 71h1v1h-1zM94 71h1v1h-1zM96 71h1v1h-1zM89 72h1v1h-1zM93 73h1v1h-1zM93 76h1v1h-1zM96 76h1v1h-1zM96 77h2v1h-2zM97 78h1v1h-1zM92 79h1v1h-1zM92 83h1v1h-1zM89 93h1v1h-1zM84 99h1v1h-1z"/>
<path fill="#c0df25" d="M92 61h1v1h-1zM100 62h1v1h-1zM95 63h1v1h-1zM97 63h1v1h-1zM95 64h1v1h-1zM94 65h1v1h-1zM101 66h2v1h-2zM104 66h1v1h-1zM96 67h2v1h-2zM95 68h1v1h-1zM94 69h2v1h-2zM84 70h1v1h-1zM93 70h1v1h-1zM86 72h1v1h-1zM97 72h1v1h-1zM94 73h1v1h-1zM93 74h1v1h-1zM97 75h1v1h-1zM95 76h1v1h-1zM97 76h1v1h-1zM94 77h1v1h-1zM95 78h1v1h-1zM94 79h1v1h-1zM96 82h1v1h-1zM92 84h1v1h-1zM93 87h1v1h-1zM91 95h1v1h-1z"/>
<path fill="#cae11f" d="M98 62h1v1h-1zM91 65h1v1h-1zM96 65h1v1h-1zM97 66h1v1h-1zM105 66h1v1h-1zM106 67h1v1h-1zM96 68h1v1h-1zM92 69h1v1h-1zM96 69h1v1h-1zM83 71h1v1h-1zM95 72h1v1h-1zM93 75h1v1h-1zM95 77h1v1h-1zM97 79h1v1h-1zM96 83h1v1h-1zM87 97h1v1h-1z"/>
<path fill="#d5e21a" d="M99 63h1v1h-1zM96 64h1v1h-1zM95 65h1v1h-1zM99 65h1v1h-1zM99 66h1v1h-1zM93 68h1v1h-1zM83 70h1v1h-1zM94 70h2v1h-2zM90 71h1v1h-1zM97 71h1v1h-1zM94 72h1v1h-1zM97 73h1v1h-1zM97 74h1v1h-1zM97 81h1v1h-1zM106 81h1v1h-1zM97 82h1v1h-1zM92 89h1v1h-1zM89 96h1v1h-1zM85 99h1v1h-1zM84 100h1v1h-1z"/>
<path fill="#dfe318" d="M103 64h1v1h-1zM102 65h2v1h-2zM104 67h2v1h-2zM97 68h1v1h-1zM105 68h1v1h-1zM81 69h1v1h-1zM97 69h1v1h-1zM92 70h1v1h-1zM98 80h1v1h-1zM94 86h1v1h-1zM88 96h1v1h-1z"/>
<path fill="#eae51a" d="M100 64h1v1h-1zM100 65h1v1h-1zM100 67h1v1h-1zM94 76h1v1h-1zM98 77h1v1h-1zM98 78h1v1h-1zM93 88h1v1h-1zM90 95h1v1h-1z"/>
<path fill="#f4e61e" d="M106 66h1v1h-1zM102 67h1v1h-1zM108 79h1v1h-1zM97 83h1v1h-1zM89 94h1v1h-1z"/>
<path fill="#fde725" d="M102 64h1v1h-1zM103 66h1v1h-1zM98 67h2v1h-2zM101 67h1v1h-1zM103 67h1v1h-1zM98 68h7v1h-7zM106 68h1v1h-1zM98 69h9v1h-9zM96 70h1v1h-1zM98 70h10v1h-10zM98 71h10v1h-10zM98 72h12v1h-12zM98 73h6v1h-6zM105 73h6v1h-6zM98 74h14v1h-14zM98 75h14v1h-14zM98 76h14v1h-14zM99 77h11v1h-11zM99 78h11v1h-11zM98 79h10v1h-10zM99 80h9v1h-9zM98 81h8v1h-8zM98 82h8v1h-8zM98 83h7v1h-7zM96 84h8v1h-8zM95 85h8v1h-8zM95 86h7v1h-7zM94 87h6v1h-6zM94 88h6v1h-6zM93 89h5v1h-5zM92 90h5v1h-5zM91 91h5v1h-5zM90 92h4v1h-4zM90 93h3v1h-3zM90 94h2v1h-2zM89 95h1v1h-1z"/>
</g></g>
<g clip-path="url(#clip2)"><g transform="translate(125.00 1314.20) scale(4.8704 4.7817)" shape-rendering="crispEdges">
<path fill="#440154" d="M9 4h1v1h-1zM6 10h1v1h-1zM12 10h1v1h-1zM14 11h1v1h-1zM12 14h1v1h-1zM10 15h1v1h-1zM44 18h1v1h-1zM17 19h2v1h-2zM47 19h1v1h-1zM44 21h1v1h-1zM40 22h1v1h-1zM44 22h1v1h-1zM45 23h1v1h-1zM52 23h1v1h-1zM51 24h1v1h-1zM0 25h1v1h-1zM43 25h1v1h-1zM50 25h2v1h-2zM53 25h1v1h-1zM2 26h1v1h-1zM4 26h1v1h-1zM13 26h2v1h-2zM22 26h1v1h-1zM43 26h1v1h-1zM47 26h1v1h-1zM49 26h1v1h-1zM0 27h1v1h-1zM6 27h2v1h-2zM12 27h1v1h-1zM40 27h1v1h-1zM43 27h1v1h-1zM49 27h1v1h-1zM57 27h2v1h-2zM5 28h1v1h-1zM9 28h1v1h-1zM15 28h1v1h-1zM21 28h1v1h-1zM23 28h1v1h-1zM40 28h1v1h-1zM52 28h1v1h-1zM5 29h1v1h-1zM9 29h1v1h-1zM15 29h1v1h-1zM17 29h1v1h-1zM34 29h1v1h-1zM39 29h1v1h-1zM2 30h1v1h-1zM17 30h2v1h-2zM21 30h1v1h-1zM29 30h1v1h-1zM31 30h1v1h-1zM15 31h1v1h-1zM24 31h1v1h-1zM31 31h1v1h-1zM51 31h1v1h-1zM53 31h1v1h-1zM2 32h1v1h-1zM4 32h1v1h-1zM6 32h1v1h-1zM11 32h1v1h-1zM14 32h1v1h-1zM30 32h1v1h-1zM39 32h1v1h-1zM50 32h1v1h-1zM57 32h1v1h-1zM3 33h1v1h-1zM11 33h1v1h-1zM20 33h1v1h-1zM34 33h1v1h-1zM40 33h1v1h-1zM48 33h1v1h-1zM51 33h1v1h-1zM57 33h1v1h-1zM64 33h1v1h-1zM5 34h1v1h-1zM13 34h1v1h-1zM22 34h1v1h-1zM26 34h1v1h-1zM30 34h2v1h-2zM37 34h1v1h-1zM43 34h1v1h-1zM47 34h1v1h-1zM54 34h1v1h-1zM9 35h1v1h-1zM13 35h1v1h-1zM29 35h1v1h-1zM45 35h2v1h-2zM52 35h1v1h-1zM66 35h1v1h-1zM6 36h1v1h-1zM12 36h1v1h-1zM15 36h1v1h-1zM17 36h1v1h-1zM25 36h1v1h-1zM43 36h1v1h-1zM58 36h1v1h-1zM61 36h1v1h-1zM66 36h2v1h-2zM7 37h1v1h-1zM15 37h1v1h-1zM26 37h1v1h-1zM28 37h1v1h-1zM35 37h1v1h-1zM53 37h1v1h-1zM55 37h1v1h-1zM61 37h1v1h-1zM67 37h1v1h-1zM1 38h2v1h-2zM4 38h3v1h-3zM9 38h1v1h-1zM24 38h1v1h-1zM35 38h2v1h-2zM46 38h1v1h-1zM50 38h1v1h-1zM54 38h3v1h-3zM66 38h1v1h-1zM3 39h1v1h-1zM26 39h1v1h-1zM40 39h1v1h-1zM58 39h1v1h-1zM60 39h2v1h-2zM3 40h1v1h-1zM7 40h1v1h-1zM13 40h1v1h-1zM15 40h1v1h-1zM27 40h1v1h-1zM64 40h1v1h-1zM5 41h1v1h-1zM9 41h1v1h-1zM20 41h1v1h-1zM23 41h1v1h-1zM27 41h1v1h-1zM32 41h1v1h-1zM43 41h2v1h-2zM47 41h1v1h-1zM55 41h2v1h-2zM0 42h1v1h-1zM2 42h4v1h-4zM11 42h1v1h-1zM17 42h1v1h-1zM20 42h1v1h-1zM33 42h1v1h-1zM39 42h1v1h-1zM44 42h1v1h-1zM50 42h1v1h-1zM60 42h2v1h-2zM68 42h1v1h-1zM5 43h2v1h-2zM9 43h1v1h-1zM32 43h1v1h-1zM57 43h1v1h-1zM3 44h1v1h-1zM13 44h2v1h-2zM17 44h1v1h-1zM21 44h1v1h-1zM25 44h1v1h-1zM28 44h1v1h-1zM36 44h1v1h-1zM41 44h1v1h-1zM44 44h1v1h-1zM53 44h1v1h-1zM59 44h1v1h-1zM9 45h2v1h-2zM17 45h1v1h-1zM25 45h1v1h-1zM35 45h1v1h-1zM40 45h2v1h-2zM43 45h1v1h-1zM46 45h1v1h-1zM49 45h1v1h-1zM53 45h1v1h-1zM57 45h1v1h-1zM69 45h1v1h-1zM14 46h2v1h-2zM17 46h1v1h-1zM35 46h2v1h-2zM44 46h1v1h-1zM48 46h1v1h-1zM52 46h1v1h-1zM59 46h1v1h-1zM63 46h1v1h-1zM69 46h1v1h-1zM5 47h1v1h-1zM21 47h1v1h-1zM24 47h1v1h-1zM28 47h1v1h-1zM31 47h2v1h-2zM37 47h1v1h-1zM39 47h1v1h-1zM41 47h1v1h-1zM44 47h1v1h-1zM55 47h2v1h-2zM3 48h1v1h-1zM5 48h1v1h-1zM33 48h1v1h-1zM36 48h1v1h-1zM40 48h1v1h-1zM43 48h1v1h-1zM45 48h1v1h-1zM49 48h1v1h-1zM59 48h1v1h-1zM63 48h1v1h-1zM70 48h1v1h-1zM78 48h1v1h-1zM3 49h1v1h-1zM11 49h1v1h-1zM20 49h1v1h-1zM33 49h1v1h-1zM48 49h2v1h-2zM54 49h1v1h-1zM60 49h1v1h-1zM65 49h1v1h-1zM67 49h1v1h-1zM70 49h1v1h-1zM8 50h1v1h-1zM14 50h1v1h-1zM16 50h2v1h-2zM38 50h1v1h-1zM42 50h1v1h-1zM48 50h1v1h-1zM52 50h1v1h-1zM57 50h1v1h-1zM62 50h1v1h-1zM76 50h1v1h-1zM82 50h1v1h-1zM9 51h1v1h-1zM16 51h1v1h-1zM19 51h2v1h-2zM23 51h1v1h-1zM25 51h5v1h-5zM33 51h1v1h-1zM35 51h1v1h-1zM43 51h1v1h-1zM67 51h1v1h-1zM71 51h1v1h-1zM76 51h1v1h-1zM12 52h1v1h-1zM16 52h1v1h-1zM19 52h2v1h-2zM32 52h1v1h-1zM34 52h2v1h-2zM39 52h1v1h-1zM43 52h1v1h-1zM56 52h1v1h-1zM58 52h1v1h-1zM72 52h1v1h-1zM80 52h1v1h-1zM3 53h1v1h-1zM6 53h1v1h-1zM10 53h1v1h-1zM15 53h1v1h-1zM17 53h2v1h-2zM22 53h2v1h-2zM40 53h1v1h-1zM49 53h1v1h-1zM58 53h2v1h-2zM61 53h1v1h-1zM67 53h2v1h-2zM70 53h1v1h-1zM74 53h1v1h-1zM78 53h1v1h-1zM5 54h1v1h-1zM11 54h1v1h-1zM15 54h1v1h-1zM38 54h1v1h-1zM43 54h1v1h-1zM45 54h1v1h-1zM47 54h1v1h-1zM49 54h1v1h-1zM61 54h1v1h-1zM67 54h1v1h-1zM3 55h1v1h-1zM6 55h1v1h-1zM9 55h1v1h-1zM13 55h2v1h-2zM37 55h1v1h-1zM42 55h1v1h-1zM49 55h1v1h-1zM54 55h1v1h-1zM57 55h1v1h-1zM76 55h1v1h-1zM81 55h1v1h-1zM87 55h1v1h-1zM8 56h1v1h-1zM10 56h3v1h-3zM15 56h1v1h-1zM23 56h1v1h-1zM32 56h1v1h-1zM38 56h1v1h-1zM42 56h2v1h-2zM45 56h2v1h-2zM49 56h1v1h-1zM51 56h1v1h-1zM54 56h1v1h-1zM59 56h1v1h-1zM63 56h1v1h-1zM69 56h1v1h-1zM75 56h1v1h-1zM78 56h1v1h-1zM82 56h1v1h-1zM87 56h1v1h-1zM90 56h1v1h-1zM6 57h2v1h-2zM23 57h1v1h-1zM28 57h2v1h-2zM62 57h1v1h-1zM69 57h1v1h-1zM75 57h1v1h-1zM79 57h1v1h-1zM24 58h1v1h-1zM29 58h1v1h-1zM32 58h1v1h-1zM43 58h1v1h-1zM66 58h1v1h-1zM71 58h1v1h-1zM74 58h1v1h-1zM76 58h1v1h-1zM79 58h1v1h-1zM84 58h1v1h-1zM87 58h2v1h-2zM6 59h1v1h-1zM10 59h1v1h-1zM12 59h1v1h-1zM28 59h1v1h-1zM47 59h1v1h-1zM53 59h3v1h-3zM63 59h1v1h-1zM71 59h1v1h-1zM78 59h1v1h-1zM82 59h2v1h-2zM87 59h1v1h-1zM2 60h1v1h-1zM15 60h1v1h-1zM26 60h1v1h-1zM49 60h3v1h-3zM54 60h1v1h-1zM61 60h1v1h-1zM71 60h2v1h-2zM76 60h1v1h-1zM80 60h2v1h-2zM85 60h1v1h-1zM88 60h2v1h-2zM2 61h1v1h-1zM23 61h1v1h-1zM28 61h1v1h-1zM31 61h1v1h-1zM48 61h1v1h-1zM57 61h1v1h-1zM64 61h1v1h-1zM67 61h1v1h-1zM69 61h1v1h-1zM74 61h3v1h-3zM79 61h1v1h-1zM82 61h1v1h-1zM89 61h1v1h-1zM91 61h1v1h-1zM93 61h1v1h-1zM96 61h1v1h-1zM2 62h1v1h-1zM14 62h1v1h-1zM37 62h1v1h-1zM39 62h1v1h-1zM49 62h2v1h-2zM59 62h1v1h-1zM65 62h1v1h-1zM76 62h1v1h-1zM79 62h1v1h-1zM89 62h2v1h-2zM93 62h1v1h-1zM9 63h1v1h-1zM17 63h1v1h-1zM20 63h1v1h-1zM28 63h1v1h-1zM30 63h1v1h-1zM43 63h2v1h-2zM46 63h1v1h-1zM51 63h1v1h-1zM58 63h1v1h-1zM60 63h2v1h-2zM81 63h1v1h-1zM88 63h2v1h-2zM96 63h1v1h-1zM0 64h1v1h-1zM31 64h1v1h-1zM33 64h1v1h-1zM44 64h1v1h-1zM49 64h1v1h-1zM53 64h1v1h-1zM57 64h1v1h-1zM59 64h1v1h-1zM66 64h1v1h-1zM71 64h1v1h-1zM77 64h1v1h-1zM84 64h1v1h-1zM88 64h1v1h-1zM100 64h1v1h-1zM26 65h1v1h-1zM36 65h1v1h-1zM39 65h1v1h-1zM64 65h1v1h-1zM69 65h2v1h-2zM72 65h1v1h-1zM86 65h1v1h-1zM96 65h1v1h-1zM6 66h1v1h-1zM9 66h1v1h-1zM30 66h1v1h-1zM32 66h1v1h-1zM58 66h3v1h-3zM78 66h1v1h-1zM82 66h1v1h-1zM96 66h1v1h-1zM101 66h1v1h-1zM103 66h2v1h-2zM106 66h1v1h-1zM0 67h1v1h-1zM2 67h2v1h-2zM12 67h1v1h-1zM55 67h2v1h-2zM58 67h1v1h-1zM61 67h1v1h-1zM64 67h2v1h-2zM67 67h1v1h-1zM74 67h1v1h-1zM78 67h1v1h-1zM96 67h1v1h-1zM103 67h1v1h-1zM4 68h1v1h-1zM18 68h1v1h-1zM44 68h1v1h-1zM61 68h3v1h-3zM78 68h1v1h-1zM80 68h2v1h-2zM92 68h1v1h-1zM98 68h1v1h-1zM70 69h1v1h-1zM72 69h1v1h-1zM81 69h1v1h-1zM84 69h1v1h-1zM92 69h1v1h-1zM94 69h2v1h-2zM103 69h1v1h-1zM13 70h1v1h-1zM36 70h1v1h-1zM77 70h1v1h-1zM80 70h1v1h-1zM83 70h1v1h-1zM90 70h1v1h-1zM92 70h1v1h-1zM94 70h2v1h-2zM99 70h1v1h-1zM107 70h1v1h-1zM30 71h1v1h-1zM32 71h1v1h-1zM56 71h1v1h-1zM74 71h2v1h-2zM86 71h1v1h-1zM89 71h1v1h-1zM92 71h2v1h-2zM100 71h3v1h-3zM25 72h1v1h-1zM41 72h1v1h-1zM66 72h1v1h-1zM74 72h1v1h-1zM81 72h1v1h-1zM83 72h1v1h-1zM100 72h1v1h-1zM102 72h1v1h-1zM104 72h1v1h-1zM108 72h1v1h-1zM2 73h2v1h-2zM6 73h2v1h-2zM16 73h1v1h-1zM20 73h1v1h-1zM22 73h1v1h-1zM75 73h1v1h-1zM80 73h1v1h-1zM84 73h1v1h-1zM105 73h1v1h-1zM109 73h1v1h-1zM16 74h1v1h-1zM62 74h1v1h-1zM76 74h1v1h-1zM82 74h1v1h-1zM94 74h2v1h-2zM104 74h1v1h-1zM106 74h1v1h-1zM36 75h1v1h-1zM65 75h1v1h-1zM85 75h1v1h-1zM90 75h1v1h-1zM92 75h1v1h-1zM94 75h1v1h-1zM37 76h1v1h-1zM42 76h1v1h-1zM49 76h1v1h-1zM75 76h1v1h-1zM83 76h1v1h-1zM97 76h1v1h-1zM102 76h2v1h-2zM11 77h1v1h-1zM33 77h1v1h-1zM80 77h1v1h-1zM85 77h1v1h-1zM96 77h1v1h-1zM18 78h1v1h-1zM29 78h1v1h-1zM40 78h1v1h-1zM74 78h1v1h-1zM98 78h1v1h-1zM100 78h1v1h-1zM103 78h1v1h-1zM105 78h1v1h-1zM48 79h1v1h-1zM50 79h1v1h-1zM93 79h1v1h-1zM103 79h1v1h-1zM106 79h1v1h-1zM1 80h2v1h-2zM9 80h1v1h-1zM64 80h1v1h-1zM83 80h1v1h-1zM85 80h2v1h-2zM96 80h1v1h-1zM107 80h1v1h-1zM1 81h1v1h-1zM11 81h1v1h-1zM80 81h1v1h-1zM84 81h1v1h-1zM101 81h1v1h-1zM4 82h1v1h-1zM47 82h1v1h-1zM67 82h1v1h-1zM92 82h1v1h-1zM101 82h1v1h-1zM76 83h1v1h-1zM79 83h1v1h-1zM91 83h3v1h-3zM102 83h1v1h-1zM24 84h1v1h-1zM88 84h1v1h-1zM91 84h1v1h-1zM96 84h1v1h-1zM100 84h1v1h-1zM4 85h1v1h-1zM15 85h1v1h-1zM11 86h1v1h-1zM41 86h1v1h-1zM87 86h1v1h-1zM99 86h1v1h-1zM28 87h1v1h-1zM52 87h1v1h-1zM86 87h1v1h-1zM93 87h1v1h-1zM26 88h1v1h-1zM55 88h1v1h-1zM89 88h1v1h-1zM96 88h1v1h-1zM34 90h1v1h-1zM85 90h1v1h-1zM94 90h1v1h-1zM96 90h1v1h-1zM71 91h1v1h-1zM77 91h1v1h-1zM95 91h1v1h-1zM12 92h1v1h-1zM16 92h1v1h-1zM20 92h1v1h-1zM71 92h1v1h-1zM20 93h1v1h-1zM92 93h1v1h-1zM20 94h1v1h-1zM29 94h1v1h-1zM59 94h1v1h-1zM21 95h1v1h-1zM27 95h1v1h-1zM51 95h1v1h-1zM91 95h1v1h-1zM25 96h1v1h-1zM27 96h1v1h-1zM45 96h1v1h-1zM65 96h1v1h-1zM25 97h1v1h-1zM31 97h1v1h-1zM35 97h1v1h-1zM87 97h1v1h-1zM78 99h1v1h-1zM85 99h1v1h-1zM87 99h1v1h-1zM23 100h1v1h-1zM27 100h1v1h-1zM32 101h1v1h-1zM48 101h1v1h-1zM85 101h1v1h-1zM36 102h1v1h-1zM43 102h1v1h-1zM57 102h1v1h-1zM70 102h1v1h-1zM80 102h1v1h-1zM83 102h1v1h-1zM22 103h1v1h-1zM36 103h1v1h-1zM39 103h1v1h-1zM62 103h1v1h-1zM60 104h1v1h-1zM52 105h1v1h-1zM55 105h1v1h-1zM75 106h1v1h-1zM43 108h1v1h-1zM71 108h1v1h-1zM74 108h1v1h-1zM25 109h2v1h-2zM48 110h1v1h-1zM53 110h1v1h-1zM57 110h1v1h-1zM69 110h1v1h-1zM48 111h2v1h-2zM51 112h1v1h-1zM55 112h1v1h-1zM49 113h1v1h-1zM57 113h1v1h-1zM60 113h2v1h-2zM56 115h1v1h-1z"/>
<path fill="#46075a" d="M4 0h2v1h-2zM4 1h2v1h-2zM7 4h1v1h-1zM5 5h1v1h-1zM9 6h1v1h-1zM6 7h1v1h-1zM9 7h1v1h-1zM11 7h1v1h-1zM6 8h1v1h-1zM10 8h1v1h-1zM8 10h1v1h-1zM10 11h1v1h-1zM8 12h2v1h-2zM13 13h1v1h-1zM16 15h1v1h-1zM10 16h1v1h-1zM43 16h1v1h-1zM10 17h1v1h-1zM15 17h2v1h-2zM39 17h1v1h-1zM46 17h1v1h-1zM11 18h1v1h-1zM20 18h1v1h-1zM43 18h1v1h-1zM13 19h1v1h-1zM37 19h1v1h-1zM12 20h1v1h-1zM16 20h1v1h-1zM21 20h1v1h-1zM39 20h1v1h-1zM43 20h2v1h-2zM46 20h2v1h-2zM15 21h1v1h-1zM20 21h2v1h-2zM52 21h1v1h-1zM18 22h1v1h-1zM20 22h2v1h-2zM37 22h1v1h-1zM46 22h1v1h-1zM15 23h1v1h-1zM38 23h1v1h-1zM40 23h2v1h-2zM43 23h1v1h-1zM36 24h1v1h-1zM41 24h1v1h-1zM44 24h1v1h-1zM49 24h1v1h-1zM2 25h1v1h-1zM4 25h2v1h-2zM9 25h1v1h-1zM12 25h2v1h-2zM24 25h1v1h-1zM36 25h1v1h-1zM45 25h2v1h-2zM56 25h1v1h-1zM5 26h1v1h-1zM9 26h2v1h-2zM38 26h1v1h-1zM40 26h1v1h-1zM46 26h1v1h-1zM48 26h1v1h-1zM2 27h3v1h-3zM8 27h1v1h-1zM16 27h2v1h-2zM19 27h3v1h-3zM27 27h1v1h-1zM48 27h1v1h-1zM0 28h1v1h-1zM8 28h1v1h-1zM12 28h2v1h-2zM18 28h2v1h-2zM22 28h1v1h-1zM24 28h1v1h-1zM34 28h1v1h-1zM41 28h1v1h-1zM44 28h1v1h-1zM48 28h1v1h-1zM51 28h1v1h-1zM53 28h1v1h-1zM55 28h1v1h-1zM1 29h1v1h-1zM3 29h1v1h-1zM7 29h1v1h-1zM11 29h1v1h-1zM14 29h1v1h-1zM20 29h1v1h-1zM24 29h1v1h-1zM26 29h3v1h-3zM40 29h1v1h-1zM44 29h1v1h-1zM50 29h1v1h-1zM54 29h1v1h-1zM57 29h1v1h-1zM62 29h1v1h-1zM1 30h1v1h-1zM3 30h1v1h-1zM8 30h1v1h-1zM10 30h1v1h-1zM16 30h1v1h-1zM19 30h2v1h-2zM22 30h1v1h-1zM32 30h2v1h-2zM45 30h2v1h-2zM56 30h1v1h-1zM58 30h2v1h-2zM61 30h1v1h-1zM0 31h1v1h-1zM3 31h2v1h-2zM6 31h1v1h-1zM11 31h1v1h-1zM13 31h1v1h-1zM16 31h3v1h-3zM26 31h1v1h-1zM28 31h1v1h-1zM33 31h1v1h-1zM43 31h2v1h-2zM48 31h3v1h-3zM54 31h1v1h-1zM58 31h1v1h-1zM60 31h1v1h-1zM63 31h1v1h-1zM1 32h1v1h-1zM5 32h1v1h-1zM7 32h1v1h-1zM9 32h2v1h-2zM12 32h2v1h-2zM15 32h1v1h-1zM19 32h1v1h-1zM22 32h1v1h-1zM24 32h3v1h-3zM32 32h2v1h-2zM55 32h1v1h-1zM1 33h2v1h-2zM7 33h2v1h-2zM12 33h1v1h-1zM16 33h1v1h-1zM21 33h1v1h-1zM23 33h1v1h-1zM28 33h2v1h-2zM31 33h1v1h-1zM35 33h1v1h-1zM38 33h1v1h-1zM42 33h1v1h-1zM47 33h1v1h-1zM53 33h1v1h-1zM55 33h2v1h-2zM61 33h2v1h-2zM0 34h1v1h-1zM6 34h2v1h-2zM9 34h2v1h-2zM14 34h1v1h-1zM17 34h2v1h-2zM21 34h1v1h-1zM24 34h1v1h-1zM27 34h1v1h-1zM32 34h1v1h-1zM40 34h1v1h-1zM45 34h1v1h-1zM57 34h1v1h-1zM59 34h3v1h-3zM2 35h1v1h-1zM6 35h1v1h-1zM14 35h4v1h-4zM21 35h1v1h-1zM23 35h1v1h-1zM33 35h2v1h-2zM37 35h3v1h-3zM48 35h1v1h-1zM51 35h1v1h-1zM53 35h1v1h-1zM55 35h2v1h-2zM59 35h1v1h-1zM5 36h1v1h-1zM7 36h4v1h-4zM14 36h1v1h-1zM16 36h1v1h-1zM20 36h5v1h-5zM26 36h2v1h-2zM30 36h2v1h-2zM33 36h1v1h-1zM35 36h1v1h-1zM38 36h1v1h-1zM40 36h1v1h-1zM46 36h1v1h-1zM48 36h1v1h-1zM52 36h2v1h-2zM55 36h2v1h-2zM0 37h2v1h-2zM4 37h2v1h-2zM12 37h1v1h-1zM21 37h1v1h-1zM24 37h2v1h-2zM32 37h1v1h-1zM34 37h1v1h-1zM36 37h2v1h-2zM39 37h1v1h-1zM41 37h1v1h-1zM46 37h1v1h-1zM48 37h3v1h-3zM54 37h1v1h-1zM56 37h2v1h-2zM60 37h1v1h-1zM62 37h1v1h-1zM66 37h1v1h-1zM0 38h1v1h-1zM3 38h1v1h-1zM8 38h1v1h-1zM10 38h1v1h-1zM17 38h3v1h-3zM21 38h2v1h-2zM28 38h1v1h-1zM33 38h1v1h-1zM37 38h1v1h-1zM40 38h1v1h-1zM42 38h3v1h-3zM47 38h1v1h-1zM51 38h1v1h-1zM57 38h1v1h-1zM61 38h1v1h-1zM67 38h1v1h-1zM0 39h1v1h-1zM17 39h1v1h-1zM22 39h1v1h-1zM24 39h2v1h-2zM27 39h1v1h-1zM31 39h1v1h-1zM35 39h1v1h-1zM37 39h2v1h-2zM43 39h1v1h-1zM45 39h3v1h-3zM51 39h4v1h-4zM56 39h1v1h-1zM68 39h1v1h-1zM71 39h1v1h-1zM1 40h2v1h-2zM4 40h3v1h-3zM9 40h1v1h-1zM12 40h1v1h-1zM14 40h1v1h-1zM17 40h1v1h-1zM29 40h3v1h-3zM35 40h2v1h-2zM38 40h1v1h-1zM40 40h2v1h-2zM43 40h1v1h-1zM45 40h2v1h-2zM48 40h2v1h-2zM58 40h2v1h-2zM62 40h1v1h-1zM73 40h1v1h-1zM6 41h1v1h-1zM8 41h1v1h-1zM12 41h1v1h-1zM15 41h1v1h-1zM17 41h1v1h-1zM24 41h2v1h-2zM28 41h3v1h-3zM33 41h2v1h-2zM36 41h1v1h-1zM42 41h1v1h-1zM45 41h1v1h-1zM54 41h1v1h-1zM57 41h1v1h-1zM60 41h1v1h-1zM67 41h1v1h-1zM1 42h1v1h-1zM9 42h1v1h-1zM12 42h2v1h-2zM22 42h1v1h-1zM24 42h1v1h-1zM27 42h2v1h-2zM38 42h1v1h-1zM42 42h1v1h-1zM52 42h1v1h-1zM54 42h1v1h-1zM58 42h1v1h-1zM66 42h1v1h-1zM73 42h1v1h-1zM75 42h1v1h-1zM1 43h1v1h-1zM7 43h1v1h-1zM11 43h1v1h-1zM14 43h1v1h-1zM17 43h1v1h-1zM21 43h2v1h-2zM26 43h2v1h-2zM29 43h2v1h-2zM34 43h1v1h-1zM36 43h1v1h-1zM38 43h2v1h-2zM42 43h1v1h-1zM46 43h1v1h-1zM51 43h4v1h-4zM58 43h1v1h-1zM64 43h1v1h-1zM66 43h5v1h-5zM5 44h2v1h-2zM11 44h1v1h-1zM15 44h2v1h-2zM24 44h1v1h-1zM29 44h1v1h-1zM34 44h2v1h-2zM39 44h2v1h-2zM42 44h1v1h-1zM46 44h2v1h-2zM55 44h1v1h-1zM57 44h2v1h-2zM61 44h1v1h-1zM65 44h1v1h-1zM67 44h1v1h-1zM70 44h1v1h-1zM76 44h1v1h-1zM1 45h1v1h-1zM6 45h1v1h-1zM28 45h2v1h-2zM34 45h1v1h-1zM36 45h3v1h-3zM42 45h1v1h-1zM44 45h1v1h-1zM47 45h1v1h-1zM51 45h1v1h-1zM55 45h1v1h-1zM58 45h3v1h-3zM63 45h1v1h-1zM65 45h1v1h-1zM67 45h2v1h-2zM70 45h2v1h-2zM77 45h1v1h-1zM2 46h2v1h-2zM10 46h1v1h-1zM13 46h1v1h-1zM16 46h1v1h-1zM18 46h1v1h-1zM20 46h2v1h-2zM23 46h1v1h-1zM28 46h1v1h-1zM30 46h1v1h-1zM32 46h1v1h-1zM37 46h2v1h-2zM40 46h1v1h-1zM43 46h1v1h-1zM46 46h1v1h-1zM50 46h1v1h-1zM53 46h2v1h-2zM58 46h1v1h-1zM60 46h1v1h-1zM66 46h1v1h-1zM75 46h1v1h-1zM0 47h1v1h-1zM2 47h1v1h-1zM4 47h1v1h-1zM8 47h1v1h-1zM18 47h2v1h-2zM26 47h1v1h-1zM30 47h1v1h-1zM33 47h1v1h-1zM38 47h1v1h-1zM47 47h1v1h-1zM51 47h1v1h-1zM54 47h1v1h-1zM57 47h2v1h-2zM60 47h4v1h-4zM67 47h1v1h-1zM74 47h1v1h-1zM8 48h3v1h-3zM12 48h1v1h-1zM17 48h1v1h-1zM20 48h1v1h-1zM23 48h1v1h-1zM34 48h1v1h-1zM37 48h1v1h-1zM46 48h2v1h-2zM53 48h1v1h-1zM56 48h2v1h-2zM60 48h3v1h-3zM64 48h2v1h-2zM67 48h3v1h-3zM71 48h1v1h-1zM79 48h1v1h-1zM0 49h1v1h-1zM2 49h1v1h-1zM5 49h3v1h-3zM12 49h1v1h-1zM16 49h4v1h-4zM22 49h3v1h-3zM26 49h3v1h-3zM30 49h1v1h-1zM37 49h1v1h-1zM43 49h1v1h-1zM45 49h2v1h-2zM57 49h1v1h-1zM59 49h1v1h-1zM62 49h1v1h-1zM72 49h4v1h-4zM80 49h2v1h-2zM4 50h2v1h-2zM9 50h1v1h-1zM12 50h1v1h-1zM15 50h1v1h-1zM19 50h1v1h-1zM22 50h1v1h-1zM28 50h2v1h-2zM31 50h1v1h-1zM33 50h3v1h-3zM37 50h1v1h-1zM43 50h2v1h-2zM46 50h1v1h-1zM49 50h1v1h-1zM51 50h1v1h-1zM63 50h1v1h-1zM75 50h1v1h-1zM77 50h1v1h-1zM0 51h1v1h-1zM2 51h1v1h-1zM6 51h1v1h-1zM8 51h1v1h-1zM10 51h2v1h-2zM18 51h1v1h-1zM24 51h1v1h-1zM34 51h1v1h-1zM36 51h1v1h-1zM42 51h1v1h-1zM50 51h1v1h-1zM55 51h1v1h-1zM58 51h1v1h-1zM60 51h2v1h-2zM63 51h1v1h-1zM68 51h1v1h-1zM73 51h1v1h-1zM78 51h1v1h-1zM1 52h1v1h-1zM5 52h1v1h-1zM7 52h1v1h-1zM13 52h1v1h-1zM17 52h2v1h-2zM21 52h2v1h-2zM31 52h1v1h-1zM38 52h1v1h-1zM40 52h3v1h-3zM44 52h2v1h-2zM52 52h1v1h-1zM57 52h1v1h-1zM69 52h1v1h-1zM73 52h1v1h-1zM75 52h1v1h-1zM77 52h3v1h-3zM83 52h1v1h-1zM1 53h2v1h-2zM4 53h1v1h-1zM12 53h1v1h-1zM16 53h1v1h-1zM20 53h1v1h-1zM24 53h1v1h-1zM27 53h2v1h-2zM30 53h2v1h-2zM34 53h2v1h-2zM38 53h2v1h-2zM42 53h1v1h-1zM46 53h2v1h-2zM50 53h1v1h-1zM52 53h1v1h-1zM54 53h1v1h-1zM56 53h2v1h-2zM60 53h1v1h-1zM64 53h1v1h-1zM79 53h2v1h-2zM83 53h2v1h-2zM1 54h1v1h-1zM6 54h1v1h-1zM9 54h2v1h-2zM12 54h3v1h-3zM16 54h1v1h-1zM18 54h1v1h-1zM25 54h2v1h-2zM28 54h4v1h-4zM36 54h1v1h-1zM42 54h1v1h-1zM44 54h1v1h-1zM57 54h1v1h-1zM59 54h1v1h-1zM63 54h2v1h-2zM68 54h1v1h-1zM77 54h2v1h-2zM86 54h1v1h-1zM0 55h1v1h-1zM4 55h1v1h-1zM12 55h1v1h-1zM16 55h1v1h-1zM19 55h4v1h-4zM29 55h3v1h-3zM33 55h2v1h-2zM38 55h2v1h-2zM43 55h2v1h-2zM47 55h2v1h-2zM53 55h1v1h-1zM59 55h1v1h-1zM66 55h2v1h-2zM74 55h1v1h-1zM78 55h2v1h-2zM83 55h1v1h-1zM85 55h1v1h-1zM0 56h1v1h-1zM2 56h1v1h-1zM7 56h1v1h-1zM16 56h2v1h-2zM20 56h3v1h-3zM25 56h3v1h-3zM31 56h1v1h-1zM40 56h1v1h-1zM44 56h1v1h-1zM47 56h2v1h-2zM55 56h1v1h-1zM58 56h1v1h-1zM62 56h1v1h-1zM64 56h2v1h-2zM67 56h2v1h-2zM70 56h1v1h-1zM76 56h1v1h-1zM79 56h1v1h-1zM86 56h1v1h-1zM4 57h1v1h-1zM8 57h2v1h-2zM11 57h1v1h-1zM14 57h1v1h-1zM16 57h1v1h-1zM20 57h2v1h-2zM25 57h1v1h-1zM30 57h2v1h-2zM34 57h1v1h-1zM38 57h1v1h-1zM40 57h1v1h-1zM43 57h1v1h-1zM48 57h1v1h-1zM51 57h1v1h-1zM54 57h2v1h-2zM57 57h1v1h-1zM61 57h1v1h-1zM64 57h1v1h-1zM66 57h3v1h-3zM70 57h1v1h-1zM72 57h3v1h-3zM76 57h1v1h-1zM81 57h1v1h-1zM83 57h1v1h-1zM86 57h2v1h-2zM89 57h1v1h-1zM91 57h1v1h-1zM2 58h2v1h-2zM5 58h1v1h-1zM10 58h1v1h-1zM13 58h1v1h-1zM15 58h1v1h-1zM18 58h1v1h-1zM20 58h1v1h-1zM22 58h1v1h-1zM26 58h1v1h-1zM28 58h1v1h-1zM31 58h1v1h-1zM34 58h1v1h-1zM39 58h2v1h-2zM42 58h1v1h-1zM46 58h1v1h-1zM49 58h1v1h-1zM51 58h1v1h-1zM53 58h1v1h-1zM57 58h1v1h-1zM59 58h1v1h-1zM61 58h3v1h-3zM67 58h3v1h-3zM73 58h1v1h-1zM75 58h1v1h-1zM77 58h1v1h-1zM82 58h1v1h-1zM86 58h1v1h-1zM90 58h1v1h-1zM92 58h1v1h-1zM96 58h1v1h-1zM0 59h2v1h-2zM4 59h1v1h-1zM7 59h1v1h-1zM14 59h3v1h-3zM19 59h1v1h-1zM22 59h1v1h-1zM25 59h1v1h-1zM27 59h1v1h-1zM29 59h1v1h-1zM32 59h1v1h-1zM35 59h2v1h-2zM43 59h1v1h-1zM46 59h1v1h-1zM51 59h2v1h-2zM56 59h1v1h-1zM59 59h2v1h-2zM66 59h1v1h-1zM68 59h1v1h-1zM70 59h1v1h-1zM75 59h2v1h-2zM80 59h1v1h-1zM92 59h2v1h-2zM4 60h3v1h-3zM10 60h1v1h-1zM22 60h1v1h-1zM30 60h1v1h-1zM32 60h1v1h-1zM34 60h2v1h-2zM44 60h4v1h-4zM55 60h1v1h-1zM57 60h1v1h-1zM62 60h1v1h-1zM64 60h1v1h-1zM67 60h2v1h-2zM75 60h1v1h-1zM86 60h1v1h-1zM90 60h1v1h-1zM0 61h1v1h-1zM5 61h3v1h-3zM12 61h1v1h-1zM22 61h1v1h-1zM26 61h1v1h-1zM30 61h1v1h-1zM37 61h2v1h-2zM42 61h1v1h-1zM45 61h2v1h-2zM50 61h1v1h-1zM53 61h1v1h-1zM59 61h1v1h-1zM63 61h1v1h-1zM73 61h1v1h-1zM88 61h1v1h-1zM90 61h1v1h-1zM92 61h1v1h-1zM95 61h1v1h-1zM98 61h1v1h-1zM4 62h1v1h-1zM7 62h1v1h-1zM9 62h2v1h-2zM16 62h1v1h-1zM23 62h1v1h-1zM26 62h2v1h-2zM42 62h1v1h-1zM47 62h1v1h-1zM53 62h1v1h-1zM60 62h2v1h-2zM69 62h1v1h-1zM72 62h1v1h-1zM75 62h1v1h-1zM77 62h1v1h-1zM80 62h3v1h-3zM84 62h2v1h-2zM94 62h5v1h-5zM100 62h1v1h-1zM1 63h1v1h-1zM3 63h1v1h-1zM22 63h1v1h-1zM31 63h3v1h-3zM36 63h2v1h-2zM40 63h3v1h-3zM50 63h1v1h-1zM53 63h1v1h-1zM55 63h3v1h-3zM62 63h1v1h-1zM66 63h1v1h-1zM74 63h1v1h-1zM79 63h1v1h-1zM85 63h2v1h-2zM90 63h2v1h-2zM94 63h1v1h-1zM97 63h1v1h-1zM1 64h1v1h-1zM3 64h4v1h-4zM22 64h1v1h-1zM45 64h1v1h-1zM47 64h1v1h-1zM50 64h1v1h-1zM52 64h1v1h-1zM55 64h2v1h-2zM60 64h2v1h-2zM63 64h1v1h-1zM67 64h1v1h-1zM74 64h1v1h-1zM76 64h1v1h-1zM78 64h2v1h-2zM81 64h2v1h-2zM86 64h2v1h-2zM90 64h1v1h-1zM92 64h1v1h-1zM95 64h1v1h-1zM1 65h2v1h-2zM4 65h1v1h-1zM9 65h1v1h-1zM14 65h1v1h-1zM23 65h1v1h-1zM29 65h1v1h-1zM48 65h2v1h-2zM53 65h2v1h-2zM58 65h1v1h-1zM65 65h3v1h-3zM74 65h1v1h-1zM78 65h1v1h-1zM80 65h1v1h-1zM82 65h2v1h-2zM85 65h1v1h-1zM88 65h1v1h-1zM91 65h1v1h-1zM100 65h1v1h-1zM103 65h2v1h-2zM1 66h4v1h-4zM23 66h1v1h-1zM45 66h1v1h-1zM52 66h1v1h-1zM55 66h1v1h-1zM66 66h2v1h-2zM69 66h2v1h-2zM73 66h1v1h-1zM80 66h1v1h-1zM83 66h1v1h-1zM85 66h2v1h-2zM88 66h1v1h-1zM1 67h1v1h-1zM13 67h1v1h-1zM16 67h1v1h-1zM27 67h1v1h-1zM29 67h2v1h-2zM35 67h1v1h-1zM46 67h2v1h-2zM50 67h1v1h-1zM53 67h1v1h-1zM59 67h2v1h-2zM66 67h1v1h-1zM77 67h1v1h-1zM79 67h1v1h-1zM81 67h1v1h-1zM86 67h1v1h-1zM88 67h1v1h-1zM99 67h2v1h-2zM102 67h1v1h-1zM105 67h2v1h-2zM1 68h2v1h-2zM23 68h1v1h-1zM31 68h2v1h-2zM35 68h2v1h-2zM38 68h1v1h-1zM47 68h1v1h-1zM67 68h3v1h-3zM72 68h1v1h-1zM82 68h2v1h-2zM88 68h1v1h-1zM91 68h1v1h-1zM96 68h2v1h-2zM103 68h1v1h-1zM105 68h1v1h-1zM0 69h1v1h-1zM3 69h1v1h-1zM16 69h1v1h-1zM18 69h2v1h-2zM22 69h2v1h-2zM53 69h1v1h-1zM57 69h2v1h-2zM60 69h1v1h-1zM64 69h3v1h-3zM74 69h1v1h-1zM76 69h1v1h-1zM79 69h2v1h-2zM82 69h1v1h-1zM85 69h1v1h-1zM87 69h1v1h-1zM93 69h1v1h-1zM97 69h1v1h-1zM102 69h1v1h-1zM104 69h1v1h-1zM0 70h1v1h-1zM4 70h1v1h-1zM14 70h1v1h-1zM18 70h1v1h-1zM20 70h1v1h-1zM35 70h1v1h-1zM56 70h1v1h-1zM63 70h1v1h-1zM65 70h2v1h-2zM71 70h2v1h-2zM78 70h1v1h-1zM82 70h1v1h-1zM85 70h2v1h-2zM91 70h1v1h-1zM98 70h1v1h-1zM100 70h1v1h-1zM103 70h1v1h-1zM3 71h1v1h-1zM17 71h1v1h-1zM42 71h1v1h-1zM44 71h1v1h-1zM46 71h1v1h-1zM54 71h1v1h-1zM68 71h1v1h-1zM73 71h1v1h-1zM76 71h2v1h-2zM79 71h1v1h-1zM82 71h1v1h-1zM87 71h1v1h-1zM90 71h1v1h-1zM94 71h1v1h-1zM98 71h1v1h-1zM103 71h1v1h-1zM105 71h3v1h-3zM5 72h1v1h-1zM19 72h1v1h-1zM21 72h1v1h-1zM67 72h2v1h-2zM73 72h1v1h-1zM75 72h3v1h-3zM86 72h3v1h-3zM92 72h1v1h-1zM98 72h1v1h-1zM106 72h1v1h-1zM10 73h1v1h-1zM34 73h1v1h-1zM51 73h1v1h-1zM57 73h1v1h-1zM74 73h1v1h-1zM76 73h1v1h-1zM81 73h1v1h-1zM83 73h1v1h-1zM86 73h1v1h-1zM91 73h2v1h-2zM94 73h4v1h-4zM99 73h3v1h-3zM103 73h1v1h-1zM106 73h2v1h-2zM1 74h3v1h-3zM26 74h1v1h-1zM31 74h1v1h-1zM37 74h2v1h-2zM78 74h2v1h-2zM81 74h1v1h-1zM83 74h3v1h-3zM88 74h2v1h-2zM96 74h5v1h-5zM103 74h1v1h-1zM105 74h1v1h-1zM108 74h2v1h-2zM1 75h1v1h-1zM11 75h1v1h-1zM16 75h1v1h-1zM21 75h1v1h-1zM24 75h1v1h-1zM30 75h1v1h-1zM74 75h1v1h-1zM76 75h1v1h-1zM78 75h2v1h-2zM86 75h2v1h-2zM89 75h1v1h-1zM93 75h1v1h-1zM104 75h2v1h-2zM107 75h1v1h-1zM4 76h1v1h-1zM34 76h1v1h-1zM40 76h1v1h-1zM82 76h1v1h-1zM84 76h1v1h-1zM89 76h1v1h-1zM92 76h1v1h-1zM94 76h1v1h-1zM98 76h1v1h-1zM100 76h2v1h-2zM104 76h1v1h-1zM106 76h2v1h-2zM109 76h3v1h-3zM6 77h1v1h-1zM25 77h1v1h-1zM83 77h1v1h-1zM86 77h1v1h-1zM91 77h1v1h-1zM93 77h1v1h-1zM100 77h4v1h-4zM2 78h1v1h-1zM6 78h1v1h-1zM12 78h1v1h-1zM28 78h1v1h-1zM30 78h2v1h-2zM38 78h1v1h-1zM78 78h1v1h-1zM83 78h1v1h-1zM85 78h3v1h-3zM89 78h3v1h-3zM93 78h2v1h-2zM102 78h1v1h-1zM7 79h1v1h-1zM11 79h1v1h-1zM17 79h1v1h-1zM19 79h1v1h-1zM21 79h1v1h-1zM29 79h1v1h-1zM41 79h1v1h-1zM70 79h1v1h-1zM78 79h4v1h-4zM86 79h1v1h-1zM92 79h1v1h-1zM96 79h1v1h-1zM98 79h1v1h-1zM100 79h1v1h-1zM104 79h1v1h-1zM108 79h1v1h-1zM8 80h1v1h-1zM25 80h1v1h-1zM27 80h1v1h-1zM42 80h1v1h-1zM54 80h1v1h-1zM76 80h1v1h-1zM87 80h2v1h-2zM93 80h1v1h-1zM95 80h1v1h-1zM98 80h3v1h-3zM103 80h3v1h-3zM13 81h1v1h-1zM30 81h1v1h-1zM87 81h2v1h-2zM91 81h1v1h-1zM93 81h1v1h-1zM95 81h1v1h-1zM103 81h1v1h-1zM106 81h1v1h-1zM3 82h1v1h-1zM5 82h2v1h-2zM10 82h1v1h-1zM12 82h1v1h-1zM14 82h1v1h-1zM50 82h1v1h-1zM76 82h1v1h-1zM82 82h2v1h-2zM85 82h1v1h-1zM91 82h1v1h-1zM93 82h2v1h-2zM96 82h1v1h-1zM102 82h2v1h-2zM105 82h1v1h-1zM2 83h1v1h-1zM6 83h3v1h-3zM11 83h1v1h-1zM15 83h1v1h-1zM22 83h1v1h-1zM88 83h2v1h-2zM96 83h1v1h-1zM104 83h1v1h-1zM12 84h1v1h-1zM32 84h1v1h-1zM53 84h1v1h-1zM62 84h1v1h-1zM82 84h1v1h-1zM84 84h1v1h-1zM86 84h1v1h-1zM95 84h1v1h-1zM97 84h2v1h-2zM101 84h2v1h-2zM16 85h1v1h-1zM29 85h1v1h-1zM47 85h1v1h-1zM59 85h1v1h-1zM89 85h1v1h-1zM93 85h1v1h-1zM95 85h2v1h-2zM98 85h1v1h-1zM6 86h1v1h-1zM50 86h1v1h-1zM77 86h1v1h-1zM85 86h1v1h-1zM89 86h1v1h-1zM91 86h2v1h-2zM101 86h1v1h-1zM11 87h1v1h-1zM15 87h1v1h-1zM56 87h1v1h-1zM63 87h1v1h-1zM66 87h1v1h-1zM91 87h1v1h-1zM94 87h1v1h-1zM96 87h1v1h-1zM98 87h2v1h-2zM8 88h1v1h-1zM17 88h1v1h-1zM70 88h1v1h-1zM90 88h3v1h-3zM94 88h1v1h-1zM47 89h1v1h-1zM77 89h1v1h-1zM96 89h2v1h-2zM14 90h1v1h-1zM18 90h1v1h-1zM27 90h1v1h-1zM38 90h1v1h-1zM59 90h1v1h-1zM88 90h1v1h-1zM90 90h1v1h-1zM92 90h1v1h-1zM95 90h1v1h-1zM10 91h1v1h-1zM12 91h1v1h-1zM14 91h1v1h-1zM16 91h2v1h-2zM31 91h1v1h-1zM55 91h1v1h-1zM91 91h2v1h-2zM94 91h1v1h-1zM13 92h1v1h-1zM31 92h1v1h-1zM65 92h1v1h-1zM70 92h1v1h-1zM89 92h1v1h-1zM22 93h1v1h-1zM27 93h1v1h-1zM70 93h1v1h-1zM16 94h1v1h-1zM19 94h1v1h-1zM21 94h2v1h-2zM24 94h1v1h-1zM26 94h1v1h-1zM48 94h1v1h-1zM78 94h1v1h-1zM22 95h1v1h-1zM29 95h1v1h-1zM46 95h2v1h-2zM54 95h1v1h-1zM82 95h1v1h-1zM17 96h2v1h-2zM34 96h1v1h-1zM47 96h1v1h-1zM66 96h1v1h-1zM81 96h1v1h-1zM88 96h2v1h-2zM19 97h1v1h-1zM27 97h1v1h-1zM56 97h1v1h-1zM62 97h1v1h-1zM84 97h1v1h-1zM19 98h1v1h-1zM44 98h2v1h-2zM76 98h1v1h-1zM85 98h1v1h-1zM26 99h1v1h-1zM55 99h1v1h-1zM30 100h1v1h-1zM35 100h1v1h-1zM21 101h2v1h-2zM29 101h1v1h-1zM31 101h1v1h-1zM74 101h1v1h-1zM83 101h1v1h-1zM23 102h2v1h-2zM34 102h1v1h-1zM48 102h1v1h-1zM42 103h1v1h-1zM46 103h1v1h-1zM52 103h1v1h-1zM77 103h1v1h-1zM79 103h1v1h-1zM81 103h1v1h-1zM80 104h1v1h-1zM42 105h1v1h-1zM66 105h1v1h-1zM56 106h1v1h-1zM25 107h1v1h-1zM40 107h1v1h-1zM44 107h1v1h-1zM46 107h1v1h-1zM58 107h1v1h-1zM25 108h2v1h-2zM49 108h1v1h-1zM55 108h1v1h-1zM27 109h1v1h-1zM64 109h1v1h-1zM70 109h1v1h-1zM46 110h1v1h-1zM65 110h1v1h-1zM47 111h1v1h-1zM65 111h1v1h-1zM48 112h1v1h-1zM50 112h1v1h-1zM52 112h1v1h-1zM59 113h1v1h-1zM50 114h1v1h-1zM80 115h1v1h-1zM55 116h1v1h-1z"/>
<path fill="#470d60" d="M8 3h2v1h-2zM8 4h1v1h-1zM7 5h1v1h-1zM5 6h1v1h-1zM7 6h1v1h-1zM8 8h2v1h-2zM7 9h1v1h-1zM10 10h1v1h-1zM13 10h1v1h-1zM10 12h1v1h-1zM12 13h1v1h-1zM15 13h1v1h-1zM9 14h1v1h-1zM17 14h1v1h-1zM13 15h1v1h-1zM9 16h1v1h-1zM13 16h1v1h-1zM15 16h1v1h-1zM42 16h1v1h-1zM44 16h3v1h-3zM13 17h1v1h-1zM19 17h1v1h-1zM44 17h1v1h-1zM19 18h1v1h-1zM16 19h1v1h-1zM19 19h1v1h-1zM38 19h1v1h-1zM41 19h1v1h-1zM43 19h2v1h-2zM48 19h1v1h-1zM50 19h1v1h-1zM15 20h1v1h-1zM17 20h2v1h-2zM45 20h1v1h-1zM12 21h1v1h-1zM37 21h1v1h-1zM39 21h1v1h-1zM14 22h1v1h-1zM49 22h2v1h-2zM53 22h1v1h-1zM17 23h1v1h-1zM21 23h1v1h-1zM47 23h1v1h-1zM51 23h1v1h-1zM53 23h2v1h-2zM2 24h1v1h-1zM5 24h2v1h-2zM22 24h2v1h-2zM35 24h1v1h-1zM38 24h1v1h-1zM45 24h1v1h-1zM52 24h2v1h-2zM6 25h3v1h-3zM11 25h1v1h-1zM20 25h1v1h-1zM37 25h2v1h-2zM44 25h1v1h-1zM49 25h1v1h-1zM0 26h2v1h-2zM3 26h1v1h-1zM6 26h1v1h-1zM8 26h1v1h-1zM11 26h2v1h-2zM15 26h3v1h-3zM39 26h1v1h-1zM41 26h2v1h-2zM45 26h1v1h-1zM50 26h2v1h-2zM58 26h1v1h-1zM1 27h1v1h-1zM5 27h1v1h-1zM11 27h1v1h-1zM14 27h2v1h-2zM24 27h2v1h-2zM36 27h2v1h-2zM39 27h1v1h-1zM42 27h1v1h-1zM44 27h3v1h-3zM51 27h2v1h-2zM54 27h2v1h-2zM1 28h1v1h-1zM4 28h1v1h-1zM7 28h1v1h-1zM11 28h1v1h-1zM14 28h1v1h-1zM16 28h2v1h-2zM20 28h1v1h-1zM25 28h2v1h-2zM30 28h1v1h-1zM47 28h1v1h-1zM49 28h1v1h-1zM56 28h1v1h-1zM59 28h1v1h-1zM0 29h1v1h-1zM2 29h1v1h-1zM4 29h1v1h-1zM8 29h1v1h-1zM10 29h1v1h-1zM12 29h2v1h-2zM16 29h1v1h-1zM18 29h2v1h-2zM21 29h1v1h-1zM23 29h1v1h-1zM29 29h2v1h-2zM32 29h1v1h-1zM36 29h1v1h-1zM38 29h1v1h-1zM41 29h2v1h-2zM47 29h1v1h-1zM60 29h1v1h-1zM4 30h2v1h-2zM9 30h1v1h-1zM11 30h1v1h-1zM13 30h1v1h-1zM24 30h5v1h-5zM30 30h1v1h-1zM36 30h1v1h-1zM38 30h2v1h-2zM42 30h2v1h-2zM47 30h1v1h-1zM50 30h3v1h-3zM54 30h2v1h-2zM62 30h1v1h-1zM1 31h1v1h-1zM5 31h1v1h-1zM7 31h3v1h-3zM20 31h2v1h-2zM25 31h1v1h-1zM32 31h1v1h-1zM34 31h3v1h-3zM40 31h1v1h-1zM45 31h1v1h-1zM52 31h1v1h-1zM55 31h1v1h-1zM57 31h1v1h-1zM0 32h1v1h-1zM3 32h1v1h-1zM8 32h1v1h-1zM16 32h1v1h-1zM21 32h1v1h-1zM23 32h1v1h-1zM28 32h2v1h-2zM31 32h1v1h-1zM35 32h2v1h-2zM40 32h1v1h-1zM42 32h2v1h-2zM45 32h1v1h-1zM47 32h1v1h-1zM51 32h2v1h-2zM54 32h1v1h-1zM56 32h1v1h-1zM58 32h1v1h-1zM63 32h1v1h-1zM6 33h1v1h-1zM10 33h1v1h-1zM15 33h1v1h-1zM19 33h1v1h-1zM22 33h1v1h-1zM26 33h1v1h-1zM30 33h1v1h-1zM33 33h1v1h-1zM37 33h1v1h-1zM39 33h1v1h-1zM43 33h3v1h-3zM63 33h1v1h-1zM65 33h1v1h-1zM1 34h4v1h-4zM8 34h1v1h-1zM11 34h2v1h-2zM16 34h1v1h-1zM20 34h1v1h-1zM23 34h1v1h-1zM28 34h2v1h-2zM33 34h3v1h-3zM38 34h1v1h-1zM42 34h1v1h-1zM44 34h1v1h-1zM50 34h4v1h-4zM55 34h1v1h-1zM58 34h1v1h-1zM62 34h1v1h-1zM0 35h2v1h-2zM4 35h2v1h-2zM18 35h2v1h-2zM22 35h1v1h-1zM24 35h4v1h-4zM30 35h1v1h-1zM36 35h1v1h-1zM41 35h3v1h-3zM49 35h1v1h-1zM57 35h1v1h-1zM0 36h4v1h-4zM11 36h1v1h-1zM18 36h1v1h-1zM28 36h1v1h-1zM34 36h1v1h-1zM36 36h2v1h-2zM39 36h1v1h-1zM41 36h1v1h-1zM44 36h1v1h-1zM51 36h1v1h-1zM54 36h1v1h-1zM57 36h1v1h-1zM59 36h1v1h-1zM68 36h1v1h-1zM3 37h1v1h-1zM6 37h1v1h-1zM10 37h2v1h-2zM14 37h1v1h-1zM17 37h4v1h-4zM29 37h3v1h-3zM33 37h1v1h-1zM38 37h1v1h-1zM44 37h2v1h-2zM51 37h2v1h-2zM58 37h1v1h-1zM65 37h1v1h-1zM68 37h2v1h-2zM7 38h1v1h-1zM11 38h5v1h-5zM20 38h1v1h-1zM23 38h1v1h-1zM25 38h1v1h-1zM29 38h1v1h-1zM31 38h1v1h-1zM34 38h1v1h-1zM38 38h2v1h-2zM58 38h1v1h-1zM60 38h1v1h-1zM62 38h3v1h-3zM1 39h1v1h-1zM4 39h1v1h-1zM6 39h4v1h-4zM11 39h1v1h-1zM13 39h2v1h-2zM18 39h2v1h-2zM21 39h1v1h-1zM23 39h1v1h-1zM30 39h1v1h-1zM32 39h1v1h-1zM34 39h1v1h-1zM36 39h1v1h-1zM39 39h1v1h-1zM41 39h2v1h-2zM44 39h1v1h-1zM48 39h3v1h-3zM55 39h1v1h-1zM57 39h1v1h-1zM59 39h1v1h-1zM63 39h1v1h-1zM8 40h1v1h-1zM18 40h2v1h-2zM21 40h6v1h-6zM28 40h1v1h-1zM34 40h1v1h-1zM47 40h1v1h-1zM50 40h2v1h-2zM53 40h2v1h-2zM57 40h1v1h-1zM63 40h1v1h-1zM66 40h1v1h-1zM69 40h1v1h-1zM0 41h1v1h-1zM7 41h1v1h-1zM10 41h2v1h-2zM13 41h2v1h-2zM16 41h1v1h-1zM21 41h2v1h-2zM40 41h1v1h-1zM46 41h1v1h-1zM49 41h2v1h-2zM52 41h1v1h-1zM58 41h1v1h-1zM63 41h2v1h-2zM66 41h1v1h-1zM68 41h1v1h-1zM71 41h1v1h-1zM7 42h1v1h-1zM10 42h1v1h-1zM14 42h2v1h-2zM18 42h2v1h-2zM25 42h2v1h-2zM29 42h2v1h-2zM34 42h1v1h-1zM37 42h1v1h-1zM41 42h1v1h-1zM46 42h2v1h-2zM53 42h1v1h-1zM56 42h1v1h-1zM63 42h1v1h-1zM65 42h1v1h-1zM0 43h1v1h-1zM2 43h2v1h-2zM10 43h1v1h-1zM13 43h1v1h-1zM18 43h3v1h-3zM23 43h1v1h-1zM31 43h1v1h-1zM35 43h1v1h-1zM37 43h1v1h-1zM40 43h1v1h-1zM47 43h4v1h-4zM56 43h1v1h-1zM59 43h2v1h-2zM62 43h2v1h-2zM65 43h1v1h-1zM8 44h2v1h-2zM12 44h1v1h-1zM19 44h2v1h-2zM23 44h1v1h-1zM30 44h4v1h-4zM37 44h1v1h-1zM43 44h1v1h-1zM45 44h1v1h-1zM48 44h3v1h-3zM52 44h1v1h-1zM54 44h1v1h-1zM56 44h1v1h-1zM63 44h2v1h-2zM69 44h1v1h-1zM74 44h1v1h-1zM2 45h1v1h-1zM4 45h2v1h-2zM8 45h1v1h-1zM11 45h3v1h-3zM15 45h1v1h-1zM20 45h1v1h-1zM22 45h3v1h-3zM26 45h2v1h-2zM52 45h1v1h-1zM54 45h1v1h-1zM56 45h1v1h-1zM62 45h1v1h-1zM64 45h1v1h-1zM72 45h1v1h-1zM0 46h2v1h-2zM4 46h2v1h-2zM7 46h2v1h-2zM11 46h2v1h-2zM19 46h1v1h-1zM24 46h4v1h-4zM29 46h1v1h-1zM31 46h1v1h-1zM33 46h1v1h-1zM39 46h1v1h-1zM41 46h1v1h-1zM45 46h1v1h-1zM49 46h1v1h-1zM55 46h1v1h-1zM57 46h1v1h-1zM62 46h1v1h-1zM65 46h1v1h-1zM67 46h1v1h-1zM70 46h1v1h-1zM72 46h1v1h-1zM3 47h1v1h-1zM6 47h2v1h-2zM9 47h5v1h-5zM16 47h1v1h-1zM20 47h1v1h-1zM22 47h1v1h-1zM25 47h1v1h-1zM27 47h1v1h-1zM29 47h1v1h-1zM34 47h3v1h-3zM40 47h1v1h-1zM45 47h1v1h-1zM52 47h2v1h-2zM59 47h1v1h-1zM65 47h2v1h-2zM70 47h1v1h-1zM72 47h1v1h-1zM2 48h1v1h-1zM4 48h1v1h-1zM7 48h1v1h-1zM13 48h3v1h-3zM18 48h1v1h-1zM21 48h2v1h-2zM26 48h2v1h-2zM29 48h4v1h-4zM38 48h2v1h-2zM41 48h2v1h-2zM48 48h1v1h-1zM50 48h3v1h-3zM55 48h1v1h-1zM66 48h1v1h-1zM72 48h3v1h-3zM1 49h1v1h-1zM8 49h2v1h-2zM14 49h1v1h-1zM21 49h1v1h-1zM25 49h1v1h-1zM31 49h2v1h-2zM36 49h1v1h-1zM41 49h1v1h-1zM44 49h1v1h-1zM50 49h1v1h-1zM52 49h2v1h-2zM55 49h1v1h-1zM58 49h1v1h-1zM77 49h1v1h-1zM79 49h1v1h-1zM3 50h1v1h-1zM6 50h2v1h-2zM10 50h2v1h-2zM13 50h1v1h-1zM20 50h2v1h-2zM23 50h1v1h-1zM25 50h1v1h-1zM27 50h1v1h-1zM36 50h1v1h-1zM40 50h2v1h-2zM45 50h1v1h-1zM50 50h1v1h-1zM53 50h4v1h-4zM58 50h3v1h-3zM68 50h2v1h-2zM72 50h2v1h-2zM79 50h1v1h-1zM1 51h1v1h-1zM5 51h1v1h-1zM7 51h1v1h-1zM12 51h3v1h-3zM17 51h1v1h-1zM31 51h2v1h-2zM38 51h4v1h-4zM45 51h4v1h-4zM52 51h2v1h-2zM56 51h2v1h-2zM59 51h1v1h-1zM62 51h1v1h-1zM64 51h2v1h-2zM69 51h1v1h-1zM72 51h1v1h-1zM74 51h1v1h-1zM79 51h1v1h-1zM81 51h1v1h-1zM0 52h1v1h-1zM2 52h2v1h-2zM6 52h1v1h-1zM8 52h4v1h-4zM24 52h6v1h-6zM37 52h1v1h-1zM47 52h1v1h-1zM49 52h1v1h-1zM53 52h1v1h-1zM55 52h1v1h-1zM59 52h1v1h-1zM63 52h1v1h-1zM65 52h3v1h-3zM0 53h1v1h-1zM7 53h1v1h-1zM11 53h1v1h-1zM13 53h2v1h-2zM19 53h1v1h-1zM21 53h1v1h-1zM29 53h1v1h-1zM32 53h2v1h-2zM36 53h1v1h-1zM41 53h1v1h-1zM44 53h2v1h-2zM51 53h1v1h-1zM53 53h1v1h-1zM65 53h2v1h-2zM69 53h1v1h-1zM71 53h1v1h-1zM77 53h1v1h-1zM81 53h2v1h-2zM0 54h1v1h-1zM3 54h1v1h-1zM7 54h2v1h-2zM17 54h1v1h-1zM19 54h1v1h-1zM21 54h2v1h-2zM33 54h1v1h-1zM35 54h1v1h-1zM37 54h1v1h-1zM40 54h1v1h-1zM46 54h1v1h-1zM48 54h1v1h-1zM50 54h4v1h-4zM58 54h1v1h-1zM60 54h1v1h-1zM62 54h1v1h-1zM66 54h1v1h-1zM69 54h1v1h-1zM71 54h1v1h-1zM76 54h1v1h-1zM80 54h2v1h-2zM85 54h1v1h-1zM1 55h2v1h-2zM5 55h1v1h-1zM7 55h2v1h-2zM11 55h1v1h-1zM17 55h1v1h-1zM24 55h5v1h-5zM32 55h1v1h-1zM40 55h1v1h-1zM45 55h1v1h-1zM50 55h1v1h-1zM52 55h1v1h-1zM55 55h2v1h-2zM58 55h1v1h-1zM60 55h2v1h-2zM64 55h2v1h-2zM68 55h1v1h-1zM71 55h1v1h-1zM73 55h1v1h-1zM77 55h1v1h-1zM82 55h1v1h-1zM88 55h1v1h-1zM3 56h2v1h-2zM29 56h1v1h-1zM33 56h1v1h-1zM35 56h1v1h-1zM37 56h1v1h-1zM39 56h1v1h-1zM41 56h1v1h-1zM52 56h2v1h-2zM56 56h2v1h-2zM71 56h1v1h-1zM83 56h2v1h-2zM88 56h1v1h-1zM91 56h1v1h-1zM0 57h1v1h-1zM2 57h1v1h-1zM10 57h1v1h-1zM13 57h1v1h-1zM15 57h1v1h-1zM17 57h3v1h-3zM22 57h1v1h-1zM24 57h1v1h-1zM26 57h2v1h-2zM32 57h2v1h-2zM35 57h3v1h-3zM39 57h1v1h-1zM41 57h1v1h-1zM44 57h4v1h-4zM50 57h1v1h-1zM52 57h2v1h-2zM56 57h1v1h-1zM58 57h3v1h-3zM63 57h1v1h-1zM65 57h1v1h-1zM71 57h1v1h-1zM77 57h2v1h-2zM84 57h2v1h-2zM90 57h1v1h-1zM0 58h2v1h-2zM4 58h1v1h-1zM9 58h1v1h-1zM11 58h2v1h-2zM17 58h1v1h-1zM19 58h1v1h-1zM23 58h1v1h-1zM25 58h1v1h-1zM27 58h1v1h-1zM30 58h1v1h-1zM33 58h1v1h-1zM36 58h1v1h-1zM38 58h1v1h-1zM45 58h1v1h-1zM50 58h1v1h-1zM52 58h1v1h-1zM54 58h1v1h-1zM58 58h1v1h-1zM64 58h2v1h-2zM70 58h1v1h-1zM78 58h1v1h-1zM81 58h1v1h-1zM83 58h1v1h-1zM85 58h1v1h-1zM91 58h1v1h-1zM2 59h2v1h-2zM5 59h1v1h-1zM8 59h1v1h-1zM13 59h1v1h-1zM17 59h1v1h-1zM23 59h1v1h-1zM26 59h1v1h-1zM33 59h1v1h-1zM38 59h5v1h-5zM45 59h1v1h-1zM48 59h1v1h-1zM57 59h2v1h-2zM65 59h1v1h-1zM67 59h1v1h-1zM69 59h1v1h-1zM72 59h1v1h-1zM74 59h1v1h-1zM77 59h1v1h-1zM79 59h1v1h-1zM81 59h1v1h-1zM84 59h2v1h-2zM88 59h3v1h-3zM94 59h1v1h-1zM98 59h1v1h-1zM0 60h1v1h-1zM7 60h1v1h-1zM12 60h3v1h-3zM19 60h3v1h-3zM23 60h3v1h-3zM27 60h2v1h-2zM31 60h1v1h-1zM33 60h1v1h-1zM36 60h6v1h-6zM43 60h1v1h-1zM48 60h1v1h-1zM56 60h1v1h-1zM58 60h2v1h-2zM63 60h1v1h-1zM66 60h1v1h-1zM70 60h1v1h-1zM73 60h1v1h-1zM77 60h2v1h-2zM84 60h1v1h-1zM87 60h1v1h-1zM92 60h2v1h-2zM96 60h2v1h-2zM3 61h2v1h-2zM8 61h1v1h-1zM10 61h1v1h-1zM14 61h1v1h-1zM24 61h2v1h-2zM32 61h1v1h-1zM35 61h1v1h-1zM39 61h1v1h-1zM43 61h2v1h-2zM49 61h1v1h-1zM52 61h1v1h-1zM55 61h2v1h-2zM61 61h2v1h-2zM65 61h2v1h-2zM70 61h1v1h-1zM77 61h2v1h-2zM80 61h2v1h-2zM83 61h3v1h-3zM97 61h1v1h-1zM99 61h1v1h-1zM0 62h1v1h-1zM3 62h1v1h-1zM5 62h2v1h-2zM8 62h1v1h-1zM32 62h1v1h-1zM34 62h2v1h-2zM43 62h1v1h-1zM45 62h2v1h-2zM51 62h1v1h-1zM55 62h1v1h-1zM57 62h2v1h-2zM62 62h2v1h-2zM67 62h1v1h-1zM70 62h2v1h-2zM73 62h2v1h-2zM78 62h1v1h-1zM83 62h1v1h-1zM86 62h1v1h-1zM92 62h1v1h-1zM0 63h1v1h-1zM4 63h1v1h-1zM26 63h1v1h-1zM29 63h1v1h-1zM52 63h1v1h-1zM63 63h1v1h-1zM67 63h2v1h-2zM70 63h2v1h-2zM73 63h1v1h-1zM76 63h1v1h-1zM82 63h1v1h-1zM84 63h1v1h-1zM87 63h1v1h-1zM92 63h1v1h-1zM100 63h2v1h-2zM2 64h1v1h-1zM35 64h1v1h-1zM40 64h1v1h-1zM43 64h1v1h-1zM51 64h1v1h-1zM54 64h1v1h-1zM58 64h1v1h-1zM62 64h1v1h-1zM64 64h2v1h-2zM69 64h2v1h-2zM73 64h1v1h-1zM80 64h1v1h-1zM83 64h1v1h-1zM85 64h1v1h-1zM96 64h3v1h-3zM0 65h1v1h-1zM3 65h1v1h-1zM5 65h2v1h-2zM30 65h1v1h-1zM34 65h1v1h-1zM40 65h1v1h-1zM47 65h1v1h-1zM50 65h1v1h-1zM55 65h2v1h-2zM60 65h1v1h-1zM62 65h1v1h-1zM68 65h1v1h-1zM71 65h1v1h-1zM73 65h1v1h-1zM76 65h2v1h-2zM84 65h1v1h-1zM87 65h1v1h-1zM90 65h1v1h-1zM92 65h1v1h-1zM94 65h2v1h-2zM97 65h3v1h-3zM0 66h1v1h-1zM10 66h1v1h-1zM22 66h1v1h-1zM26 66h1v1h-1zM44 66h1v1h-1zM47 66h1v1h-1zM49 66h1v1h-1zM51 66h1v1h-1zM61 66h2v1h-2zM64 66h1v1h-1zM68 66h1v1h-1zM71 66h1v1h-1zM74 66h2v1h-2zM77 66h1v1h-1zM81 66h1v1h-1zM84 66h1v1h-1zM87 66h1v1h-1zM90 66h1v1h-1zM95 66h1v1h-1zM98 66h1v1h-1zM102 66h1v1h-1zM105 66h1v1h-1zM4 67h1v1h-1zM14 67h1v1h-1zM20 67h1v1h-1zM25 67h1v1h-1zM49 67h1v1h-1zM57 67h1v1h-1zM62 67h2v1h-2zM69 67h2v1h-2zM72 67h2v1h-2zM75 67h2v1h-2zM80 67h1v1h-1zM82 67h2v1h-2zM85 67h1v1h-1zM87 67h1v1h-1zM89 67h2v1h-2zM92 67h1v1h-1zM94 67h1v1h-1zM97 67h2v1h-2zM101 67h1v1h-1zM0 68h1v1h-1zM3 68h1v1h-1zM34 68h1v1h-1zM43 68h1v1h-1zM52 68h1v1h-1zM54 68h1v1h-1zM59 68h2v1h-2zM64 68h3v1h-3zM70 68h1v1h-1zM73 68h4v1h-4zM79 68h1v1h-1zM93 68h2v1h-2zM100 68h1v1h-1zM102 68h1v1h-1zM8 69h1v1h-1zM12 69h1v1h-1zM14 69h1v1h-1zM52 69h1v1h-1zM55 69h1v1h-1zM61 69h1v1h-1zM67 69h3v1h-3zM71 69h1v1h-1zM75 69h1v1h-1zM78 69h1v1h-1zM86 69h1v1h-1zM88 69h4v1h-4zM98 69h2v1h-2zM105 69h1v1h-1zM16 70h1v1h-1zM51 70h1v1h-1zM54 70h1v1h-1zM57 70h2v1h-2zM60 70h1v1h-1zM62 70h1v1h-1zM64 70h1v1h-1zM67 70h1v1h-1zM69 70h1v1h-1zM75 70h2v1h-2zM79 70h1v1h-1zM84 70h1v1h-1zM87 70h2v1h-2zM93 70h1v1h-1zM96 70h2v1h-2zM102 70h1v1h-1zM105 70h1v1h-1zM9 71h1v1h-1zM19 71h1v1h-1zM40 71h1v1h-1zM66 71h1v1h-1zM69 71h2v1h-2zM78 71h1v1h-1zM80 71h2v1h-2zM83 71h3v1h-3zM95 71h2v1h-2zM99 71h1v1h-1zM1 72h1v1h-1zM4 72h1v1h-1zM9 72h1v1h-1zM14 72h2v1h-2zM22 72h1v1h-1zM52 72h1v1h-1zM58 72h2v1h-2zM70 72h1v1h-1zM72 72h1v1h-1zM78 72h3v1h-3zM84 72h1v1h-1zM90 72h1v1h-1zM93 72h2v1h-2zM96 72h1v1h-1zM99 72h1v1h-1zM101 72h1v1h-1zM103 72h1v1h-1zM107 72h1v1h-1zM109 72h1v1h-1zM1 73h1v1h-1zM17 73h1v1h-1zM24 73h1v1h-1zM62 73h1v1h-1zM64 73h1v1h-1zM66 73h1v1h-1zM73 73h1v1h-1zM77 73h1v1h-1zM79 73h1v1h-1zM82 73h1v1h-1zM90 73h1v1h-1zM93 73h1v1h-1zM98 73h1v1h-1zM102 73h1v1h-1zM108 73h1v1h-1zM0 74h1v1h-1zM34 74h1v1h-1zM48 74h1v1h-1zM54 74h1v1h-1zM68 74h1v1h-1zM70 74h2v1h-2zM74 74h1v1h-1zM86 74h2v1h-2zM90 74h4v1h-4zM102 74h1v1h-1zM107 74h1v1h-1zM110 74h1v1h-1zM2 75h2v1h-2zM23 75h1v1h-1zM77 75h1v1h-1zM80 75h3v1h-3zM95 75h1v1h-1zM97 75h1v1h-1zM99 75h1v1h-1zM102 75h2v1h-2zM106 75h1v1h-1zM108 75h1v1h-1zM110 75h2v1h-2zM2 76h1v1h-1zM12 76h2v1h-2zM19 76h1v1h-1zM29 76h1v1h-1zM41 76h1v1h-1zM68 76h1v1h-1zM72 76h1v1h-1zM79 76h3v1h-3zM85 76h1v1h-1zM87 76h2v1h-2zM90 76h1v1h-1zM95 76h1v1h-1zM99 76h1v1h-1zM108 76h1v1h-1zM5 77h1v1h-1zM24 77h1v1h-1zM26 77h1v1h-1zM55 77h1v1h-1zM70 77h1v1h-1zM76 77h1v1h-1zM78 77h2v1h-2zM84 77h1v1h-1zM88 77h2v1h-2zM94 77h2v1h-2zM97 77h2v1h-2zM104 77h1v1h-1zM107 77h1v1h-1zM7 78h1v1h-1zM19 78h1v1h-1zM24 78h1v1h-1zM63 78h1v1h-1zM73 78h1v1h-1zM79 78h1v1h-1zM82 78h1v1h-1zM92 78h1v1h-1zM96 78h2v1h-2zM99 78h1v1h-1zM101 78h1v1h-1zM104 78h1v1h-1zM106 78h4v1h-4zM2 79h1v1h-1zM39 79h2v1h-2zM65 79h1v1h-1zM84 79h2v1h-2zM87 79h4v1h-4zM94 79h2v1h-2zM97 79h1v1h-1zM102 79h1v1h-1zM105 79h1v1h-1zM107 79h1v1h-1zM10 80h1v1h-1zM41 80h1v1h-1zM77 80h1v1h-1zM82 80h1v1h-1zM94 80h1v1h-1zM101 80h2v1h-2zM106 80h1v1h-1zM4 81h1v1h-1zM38 81h1v1h-1zM79 81h1v1h-1zM82 81h1v1h-1zM90 81h1v1h-1zM92 81h1v1h-1zM94 81h1v1h-1zM96 81h2v1h-2zM99 81h1v1h-1zM104 81h2v1h-2zM0 82h2v1h-2zM7 82h1v1h-1zM11 82h1v1h-1zM17 82h1v1h-1zM23 82h1v1h-1zM86 82h1v1h-1zM89 82h2v1h-2zM97 82h1v1h-1zM99 82h1v1h-1zM104 82h1v1h-1zM14 83h1v1h-1zM49 83h1v1h-1zM55 83h1v1h-1zM85 83h3v1h-3zM90 83h1v1h-1zM94 83h2v1h-2zM103 83h1v1h-1zM3 84h1v1h-1zM8 84h1v1h-1zM13 84h1v1h-1zM20 84h1v1h-1zM64 84h1v1h-1zM89 84h2v1h-2zM93 84h2v1h-2zM103 84h1v1h-1zM9 85h2v1h-2zM14 85h1v1h-1zM88 85h1v1h-1zM90 85h2v1h-2zM94 85h1v1h-1zM97 85h1v1h-1zM100 85h1v1h-1zM102 85h1v1h-1zM13 86h2v1h-2zM27 86h1v1h-1zM34 86h1v1h-1zM44 86h2v1h-2zM52 86h1v1h-1zM69 86h1v1h-1zM93 86h4v1h-4zM98 86h1v1h-1zM7 87h1v1h-1zM18 87h2v1h-2zM75 87h1v1h-1zM90 87h1v1h-1zM95 87h1v1h-1zM97 87h1v1h-1zM15 88h1v1h-1zM93 88h1v1h-1zM95 88h1v1h-1zM97 88h1v1h-1zM99 88h1v1h-1zM14 89h1v1h-1zM16 89h1v1h-1zM20 89h2v1h-2zM71 89h1v1h-1zM89 89h1v1h-1zM92 89h1v1h-1zM95 89h1v1h-1zM13 90h1v1h-1zM67 90h1v1h-1zM71 90h1v1h-1zM91 90h1v1h-1zM9 91h1v1h-1zM11 91h1v1h-1zM21 91h1v1h-1zM23 91h1v1h-1zM49 91h1v1h-1zM93 91h1v1h-1zM23 92h1v1h-1zM91 92h1v1h-1zM93 92h1v1h-1zM15 93h1v1h-1zM19 93h1v1h-1zM21 93h1v1h-1zM39 93h1v1h-1zM67 93h1v1h-1zM74 93h1v1h-1zM91 93h1v1h-1zM14 94h1v1h-1zM27 94h2v1h-2zM30 94h1v1h-1zM14 95h2v1h-2zM23 95h3v1h-3zM38 95h1v1h-1zM87 95h2v1h-2zM90 95h1v1h-1zM16 96h1v1h-1zM24 96h1v1h-1zM30 96h1v1h-1zM71 96h1v1h-1zM76 96h1v1h-1zM87 96h1v1h-1zM17 97h1v1h-1zM20 97h1v1h-1zM24 97h1v1h-1zM39 97h1v1h-1zM85 97h1v1h-1zM88 97h2v1h-2zM17 98h1v1h-1zM24 98h1v1h-1zM34 98h1v1h-1zM40 98h1v1h-1zM19 99h1v1h-1zM30 99h1v1h-1zM33 99h1v1h-1zM64 99h1v1h-1zM83 99h1v1h-1zM86 99h1v1h-1zM26 100h1v1h-1zM31 100h1v1h-1zM34 100h1v1h-1zM38 100h2v1h-2zM46 100h2v1h-2zM84 100h1v1h-1zM24 101h1v1h-1zM78 101h2v1h-2zM82 101h1v1h-1zM22 102h1v1h-1zM29 102h3v1h-3zM41 102h1v1h-1zM45 102h1v1h-1zM45 104h1v1h-1zM53 104h1v1h-1zM57 104h1v1h-1zM70 104h1v1h-1zM26 105h2v1h-2zM24 106h2v1h-2zM45 106h1v1h-1zM27 107h1v1h-1zM41 107h1v1h-1zM24 108h1v1h-1zM27 108h1v1h-1zM44 108h2v1h-2zM57 108h1v1h-1zM72 108h1v1h-1zM44 109h3v1h-3zM48 109h1v1h-1zM53 109h1v1h-1zM73 109h1v1h-1zM26 110h1v1h-1zM45 110h1v1h-1zM51 110h1v1h-1zM58 110h1v1h-1zM46 111h1v1h-1zM54 111h1v1h-1zM60 111h1v1h-1zM48 113h1v1h-1zM50 113h1v1h-1zM53 113h1v1h-1zM63 113h1v1h-1zM65 113h2v1h-2zM66 114h1v1h-1zM85 115h1v1h-1z"/>
<path fill="#471365" d="M7 0h1v1h-1zM6 3h1v1h-1zM6 5h1v1h-1zM10 7h1v1h-1zM6 9h1v1h-1zM11 11h1v1h-1zM14 12h1v1h-1zM16 13h1v1h-1zM15 14h1v1h-1zM13 18h1v1h-1zM17 18h2v1h-2zM47 18h1v1h-1zM15 19h1v1h-1zM49 19h1v1h-1zM40 20h1v1h-1zM13 21h1v1h-1zM45 21h2v1h-2zM13 22h1v1h-1zM19 22h1v1h-1zM35 22h2v1h-2zM38 22h1v1h-1zM47 22h1v1h-1zM39 23h1v1h-1zM44 23h1v1h-1zM0 24h2v1h-2zM3 24h2v1h-2zM34 24h1v1h-1zM48 24h1v1h-1zM54 24h2v1h-2zM1 25h1v1h-1zM3 25h1v1h-1zM10 25h1v1h-1zM14 25h1v1h-1zM19 25h1v1h-1zM23 25h1v1h-1zM35 25h1v1h-1zM42 25h1v1h-1zM54 25h2v1h-2zM7 26h1v1h-1zM18 26h2v1h-2zM34 26h2v1h-2zM56 26h1v1h-1zM9 27h2v1h-2zM13 27h1v1h-1zM18 27h1v1h-1zM22 27h2v1h-2zM26 27h1v1h-1zM34 27h1v1h-1zM38 27h1v1h-1zM47 27h1v1h-1zM50 27h1v1h-1zM53 27h1v1h-1zM56 27h1v1h-1zM2 28h2v1h-2zM6 28h1v1h-1zM10 28h1v1h-1zM27 28h3v1h-3zM31 28h1v1h-1zM35 28h1v1h-1zM42 28h2v1h-2zM50 28h1v1h-1zM6 29h1v1h-1zM22 29h1v1h-1zM25 29h1v1h-1zM31 29h1v1h-1zM33 29h1v1h-1zM43 29h1v1h-1zM45 29h2v1h-2zM49 29h1v1h-1zM55 29h1v1h-1zM0 30h1v1h-1zM6 30h2v1h-2zM12 30h1v1h-1zM14 30h2v1h-2zM23 30h1v1h-1zM48 30h2v1h-2zM57 30h1v1h-1zM60 30h1v1h-1zM2 31h1v1h-1zM10 31h1v1h-1zM12 31h1v1h-1zM14 31h1v1h-1zM19 31h1v1h-1zM22 31h2v1h-2zM27 31h1v1h-1zM29 31h2v1h-2zM38 31h1v1h-1zM41 31h2v1h-2zM46 31h1v1h-1zM62 31h1v1h-1zM17 32h2v1h-2zM20 32h1v1h-1zM27 32h1v1h-1zM34 32h1v1h-1zM38 32h1v1h-1zM41 32h1v1h-1zM44 32h1v1h-1zM48 32h1v1h-1zM59 32h4v1h-4zM0 33h1v1h-1zM4 33h2v1h-2zM9 33h1v1h-1zM13 33h2v1h-2zM17 33h2v1h-2zM24 33h2v1h-2zM27 33h1v1h-1zM32 33h1v1h-1zM36 33h1v1h-1zM46 33h1v1h-1zM54 33h1v1h-1zM58 33h2v1h-2zM15 34h1v1h-1zM19 34h1v1h-1zM25 34h1v1h-1zM36 34h1v1h-1zM39 34h1v1h-1zM48 34h1v1h-1zM56 34h1v1h-1zM3 35h1v1h-1zM7 35h2v1h-2zM10 35h3v1h-3zM20 35h1v1h-1zM28 35h1v1h-1zM31 35h2v1h-2zM35 35h1v1h-1zM44 35h1v1h-1zM47 35h1v1h-1zM60 35h2v1h-2zM63 35h1v1h-1zM65 35h1v1h-1zM67 35h2v1h-2zM4 36h1v1h-1zM13 36h1v1h-1zM19 36h1v1h-1zM29 36h1v1h-1zM32 36h1v1h-1zM45 36h1v1h-1zM47 36h1v1h-1zM60 36h1v1h-1zM62 36h2v1h-2zM2 37h1v1h-1zM8 37h2v1h-2zM13 37h1v1h-1zM22 37h2v1h-2zM27 37h1v1h-1zM40 37h1v1h-1zM43 37h1v1h-1zM47 37h1v1h-1zM63 37h1v1h-1zM16 38h1v1h-1zM26 38h2v1h-2zM30 38h1v1h-1zM32 38h1v1h-1zM41 38h1v1h-1zM48 38h2v1h-2zM52 38h1v1h-1zM59 38h1v1h-1zM65 38h1v1h-1zM2 39h1v1h-1zM5 39h1v1h-1zM10 39h1v1h-1zM12 39h1v1h-1zM15 39h2v1h-2zM20 39h1v1h-1zM28 39h2v1h-2zM33 39h1v1h-1zM62 39h1v1h-1zM67 39h1v1h-1zM0 40h1v1h-1zM10 40h2v1h-2zM16 40h1v1h-1zM20 40h1v1h-1zM32 40h2v1h-2zM37 40h1v1h-1zM39 40h1v1h-1zM42 40h1v1h-1zM44 40h1v1h-1zM1 41h4v1h-4zM18 41h2v1h-2zM26 41h1v1h-1zM31 41h1v1h-1zM35 41h1v1h-1zM37 41h3v1h-3zM41 41h1v1h-1zM48 41h1v1h-1zM59 41h1v1h-1zM62 41h1v1h-1zM69 41h1v1h-1zM73 41h1v1h-1zM6 42h1v1h-1zM8 42h1v1h-1zM16 42h1v1h-1zM21 42h1v1h-1zM23 42h1v1h-1zM31 42h2v1h-2zM35 42h2v1h-2zM40 42h1v1h-1zM43 42h1v1h-1zM45 42h1v1h-1zM48 42h2v1h-2zM51 42h1v1h-1zM57 42h1v1h-1zM59 42h1v1h-1zM62 42h1v1h-1zM64 42h1v1h-1zM70 42h1v1h-1zM4 43h1v1h-1zM8 43h1v1h-1zM12 43h1v1h-1zM15 43h2v1h-2zM24 43h2v1h-2zM28 43h1v1h-1zM33 43h1v1h-1zM41 43h1v1h-1zM43 43h3v1h-3zM55 43h1v1h-1zM72 43h1v1h-1zM0 44h3v1h-3zM4 44h1v1h-1zM7 44h1v1h-1zM10 44h1v1h-1zM18 44h1v1h-1zM22 44h1v1h-1zM26 44h2v1h-2zM38 44h1v1h-1zM51 44h1v1h-1zM60 44h1v1h-1zM66 44h1v1h-1zM0 45h1v1h-1zM3 45h1v1h-1zM7 45h1v1h-1zM14 45h1v1h-1zM16 45h1v1h-1zM18 45h2v1h-2zM21 45h1v1h-1zM30 45h4v1h-4zM39 45h1v1h-1zM45 45h1v1h-1zM48 45h1v1h-1zM50 45h1v1h-1zM61 45h1v1h-1zM66 45h1v1h-1zM73 45h1v1h-1zM76 45h1v1h-1zM6 46h1v1h-1zM9 46h1v1h-1zM22 46h1v1h-1zM34 46h1v1h-1zM42 46h1v1h-1zM47 46h1v1h-1zM51 46h1v1h-1zM56 46h1v1h-1zM61 46h1v1h-1zM64 46h1v1h-1zM71 46h1v1h-1zM74 46h1v1h-1zM76 46h1v1h-1zM1 47h1v1h-1zM14 47h2v1h-2zM17 47h1v1h-1zM23 47h1v1h-1zM42 47h2v1h-2zM46 47h1v1h-1zM48 47h3v1h-3zM68 47h1v1h-1zM71 47h1v1h-1zM73 47h1v1h-1zM78 47h1v1h-1zM1 48h1v1h-1zM6 48h1v1h-1zM11 48h1v1h-1zM16 48h1v1h-1zM19 48h1v1h-1zM24 48h2v1h-2zM28 48h1v1h-1zM35 48h1v1h-1zM44 48h1v1h-1zM54 48h1v1h-1zM58 48h1v1h-1zM76 48h1v1h-1zM4 49h1v1h-1zM10 49h1v1h-1zM13 49h1v1h-1zM15 49h1v1h-1zM29 49h1v1h-1zM34 49h2v1h-2zM38 49h3v1h-3zM42 49h1v1h-1zM47 49h1v1h-1zM51 49h1v1h-1zM56 49h1v1h-1zM61 49h1v1h-1zM63 49h2v1h-2zM66 49h1v1h-1zM68 49h2v1h-2zM78 49h1v1h-1zM0 50h3v1h-3zM18 50h1v1h-1zM24 50h1v1h-1zM26 50h1v1h-1zM30 50h1v1h-1zM32 50h1v1h-1zM39 50h1v1h-1zM47 50h1v1h-1zM61 50h1v1h-1zM65 50h1v1h-1zM71 50h1v1h-1zM74 50h1v1h-1zM78 50h1v1h-1zM3 51h2v1h-2zM15 51h1v1h-1zM21 51h2v1h-2zM30 51h1v1h-1zM37 51h1v1h-1zM44 51h1v1h-1zM49 51h1v1h-1zM51 51h1v1h-1zM54 51h1v1h-1zM77 51h1v1h-1zM4 52h1v1h-1zM14 52h2v1h-2zM23 52h1v1h-1zM30 52h1v1h-1zM33 52h1v1h-1zM36 52h1v1h-1zM46 52h1v1h-1zM48 52h1v1h-1zM50 52h2v1h-2zM54 52h1v1h-1zM60 52h3v1h-3zM64 52h1v1h-1zM70 52h2v1h-2zM74 52h1v1h-1zM81 52h1v1h-1zM5 53h1v1h-1zM9 53h1v1h-1zM25 53h2v1h-2zM37 53h1v1h-1zM43 53h1v1h-1zM48 53h1v1h-1zM55 53h1v1h-1zM62 53h2v1h-2zM72 53h2v1h-2zM76 53h1v1h-1zM85 53h1v1h-1zM2 54h1v1h-1zM4 54h1v1h-1zM20 54h1v1h-1zM23 54h2v1h-2zM27 54h1v1h-1zM32 54h1v1h-1zM34 54h1v1h-1zM39 54h1v1h-1zM41 54h1v1h-1zM54 54h3v1h-3zM65 54h1v1h-1zM70 54h1v1h-1zM72 54h4v1h-4zM79 54h1v1h-1zM10 55h1v1h-1zM15 55h1v1h-1zM18 55h1v1h-1zM23 55h1v1h-1zM35 55h2v1h-2zM41 55h1v1h-1zM46 55h1v1h-1zM51 55h1v1h-1zM62 55h2v1h-2zM69 55h1v1h-1zM72 55h1v1h-1zM80 55h1v1h-1zM84 55h1v1h-1zM86 55h1v1h-1zM89 55h1v1h-1zM1 56h1v1h-1zM5 56h2v1h-2zM9 56h1v1h-1zM13 56h2v1h-2zM18 56h2v1h-2zM24 56h1v1h-1zM28 56h1v1h-1zM30 56h1v1h-1zM34 56h1v1h-1zM36 56h1v1h-1zM50 56h1v1h-1zM60 56h2v1h-2zM66 56h1v1h-1zM72 56h3v1h-3zM77 56h1v1h-1zM80 56h1v1h-1zM85 56h1v1h-1zM1 57h1v1h-1zM3 57h1v1h-1zM5 57h1v1h-1zM12 57h1v1h-1zM42 57h1v1h-1zM49 57h1v1h-1zM80 57h1v1h-1zM82 57h1v1h-1zM6 58h3v1h-3zM14 58h1v1h-1zM16 58h1v1h-1zM21 58h1v1h-1zM35 58h1v1h-1zM37 58h1v1h-1zM41 58h1v1h-1zM44 58h1v1h-1zM47 58h2v1h-2zM55 58h2v1h-2zM60 58h1v1h-1zM72 58h1v1h-1zM80 58h1v1h-1zM89 58h1v1h-1zM9 59h1v1h-1zM11 59h1v1h-1zM30 59h2v1h-2zM34 59h1v1h-1zM37 59h1v1h-1zM44 59h1v1h-1zM49 59h2v1h-2zM61 59h2v1h-2zM64 59h1v1h-1zM73 59h1v1h-1zM86 59h1v1h-1zM91 59h1v1h-1zM1 60h1v1h-1zM3 60h1v1h-1zM8 60h2v1h-2zM29 60h1v1h-1zM42 60h1v1h-1zM52 60h2v1h-2zM60 60h1v1h-1zM65 60h1v1h-1zM69 60h1v1h-1zM74 60h1v1h-1zM79 60h1v1h-1zM82 60h2v1h-2zM91 60h1v1h-1zM94 60h1v1h-1zM1 61h1v1h-1zM9 61h1v1h-1zM13 61h1v1h-1zM20 61h2v1h-2zM29 61h1v1h-1zM33 61h1v1h-1zM36 61h1v1h-1zM40 61h2v1h-2zM47 61h1v1h-1zM54 61h1v1h-1zM58 61h1v1h-1zM60 61h1v1h-1zM68 61h1v1h-1zM71 61h2v1h-2zM86 61h2v1h-2zM94 61h1v1h-1zM1 62h1v1h-1zM36 62h1v1h-1zM41 62h1v1h-1zM44 62h1v1h-1zM48 62h1v1h-1zM52 62h1v1h-1zM54 62h1v1h-1zM56 62h1v1h-1zM64 62h1v1h-1zM66 62h1v1h-1zM68 62h1v1h-1zM87 62h2v1h-2zM91 62h1v1h-1zM99 62h1v1h-1zM2 63h1v1h-1zM5 63h1v1h-1zM7 63h1v1h-1zM45 63h1v1h-1zM47 63h3v1h-3zM54 63h1v1h-1zM59 63h1v1h-1zM64 63h2v1h-2zM69 63h1v1h-1zM72 63h1v1h-1zM75 63h1v1h-1zM77 63h2v1h-2zM80 63h1v1h-1zM83 63h1v1h-1zM95 63h1v1h-1zM99 63h1v1h-1zM24 64h1v1h-1zM29 64h1v1h-1zM41 64h2v1h-2zM46 64h1v1h-1zM48 64h1v1h-1zM68 64h1v1h-1zM72 64h1v1h-1zM75 64h1v1h-1zM89 64h1v1h-1zM91 64h1v1h-1zM93 64h2v1h-2zM99 64h1v1h-1zM101 64h3v1h-3zM52 65h1v1h-1zM57 65h1v1h-1zM59 65h1v1h-1zM61 65h1v1h-1zM63 65h1v1h-1zM75 65h1v1h-1zM79 65h1v1h-1zM81 65h1v1h-1zM89 65h1v1h-1zM93 65h1v1h-1zM101 65h2v1h-2zM12 66h1v1h-1zM16 66h1v1h-1zM54 66h1v1h-1zM56 66h2v1h-2zM63 66h1v1h-1zM65 66h1v1h-1zM72 66h1v1h-1zM76 66h1v1h-1zM79 66h1v1h-1zM89 66h1v1h-1zM91 66h4v1h-4zM97 66h1v1h-1zM99 66h2v1h-2zM5 67h1v1h-1zM28 67h1v1h-1zM68 67h1v1h-1zM71 67h1v1h-1zM84 67h1v1h-1zM91 67h1v1h-1zM93 67h1v1h-1zM95 67h1v1h-1zM104 67h1v1h-1zM7 68h1v1h-1zM14 68h1v1h-1zM33 68h1v1h-1zM53 68h1v1h-1zM71 68h1v1h-1zM77 68h1v1h-1zM84 68h3v1h-3zM89 68h2v1h-2zM95 68h1v1h-1zM99 68h1v1h-1zM101 68h1v1h-1zM104 68h1v1h-1zM106 68h1v1h-1zM1 69h1v1h-1zM25 69h1v1h-1zM33 69h1v1h-1zM45 69h1v1h-1zM59 69h1v1h-1zM62 69h1v1h-1zM73 69h1v1h-1zM77 69h1v1h-1zM83 69h1v1h-1zM96 69h1v1h-1zM100 69h2v1h-2zM106 69h1v1h-1zM2 70h1v1h-1zM12 70h1v1h-1zM52 70h1v1h-1zM55 70h1v1h-1zM73 70h2v1h-2zM81 70h1v1h-1zM89 70h1v1h-1zM101 70h1v1h-1zM104 70h1v1h-1zM106 70h1v1h-1zM4 71h1v1h-1zM22 71h1v1h-1zM62 71h1v1h-1zM71 71h2v1h-2zM88 71h1v1h-1zM97 71h1v1h-1zM104 71h1v1h-1zM0 72h1v1h-1zM2 72h2v1h-2zM17 72h2v1h-2zM28 72h1v1h-1zM39 72h2v1h-2zM45 72h1v1h-1zM55 72h1v1h-1zM82 72h1v1h-1zM85 72h1v1h-1zM89 72h1v1h-1zM91 72h1v1h-1zM95 72h1v1h-1zM97 72h1v1h-1zM105 72h1v1h-1zM0 73h1v1h-1zM35 73h2v1h-2zM58 73h1v1h-1zM71 73h2v1h-2zM78 73h1v1h-1zM85 73h1v1h-1zM87 73h2v1h-2zM110 73h1v1h-1zM25 74h1v1h-1zM28 74h1v1h-1zM36 74h1v1h-1zM41 74h1v1h-1zM75 74h1v1h-1zM77 74h1v1h-1zM80 74h1v1h-1zM101 74h1v1h-1zM111 74h1v1h-1zM0 75h1v1h-1zM9 75h1v1h-1zM33 75h1v1h-1zM83 75h2v1h-2zM88 75h1v1h-1zM91 75h1v1h-1zM96 75h1v1h-1zM98 75h1v1h-1zM100 75h2v1h-2zM109 75h1v1h-1zM0 76h2v1h-2zM11 76h1v1h-1zM31 76h1v1h-1zM33 76h1v1h-1zM70 76h1v1h-1zM74 76h1v1h-1zM77 76h1v1h-1zM86 76h1v1h-1zM91 76h1v1h-1zM93 76h1v1h-1zM96 76h1v1h-1zM105 76h1v1h-1zM1 77h1v1h-1zM3 77h1v1h-1zM37 77h1v1h-1zM62 77h1v1h-1zM81 77h2v1h-2zM87 77h1v1h-1zM90 77h1v1h-1zM92 77h1v1h-1zM99 77h1v1h-1zM105 77h2v1h-2zM108 77h2v1h-2zM0 78h1v1h-1zM14 78h1v1h-1zM80 78h2v1h-2zM84 78h1v1h-1zM88 78h1v1h-1zM95 78h1v1h-1zM13 79h1v1h-1zM91 79h1v1h-1zM99 79h1v1h-1zM101 79h1v1h-1zM0 80h1v1h-1zM16 80h1v1h-1zM49 80h1v1h-1zM60 80h1v1h-1zM81 80h1v1h-1zM84 80h1v1h-1zM89 80h4v1h-4zM97 80h1v1h-1zM7 81h1v1h-1zM9 81h2v1h-2zM83 81h1v1h-1zM86 81h1v1h-1zM89 81h1v1h-1zM98 81h1v1h-1zM100 81h1v1h-1zM102 81h1v1h-1zM34 82h1v1h-1zM87 82h2v1h-2zM95 82h1v1h-1zM98 82h1v1h-1zM100 82h1v1h-1zM0 83h1v1h-1zM18 83h1v1h-1zM57 83h3v1h-3zM62 83h1v1h-1zM97 83h5v1h-5zM1 84h2v1h-2zM11 84h1v1h-1zM55 84h1v1h-1zM92 84h1v1h-1zM99 84h1v1h-1zM7 85h1v1h-1zM36 85h1v1h-1zM87 85h1v1h-1zM92 85h1v1h-1zM99 85h1v1h-1zM101 85h1v1h-1zM4 86h1v1h-1zM64 86h1v1h-1zM90 86h1v1h-1zM97 86h1v1h-1zM100 86h1v1h-1zM10 87h1v1h-1zM13 87h1v1h-1zM16 87h1v1h-1zM88 87h1v1h-1zM92 87h1v1h-1zM16 88h1v1h-1zM76 88h1v1h-1zM79 88h1v1h-1zM98 88h1v1h-1zM11 89h1v1h-1zM18 89h1v1h-1zM90 89h2v1h-2zM93 89h2v1h-2zM16 90h1v1h-1zM19 90h2v1h-2zM30 90h1v1h-1zM76 90h1v1h-1zM93 90h1v1h-1zM15 91h1v1h-1zM38 91h1v1h-1zM68 93h1v1h-1zM34 94h1v1h-1zM44 94h1v1h-1zM72 94h1v1h-1zM86 94h1v1h-1zM88 94h1v1h-1zM90 94h2v1h-2zM16 95h1v1h-1zM41 95h1v1h-1zM52 95h1v1h-1zM89 95h1v1h-1zM21 96h1v1h-1zM26 96h1v1h-1zM30 97h1v1h-1zM65 97h1v1h-1zM70 97h1v1h-1zM18 98h1v1h-1zM20 98h2v1h-2zM57 98h1v1h-1zM59 98h2v1h-2zM87 98h1v1h-1zM22 99h1v1h-1zM25 99h1v1h-1zM84 99h1v1h-1zM32 100h1v1h-1zM75 100h2v1h-2zM83 100h1v1h-1zM28 101h1v1h-1zM35 101h1v1h-1zM59 101h1v1h-1zM84 101h1v1h-1zM35 102h1v1h-1zM55 102h1v1h-1zM25 103h1v1h-1zM28 103h1v1h-1zM68 103h1v1h-1zM80 103h1v1h-1zM81 104h1v1h-1zM28 105h1v1h-1zM41 105h1v1h-1zM27 106h2v1h-2zM41 106h1v1h-1zM76 106h1v1h-1zM26 107h1v1h-1zM48 107h1v1h-1zM55 107h1v1h-1zM41 108h2v1h-2zM51 108h1v1h-1zM53 108h1v1h-1zM47 109h1v1h-1zM54 109h1v1h-1zM68 110h1v1h-1zM63 111h1v1h-1zM49 112h1v1h-1zM54 112h1v1h-1zM64 112h1v1h-1zM66 112h3v1h-3zM52 113h1v1h-1zM54 113h1v1h-1zM64 113h1v1h-1zM64 117h1v1h-1zM88 117h1v1h-1z"/>
<path fill="#48186a" d="M21 59h1v1h-1zM38 67h1v1h-1z"/>
<path fill="#482374" d="M20 64h1v1h-1z"/>
<path fill="#482878" d="M12 63h1v1h-1zM7 66h1v1h-1zM28 66h1v1h-1zM20 82h1v1h-1z"/>
<path fill="#472d7b" d="M21 62h1v1h-1zM10 65h1v1h-1zM24 68h1v1h-1zM21 70h1v1h-1zM24 71h1v1h-1zM27 71h1v1h-1zM48 71h1v1h-1zM35 75h1v1h-1z"/>
<path fill="#46327e" d="M19 61h1v1h-1zM17 62h1v1h-1zM9 64h1v1h-1zM30 64h1v1h-1zM12 65h1v1h-1zM27 65h1v1h-1zM42 65h1v1h-1zM13 66h1v1h-1zM36 66h1v1h-1zM37 70h1v1h-1zM32 73h1v1h-1zM20 86h1v1h-1z"/>
<path fill="#453781" d="M22 62h1v1h-1zM39 63h1v1h-1zM11 64h1v1h-1zM14 64h1v1h-1zM44 65h1v1h-1zM21 66h1v1h-1zM11 67h1v1h-1zM17 67h1v1h-1zM45 67h1v1h-1zM27 68h1v1h-1zM29 69h1v1h-1zM37 69h1v1h-1zM22 70h1v1h-1zM29 70h1v1h-1zM20 72h1v1h-1zM23 72h1v1h-1zM13 73h1v1h-1zM32 76h1v1h-1zM54 76h1v1h-1zM22 84h1v1h-1z"/>
<path fill="#443b84" d="M16 60h1v1h-1zM18 60h1v1h-1zM15 62h1v1h-1zM18 62h1v1h-1zM10 64h1v1h-1zM19 64h1v1h-1zM27 64h1v1h-1zM8 65h1v1h-1zM24 65h1v1h-1zM33 66h1v1h-1zM42 66h1v1h-1zM9 68h1v1h-1zM39 68h1v1h-1zM41 68h1v1h-1zM13 69h1v1h-1zM51 69h1v1h-1zM6 70h1v1h-1zM44 70h1v1h-1zM39 71h1v1h-1zM50 71h1v1h-1zM11 73h1v1h-1zM29 73h1v1h-1zM39 73h1v1h-1zM11 74h1v1h-1zM39 74h1v1h-1zM18 75h1v1h-1zM17 76h1v1h-1zM32 78h1v1h-1zM28 82h1v1h-1z"/>
<path fill="#424086" d="M20 59h1v1h-1zM15 61h1v1h-1zM18 61h1v1h-1zM29 62h1v1h-1zM38 62h1v1h-1zM10 63h1v1h-1zM13 63h2v1h-2zM24 63h1v1h-1zM35 63h1v1h-1zM13 64h1v1h-1zM16 64h1v1h-1zM21 65h1v1h-1zM25 65h1v1h-1zM18 66h1v1h-1zM34 66h1v1h-1zM10 67h1v1h-1zM17 68h1v1h-1zM7 70h1v1h-1zM11 70h1v1h-1zM15 70h1v1h-1zM23 70h1v1h-1zM30 70h1v1h-1zM15 71h1v1h-1zM31 71h1v1h-1zM61 71h1v1h-1zM33 72h1v1h-1zM12 74h2v1h-2zM12 75h1v1h-1zM34 75h1v1h-1zM20 76h1v1h-1zM17 77h1v1h-1zM23 77h1v1h-1zM41 87h1v1h-1z"/>
<path fill="#404588" d="M17 60h1v1h-1zM17 61h1v1h-1zM34 61h1v1h-1zM11 63h1v1h-1zM22 65h1v1h-1zM27 66h1v1h-1zM29 66h1v1h-1zM31 66h1v1h-1zM41 66h1v1h-1zM9 67h1v1h-1zM19 67h1v1h-1zM36 67h1v1h-1zM6 68h1v1h-1zM20 68h1v1h-1zM26 68h1v1h-1zM28 68h1v1h-1zM21 69h1v1h-1zM8 70h1v1h-1zM27 70h1v1h-1zM47 70h1v1h-1zM13 71h1v1h-1zM18 71h1v1h-1zM20 71h1v1h-1zM29 72h1v1h-1zM14 73h1v1h-1zM19 73h1v1h-1zM21 73h1v1h-1zM8 74h1v1h-1zM22 74h1v1h-1zM33 74h1v1h-1zM13 75h1v1h-1zM22 75h1v1h-1zM27 75h1v1h-1zM48 75h1v1h-1zM23 79h1v1h-1zM31 79h2v1h-2zM5 80h1v1h-1zM30 101h1v1h-1z"/>
<path fill="#3e4989" d="M8 63h1v1h-1zM18 63h1v1h-1zM34 63h1v1h-1zM12 64h1v1h-1zM34 64h1v1h-1zM38 64h1v1h-1zM7 65h1v1h-1zM32 65h1v1h-1zM37 65h1v1h-1zM5 66h1v1h-1zM8 66h1v1h-1zM15 66h1v1h-1zM17 66h1v1h-1zM39 66h2v1h-2zM21 67h1v1h-1zM33 67h1v1h-1zM37 67h1v1h-1zM11 68h1v1h-1zM21 68h2v1h-2zM7 69h1v1h-1zM24 69h1v1h-1zM32 69h1v1h-1zM17 70h1v1h-1zM43 70h1v1h-1zM10 71h1v1h-1zM12 71h1v1h-1zM8 72h1v1h-1zM10 72h1v1h-1zM43 72h2v1h-2zM15 73h1v1h-1zM26 73h2v1h-2zM37 73h1v1h-1zM19 74h1v1h-1zM21 74h1v1h-1zM41 75h1v1h-1zM8 76h1v1h-1zM15 76h1v1h-1zM57 76h1v1h-1zM2 77h1v1h-1zM11 78h1v1h-1zM47 78h1v1h-1zM6 81h1v1h-1zM14 81h1v1h-1zM27 81h1v1h-1zM16 82h1v1h-1zM41 83h1v1h-1zM26 84h1v1h-1zM89 87h1v1h-1zM15 89h1v1h-1z"/>
<path fill="#3d4e8a" d="M16 61h1v1h-1zM13 62h1v1h-1zM6 63h1v1h-1zM15 63h1v1h-1zM25 63h1v1h-1zM7 64h1v1h-1zM21 64h1v1h-1zM39 64h1v1h-1zM11 65h1v1h-1zM15 65h1v1h-1zM18 65h1v1h-1zM31 65h1v1h-1zM35 65h1v1h-1zM45 65h1v1h-1zM11 66h1v1h-1zM14 66h1v1h-1zM24 66h1v1h-1zM43 66h1v1h-1zM46 66h1v1h-1zM53 66h1v1h-1zM22 67h2v1h-2zM31 67h1v1h-1zM15 68h1v1h-1zM25 68h1v1h-1zM42 68h1v1h-1zM5 69h1v1h-1zM10 69h1v1h-1zM30 69h1v1h-1zM42 69h2v1h-2zM5 70h1v1h-1zM19 70h1v1h-1zM8 71h1v1h-1zM30 72h1v1h-1zM47 72h1v1h-1zM54 72h1v1h-1zM18 73h1v1h-1zM7 74h1v1h-1zM18 74h1v1h-1zM5 75h1v1h-1zM17 75h1v1h-1zM25 75h1v1h-1zM21 76h1v1h-1zM51 76h1v1h-1zM8 77h1v1h-1zM13 77h1v1h-1zM16 77h1v1h-1zM18 77h1v1h-1zM8 78h1v1h-1zM22 78h1v1h-1zM26 78h1v1h-1zM43 78h1v1h-1zM12 80h1v1h-1zM26 80h1v1h-1zM8 81h1v1h-1zM23 81h1v1h-1zM35 81h1v1h-1zM43 81h1v1h-1zM18 85h1v1h-1zM53 85h1v1h-1zM21 86h1v1h-1zM29 86h1v1h-1zM29 87h1v1h-1zM26 89h1v1h-1zM52 89h1v1h-1zM22 90h1v1h-1z"/>
<path fill="#3a538b" d="M27 61h1v1h-1zM20 62h1v1h-1zM28 62h1v1h-1zM16 63h1v1h-1zM19 63h1v1h-1zM23 63h1v1h-1zM25 64h1v1h-1zM16 65h2v1h-2zM19 65h2v1h-2zM20 66h1v1h-1zM37 66h1v1h-1zM15 67h1v1h-1zM40 67h2v1h-2zM13 68h1v1h-1zM29 68h1v1h-1zM15 69h1v1h-1zM26 69h1v1h-1zM31 69h1v1h-1zM35 69h1v1h-1zM9 70h1v1h-1zM28 70h1v1h-1zM32 70h1v1h-1zM50 70h1v1h-1zM0 71h1v1h-1zM26 71h1v1h-1zM35 71h1v1h-1zM52 71h1v1h-1zM57 71h1v1h-1zM7 72h1v1h-1zM11 72h2v1h-2zM16 72h1v1h-1zM38 73h1v1h-1zM42 73h1v1h-1zM53 73h1v1h-1zM5 74h1v1h-1zM17 74h1v1h-1zM23 74h1v1h-1zM44 74h1v1h-1zM52 74h1v1h-1zM4 75h1v1h-1zM15 75h1v1h-1zM32 75h1v1h-1zM42 75h1v1h-1zM46 75h1v1h-1zM27 76h2v1h-2zM28 77h2v1h-2zM36 77h1v1h-1zM47 77h1v1h-1zM9 78h1v1h-1zM20 79h1v1h-1zM26 79h1v1h-1zM30 79h1v1h-1zM57 79h1v1h-1zM60 79h1v1h-1zM11 80h1v1h-1zM18 80h2v1h-2zM22 80h1v1h-1zM16 81h1v1h-1zM59 81h1v1h-1zM13 82h1v1h-1zM30 82h1v1h-1zM29 83h1v1h-1zM38 83h1v1h-1zM7 84h1v1h-1zM41 84h1v1h-1zM20 85h1v1h-1zM32 87h1v1h-1zM33 88h1v1h-1zM24 89h1v1h-1zM49 96h1v1h-1zM36 98h1v1h-1zM64 98h1v1h-1z"/>
<path fill="#38588c" d="M11 61h1v1h-1zM12 62h1v1h-1zM31 62h1v1h-1zM33 62h1v1h-1zM8 64h1v1h-1zM18 64h1v1h-1zM32 64h1v1h-1zM41 65h1v1h-1zM35 66h1v1h-1zM12 68h1v1h-1zM37 68h1v1h-1zM48 68h1v1h-1zM28 69h1v1h-1zM36 69h1v1h-1zM39 69h1v1h-1zM54 69h1v1h-1zM24 70h2v1h-2zM45 70h1v1h-1zM61 70h1v1h-1zM70 70h1v1h-1zM7 71h1v1h-1zM23 71h1v1h-1zM28 71h1v1h-1zM33 71h2v1h-2zM37 71h1v1h-1zM55 71h1v1h-1zM32 72h1v1h-1zM36 72h1v1h-1zM4 74h1v1h-1zM24 74h1v1h-1zM32 74h1v1h-1zM8 75h1v1h-1zM10 75h1v1h-1zM19 75h2v1h-2zM44 75h2v1h-2zM22 76h1v1h-1zM30 76h1v1h-1zM36 76h1v1h-1zM21 77h1v1h-1zM10 78h1v1h-1zM16 78h2v1h-2zM34 78h2v1h-2zM39 78h1v1h-1zM58 78h1v1h-1zM14 80h1v1h-1zM53 80h1v1h-1zM5 81h1v1h-1zM22 81h1v1h-1zM28 81h1v1h-1zM48 81h1v1h-1zM9 82h1v1h-1zM15 82h1v1h-1zM36 82h1v1h-1zM38 82h1v1h-1zM46 82h1v1h-1zM16 83h1v1h-1zM19 83h1v1h-1zM34 83h1v1h-1zM50 83h1v1h-1zM41 85h1v1h-1zM44 85h1v1h-1zM8 86h1v1h-1zM57 86h1v1h-1zM12 87h1v1h-1zM17 87h1v1h-1zM21 87h1v1h-1zM52 88h1v1h-1zM12 89h1v1h-1zM31 90h1v1h-1zM47 90h1v1h-1zM79 90h1v1h-1zM20 91h1v1h-1zM32 91h1v1h-1zM35 94h1v1h-1zM45 97h1v1h-1zM63 100h1v1h-1z"/>
<path fill="#365c8d" d="M18 59h1v1h-1zM11 62h1v1h-1zM19 62h1v1h-1zM25 62h1v1h-1zM21 63h1v1h-1zM17 64h1v1h-1zM13 65h1v1h-1zM33 65h1v1h-1zM19 66h1v1h-1zM25 66h1v1h-1zM48 66h1v1h-1zM24 67h1v1h-1zM34 67h1v1h-1zM44 67h1v1h-1zM51 67h1v1h-1zM19 68h1v1h-1zM45 68h1v1h-1zM50 68h2v1h-2zM2 69h1v1h-1zM6 69h1v1h-1zM48 69h1v1h-1zM14 71h1v1h-1zM16 71h1v1h-1zM25 71h1v1h-1zM29 71h1v1h-1zM38 71h1v1h-1zM47 71h1v1h-1zM53 71h1v1h-1zM6 72h1v1h-1zM42 72h1v1h-1zM64 72h1v1h-1zM12 73h1v1h-1zM40 73h1v1h-1zM60 73h1v1h-1zM14 74h1v1h-1zM30 74h1v1h-1zM46 74h1v1h-1zM31 75h1v1h-1zM47 75h1v1h-1zM3 76h1v1h-1zM14 76h1v1h-1zM73 76h1v1h-1zM4 77h1v1h-1zM9 77h1v1h-1zM20 77h1v1h-1zM22 77h1v1h-1zM43 77h1v1h-1zM25 78h1v1h-1zM45 78h1v1h-1zM48 78h1v1h-1zM14 79h1v1h-1zM37 79h1v1h-1zM44 79h1v1h-1zM24 80h1v1h-1zM30 80h1v1h-1zM36 80h1v1h-1zM48 80h1v1h-1zM52 80h1v1h-1zM70 80h1v1h-1zM12 81h1v1h-1zM24 81h1v1h-1zM34 81h1v1h-1zM33 82h1v1h-1zM17 83h1v1h-1zM28 83h1v1h-1zM15 84h1v1h-1zM19 84h1v1h-1zM30 84h1v1h-1zM43 84h1v1h-1zM24 85h1v1h-1zM26 85h1v1h-1zM31 85h1v1h-1zM34 85h1v1h-1zM31 86h1v1h-1zM26 87h1v1h-1zM25 88h1v1h-1zM32 88h1v1h-1zM38 88h2v1h-2zM34 89h1v1h-1zM40 89h1v1h-1zM51 89h1v1h-1zM9 90h1v1h-1zM28 90h1v1h-1zM55 90h1v1h-1zM24 91h1v1h-1zM22 92h1v1h-1zM24 93h1v1h-1zM56 93h1v1h-1zM18 95h1v1h-1zM33 95h1v1h-1zM36 95h1v1h-1zM40 95h1v1h-1zM67 96h1v1h-1zM64 97h1v1h-1zM66 98h1v1h-1z"/>
<path fill="#34608d" d="M23 64h1v1h-1zM43 65h1v1h-1zM6 67h1v1h-1zM18 67h1v1h-1zM39 67h1v1h-1zM43 67h1v1h-1zM16 68h1v1h-1zM46 68h1v1h-1zM9 69h1v1h-1zM20 69h1v1h-1zM38 69h1v1h-1zM49 69h2v1h-2zM10 70h1v1h-1zM26 70h1v1h-1zM34 70h1v1h-1zM42 70h1v1h-1zM46 70h1v1h-1zM1 71h1v1h-1zM11 71h1v1h-1zM27 72h1v1h-1zM4 73h1v1h-1zM23 73h1v1h-1zM25 73h1v1h-1zM30 73h1v1h-1zM15 74h1v1h-1zM49 74h1v1h-1zM6 75h1v1h-1zM28 75h2v1h-2zM50 75h1v1h-1zM18 76h1v1h-1zM43 76h1v1h-1zM55 76h1v1h-1zM67 76h1v1h-1zM12 77h1v1h-1zM32 77h1v1h-1zM40 77h1v1h-1zM45 77h1v1h-1zM49 77h1v1h-1zM27 78h1v1h-1zM36 78h1v1h-1zM51 78h1v1h-1zM61 78h1v1h-1zM68 78h1v1h-1zM1 79h1v1h-1zM8 79h1v1h-1zM10 79h1v1h-1zM15 79h1v1h-1zM45 79h2v1h-2zM69 79h1v1h-1zM33 80h1v1h-1zM35 80h1v1h-1zM58 80h1v1h-1zM18 81h1v1h-1zM25 81h1v1h-1zM42 81h1v1h-1zM22 82h1v1h-1zM35 82h1v1h-1zM58 82h1v1h-1zM3 83h1v1h-1zM10 83h1v1h-1zM32 83h1v1h-1zM45 83h1v1h-1zM61 83h1v1h-1zM23 84h1v1h-1zM34 84h1v1h-1zM46 84h1v1h-1zM17 85h1v1h-1zM23 85h1v1h-1zM39 85h1v1h-1zM74 85h1v1h-1zM18 86h1v1h-1zM26 86h1v1h-1zM36 86h1v1h-1zM48 87h1v1h-1zM22 88h1v1h-1zM22 89h1v1h-1zM38 89h1v1h-1zM45 89h1v1h-1zM48 89h1v1h-1zM25 90h1v1h-1zM29 90h1v1h-1zM29 91h2v1h-2zM18 92h1v1h-1zM25 92h1v1h-1zM27 92h1v1h-1zM26 95h1v1h-1zM28 97h1v1h-1zM57 97h1v1h-1zM43 98h1v1h-1zM83 98h1v1h-1zM24 99h1v1h-1zM41 99h1v1h-1zM78 100h1v1h-1zM49 101h1v1h-1z"/>
<path fill="#32648e" d="M24 59h1v1h-1zM27 63h1v1h-1zM15 64h1v1h-1zM51 65h1v1h-1zM32 67h1v1h-1zM5 68h1v1h-1zM10 68h1v1h-1zM49 68h1v1h-1zM46 69h1v1h-1zM1 70h1v1h-1zM3 70h1v1h-1zM31 70h1v1h-1zM6 71h1v1h-1zM21 71h1v1h-1zM45 71h1v1h-1zM65 71h1v1h-1zM31 72h1v1h-1zM37 72h1v1h-1zM43 73h1v1h-1zM46 73h1v1h-1zM50 73h1v1h-1zM54 73h1v1h-1zM63 73h1v1h-1zM9 74h1v1h-1zM35 74h1v1h-1zM42 74h1v1h-1zM61 74h1v1h-1zM72 74h2v1h-2zM7 75h1v1h-1zM9 76h2v1h-2zM38 76h1v1h-1zM44 76h2v1h-2zM48 76h1v1h-1zM10 77h1v1h-1zM33 78h1v1h-1zM50 78h1v1h-1zM54 78h1v1h-1zM9 79h1v1h-1zM24 79h1v1h-1zM27 79h1v1h-1zM34 79h3v1h-3zM49 79h1v1h-1zM66 79h1v1h-1zM29 80h1v1h-1zM39 80h1v1h-1zM15 81h1v1h-1zM33 81h1v1h-1zM40 81h1v1h-1zM69 81h1v1h-1zM18 82h2v1h-2zM25 82h1v1h-1zM40 82h1v1h-1zM44 82h1v1h-1zM68 82h1v1h-1zM13 83h1v1h-1zM24 83h1v1h-1zM53 83h1v1h-1zM0 84h1v1h-1zM6 84h1v1h-1zM14 84h1v1h-1zM18 84h1v1h-1zM21 84h1v1h-1zM28 84h1v1h-1zM37 84h1v1h-1zM46 85h1v1h-1zM5 86h1v1h-1zM25 86h1v1h-1zM47 86h1v1h-1zM8 87h1v1h-1zM23 87h1v1h-1zM25 87h1v1h-1zM7 88h1v1h-1zM9 88h2v1h-2zM23 88h1v1h-1zM31 88h1v1h-1zM34 88h3v1h-3zM53 88h1v1h-1zM23 89h1v1h-1zM10 90h1v1h-1zM28 91h1v1h-1zM46 91h1v1h-1zM54 92h1v1h-1zM14 93h1v1h-1zM32 94h1v1h-1zM41 94h1v1h-1zM57 94h1v1h-1zM20 95h1v1h-1zM45 95h1v1h-1zM28 96h1v1h-1zM34 97h1v1h-1zM72 98h1v1h-1zM66 99h1v1h-1zM36 101h1v1h-1zM54 101h1v1h-1zM69 103h1v1h-1zM63 106h1v1h-1z"/>
<path fill="#31688e" d="M24 62h1v1h-1zM38 66h1v1h-1zM50 66h1v1h-1zM40 68h1v1h-1zM58 68h1v1h-1zM4 69h1v1h-1zM17 69h1v1h-1zM27 69h1v1h-1zM63 69h1v1h-1zM58 71h1v1h-1zM24 72h1v1h-1zM26 72h1v1h-1zM34 72h1v1h-1zM5 73h1v1h-1zM28 73h1v1h-1zM49 73h1v1h-1zM20 74h1v1h-1zM47 74h1v1h-1zM50 74h1v1h-1zM53 74h1v1h-1zM14 75h1v1h-1zM70 75h1v1h-1zM16 76h1v1h-1zM23 76h2v1h-2zM26 76h1v1h-1zM19 77h1v1h-1zM30 77h2v1h-2zM34 77h2v1h-2zM44 77h1v1h-1zM51 77h1v1h-1zM64 77h1v1h-1zM73 77h1v1h-1zM23 78h1v1h-1zM44 78h1v1h-1zM53 78h1v1h-1zM4 79h1v1h-1zM6 79h1v1h-1zM22 79h1v1h-1zM25 79h1v1h-1zM51 79h1v1h-1zM54 79h1v1h-1zM63 79h1v1h-1zM72 79h1v1h-1zM7 80h1v1h-1zM13 80h1v1h-1zM17 80h1v1h-1zM20 80h1v1h-1zM43 80h1v1h-1zM47 80h1v1h-1zM31 81h1v1h-1zM36 81h1v1h-1zM45 81h1v1h-1zM47 81h1v1h-1zM51 81h1v1h-1zM58 81h1v1h-1zM8 82h1v1h-1zM27 82h1v1h-1zM41 82h1v1h-1zM49 82h1v1h-1zM53 82h1v1h-1zM21 83h1v1h-1zM27 83h1v1h-1zM33 83h1v1h-1zM37 83h1v1h-1zM42 83h1v1h-1zM4 84h1v1h-1zM9 84h1v1h-1zM57 84h1v1h-1zM3 85h1v1h-1zM5 85h2v1h-2zM19 85h1v1h-1zM27 85h2v1h-2zM7 86h1v1h-1zM73 86h1v1h-1zM14 87h1v1h-1zM31 87h1v1h-1zM59 87h1v1h-1zM74 87h1v1h-1zM6 88h1v1h-1zM18 88h1v1h-1zM42 88h1v1h-1zM54 88h1v1h-1zM7 89h1v1h-1zM17 89h1v1h-1zM27 89h1v1h-1zM37 89h1v1h-1zM41 89h1v1h-1zM84 89h1v1h-1zM17 90h1v1h-1zM24 90h1v1h-1zM37 90h1v1h-1zM13 91h1v1h-1zM44 91h1v1h-1zM54 91h1v1h-1zM51 92h2v1h-2zM59 92h1v1h-1zM17 93h1v1h-1zM17 94h1v1h-1zM33 94h1v1h-1zM68 94h1v1h-1zM17 95h1v1h-1zM31 95h1v1h-1zM15 96h1v1h-1zM23 96h1v1h-1zM32 96h1v1h-1zM42 96h1v1h-1zM30 98h1v1h-1zM56 98h1v1h-1zM80 98h1v1h-1zM54 107h1v1h-1zM86 111h1v1h-1z"/>
<path fill="#2f6c8e" d="M36 64h2v1h-2zM28 65h1v1h-1zM46 65h1v1h-1zM42 67h1v1h-1zM48 67h1v1h-1zM8 68h1v1h-1zM30 68h1v1h-1zM40 69h1v1h-1zM47 69h1v1h-1zM56 69h1v1h-1zM39 70h1v1h-1zM48 70h1v1h-1zM41 71h1v1h-1zM35 72h1v1h-1zM38 72h1v1h-1zM44 73h1v1h-1zM45 74h1v1h-1zM51 74h1v1h-1zM55 74h1v1h-1zM59 74h1v1h-1zM40 75h1v1h-1zM43 75h1v1h-1zM53 75h1v1h-1zM57 75h1v1h-1zM61 75h1v1h-1zM71 75h1v1h-1zM39 76h1v1h-1zM46 76h2v1h-2zM50 76h1v1h-1zM71 76h1v1h-1zM7 77h1v1h-1zM39 77h1v1h-1zM59 77h1v1h-1zM61 77h1v1h-1zM5 78h1v1h-1zM13 78h1v1h-1zM20 78h1v1h-1zM41 78h1v1h-1zM46 78h1v1h-1zM49 78h1v1h-1zM52 78h1v1h-1zM0 79h1v1h-1zM3 79h1v1h-1zM12 79h1v1h-1zM6 80h1v1h-1zM21 80h1v1h-1zM28 80h1v1h-1zM46 80h1v1h-1zM50 80h1v1h-1zM72 80h1v1h-1zM3 81h1v1h-1zM21 81h1v1h-1zM57 81h1v1h-1zM62 81h3v1h-3zM37 82h1v1h-1zM52 82h1v1h-1zM54 82h2v1h-2zM62 82h1v1h-1zM31 83h1v1h-1zM35 84h2v1h-2zM38 84h1v1h-1zM40 84h1v1h-1zM37 85h1v1h-1zM48 85h1v1h-1zM52 85h1v1h-1zM58 85h1v1h-1zM16 86h2v1h-2zM23 86h1v1h-1zM28 86h1v1h-1zM39 86h1v1h-1zM30 87h1v1h-1zM38 87h1v1h-1zM45 87h1v1h-1zM55 87h1v1h-1zM12 88h1v1h-1zM20 88h1v1h-1zM27 88h1v1h-1zM81 88h1v1h-1zM10 89h1v1h-1zM25 89h1v1h-1zM60 89h1v1h-1zM11 90h1v1h-1zM32 90h1v1h-1zM41 90h1v1h-1zM14 92h2v1h-2zM35 92h1v1h-1zM39 92h1v1h-1zM86 92h1v1h-1zM31 93h1v1h-1zM37 93h1v1h-1zM40 93h1v1h-1zM69 93h1v1h-1zM18 94h1v1h-1zM39 94h1v1h-1zM42 94h1v1h-1zM56 94h1v1h-1zM19 95h1v1h-1zM30 95h1v1h-1zM72 95h1v1h-1zM35 96h1v1h-1zM37 96h1v1h-1zM51 96h1v1h-1zM37 97h1v1h-1zM52 97h1v1h-1zM68 97h1v1h-1zM22 98h1v1h-1zM29 98h1v1h-1zM21 99h1v1h-1zM20 100h1v1h-1zM50 100h1v1h-1zM60 102h1v1h-1zM64 104h1v1h-1zM42 106h1v1h-1z"/>
<path fill="#2d708e" d="M38 63h1v1h-1zM8 67h1v1h-1zM44 69h1v1h-1zM38 70h1v1h-1zM49 70h1v1h-1zM49 71h1v1h-1zM56 72h1v1h-1zM41 73h1v1h-1zM47 73h2v1h-2zM65 73h1v1h-1zM10 74h1v1h-1zM38 75h1v1h-1zM49 75h1v1h-1zM60 75h1v1h-1zM68 75h1v1h-1zM7 76h1v1h-1zM25 76h1v1h-1zM56 76h1v1h-1zM14 77h2v1h-2zM42 77h1v1h-1zM56 77h1v1h-1zM60 77h1v1h-1zM77 77h1v1h-1zM55 78h1v1h-1zM59 78h1v1h-1zM70 78h1v1h-1zM18 79h1v1h-1zM31 80h1v1h-1zM44 80h1v1h-1zM0 81h1v1h-1zM29 81h1v1h-1zM41 81h1v1h-1zM50 81h1v1h-1zM52 81h1v1h-1zM26 82h1v1h-1zM48 82h1v1h-1zM73 82h1v1h-1zM23 83h1v1h-1zM36 83h1v1h-1zM40 83h1v1h-1zM43 83h1v1h-1zM51 83h1v1h-1zM56 83h1v1h-1zM84 83h1v1h-1zM5 84h1v1h-1zM17 84h1v1h-1zM31 84h1v1h-1zM39 84h1v1h-1zM44 84h1v1h-1zM50 84h1v1h-1zM56 84h1v1h-1zM69 84h1v1h-1zM11 85h2v1h-2zM42 85h1v1h-1zM49 85h3v1h-3zM61 85h1v1h-1zM75 85h1v1h-1zM10 86h1v1h-1zM15 86h1v1h-1zM22 86h1v1h-1zM33 86h1v1h-1zM38 86h1v1h-1zM70 86h1v1h-1zM9 87h1v1h-1zM24 87h1v1h-1zM33 87h1v1h-1zM35 87h1v1h-1zM42 87h1v1h-1zM82 87h1v1h-1zM11 88h1v1h-1zM14 88h1v1h-1zM73 88h1v1h-1zM83 88h1v1h-1zM8 89h1v1h-1zM31 89h1v1h-1zM33 89h1v1h-1zM36 89h1v1h-1zM57 89h1v1h-1zM43 90h1v1h-1zM56 90h1v1h-1zM60 90h1v1h-1zM34 91h1v1h-1zM60 91h1v1h-1zM65 91h1v1h-1zM24 92h1v1h-1zM37 92h1v1h-1zM40 92h1v1h-1zM60 92h1v1h-1zM63 92h1v1h-1zM66 92h1v1h-1zM18 93h1v1h-1zM44 93h1v1h-1zM31 94h1v1h-1zM38 94h1v1h-1zM55 95h1v1h-1zM57 95h1v1h-1zM68 95h1v1h-1zM71 95h1v1h-1zM84 95h1v1h-1zM19 96h1v1h-1zM22 97h2v1h-2zM49 97h1v1h-1zM59 97h1v1h-1zM67 97h1v1h-1zM74 97h1v1h-1zM25 98h1v1h-1zM47 98h1v1h-1zM54 98h1v1h-1zM60 99h1v1h-1zM22 100h1v1h-1zM27 101h1v1h-1zM54 102h1v1h-1zM62 102h1v1h-1zM45 103h1v1h-1zM24 104h1v1h-1zM28 104h1v1h-1zM72 104h1v1h-1zM46 105h1v1h-1zM51 105h1v1h-1zM60 105h1v1h-1zM78 105h1v1h-1zM72 107h1v1h-1zM68 108h1v1h-1zM60 112h1v1h-1z"/>
<path fill="#2c738e" d="M30 62h1v1h-1zM38 65h1v1h-1zM26 67h1v1h-1zM55 68h1v1h-1zM34 69h1v1h-1zM41 69h1v1h-1zM33 70h1v1h-1zM53 70h1v1h-1zM5 71h1v1h-1zM59 71h1v1h-1zM13 72h1v1h-1zM49 72h1v1h-1zM61 72h1v1h-1zM71 72h1v1h-1zM9 73h1v1h-1zM52 73h1v1h-1zM55 73h2v1h-2zM6 74h1v1h-1zM40 74h1v1h-1zM58 74h1v1h-1zM60 74h1v1h-1zM26 75h1v1h-1zM56 75h1v1h-1zM62 75h1v1h-1zM66 75h1v1h-1zM5 76h2v1h-2zM52 76h2v1h-2zM62 76h1v1h-1zM50 77h1v1h-1zM52 77h1v1h-1zM57 77h1v1h-1zM71 77h1v1h-1zM4 78h1v1h-1zM56 78h1v1h-1zM67 78h1v1h-1zM69 78h1v1h-1zM33 79h1v1h-1zM42 79h1v1h-1zM52 79h2v1h-2zM58 79h1v1h-1zM74 79h1v1h-1zM77 79h1v1h-1zM15 80h1v1h-1zM23 80h1v1h-1zM32 80h1v1h-1zM34 80h1v1h-1zM55 80h1v1h-1zM67 80h1v1h-1zM32 81h1v1h-1zM37 81h1v1h-1zM54 81h1v1h-1zM56 81h1v1h-1zM81 81h1v1h-1zM21 82h1v1h-1zM64 82h1v1h-1zM69 82h1v1h-1zM12 83h1v1h-1zM44 83h1v1h-1zM48 83h1v1h-1zM52 83h1v1h-1zM27 84h1v1h-1zM29 84h1v1h-1zM42 84h1v1h-1zM47 84h1v1h-1zM68 84h1v1h-1zM75 84h1v1h-1zM8 85h1v1h-1zM13 85h1v1h-1zM25 85h1v1h-1zM33 85h1v1h-1zM67 85h1v1h-1zM9 86h1v1h-1zM19 86h1v1h-1zM40 86h1v1h-1zM42 86h1v1h-1zM66 86h1v1h-1zM22 87h1v1h-1zM78 87h1v1h-1zM24 88h1v1h-1zM43 88h1v1h-1zM47 88h1v1h-1zM54 89h1v1h-1zM65 89h2v1h-2zM68 89h1v1h-1zM85 89h1v1h-1zM12 90h1v1h-1zM23 90h1v1h-1zM35 90h1v1h-1zM52 90h1v1h-1zM57 90h1v1h-1zM69 90h1v1h-1zM22 91h1v1h-1zM27 91h1v1h-1zM39 91h1v1h-1zM48 91h1v1h-1zM62 91h1v1h-1zM64 91h1v1h-1zM66 91h2v1h-2zM19 92h1v1h-1zM21 92h1v1h-1zM30 92h1v1h-1zM38 92h1v1h-1zM44 92h1v1h-1zM46 92h1v1h-1zM61 92h1v1h-1zM64 92h1v1h-1zM76 92h1v1h-1zM25 93h2v1h-2zM42 93h2v1h-2zM89 93h1v1h-1zM60 94h1v1h-1zM28 95h1v1h-1zM44 95h1v1h-1zM53 95h1v1h-1zM86 95h1v1h-1zM31 96h1v1h-1zM29 97h1v1h-1zM33 97h1v1h-1zM44 97h1v1h-1zM46 97h1v1h-1zM51 97h1v1h-1zM23 98h1v1h-1zM70 98h2v1h-2zM23 99h1v1h-1zM28 99h1v1h-1zM81 99h1v1h-1zM28 100h1v1h-1zM45 101h1v1h-1zM77 101h1v1h-1zM81 101h1v1h-1zM37 102h2v1h-2zM89 102h1v1h-1zM24 103h1v1h-1zM25 104h1v1h-1zM47 104h1v1h-1zM44 105h2v1h-2zM53 105h1v1h-1zM76 105h1v1h-1zM53 106h1v1h-1zM52 107h1v1h-1zM60 108h1v1h-1zM52 109h1v1h-1zM57 109h2v1h-2zM56 110h1v1h-1zM85 110h1v1h-1zM61 111h1v1h-1z"/>
<path fill="#2a778e" d="M7 67h1v1h-1zM54 67h1v1h-1zM2 71h1v1h-1zM51 71h1v1h-1zM63 71h1v1h-1zM50 72h1v1h-1zM57 72h1v1h-1zM60 72h1v1h-1zM69 72h1v1h-1zM31 73h1v1h-1zM27 74h1v1h-1zM63 74h1v1h-1zM69 75h1v1h-1zM65 76h1v1h-1zM41 77h1v1h-1zM1 78h1v1h-1zM21 78h1v1h-1zM37 78h1v1h-1zM57 78h1v1h-1zM5 79h1v1h-1zM28 79h1v1h-1zM43 79h1v1h-1zM56 79h1v1h-1zM40 80h1v1h-1zM69 80h1v1h-1zM19 81h1v1h-1zM44 81h1v1h-1zM67 81h1v1h-1zM74 81h1v1h-1zM29 82h1v1h-1zM31 82h1v1h-1zM39 82h1v1h-1zM45 82h1v1h-1zM61 82h1v1h-1zM72 82h1v1h-1zM77 82h1v1h-1zM20 83h1v1h-1zM64 83h1v1h-1zM68 83h1v1h-1zM48 84h2v1h-2zM51 84h1v1h-1zM54 84h1v1h-1zM66 84h1v1h-1zM79 84h1v1h-1zM22 85h1v1h-1zM57 85h1v1h-1zM24 86h1v1h-1zM43 86h1v1h-1zM46 86h1v1h-1zM54 86h1v1h-1zM65 86h1v1h-1zM5 87h2v1h-2zM34 87h1v1h-1zM50 87h1v1h-1zM62 87h1v1h-1zM28 88h1v1h-1zM30 88h1v1h-1zM40 88h1v1h-1zM44 88h1v1h-1zM64 88h1v1h-1zM66 88h1v1h-1zM69 88h1v1h-1zM80 88h1v1h-1zM29 89h1v1h-1zM35 89h1v1h-1zM50 89h1v1h-1zM53 89h1v1h-1zM75 89h1v1h-1zM86 89h1v1h-1zM33 90h1v1h-1zM36 90h1v1h-1zM45 90h2v1h-2zM53 90h1v1h-1zM58 90h1v1h-1zM70 90h1v1h-1zM35 91h1v1h-1zM41 91h3v1h-3zM79 91h2v1h-2zM32 92h1v1h-1zM42 92h1v1h-1zM45 92h1v1h-1zM67 92h1v1h-1zM23 93h1v1h-1zM30 93h1v1h-1zM38 93h1v1h-1zM54 93h1v1h-1zM57 93h1v1h-1zM62 93h2v1h-2zM65 93h1v1h-1zM87 93h1v1h-1zM52 94h1v1h-1zM70 94h1v1h-1zM76 95h1v1h-1zM83 95h1v1h-1zM20 96h1v1h-1zM50 96h1v1h-1zM58 96h1v1h-1zM64 96h1v1h-1zM68 96h2v1h-2zM21 97h1v1h-1zM66 97h1v1h-1zM20 99h1v1h-1zM27 99h1v1h-1zM31 99h1v1h-1zM50 99h1v1h-1zM52 99h2v1h-2zM52 100h1v1h-1zM69 100h1v1h-1zM79 100h1v1h-1zM20 101h1v1h-1zM26 101h1v1h-1zM50 101h1v1h-1zM56 101h1v1h-1zM39 102h1v1h-1zM44 102h1v1h-1zM47 102h1v1h-1zM67 102h1v1h-1zM74 102h1v1h-1zM81 102h1v1h-1zM27 103h1v1h-1zM48 103h1v1h-1zM56 104h1v1h-1zM73 104h1v1h-1zM39 105h1v1h-1zM57 105h1v1h-1zM54 106h1v1h-1zM72 106h1v1h-1zM53 107h1v1h-1zM59 107h1v1h-1zM61 108h1v1h-1zM51 109h1v1h-1zM65 109h1v1h-1zM47 110h1v1h-1zM66 111h1v1h-1zM68 111h1v1h-1zM78 111h1v1h-1zM64 115h1v1h-1zM76 116h1v1h-1z"/>
<path fill="#297b8e" d="M41 70h1v1h-1zM59 70h1v1h-1zM36 71h1v1h-1zM51 72h1v1h-1zM53 72h1v1h-1zM62 72h1v1h-1zM8 73h1v1h-1zM68 73h1v1h-1zM43 74h1v1h-1zM56 74h2v1h-2zM37 75h1v1h-1zM59 75h1v1h-1zM67 75h1v1h-1zM58 76h1v1h-1zM60 76h1v1h-1zM66 76h1v1h-1zM46 77h1v1h-1zM54 77h1v1h-1zM75 77h1v1h-1zM3 78h1v1h-1zM62 78h1v1h-1zM71 78h1v1h-1zM76 78h1v1h-1zM16 79h1v1h-1zM64 79h1v1h-1zM4 80h1v1h-1zM37 80h1v1h-1zM59 80h1v1h-1zM79 80h1v1h-1zM17 81h1v1h-1zM39 81h1v1h-1zM46 81h1v1h-1zM53 81h1v1h-1zM55 81h1v1h-1zM68 81h1v1h-1zM70 81h2v1h-2zM43 82h1v1h-1zM57 82h1v1h-1zM63 82h1v1h-1zM66 82h1v1h-1zM78 82h1v1h-1zM47 83h1v1h-1zM54 83h1v1h-1zM61 84h1v1h-1zM30 85h1v1h-1zM32 85h1v1h-1zM45 85h1v1h-1zM62 85h1v1h-1zM30 86h1v1h-1zM32 86h1v1h-1zM37 86h1v1h-1zM44 87h1v1h-1zM61 87h1v1h-1zM19 88h1v1h-1zM37 88h1v1h-1zM61 88h1v1h-1zM9 89h1v1h-1zM13 89h1v1h-1zM30 89h1v1h-1zM32 89h1v1h-1zM42 89h1v1h-1zM44 89h1v1h-1zM63 89h1v1h-1zM15 90h1v1h-1zM21 90h1v1h-1zM40 90h1v1h-1zM44 90h1v1h-1zM50 90h1v1h-1zM68 90h1v1h-1zM75 90h1v1h-1zM82 90h1v1h-1zM19 91h1v1h-1zM40 91h1v1h-1zM68 91h1v1h-1zM73 91h1v1h-1zM82 91h1v1h-1zM34 92h1v1h-1zM36 92h1v1h-1zM49 92h1v1h-1zM72 92h1v1h-1zM12 93h2v1h-2zM33 93h1v1h-1zM35 93h1v1h-1zM45 93h1v1h-1zM52 93h1v1h-1zM66 93h1v1h-1zM71 93h1v1h-1zM79 93h1v1h-1zM81 93h1v1h-1zM83 93h1v1h-1zM47 94h1v1h-1zM63 94h2v1h-2zM84 94h1v1h-1zM34 95h1v1h-1zM37 95h1v1h-1zM60 95h1v1h-1zM62 95h1v1h-1zM69 95h1v1h-1zM39 96h1v1h-1zM41 96h1v1h-1zM62 96h1v1h-1zM92 96h1v1h-1zM42 97h1v1h-1zM50 97h1v1h-1zM53 97h1v1h-1zM75 97h4v1h-4zM32 98h1v1h-1zM42 98h1v1h-1zM48 98h1v1h-1zM62 98h1v1h-1zM82 98h1v1h-1zM86 98h1v1h-1zM35 99h1v1h-1zM38 99h1v1h-1zM46 99h1v1h-1zM68 99h1v1h-1zM79 99h1v1h-1zM21 100h1v1h-1zM24 100h1v1h-1zM45 100h1v1h-1zM48 100h1v1h-1zM56 100h1v1h-1zM65 100h1v1h-1zM38 101h1v1h-1zM52 101h1v1h-1zM55 101h1v1h-1zM66 101h1v1h-1zM75 101h1v1h-1zM80 101h1v1h-1zM59 102h1v1h-1zM64 102h1v1h-1zM51 103h1v1h-1zM53 103h1v1h-1zM61 103h1v1h-1zM62 104h1v1h-1zM66 104h1v1h-1zM68 104h1v1h-1zM76 104h1v1h-1zM47 106h1v1h-1zM66 106h2v1h-2zM61 107h1v1h-1zM91 107h1v1h-1zM62 108h1v1h-1zM56 109h1v1h-1zM59 109h1v1h-1zM50 111h2v1h-2zM62 113h1v1h-1zM77 118h1v1h-1z"/>
<path fill="#277f8e" d="M52 67h1v1h-1zM43 71h1v1h-1zM64 71h1v1h-1zM46 72h1v1h-1zM48 72h1v1h-1zM45 73h1v1h-1zM59 73h1v1h-1zM67 73h1v1h-1zM69 73h1v1h-1zM67 74h1v1h-1zM39 75h1v1h-1zM51 75h1v1h-1zM54 75h2v1h-2zM64 75h1v1h-1zM72 75h2v1h-2zM35 76h1v1h-1zM48 77h1v1h-1zM66 78h1v1h-1zM75 78h1v1h-1zM47 79h1v1h-1zM62 79h1v1h-1zM71 79h1v1h-1zM45 80h1v1h-1zM56 80h1v1h-1zM62 80h1v1h-1zM71 80h1v1h-1zM65 81h2v1h-2zM24 82h1v1h-1zM51 82h1v1h-1zM75 82h1v1h-1zM4 83h1v1h-1zM26 83h1v1h-1zM35 83h1v1h-1zM69 83h1v1h-1zM71 83h2v1h-2zM74 83h1v1h-1zM83 83h1v1h-1zM10 84h1v1h-1zM25 84h1v1h-1zM77 84h1v1h-1zM65 85h1v1h-1zM68 85h1v1h-1zM71 85h1v1h-1zM83 85h2v1h-2zM35 86h1v1h-1zM48 86h2v1h-2zM51 86h1v1h-1zM53 86h1v1h-1zM56 86h1v1h-1zM58 86h1v1h-1zM51 87h1v1h-1zM54 87h1v1h-1zM81 87h1v1h-1zM29 88h1v1h-1zM56 88h2v1h-2zM67 88h2v1h-2zM28 89h1v1h-1zM43 89h1v1h-1zM55 89h2v1h-2zM59 89h1v1h-1zM67 89h1v1h-1zM8 90h1v1h-1zM39 90h1v1h-1zM49 90h1v1h-1zM102 90h1v1h-1zM36 91h1v1h-1zM45 91h1v1h-1zM52 91h1v1h-1zM63 91h1v1h-1zM76 91h1v1h-1zM11 92h1v1h-1zM17 92h1v1h-1zM29 92h1v1h-1zM58 92h1v1h-1zM75 92h1v1h-1zM78 92h2v1h-2zM16 93h1v1h-1zM41 93h1v1h-1zM58 93h1v1h-1zM73 93h1v1h-1zM78 93h1v1h-1zM15 94h1v1h-1zM23 94h1v1h-1zM25 94h1v1h-1zM46 94h1v1h-1zM54 94h1v1h-1zM32 95h1v1h-1zM43 95h1v1h-1zM58 95h1v1h-1zM64 95h1v1h-1zM75 95h1v1h-1zM33 96h1v1h-1zM38 96h1v1h-1zM43 96h1v1h-1zM57 96h1v1h-1zM60 96h1v1h-1zM78 96h1v1h-1zM82 96h1v1h-1zM73 97h1v1h-1zM28 98h1v1h-1zM35 98h1v1h-1zM39 98h1v1h-1zM41 98h1v1h-1zM49 98h1v1h-1zM68 98h1v1h-1zM73 98h1v1h-1zM39 99h1v1h-1zM54 99h1v1h-1zM56 99h1v1h-1zM75 99h1v1h-1zM77 99h1v1h-1zM33 100h1v1h-1zM57 100h1v1h-1zM62 100h1v1h-1zM68 100h1v1h-1zM33 101h1v1h-1zM40 101h1v1h-1zM44 101h1v1h-1zM61 101h1v1h-1zM76 101h1v1h-1zM28 102h1v1h-1zM40 102h1v1h-1zM49 102h1v1h-1zM51 102h2v1h-2zM58 102h1v1h-1zM71 102h1v1h-1zM58 103h1v1h-1zM64 103h1v1h-1zM27 104h1v1h-1zM38 104h2v1h-2zM44 104h1v1h-1zM61 104h1v1h-1zM40 105h1v1h-1zM61 105h1v1h-1zM48 106h1v1h-1zM74 106h1v1h-1zM57 107h1v1h-1zM58 108h2v1h-2zM49 109h1v1h-1zM61 109h1v1h-1zM71 109h1v1h-1zM62 110h1v1h-1zM64 110h1v1h-1zM71 110h1v1h-1zM81 110h1v1h-1zM59 112h1v1h-1zM72 115h1v1h-1zM59 116h1v1h-1zM58 117h1v1h-1zM64 118h1v1h-1z"/>
<path fill="#26828e" d="M28 64h1v1h-1zM56 68h2v1h-2zM65 72h1v1h-1zM33 73h1v1h-1zM66 74h1v1h-1zM63 75h1v1h-1zM59 76h1v1h-1zM61 76h1v1h-1zM63 76h2v1h-2zM38 77h1v1h-1zM53 77h1v1h-1zM63 77h1v1h-1zM68 77h1v1h-1zM74 77h1v1h-1zM77 78h1v1h-1zM38 79h1v1h-1zM55 79h1v1h-1zM67 79h2v1h-2zM51 80h1v1h-1zM66 80h1v1h-1zM2 81h1v1h-1zM60 81h1v1h-1zM75 81h1v1h-1zM56 82h1v1h-1zM65 82h1v1h-1zM70 82h1v1h-1zM79 82h1v1h-1zM9 83h1v1h-1zM30 83h1v1h-1zM46 83h1v1h-1zM45 84h1v1h-1zM52 84h1v1h-1zM67 84h1v1h-1zM73 84h1v1h-1zM40 85h1v1h-1zM43 85h1v1h-1zM56 85h1v1h-1zM60 85h1v1h-1zM64 85h1v1h-1zM66 85h1v1h-1zM69 85h1v1h-1zM55 86h1v1h-1zM62 86h1v1h-1zM78 86h1v1h-1zM27 87h1v1h-1zM53 87h1v1h-1zM67 87h1v1h-1zM70 87h1v1h-1zM13 88h1v1h-1zM21 88h1v1h-1zM60 88h1v1h-1zM71 88h2v1h-2zM82 88h1v1h-1zM86 88h2v1h-2zM19 89h1v1h-1zM58 89h1v1h-1zM62 89h1v1h-1zM64 89h1v1h-1zM78 89h1v1h-1zM42 90h1v1h-1zM51 90h1v1h-1zM54 90h1v1h-1zM61 90h1v1h-1zM77 90h1v1h-1zM33 91h1v1h-1zM57 91h2v1h-2zM90 91h1v1h-1zM26 92h1v1h-1zM43 92h1v1h-1zM87 92h1v1h-1zM90 92h1v1h-1zM92 92h1v1h-1zM32 93h1v1h-1zM48 93h1v1h-1zM51 93h1v1h-1zM55 93h1v1h-1zM76 93h1v1h-1zM99 93h1v1h-1zM50 94h2v1h-2zM67 94h1v1h-1zM77 94h1v1h-1zM80 94h1v1h-1zM48 95h2v1h-2zM67 95h1v1h-1zM77 95h2v1h-2zM22 96h1v1h-1zM29 96h1v1h-1zM36 96h1v1h-1zM40 96h1v1h-1zM70 96h1v1h-1zM84 96h1v1h-1zM32 97h1v1h-1zM36 97h1v1h-1zM55 97h1v1h-1zM60 97h1v1h-1zM80 97h1v1h-1zM33 98h1v1h-1zM75 98h1v1h-1zM77 98h1v1h-1zM81 98h1v1h-1zM34 99h1v1h-1zM36 99h1v1h-1zM40 99h1v1h-1zM45 99h1v1h-1zM65 99h1v1h-1zM72 99h1v1h-1zM40 100h1v1h-1zM42 100h1v1h-1zM44 100h1v1h-1zM53 100h1v1h-1zM60 100h1v1h-1zM67 100h1v1h-1zM34 101h1v1h-1zM63 101h1v1h-1zM68 101h1v1h-1zM71 101h1v1h-1zM26 102h2v1h-2zM56 102h1v1h-1zM37 103h1v1h-1zM40 103h1v1h-1zM54 103h1v1h-1zM56 103h1v1h-1zM67 103h1v1h-1zM26 104h1v1h-1zM42 104h1v1h-1zM52 104h1v1h-1zM59 104h1v1h-1zM48 105h1v1h-1zM64 105h1v1h-1zM68 105h1v1h-1zM72 105h1v1h-1zM26 106h1v1h-1zM40 106h1v1h-1zM46 106h1v1h-1zM50 106h1v1h-1zM60 106h1v1h-1zM69 106h2v1h-2zM77 106h1v1h-1zM75 107h1v1h-1zM54 108h1v1h-1zM69 108h1v1h-1zM63 109h1v1h-1zM68 109h1v1h-1zM49 110h1v1h-1zM54 110h1v1h-1zM59 110h1v1h-1zM61 110h1v1h-1zM62 112h1v1h-1zM65 112h1v1h-1zM52 114h1v1h-1zM64 114h1v1h-1zM56 116h1v1h-1z"/>
<path fill="#24868e" d="M60 71h1v1h-1zM64 74h1v1h-1zM69 74h1v1h-1zM52 75h1v1h-1zM58 75h1v1h-1zM0 77h1v1h-1zM67 77h1v1h-1zM61 79h1v1h-1zM75 79h1v1h-1zM73 80h1v1h-1zM75 80h1v1h-1zM72 81h1v1h-1zM66 83h1v1h-1zM70 83h1v1h-1zM81 83h2v1h-2zM58 84h2v1h-2zM71 84h1v1h-1zM80 85h1v1h-1zM59 86h2v1h-2zM72 86h1v1h-1zM84 86h1v1h-1zM39 87h1v1h-1zM47 87h1v1h-1zM49 87h1v1h-1zM60 87h1v1h-1zM65 87h1v1h-1zM68 87h1v1h-1zM71 87h2v1h-2zM45 88h2v1h-2zM48 88h1v1h-1zM50 88h1v1h-1zM63 88h1v1h-1zM78 88h1v1h-1zM39 89h1v1h-1zM46 89h1v1h-1zM70 89h1v1h-1zM80 89h2v1h-2zM63 90h1v1h-1zM65 90h1v1h-1zM74 90h1v1h-1zM18 91h1v1h-1zM50 91h2v1h-2zM59 91h1v1h-1zM70 91h1v1h-1zM78 91h1v1h-1zM81 91h1v1h-1zM85 91h1v1h-1zM88 91h1v1h-1zM41 92h1v1h-1zM53 92h1v1h-1zM73 92h2v1h-2zM84 92h1v1h-1zM29 93h1v1h-1zM36 93h1v1h-1zM49 93h1v1h-1zM64 93h1v1h-1zM82 93h1v1h-1zM37 94h1v1h-1zM45 94h1v1h-1zM55 94h1v1h-1zM61 94h1v1h-1zM74 94h1v1h-1zM79 94h1v1h-1zM83 94h1v1h-1zM89 94h1v1h-1zM56 95h1v1h-1zM81 95h1v1h-1zM52 96h3v1h-3zM56 96h1v1h-1zM80 96h1v1h-1zM96 96h1v1h-1zM18 97h1v1h-1zM26 97h1v1h-1zM38 97h1v1h-1zM40 97h2v1h-2zM43 97h1v1h-1zM79 97h1v1h-1zM81 97h1v1h-1zM27 98h1v1h-1zM50 98h1v1h-1zM65 98h1v1h-1zM67 98h1v1h-1zM74 98h1v1h-1zM37 99h1v1h-1zM47 99h1v1h-1zM58 99h1v1h-1zM61 99h1v1h-1zM80 100h1v1h-1zM39 101h1v1h-1zM42 101h2v1h-2zM46 101h1v1h-1zM53 101h1v1h-1zM69 101h1v1h-1zM72 101h1v1h-1zM25 102h1v1h-1zM33 102h1v1h-1zM73 102h1v1h-1zM23 103h1v1h-1zM26 103h1v1h-1zM78 103h1v1h-1zM43 104h1v1h-1zM67 104h1v1h-1zM74 104h1v1h-1zM50 105h1v1h-1zM71 105h1v1h-1zM84 105h1v1h-1zM59 106h1v1h-1zM61 106h1v1h-1zM45 107h1v1h-1zM56 107h1v1h-1zM64 107h1v1h-1zM66 107h1v1h-1zM83 107h1v1h-1zM60 110h1v1h-1zM67 110h1v1h-1zM52 111h1v1h-1zM53 112h1v1h-1zM51 113h1v1h-1zM58 113h1v1h-1zM80 114h1v1h-1zM91 114h1v1h-1zM90 116h1v1h-1zM54 117h1v1h-1zM61 118h1v1h-1zM72 118h1v1h-1zM75 118h1v1h-1z"/>
<path fill="#238a8d" d="M61 73h1v1h-1zM69 76h1v1h-1zM60 78h1v1h-1zM64 78h2v1h-2zM76 79h1v1h-1zM65 80h1v1h-1zM68 80h1v1h-1zM61 81h1v1h-1zM60 82h1v1h-1zM5 83h1v1h-1zM16 84h1v1h-1zM60 84h1v1h-1zM65 84h1v1h-1zM72 84h1v1h-1zM87 84h1v1h-1zM63 85h1v1h-1zM77 85h2v1h-2zM68 86h1v1h-1zM74 86h1v1h-1zM86 86h1v1h-1zM88 86h1v1h-1zM43 87h1v1h-1zM76 87h1v1h-1zM79 87h1v1h-1zM84 87h1v1h-1zM62 88h1v1h-1zM65 88h1v1h-1zM84 88h1v1h-1zM88 88h1v1h-1zM49 89h1v1h-1zM61 89h1v1h-1zM26 90h1v1h-1zM48 90h1v1h-1zM62 90h1v1h-1zM73 90h1v1h-1zM78 90h1v1h-1zM80 90h1v1h-1zM25 91h2v1h-2zM47 91h1v1h-1zM72 91h1v1h-1zM83 91h1v1h-1zM28 92h1v1h-1zM50 92h1v1h-1zM80 92h1v1h-1zM82 92h1v1h-1zM34 93h1v1h-1zM47 93h1v1h-1zM59 93h2v1h-2zM43 94h1v1h-1zM58 94h1v1h-1zM65 94h2v1h-2zM73 94h1v1h-1zM75 94h1v1h-1zM87 94h1v1h-1zM73 95h1v1h-1zM85 95h1v1h-1zM55 96h1v1h-1zM59 96h1v1h-1zM73 96h1v1h-1zM82 97h1v1h-1zM86 97h1v1h-1zM31 98h1v1h-1zM37 98h1v1h-1zM52 98h2v1h-2zM61 98h1v1h-1zM29 99h1v1h-1zM44 99h1v1h-1zM67 99h1v1h-1zM69 99h1v1h-1zM25 100h1v1h-1zM36 100h1v1h-1zM23 101h1v1h-1zM67 101h1v1h-1zM70 101h1v1h-1zM41 103h1v1h-1zM43 103h1v1h-1zM47 103h1v1h-1zM73 103h1v1h-1zM46 104h1v1h-1zM49 104h1v1h-1zM69 104h1v1h-1zM71 104h1v1h-1zM49 105h1v1h-1zM59 105h1v1h-1zM67 105h1v1h-1zM57 106h1v1h-1zM64 106h2v1h-2zM42 107h1v1h-1zM67 107h1v1h-1zM74 107h1v1h-1zM46 108h3v1h-3zM50 109h1v1h-1zM55 109h1v1h-1zM67 109h1v1h-1zM66 110h1v1h-1zM55 111h1v1h-1zM69 111h1v1h-1zM86 112h1v1h-1zM61 115h2v1h-2z"/>
<path fill="#218e8d" d="M67 71h1v1h-1zM65 77h2v1h-2zM59 79h1v1h-1zM73 79h1v1h-1zM57 80h1v1h-1zM42 82h1v1h-1zM59 82h1v1h-1zM39 83h1v1h-1zM78 83h1v1h-1zM54 85h1v1h-1zM81 85h1v1h-1zM85 85h2v1h-2zM76 86h1v1h-1zM37 87h1v1h-1zM46 87h1v1h-1zM73 87h1v1h-1zM83 87h1v1h-1zM85 88h1v1h-1zM82 89h1v1h-1zM88 89h1v1h-1zM64 90h1v1h-1zM72 90h1v1h-1zM81 90h1v1h-1zM89 90h1v1h-1zM61 91h1v1h-1zM47 92h1v1h-1zM56 92h1v1h-1zM62 92h1v1h-1zM88 92h1v1h-1zM61 93h1v1h-1zM75 93h1v1h-1zM77 93h1v1h-1zM13 94h1v1h-1zM40 94h1v1h-1zM69 94h1v1h-1zM82 94h1v1h-1zM59 95h1v1h-1zM61 95h1v1h-1zM66 95h1v1h-1zM48 96h1v1h-1zM79 96h1v1h-1zM48 97h1v1h-1zM54 97h1v1h-1zM61 97h1v1h-1zM63 97h1v1h-1zM46 98h1v1h-1zM58 98h1v1h-1zM79 98h1v1h-1zM32 99h1v1h-1zM42 99h1v1h-1zM62 99h1v1h-1zM73 99h1v1h-1zM82 99h1v1h-1zM43 100h1v1h-1zM49 100h1v1h-1zM51 100h1v1h-1zM66 100h1v1h-1zM74 100h1v1h-1zM77 100h1v1h-1zM85 100h1v1h-1zM37 101h1v1h-1zM58 101h1v1h-1zM53 102h1v1h-1zM68 102h1v1h-1zM38 103h1v1h-1zM55 103h1v1h-1zM51 104h1v1h-1zM58 104h1v1h-1zM24 105h1v1h-1zM43 105h1v1h-1zM56 105h1v1h-1zM62 105h1v1h-1zM69 105h1v1h-1zM49 106h1v1h-1zM52 106h1v1h-1zM49 107h1v1h-1zM63 107h1v1h-1zM73 107h1v1h-1zM92 107h1v1h-1zM56 108h1v1h-1zM64 108h1v1h-1zM73 108h1v1h-1zM62 109h1v1h-1zM72 109h1v1h-1zM52 110h1v1h-1zM63 110h1v1h-1zM90 111h1v1h-1zM55 113h1v1h-1zM73 116h1v1h-1zM75 116h1v1h-1zM75 119h1v1h-1zM84 119h1v1h-1z"/>
<path fill="#20928c" d="M40 70h1v1h-1zM68 70h1v1h-1zM58 77h1v1h-1zM82 79h2v1h-2zM61 80h1v1h-1zM63 80h1v1h-1zM60 83h1v1h-1zM67 83h1v1h-1zM80 83h1v1h-1zM33 84h1v1h-1zM38 85h1v1h-1zM72 85h2v1h-2zM12 86h1v1h-1zM61 86h1v1h-1zM63 86h1v1h-1zM67 86h1v1h-1zM20 87h1v1h-1zM57 87h1v1h-1zM69 87h1v1h-1zM87 87h1v1h-1zM41 88h1v1h-1zM59 88h1v1h-1zM87 89h1v1h-1zM75 91h1v1h-1zM77 92h1v1h-1zM50 93h1v1h-1zM53 93h1v1h-1zM72 93h1v1h-1zM84 93h1v1h-1zM86 93h1v1h-1zM90 93h1v1h-1zM53 94h1v1h-1zM85 94h1v1h-1zM50 95h1v1h-1zM100 95h1v1h-1zM61 96h1v1h-1zM69 97h1v1h-1zM72 97h1v1h-1zM69 98h1v1h-1zM78 98h1v1h-1zM57 99h1v1h-1zM71 99h1v1h-1zM76 99h1v1h-1zM80 99h1v1h-1zM90 99h1v1h-1zM95 99h1v1h-1zM55 100h1v1h-1zM58 100h2v1h-2zM70 100h2v1h-2zM73 100h1v1h-1zM47 101h1v1h-1zM57 101h1v1h-1zM64 101h1v1h-1zM73 101h1v1h-1zM42 102h1v1h-1zM46 102h1v1h-1zM69 102h1v1h-1zM49 103h1v1h-1zM71 103h2v1h-2zM76 103h1v1h-1zM23 104h1v1h-1zM48 104h1v1h-1zM65 104h1v1h-1zM75 104h1v1h-1zM65 105h1v1h-1zM75 105h1v1h-1zM43 106h1v1h-1zM62 106h1v1h-1zM60 107h1v1h-1zM65 107h1v1h-1zM70 107h1v1h-1zM63 108h1v1h-1zM55 110h1v1h-1zM53 111h1v1h-1zM58 111h1v1h-1zM64 111h1v1h-1zM58 112h1v1h-1zM54 114h1v1h-1zM87 118h1v1h-1zM72 119h1v1h-1z"/>
<path fill="#1f968b" d="M72 78h1v1h-1zM85 81h1v1h-1zM73 83h1v1h-1zM63 84h1v1h-1zM76 84h1v1h-1zM85 84h1v1h-1zM71 86h1v1h-1zM40 87h1v1h-1zM58 87h1v1h-1zM64 87h1v1h-1zM51 88h1v1h-1zM66 90h1v1h-1zM84 90h1v1h-1zM87 90h1v1h-1zM74 91h1v1h-1zM84 91h1v1h-1zM48 92h1v1h-1zM68 92h1v1h-1zM85 92h1v1h-1zM62 94h1v1h-1zM81 94h1v1h-1zM74 96h1v1h-1zM77 96h1v1h-1zM83 96h1v1h-1zM85 96h1v1h-1zM47 97h1v1h-1zM71 97h1v1h-1zM98 97h1v1h-1zM38 98h1v1h-1zM84 98h1v1h-1zM96 98h1v1h-1zM70 99h1v1h-1zM64 100h1v1h-1zM60 101h1v1h-1zM97 101h1v1h-1zM65 102h1v1h-1zM75 102h1v1h-1zM79 102h1v1h-1zM44 103h1v1h-1zM50 103h1v1h-1zM60 103h1v1h-1zM74 103h1v1h-1zM37 104h1v1h-1zM54 104h1v1h-1zM79 104h1v1h-1zM63 105h1v1h-1zM74 105h1v1h-1zM51 106h1v1h-1zM55 106h1v1h-1zM71 106h1v1h-1zM62 107h1v1h-1zM52 108h1v1h-1zM65 108h1v1h-1zM69 109h1v1h-1zM59 111h1v1h-1zM62 111h1v1h-1zM63 112h1v1h-1zM93 113h1v1h-1zM73 119h1v1h-1z"/>
<path fill="#1f9a8a" d="M65 74h1v1h-1zM74 80h1v1h-1zM81 82h1v1h-1zM65 83h1v1h-1zM83 84h1v1h-1zM55 85h1v1h-1zM58 88h1v1h-1zM77 88h1v1h-1zM69 89h1v1h-1zM73 89h1v1h-1zM37 91h1v1h-1zM69 91h1v1h-1zM33 92h1v1h-1zM57 92h1v1h-1zM28 93h1v1h-1zM85 93h1v1h-1zM39 95h1v1h-1zM63 95h1v1h-1zM74 95h1v1h-1zM79 95h1v1h-1zM46 96h1v1h-1zM72 96h1v1h-1zM26 98h1v1h-1zM55 98h1v1h-1zM63 98h1v1h-1zM43 99h1v1h-1zM49 99h1v1h-1zM51 99h1v1h-1zM37 100h1v1h-1zM72 100h1v1h-1zM25 101h1v1h-1zM63 102h1v1h-1zM72 102h1v1h-1zM76 102h1v1h-1zM82 102h1v1h-1zM59 103h1v1h-1zM75 103h1v1h-1zM96 103h1v1h-1zM41 104h1v1h-1zM50 104h1v1h-1zM63 104h1v1h-1zM47 105h1v1h-1zM70 105h1v1h-1zM51 107h1v1h-1zM67 108h1v1h-1zM95 108h1v1h-1zM66 109h1v1h-1zM86 109h1v1h-1zM56 111h1v1h-1zM61 112h1v1h-1zM77 112h1v1h-1zM53 114h1v1h-1zM87 114h1v1h-1zM90 114h1v1h-1zM52 115h1v1h-1zM76 115h1v1h-1zM88 115h1v1h-1zM80 116h1v1h-1z"/>
<path fill="#1f9e89" d="M75 75h1v1h-1zM76 76h1v1h-1zM78 76h1v1h-1zM72 77h1v1h-1zM74 82h1v1h-1zM80 82h1v1h-1zM81 84h1v1h-1zM74 88h2v1h-2zM76 89h1v1h-1zM83 90h1v1h-1zM81 92h1v1h-1zM99 92h1v1h-1zM75 96h1v1h-1zM83 97h1v1h-1zM51 98h1v1h-1zM48 99h1v1h-1zM59 99h1v1h-1zM63 99h1v1h-1zM41 101h1v1h-1zM61 102h1v1h-1zM65 103h1v1h-1zM70 103h1v1h-1zM25 105h1v1h-1zM77 105h1v1h-1zM68 106h1v1h-1zM68 107h1v1h-1zM71 107h1v1h-1zM60 109h1v1h-1zM79 109h1v1h-1zM87 112h1v1h-1zM81 116h1v1h-1zM53 119h1v1h-1z"/>
<path fill="#1fa187" d="M69 77h1v1h-1zM80 80h1v1h-1zM63 83h1v1h-1zM74 84h1v1h-1zM83 89h1v1h-1zM56 91h1v1h-1zM88 93h1v1h-1zM70 95h1v1h-1zM86 96h1v1h-1zM82 100h1v1h-1zM51 101h1v1h-1zM62 101h1v1h-1zM50 102h1v1h-1zM66 102h1v1h-1zM92 103h1v1h-1zM58 106h1v1h-1zM50 107h1v1h-1zM70 108h1v1h-1zM57 111h1v1h-1zM92 113h1v1h-1zM55 114h1v1h-1zM83 118h1v1h-1zM90 118h1v1h-1z"/>
<path fill="#21a585" d="M80 84h1v1h-1zM74 89h1v1h-1zM89 91h1v1h-1zM36 94h1v1h-1zM71 94h1v1h-1zM80 95h1v1h-1zM58 97h1v1h-1zM29 100h1v1h-1zM54 100h1v1h-1zM65 101h1v1h-1zM54 105h1v1h-1zM44 106h1v1h-1zM69 107h1v1h-1zM66 108h1v1h-1zM57 117h1v1h-1z"/>
<path fill="#23a983" d="M87 91h1v1h-1zM55 92h1v1h-1zM69 92h1v1h-1zM65 95h1v1h-1zM77 104h1v1h-1zM70 110h1v1h-1z"/>
<path fill="#26ad81" d="M82 86h1v1h-1zM76 94h1v1h-1zM80 111h1v1h-1zM89 113h1v1h-1z"/>
<path fill="#2ab07f" d="M83 86h1v1h-1zM83 92h1v1h-1zM63 103h1v1h-1zM66 103h1v1h-1zM58 105h1v1h-1zM73 106h1v1h-1zM71 119h1v1h-1z"/>
<path fill="#2fb47c" d="M73 105h1v1h-1z"/>
<path fill="#35b779" d="M74 99h1v1h-1z"/>
<path fill="#42be71" d="M1 83h1v1h-1z"/>
<path fill="#4ac16d" d="M29 74h1v1h-1zM27 77h1v1h-1zM75 83h1v1h-1zM61 100h1v1h-1zM50 108h1v1h-1z"/>
<path fill="#52c569" d="M70 85h1v1h-1zM85 106h1v1h-1zM43 107h1v1h-1z"/>
<path fill="#5ac864" d="M3 80h1v1h-1zM79 86h1v1h-1zM78 104h1v1h-1zM50 110h1v1h-1z"/>
<path fill="#65cb5e" d="M20 81h1v1h-1zM49 81h1v1h-1z"/>
<path fill="#6ece58" d="M49 88h1v1h-1zM79 89h1v1h-1zM56 112h1v1h-1zM77 116h1v1h-1z"/>
<path fill="#77d153" d="M76 81h1v1h-1zM86 90h1v1h-1zM80 93h1v1h-1zM90 102h1v1h-1zM39 106h1v1h-1z"/>
<path fill="#81d34d" d="M42 95h1v1h-1zM47 107h1v1h-1z"/>
<path fill="#8bd646" d="M42 78h1v1h-1zM26 81h1v1h-1zM76 112h1v1h-1zM56 113h1v1h-1z"/>
<path fill="#95d840" d="M53 91h1v1h-1zM57 112h1v1h-1zM78 116h1v1h-1z"/>
<path fill="#a0da39" d="M25 83h1v1h-1zM79 85h1v1h-1zM72 89h1v1h-1zM40 104h1v1h-1zM67 111h1v1h-1z"/>
<path fill="#aadc32" d="M46 93h1v1h-1zM44 96h1v1h-1z"/>
<path fill="#b5de2b" d="M73 81h1v1h-1zM81 100h1v1h-1zM71 111h1v1h-1z"/>
<path fill="#c0df25" d="M70 84h1v1h-1zM80 86h1v1h-1z"/>
<path fill="#cae11f" d="M26 64h1v1h-1zM2 82h1v1h-1zM71 82h1v1h-1zM77 102h2v1h-2z"/>
<path fill="#d5e21a" d="M63 96h1v1h-1zM79 117h1v1h-1z"/>
<path fill="#dfe318" d="M77 81h1v1h-1zM21 85h1v1h-1zM41 100h1v1h-1z"/>
<path fill="#eae51a" d="M81 86h1v1h-1zM100 96h1v1h-1zM93 104h1v1h-1z"/>
<path fill="#f4e61e" d="M38 80h1v1h-1zM78 84h1v1h-1zM86 91h1v1h-1z"/>
</g></g>
<path fill="#440154" d="M127.2 107h4.9v5.3h-4.9zM127.2 125h4.9v5.3h-4.9zM164.8 148.2h5.2v4.7h-5.2zM160.1 157.2h19.8v4.6h-19.8z"/>
<text x="428.6" y="27" font-family="'Liberation Serif','Times New Roman',serif" font-size="38.5" text-anchor="middle">t = 500 Myrs</text>
<path d="M125.0 621.8L125.0 609.3M125.0 47.8L125.0 60.3M228.1 621.8L228.1 609.3M228.1 47.8L228.1 60.3M331.2 621.8L331.2 609.3M331.2 47.8L331.2 60.3M434.3 621.8L434.3 609.3M434.3 47.8L434.3 60.3M537.4 621.8L537.4 609.3M537.4 47.8L537.4 60.3M640.5 621.8L640.5 609.3M640.5 47.8L640.5 60.3M125.0 621.8L137.5 621.8M733.8 621.8L721.3 621.8M125.0 478.3L137.5 478.3M733.8 478.3L721.3 478.3M125.0 334.8L137.5 334.8M733.8 334.8L721.3 334.8M125.0 191.3L137.5 191.3M733.8 191.3L721.3 191.3M125.0 47.8L137.5 47.8M733.8 47.8L721.3 47.8" stroke="#000" stroke-width="2.50" fill="none"/>
<path d="M156.0 621.8L156.0 614.8M156.0 47.8L156.0 54.8M174.2 621.8L174.2 614.8M174.2 47.8L174.2 54.8M187.1 621.8L187.1 614.8M187.1 47.8L187.1 54.8M197.1 621.8L197.1 614.8M197.1 47.8L197.1 54.8M205.2 621.8L205.2 614.8M205.2 47.8L205.2 54.8M212.1 621.8L212.1 614.8M212.1 47.8L212.1 54.8M218.1 621.8L218.1 614.8M218.1 47.8L218.1 54.8M223.4 621.8L223.4 614.8M223.4 47.8L223.4 54.8M259.1 621.8L259.1 614.8M259.1 47.8L259.1 54.8M277.3 621.8L277.3 614.8M277.3 47.8L277.3 54.8M290.2 621.8L290.2 614.8M290.2 47.8L290.2 54.8M300.2 621.8L300.2 614.8M300.2 47.8L300.2 54.8M308.3 621.8L308.3 614.8M308.3 47.8L308.3 54.8M315.2 621.8L315.2 614.8M315.2 47.8L315.2 54.8M321.2 621.8L321.2 614.8M321.2 47.8L321.2 54.8M326.5 621.8L326.5 614.8M326.5 47.8L326.5 54.8M362.2 621.8L362.2 614.8M362.2 47.8L362.2 54.8M380.4 621.8L380.4 614.8M380.4 47.8L380.4 54.8M393.3 621.8L393.3 614.8M393.3 47.8L393.3 54.8M403.3 621.8L403.3 614.8M403.3 47.8L403.3 54.8M411.4 621.8L411.4 614.8M411.4 47.8L411.4 54.8M418.3 621.8L418.3 614.8M418.3 47.8L418.3 54.8M424.3 621.8L424.3 614.8M424.3 47.8L424.3 54.8M429.6 621.8L429.6 614.8M429.6 47.8L429.6 54.8M465.3 621.8L465.3 614.8M465.3 47.8L465.3 54.8M483.5 621.8L483.5 614.8M483.5 47.8L483.5 54.8M496.4 621.8L496.4 614.8M496.4 47.8L496.4 54.8M506.4 621.8L506.4 614.8M506.4 47.8L506.4 54.8M514.5 621.8L514.5 614.8M514.5 47.8L514.5 54.8M521.4 621.8L521.4 614.8M521.4 47.8L521.4 54.8M527.4 621.8L527.4 614.8M527.4 47.8L527.4 54.8M532.7 621.8L532.7 614.8M532.7 47.8L532.7 54.8M568.4 621.8L568.4 614.8M568.4 47.8L568.4 54.8M586.6 621.8L586.6 614.8M586.6 47.8L586.6 54.8M599.5 621.8L599.5 614.8M599.5 47.8L599.5 54.8M609.5 621.8L609.5 614.8M609.5 47.8L609.5 54.8M617.6 621.8L617.6 614.8M617.6 47.8L617.6 54.8M624.5 621.8L624.5 614.8M624.5 47.8L624.5 54.8M630.5 621.8L630.5 614.8M630.5 47.8L630.5 54.8M635.8 621.8L635.8 614.8M635.8 47.8L635.8 54.8M671.5 621.8L671.5 614.8M671.5 47.8L671.5 54.8M689.7 621.8L689.7 614.8M689.7 47.8L689.7 54.8M702.6 621.8L702.6 614.8M702.6 47.8L702.6 54.8M712.6 621.8L712.6 614.8M712.6 47.8L712.6 54.8M720.7 621.8L720.7 614.8M720.7 47.8L720.7 54.8M727.6 621.8L727.6 614.8M727.6 47.8L727.6 54.8M733.6 621.8L733.6 614.8M733.6 47.8L733.6 54.8M125.0 578.6L132.0 578.6M733.8 578.6L726.8 578.6M125.0 553.3L132.0 553.3M733.8 553.3L726.8 553.3M125.0 535.4L132.0 535.4M733.8 535.4L726.8 535.4M125.0 521.5L132.0 521.5M733.8 521.5L726.8 521.5M125.0 510.1L132.0 510.1M733.8 510.1L726.8 510.1M125.0 500.5L132.0 500.5M733.8 500.5L726.8 500.5M125.0 492.2L132.0 492.2M733.8 492.2L726.8 492.2M125.0 484.9L132.0 484.9M733.8 484.9L726.8 484.9M125.0 435.1L132.0 435.1M733.8 435.1L726.8 435.1M125.0 409.8L132.0 409.8M733.8 409.8L726.8 409.8M125.0 391.9L132.0 391.9M733.8 391.9L726.8 391.9M125.0 378.0L132.0 378.0M733.8 378.0L726.8 378.0M125.0 366.6L132.0 366.6M733.8 366.6L726.8 366.6M125.0 357.0L132.0 357.0M733.8 357.0L726.8 357.0M125.0 348.7L132.0 348.7M733.8 348.7L726.8 348.7M125.0 341.4L132.0 341.4M733.8 341.4L726.8 341.4M125.0 291.6L132.0 291.6M733.8 291.6L726.8 291.6M125.0 266.3L132.0 266.3M733.8 266.3L726.8 266.3M125.0 248.4L132.0 248.4M733.8 248.4L726.8 248.4M125.0 234.5L132.0 234.5M733.8 234.5L726.8 234.5M125.0 223.1L132.0 223.1M733.8 223.1L726.8 223.1M125.0 213.5L132.0 213.5M733.8 213.5L726.8 213.5M125.0 205.2L132.0 205.2M733.8 205.2L726.8 205.2M125.0 197.9L132.0 197.9M733.8 197.9L726.8 197.9M125.0 148.1L132.0 148.1M733.8 148.1L726.8 148.1M125.0 122.8L132.0 122.8M733.8 122.8L726.8 122.8M125.0 104.9L132.0 104.9M733.8 104.9L726.8 104.9M125.0 91.0L132.0 91.0M733.8 91.0L726.8 91.0M125.0 79.6L132.0 79.6M733.8 79.6L726.8 79.6M125.0 70.0L132.0 70.0M733.8 70.0L726.8 70.0M125.0 61.7L132.0 61.7M733.8 61.7L726.8 61.7M125.0 54.4L132.0 54.4M733.8 54.4L726.8 54.4" stroke="#000" stroke-width="1.90" fill="none"/>
<rect x="125.0" y="47.8" width="608.8" height="574.0" fill="none" stroke="#000" stroke-width="2.50"/>
<text x="107.5" y="633.8" font-family="'Liberation Serif','Times New Roman',serif" font-size="38.5" text-anchor="end">10<tspan dy="-13" font-size="26.9">3</tspan></text>
<text x="107.5" y="490.3" font-family="'Liberation Serif','Times New Roman',serif" font-size="38.5" text-anchor="end">10<tspan dy="-13" font-size="26.9">4</tspan></text>
<text x="107.5" y="346.8" font-family="'Liberation Serif','Times New Roman',serif" font-size="38.5" text-anchor="end">10<tspan dy="-13" font-size="26.9">5</tspan></text>
<text x="107.5" y="203.3" font-family="'Liberation Serif','Times New Roman',serif" font-size="38.5" text-anchor="end">10<tspan dy="-13" font-size="26.9">6</tspan></text>
<text x="107.5" y="59.8" font-family="'Liberation Serif','Times New Roman',serif" font-size="38.5" text-anchor="end">10<tspan dy="-13" font-size="26.9">7</tspan></text>
<text transform="translate(28.5 334.8) rotate(-90)" font-family="'DejaVu Sans','Liberation Sans',sans-serif" font-size="37.8" text-anchor="middle" xml:space="preserve">Temperature  (K)</text>
<path d="M125.0 1254.9L125.0 1242.4M125.0 680.9L125.0 693.4M228.1 1254.9L228.1 1242.4M228.1 680.9L228.1 693.4M331.2 1254.9L331.2 1242.4M331.2 680.9L331.2 693.4M434.3 1254.9L434.3 1242.4M434.3 680.9L434.3 693.4M537.4 1254.9L537.4 1242.4M537.4 680.9L537.4 693.4M640.5 1254.9L640.5 1242.4M640.5 680.9L640.5 693.4M125.0 1254.9L137.5 1254.9M733.8 1254.9L721.3 1254.9M125.0 1111.4L137.5 1111.4M733.8 1111.4L721.3 1111.4M125.0 967.9L137.5 967.9M733.8 967.9L721.3 967.9M125.0 824.4L137.5 824.4M733.8 824.4L721.3 824.4M125.0 680.9L137.5 680.9M733.8 680.9L721.3 680.9" stroke="#000" stroke-width="2.50" fill="none"/>
<path d="M156.0 1254.9L156.0 1247.9M156.0 680.9L156.0 687.9M174.2 1254.9L174.2 1247.9M174.2 680.9L174.2 687.9M187.1 1254.9L187.1 1247.9M187.1 680.9L187.1 687.9M197.1 1254.9L197.1 1247.9M197.1 680.9L197.1 687.9M205.2 1254.9L205.2 1247.9M205.2 680.9L205.2 687.9M212.1 1254.9L212.1 1247.9M212.1 680.9L212.1 687.9M218.1 1254.9L218.1 1247.9M218.1 680.9L218.1 687.9M223.4 1254.9L223.4 1247.9M223.4 680.9L223.4 687.9M259.1 1254.9L259.1 1247.9M259.1 680.9L259.1 687.9M277.3 1254.9L277.3 1247.9M277.3 680.9L277.3 687.9M290.2 1254.9L290.2 1247.9M290.2 680.9L290.2 687.9M300.2 1254.9L300.2 1247.9M300.2 680.9L300.2 687.9M308.3 1254.9L308.3 1247.9M308.3 680.9L308.3 687.9M315.2 1254.9L315.2 1247.9M315.2 680.9L315.2 687.9M321.2 1254.9L321.2 1247.9M321.2 680.9L321.2 687.9M326.5 1254.9L326.5 1247.9M326.5 680.9L326.5 687.9M362.2 1254.9L362.2 1247.9M362.2 680.9L362.2 687.9M380.4 1254.9L380.4 1247.9M380.4 680.9L380.4 687.9M393.3 1254.9L393.3 1247.9M393.3 680.9L393.3 687.9M403.3 1254.9L403.3 1247.9M403.3 680.9L403.3 687.9M411.4 1254.9L411.4 1247.9M411.4 680.9L411.4 687.9M418.3 1254.9L418.3 1247.9M418.3 680.9L418.3 687.9M424.3 1254.9L424.3 1247.9M424.3 680.9L424.3 687.9M429.6 1254.9L429.6 1247.9M429.6 680.9L429.6 687.9M465.3 1254.9L465.3 1247.9M465.3 680.9L465.3 687.9M483.5 1254.9L483.5 1247.9M483.5 680.9L483.5 687.9M496.4 1254.9L496.4 1247.9M496.4 680.9L496.4 687.9M506.4 1254.9L506.4 1247.9M506.4 680.9L506.4 687.9M514.5 1254.9L514.5 1247.9M514.5 680.9L514.5 687.9M521.4 1254.9L521.4 1247.9M521.4 680.9L521.4 687.9M527.4 1254.9L527.4 1247.9M527.4 680.9L527.4 687.9M532.7 1254.9L532.7 1247.9M532.7 680.9L532.7 687.9M568.4 1254.9L568.4 1247.9M568.4 680.9L568.4 687.9M586.6 1254.9L586.6 1247.9M586.6 680.9L586.6 687.9M599.5 1254.9L599.5 1247.9M599.5 680.9L599.5 687.9M609.5 1254.9L609.5 1247.9M609.5 680.9L609.5 687.9M617.6 1254.9L617.6 1247.9M617.6 680.9L617.6 687.9M624.5 1254.9L624.5 1247.9M624.5 680.9L624.5 687.9M630.5 1254.9L630.5 1247.9M630.5 680.9L630.5 687.9M635.8 1254.9L635.8 1247.9M635.8 680.9L635.8 687.9M671.5 1254.9L671.5 1247.9M671.5 680.9L671.5 687.9M689.7 1254.9L689.7 1247.9M689.7 680.9L689.7 687.9M702.6 1254.9L702.6 1247.9M702.6 680.9L702.6 687.9M712.6 1254.9L712.6 1247.9M712.6 680.9L712.6 687.9M720.7 1254.9L720.7 1247.9M720.7 680.9L720.7 687.9M727.6 1254.9L727.6 1247.9M727.6 680.9L727.6 687.9M733.6 1254.9L733.6 1247.9M733.6 680.9L733.6 687.9M125.0 1211.7L132.0 1211.7M733.8 1211.7L726.8 1211.7M125.0 1186.4L132.0 1186.4M733.8 1186.4L726.8 1186.4M125.0 1168.5L132.0 1168.5M733.8 1168.5L726.8 1168.5M125.0 1154.6L132.0 1154.6M733.8 1154.6L726.8 1154.6M125.0 1143.2L132.0 1143.2M733.8 1143.2L726.8 1143.2M125.0 1133.6L132.0 1133.6M733.8 1133.6L726.8 1133.6M125.0 1125.3L132.0 1125.3M733.8 1125.3L726.8 1125.3M125.0 1118.0L132.0 1118.0M733.8 1118.0L726.8 1118.0M125.0 1068.2L132.0 1068.2M733.8 1068.2L726.8 1068.2M125.0 1042.9L132.0 1042.9M733.8 1042.9L726.8 1042.9M125.0 1025.0L132.0 1025.0M733.8 1025.0L726.8 1025.0M125.0 1011.1L132.0 1011.1M733.8 1011.1L726.8 1011.1M125.0 999.7L132.0 999.7M733.8 999.7L726.8 999.7M125.0 990.1L132.0 990.1M733.8 990.1L726.8 990.1M125.0 981.8L132.0 981.8M733.8 981.8L726.8 981.8M125.0 974.5L132.0 974.5M733.8 974.5L726.8 974.5M125.0 924.7L132.0 924.7M733.8 924.7L726.8 924.7M125.0 899.4L132.0 899.4M733.8 899.4L726.8 899.4M125.0 881.5L132.0 881.5M733.8 881.5L726.8 881.5M125.0 867.6L132.0 867.6M733.8 867.6L726.8 867.6M125.0 856.2L132.0 856.2M733.8 856.2L726.8 856.2M125.0 846.6L132.0 846.6M733.8 846.6L726.8 846.6M125.0 838.3L132.0 838.3M733.8 838.3L726.8 838.3M125.0 831.0L132.0 831.0M733.8 831.0L726.8 831.0M125.0 781.2L132.0 781.2M733.8 781.2L726.8 781.2M125.0 755.9L132.0 755.9M733.8 755.9L726.8 755.9M125.0 738.0L132.0 738.0M733.8 738.0L726.8 738.0M125.0 724.1L132.0 724.1M733.8 724.1L726.8 724.1M125.0 712.7L132.0 712.7M733.8 712.7L726.8 712.7M125.0 703.1L132.0 703.1M733.8 703.1L726.8 703.1M125.0 694.8L132.0 694.8M733.8 694.8L726.8 694.8M125.0 687.5L132.0 687.5M733.8 687.5L726.8 687.5" stroke="#000" stroke-width="1.90" fill="none"/>
<rect x="125.0" y="680.9" width="608.8" height="574.0" fill="none" stroke="#000" stroke-width="2.50"/>
<text x="107.5" y="1266.9" font-family="'Liberation Serif','Times New Roman',serif" font-size="38.5" text-anchor="end">10<tspan dy="-13" font-size="26.9">3</tspan></text>
<text x="107.5" y="1123.4" font-family="'Liberation Serif','Times New Roman',serif" font-size="38.5" text-anchor="end">10<tspan dy="-13" font-size="26.9">4</tspan></text>
<text x="107.5" y="979.9" font-family="'Liberation Serif','Times New Roman',serif" font-size="38.5" text-anchor="end">10<tspan dy="-13" font-size="26.9">5</tspan></text>
<text x="107.5" y="836.4" font-family="'Liberation Serif','Times New Roman',serif" font-size="38.5" text-anchor="end">10<tspan dy="-13" font-size="26.9">6</tspan></text>
<text x="107.5" y="692.9" font-family="'Liberation Serif','Times New Roman',serif" font-size="38.5" text-anchor="end">10<tspan dy="-13" font-size="26.9">7</tspan></text>
<text transform="translate(28.5 967.9) rotate(-90)" font-family="'DejaVu Sans','Liberation Sans',sans-serif" font-size="37.8" text-anchor="middle" xml:space="preserve">Temperature  (K)</text>
<path d="M125.0 1888.0L125.0 1875.5M125.0 1314.2L125.0 1326.7M228.1 1888.0L228.1 1875.5M228.1 1314.2L228.1 1326.7M331.2 1888.0L331.2 1875.5M331.2 1314.2L331.2 1326.7M434.3 1888.0L434.3 1875.5M434.3 1314.2L434.3 1326.7M537.4 1888.0L537.4 1875.5M537.4 1314.2L537.4 1326.7M640.5 1888.0L640.5 1875.5M640.5 1314.2L640.5 1326.7M125.0 1888.0L137.5 1888.0M733.8 1888.0L721.3 1888.0M125.0 1744.5L137.5 1744.5M733.8 1744.5L721.3 1744.5M125.0 1601.1L137.5 1601.1M733.8 1601.1L721.3 1601.1M125.0 1457.7L137.5 1457.7M733.8 1457.7L721.3 1457.7M125.0 1314.2L137.5 1314.2M733.8 1314.2L721.3 1314.2" stroke="#000" stroke-width="2.50" fill="none"/>
<path d="M156.0 1888.0L156.0 1881.0M156.0 1314.2L156.0 1321.2M174.2 1888.0L174.2 1881.0M174.2 1314.2L174.2 1321.2M187.1 1888.0L187.1 1881.0M187.1 1314.2L187.1 1321.2M197.1 1888.0L197.1 1881.0M197.1 1314.2L197.1 1321.2M205.2 1888.0L205.2 1881.0M205.2 1314.2L205.2 1321.2M212.1 1888.0L212.1 1881.0M212.1 1314.2L212.1 1321.2M218.1 1888.0L218.1 1881.0M218.1 1314.2L218.1 1321.2M223.4 1888.0L223.4 1881.0M223.4 1314.2L223.4 1321.2M259.1 1888.0L259.1 1881.0M259.1 1314.2L259.1 1321.2M277.3 1888.0L277.3 1881.0M277.3 1314.2L277.3 1321.2M290.2 1888.0L290.2 1881.0M290.2 1314.2L290.2 1321.2M300.2 1888.0L300.2 1881.0M300.2 1314.2L300.2 1321.2M308.3 1888.0L308.3 1881.0M308.3 1314.2L308.3 1321.2M315.2 1888.0L315.2 1881.0M315.2 1314.2L315.2 1321.2M321.2 1888.0L321.2 1881.0M321.2 1314.2L321.2 1321.2M326.5 1888.0L326.5 1881.0M326.5 1314.2L326.5 1321.2M362.2 1888.0L362.2 1881.0M362.2 1314.2L362.2 1321.2M380.4 1888.0L380.4 1881.0M380.4 1314.2L380.4 1321.2M393.3 1888.0L393.3 1881.0M393.3 1314.2L393.3 1321.2M403.3 1888.0L403.3 1881.0M403.3 1314.2L403.3 1321.2M411.4 1888.0L411.4 1881.0M411.4 1314.2L411.4 1321.2M418.3 1888.0L418.3 1881.0M418.3 1314.2L418.3 1321.2M424.3 1888.0L424.3 1881.0M424.3 1314.2L424.3 1321.2M429.6 1888.0L429.6 1881.0M429.6 1314.2L429.6 1321.2M465.3 1888.0L465.3 1881.0M465.3 1314.2L465.3 1321.2M483.5 1888.0L483.5 1881.0M483.5 1314.2L483.5 1321.2M496.4 1888.0L496.4 1881.0M496.4 1314.2L496.4 1321.2M506.4 1888.0L506.4 1881.0M506.4 1314.2L506.4 1321.2M514.5 1888.0L514.5 1881.0M514.5 1314.2L514.5 1321.2M521.4 1888.0L521.4 1881.0M521.4 1314.2L521.4 1321.2M527.4 1888.0L527.4 1881.0M527.4 1314.2L527.4 1321.2M532.7 1888.0L532.7 1881.0M532.7 1314.2L532.7 1321.2M568.4 1888.0L568.4 1881.0M568.4 1314.2L568.4 1321.2M586.6 1888.0L586.6 1881.0M586.6 1314.2L586.6 1321.2M599.5 1888.0L599.5 1881.0M599.5 1314.2L599.5 1321.2M609.5 1888.0L609.5 1881.0M609.5 1314.2L609.5 1321.2M617.6 1888.0L617.6 1881.0M617.6 1314.2L617.6 1321.2M624.5 1888.0L624.5 1881.0M624.5 1314.2L624.5 1321.2M630.5 1888.0L630.5 1881.0M630.5 1314.2L630.5 1321.2M635.8 1888.0L635.8 1881.0M635.8 1314.2L635.8 1321.2M671.5 1888.0L671.5 1881.0M671.5 1314.2L671.5 1321.2M689.7 1888.0L689.7 1881.0M689.7 1314.2L689.7 1321.2M702.6 1888.0L702.6 1881.0M702.6 1314.2L702.6 1321.2M712.6 1888.0L712.6 1881.0M712.6 1314.2L712.6 1321.2M720.7 1888.0L720.7 1881.0M720.7 1314.2L720.7 1321.2M727.6 1888.0L727.6 1881.0M727.6 1314.2L727.6 1321.2M733.6 1888.0L733.6 1881.0M733.6 1314.2L733.6 1321.2M125.0 1844.8L132.0 1844.8M733.8 1844.8L726.8 1844.8M125.0 1819.6L132.0 1819.6M733.8 1819.6L726.8 1819.6M125.0 1801.6L132.0 1801.6M733.8 1801.6L726.8 1801.6M125.0 1787.7L132.0 1787.7M733.8 1787.7L726.8 1787.7M125.0 1776.4L132.0 1776.4M733.8 1776.4L726.8 1776.4M125.0 1766.8L132.0 1766.8M733.8 1766.8L726.8 1766.8M125.0 1758.5L132.0 1758.5M733.8 1758.5L726.8 1758.5M125.0 1751.1L132.0 1751.1M733.8 1751.1L726.8 1751.1M125.0 1701.4L132.0 1701.4M733.8 1701.4L726.8 1701.4M125.0 1676.1L132.0 1676.1M733.8 1676.1L726.8 1676.1M125.0 1658.2L132.0 1658.2M733.8 1658.2L726.8 1658.2M125.0 1644.3L132.0 1644.3M733.8 1644.3L726.8 1644.3M125.0 1632.9L132.0 1632.9M733.8 1632.9L726.8 1632.9M125.0 1623.3L132.0 1623.3M733.8 1623.3L726.8 1623.3M125.0 1615.0L132.0 1615.0M733.8 1615.0L726.8 1615.0M125.0 1607.7L132.0 1607.7M733.8 1607.7L726.8 1607.7M125.0 1557.9L132.0 1557.9M733.8 1557.9L726.8 1557.9M125.0 1532.7L132.0 1532.7M733.8 1532.7L726.8 1532.7M125.0 1514.7L132.0 1514.7M733.8 1514.7L726.8 1514.7M125.0 1500.8L132.0 1500.8M733.8 1500.8L726.8 1500.8M125.0 1489.5L132.0 1489.5M733.8 1489.5L726.8 1489.5M125.0 1479.9L132.0 1479.9M733.8 1479.9L726.8 1479.9M125.0 1471.6L132.0 1471.6M733.8 1471.6L726.8 1471.6M125.0 1464.2L132.0 1464.2M733.8 1464.2L726.8 1464.2M125.0 1414.5L132.0 1414.5M733.8 1414.5L726.8 1414.5M125.0 1389.2L132.0 1389.2M733.8 1389.2L726.8 1389.2M125.0 1371.3L132.0 1371.3M733.8 1371.3L726.8 1371.3M125.0 1357.4L132.0 1357.4M733.8 1357.4L726.8 1357.4M125.0 1346.0L132.0 1346.0M733.8 1346.0L726.8 1346.0M125.0 1336.4L132.0 1336.4M733.8 1336.4L726.8 1336.4M125.0 1328.1L132.0 1328.1M733.8 1328.1L726.8 1328.1M125.0 1320.8L132.0 1320.8M733.8 1320.8L726.8 1320.8" stroke="#000" stroke-width="1.90" fill="none"/>
<rect x="125.0" y="1314.2" width="608.8" height="573.8" fill="none" stroke="#000" stroke-width="2.50"/>
<text x="107.5" y="1900.0" font-family="'Liberation Serif','Times New Roman',serif" font-size="38.5" text-anchor="end">10<tspan dy="-13" font-size="26.9">3</tspan></text>
<text x="107.5" y="1756.5" font-family="'Liberation Serif','Times New Roman',serif" font-size="38.5" text-anchor="end">10<tspan dy="-13" font-size="26.9">4</tspan></text>
<text x="107.5" y="1613.1" font-family="'Liberation Serif','Times New Roman',serif" font-size="38.5" text-anchor="end">10<tspan dy="-13" font-size="26.9">5</tspan></text>
<text x="107.5" y="1469.7" font-family="'Liberation Serif','Times New Roman',serif" font-size="38.5" text-anchor="end">10<tspan dy="-13" font-size="26.9">6</tspan></text>
<text x="107.5" y="1326.2" font-family="'Liberation Serif','Times New Roman',serif" font-size="38.5" text-anchor="end">10<tspan dy="-13" font-size="26.9">7</tspan></text>
<text transform="translate(28.5 1601.1) rotate(-90)" font-family="'DejaVu Sans','Liberation Sans',sans-serif" font-size="37.8" text-anchor="middle" xml:space="preserve">Temperature  (K)</text>
<linearGradient id="cb0" x1="0" y1="0" x2="0" y2="1"><stop offset="0.0000" stop-color="#fde725"/><stop offset="0.0312" stop-color="#ece51b"/><stop offset="0.0625" stop-color="#d8e219"/><stop offset="0.0938" stop-color="#c2df23"/><stop offset="0.1250" stop-color="#addc30"/><stop offset="0.1562" stop-color="#98d83e"/><stop offset="0.1875" stop-color="#84d44b"/><stop offset="0.2188" stop-color="#70cf57"/><stop offset="0.2500" stop-color="#5ec962"/><stop offset="0.2812" stop-color="#4ec36b"/><stop offset="0.3125" stop-color="#3fbc73"/><stop offset="0.3438" stop-color="#32b67a"/><stop offset="0.3750" stop-color="#28ae80"/><stop offset="0.4062" stop-color="#22a785"/><stop offset="0.4375" stop-color="#1fa088"/><stop offset="0.4688" stop-color="#1f988b"/><stop offset="0.5000" stop-color="#21918c"/><stop offset="0.5312" stop-color="#23898e"/><stop offset="0.5625" stop-color="#26828e"/><stop offset="0.5938" stop-color="#297a8e"/><stop offset="0.6250" stop-color="#2c728e"/><stop offset="0.6562" stop-color="#2f6b8e"/><stop offset="0.6875" stop-color="#33638d"/><stop offset="0.7188" stop-color="#375b8d"/><stop offset="0.7500" stop-color="#3b528b"/><stop offset="0.7812" stop-color="#3e4989"/><stop offset="0.8125" stop-color="#424086"/><stop offset="0.8438" stop-color="#453781"/><stop offset="0.8750" stop-color="#472d7b"/><stop offset="0.9062" stop-color="#482374"/><stop offset="0.9375" stop-color="#48186a"/><stop offset="0.9688" stop-color="#470d60"/><stop offset="1.0000" stop-color="#440154"/></linearGradient>
<rect x="733.8" y="47.8" width="18.2" height="574.0" fill="url(#cb0)" stroke="#000" stroke-width="2.50"/>
<path d="M752.0 621.8L764.5 621.8M752.0 507.0L764.5 507.0M752.0 392.2L764.5 392.2M752.0 277.4L764.5 277.4M752.0 162.6L764.5 162.6M752.0 47.8L764.5 47.8" stroke="#000" stroke-width="2.5" fill="none"/>
<path d="M752.0 587.2L764.5 587.2M752.0 567.0L764.5 567.0M752.0 552.7L764.5 552.7M752.0 541.6L764.5 541.6M752.0 532.5L764.5 532.5M752.0 524.8L764.5 524.8M752.0 518.1L764.5 518.1M752.0 512.3L764.5 512.3M752.0 472.4L764.5 472.4M752.0 452.2L764.5 452.2M752.0 437.9L764.5 437.9M752.0 426.8L764.5 426.8M752.0 417.7L764.5 417.7M752.0 410.0L764.5 410.0M752.0 403.3L764.5 403.3M752.0 397.5L764.5 397.5M752.0 357.6L764.5 357.6M752.0 337.4L764.5 337.4M752.0 323.1L764.5 323.1M752.0 312.0L764.5 312.0M752.0 302.9L764.5 302.9M752.0 295.2L764.5 295.2M752.0 288.5L764.5 288.5M752.0 282.7L764.5 282.7M752.0 242.8L764.5 242.8M752.0 222.6L764.5 222.6M752.0 208.3L764.5 208.3M752.0 197.2L764.5 197.2M752.0 188.1L764.5 188.1M752.0 180.4L764.5 180.4M752.0 173.7L764.5 173.7M752.0 167.9L764.5 167.9M752.0 128.0L764.5 128.0M752.0 107.8L764.5 107.8M752.0 93.5L764.5 93.5M752.0 82.4L764.5 82.4M752.0 73.3L764.5 73.3M752.0 65.6L764.5 65.6M752.0 58.9L764.5 58.9M752.0 53.1L764.5 53.1" stroke="#000" stroke-width="1.9" fill="none"/>
<text x="779" y="634.8" font-family="'Liberation Serif','Times New Roman',serif" font-size="38.5">10<tspan dy="-13" font-size="26.9">–8</tspan></text>
<text x="779" y="520.0" font-family="'Liberation Serif','Times New Roman',serif" font-size="38.5">10<tspan dy="-13" font-size="26.9">–7</tspan></text>
<text x="779" y="405.2" font-family="'Liberation Serif','Times New Roman',serif" font-size="38.5">10<tspan dy="-13" font-size="26.9">–6</tspan></text>
<text x="779" y="290.4" font-family="'Liberation Serif','Times New Roman',serif" font-size="38.5">10<tspan dy="-13" font-size="26.9">–5</tspan></text>
<text x="779" y="175.6" font-family="'Liberation Serif','Times New Roman',serif" font-size="38.5">10<tspan dy="-13" font-size="26.9">–4</tspan></text>
<text x="779" y="60.8" font-family="'Liberation Serif','Times New Roman',serif" font-size="38.5">10<tspan dy="-13" font-size="26.9">–3</tspan></text>
<linearGradient id="cb1" x1="0" y1="0" x2="0" y2="1"><stop offset="0.0000" stop-color="#fde725"/><stop offset="0.0312" stop-color="#ece51b"/><stop offset="0.0625" stop-color="#d8e219"/><stop offset="0.0938" stop-color="#c2df23"/><stop offset="0.1250" stop-color="#addc30"/><stop offset="0.1562" stop-color="#98d83e"/><stop offset="0.1875" stop-color="#84d44b"/><stop offset="0.2188" stop-color="#70cf57"/><stop offset="0.2500" stop-color="#5ec962"/><stop offset="0.2812" stop-color="#4ec36b"/><stop offset="0.3125" stop-color="#3fbc73"/><stop offset="0.3438" stop-color="#32b67a"/><stop offset="0.3750" stop-color="#28ae80"/><stop offset="0.4062" stop-color="#22a785"/><stop offset="0.4375" stop-color="#1fa088"/><stop offset="0.4688" stop-color="#1f988b"/><stop offset="0.5000" stop-color="#21918c"/><stop offset="0.5312" stop-color="#23898e"/><stop offset="0.5625" stop-color="#26828e"/><stop offset="0.5938" stop-color="#297a8e"/><stop offset="0.6250" stop-color="#2c728e"/><stop offset="0.6562" stop-color="#2f6b8e"/><stop offset="0.6875" stop-color="#33638d"/><stop offset="0.7188" stop-color="#375b8d"/><stop offset="0.7500" stop-color="#3b528b"/><stop offset="0.7812" stop-color="#3e4989"/><stop offset="0.8125" stop-color="#424086"/><stop offset="0.8438" stop-color="#453781"/><stop offset="0.8750" stop-color="#472d7b"/><stop offset="0.9062" stop-color="#482374"/><stop offset="0.9375" stop-color="#48186a"/><stop offset="0.9688" stop-color="#470d60"/><stop offset="1.0000" stop-color="#440154"/></linearGradient>
<rect x="733.8" y="680.9" width="18.2" height="574.0" fill="url(#cb1)" stroke="#000" stroke-width="2.50"/>
<path d="M752.0 1254.9L764.5 1254.9M752.0 1140.1L764.5 1140.1M752.0 1025.3L764.5 1025.3M752.0 910.5L764.5 910.5M752.0 795.7L764.5 795.7M752.0 680.9L764.5 680.9" stroke="#000" stroke-width="2.5" fill="none"/>
<path d="M752.0 1220.3L764.5 1220.3M752.0 1200.1L764.5 1200.1M752.0 1185.8L764.5 1185.8M752.0 1174.7L764.5 1174.7M752.0 1165.6L764.5 1165.6M752.0 1157.9L764.5 1157.9M752.0 1151.2L764.5 1151.2M752.0 1145.4L764.5 1145.4M752.0 1105.5L764.5 1105.5M752.0 1085.3L764.5 1085.3M752.0 1071.0L764.5 1071.0M752.0 1059.9L764.5 1059.9M752.0 1050.8L764.5 1050.8M752.0 1043.1L764.5 1043.1M752.0 1036.4L764.5 1036.4M752.0 1030.6L764.5 1030.6M752.0 990.7L764.5 990.7M752.0 970.5L764.5 970.5M752.0 956.2L764.5 956.2M752.0 945.1L764.5 945.1M752.0 936.0L764.5 936.0M752.0 928.3L764.5 928.3M752.0 921.6L764.5 921.6M752.0 915.8L764.5 915.8M752.0 875.9L764.5 875.9M752.0 855.7L764.5 855.7M752.0 841.4L764.5 841.4M752.0 830.3L764.5 830.3M752.0 821.2L764.5 821.2M752.0 813.5L764.5 813.5M752.0 806.8L764.5 806.8M752.0 801.0L764.5 801.0M752.0 761.1L764.5 761.1M752.0 740.9L764.5 740.9M752.0 726.6L764.5 726.6M752.0 715.5L764.5 715.5M752.0 706.4L764.5 706.4M752.0 698.7L764.5 698.7M752.0 692.0L764.5 692.0M752.0 686.2L764.5 686.2" stroke="#000" stroke-width="1.9" fill="none"/>
<text x="779" y="1267.9" font-family="'Liberation Serif','Times New Roman',serif" font-size="38.5">10<tspan dy="-13" font-size="26.9">–8</tspan></text>
<text x="779" y="1153.1" font-family="'Liberation Serif','Times New Roman',serif" font-size="38.5">10<tspan dy="-13" font-size="26.9">–7</tspan></text>
<text x="779" y="1038.3" font-family="'Liberation Serif','Times New Roman',serif" font-size="38.5">10<tspan dy="-13" font-size="26.9">–6</tspan></text>
<text x="779" y="923.5" font-family="'Liberation Serif','Times New Roman',serif" font-size="38.5">10<tspan dy="-13" font-size="26.9">–5</tspan></text>
<text x="779" y="808.7" font-family="'Liberation Serif','Times New Roman',serif" font-size="38.5">10<tspan dy="-13" font-size="26.9">–4</tspan></text>
<text x="779" y="693.9" font-family="'Liberation Serif','Times New Roman',serif" font-size="38.5">10<tspan dy="-13" font-size="26.9">–3</tspan></text>
<rect x="735.2" y="45.4" width="17.6" height="1.1" fill="#fde725" opacity="0.8"/>
<rect x="735.2" y="678.5" width="17.6" height="1.1" fill="#fde725" opacity="0.8"/>
<linearGradient id="cb2" x1="0" y1="0" x2="0" y2="1"><stop offset="0.0000" stop-color="#440154"/><stop offset="0.0312" stop-color="#470d60"/><stop offset="0.0625" stop-color="#48186a"/><stop offset="0.0938" stop-color="#482374"/><stop offset="0.1250" stop-color="#472d7b"/><stop offset="0.1562" stop-color="#453781"/><stop offset="0.1875" stop-color="#424086"/><stop offset="0.2188" stop-color="#3e4989"/><stop offset="0.2500" stop-color="#3b528b"/><stop offset="0.2812" stop-color="#375b8d"/><stop offset="0.3125" stop-color="#33638d"/><stop offset="0.3438" stop-color="#2f6b8e"/><stop offset="0.3750" stop-color="#2c728e"/><stop offset="0.4062" stop-color="#297a8e"/><stop offset="0.4375" stop-color="#26828e"/><stop offset="0.4688" stop-color="#23898e"/><stop offset="0.5000" stop-color="#21918c"/><stop offset="0.5312" stop-color="#1f988b"/><stop offset="0.5625" stop-color="#1fa088"/><stop offset="0.5938" stop-color="#22a785"/><stop offset="0.6250" stop-color="#28ae80"/><stop offset="0.6562" stop-color="#32b67a"/><stop offset="0.6875" stop-color="#3fbc73"/><stop offset="0.7188" stop-color="#4ec36b"/><stop offset="0.7500" stop-color="#5ec962"/><stop offset="0.7812" stop-color="#70cf57"/><stop offset="0.8125" stop-color="#84d44b"/><stop offset="0.8438" stop-color="#98d83e"/><stop offset="0.8750" stop-color="#addc30"/><stop offset="0.9062" stop-color="#c2df23"/><stop offset="0.9375" stop-color="#d8e219"/><stop offset="0.9688" stop-color="#ece51b"/><stop offset="1.0000" stop-color="#fde725"/></linearGradient>
<rect x="733.8" y="1314.2" width="18.2" height="573.8" fill="url(#cb2)" stroke="#000" stroke-width="2.50"/>
<path d="M752.0 1888.0L764.5 1888.0M752.0 1601.1L764.5 1601.1M752.0 1314.2L764.5 1314.2" stroke="#000" stroke-width="2.5" fill="none"/>
<path d="M752.0 1801.6L764.5 1801.6M752.0 1751.1L764.5 1751.1M752.0 1715.3L764.5 1715.3M752.0 1687.5L764.5 1687.5M752.0 1664.7L764.5 1664.7M752.0 1645.5L764.5 1645.5M752.0 1628.9L764.5 1628.9M752.0 1614.2L764.5 1614.2M752.0 1514.7L764.5 1514.7M752.0 1464.2L764.5 1464.2M752.0 1428.4L764.5 1428.4M752.0 1400.6L764.5 1400.6M752.0 1377.8L764.5 1377.8M752.0 1358.6L764.5 1358.6M752.0 1342.0L764.5 1342.0M752.0 1327.3L764.5 1327.3" stroke="#000" stroke-width="1.9" fill="none"/>
<text x="779" y="1901.0" font-family="'Liberation Serif','Times New Roman',serif" font-size="38.5">10<tspan dy="-13" font-size="26.9">1</tspan></text>
<text x="779" y="1614.1" font-family="'Liberation Serif','Times New Roman',serif" font-size="38.5">10<tspan dy="-13" font-size="26.9">2</tspan></text>
<text x="779" y="1327.2" font-family="'Liberation Serif','Times New Roman',serif" font-size="38.5">10<tspan dy="-13" font-size="26.9">3</tspan></text>
<text transform="translate(892.0 336.0) rotate(-90)" font-family="'DejaVu Sans','Liberation Sans',sans-serif" font-size="37.5" text-anchor="middle" xml:space="preserve">Cell Mass Probability Density</text>
<text transform="translate(892.0 969.1) rotate(-90)" font-family="'DejaVu Sans','Liberation Sans',sans-serif" font-size="37.5" text-anchor="middle" xml:space="preserve">Cell Mass Probability Density</text>
<text transform="translate(877.4 1602.3) rotate(-90)" font-family="'DejaVu Sans','Liberation Sans',sans-serif" font-size="37.5" text-anchor="middle" xml:space="preserve">CR Heating Time  (Myr)</text>
<text x="123.7" y="1928.3" font-family="'Liberation Serif','Times New Roman',serif" font-size="38.5" text-anchor="middle">10<tspan dx="1.5" dy="-13" font-size="26.9">–29</tspan></text>
<text x="226.8" y="1928.3" font-family="'Liberation Serif','Times New Roman',serif" font-size="38.5" text-anchor="middle">10<tspan dx="1.5" dy="-13" font-size="26.9">–28</tspan></text>
<text x="329.9" y="1928.3" font-family="'Liberation Serif','Times New Roman',serif" font-size="38.5" text-anchor="middle">10<tspan dx="1.5" dy="-13" font-size="26.9">–27</tspan></text>
<text x="433.0" y="1928.3" font-family="'Liberation Serif','Times New Roman',serif" font-size="38.5" text-anchor="middle">10<tspan dx="1.5" dy="-13" font-size="26.9">–26</tspan></text>
<text x="536.1" y="1928.3" font-family="'Liberation Serif','Times New Roman',serif" font-size="38.5" text-anchor="middle">10<tspan dx="1.5" dy="-13" font-size="26.9">–25</tspan></text>
<text x="639.2" y="1928.3" font-family="'Liberation Serif','Times New Roman',serif" font-size="38.5" text-anchor="middle">10<tspan dx="1.5" dy="-13" font-size="26.9">–24</tspan></text>
<text x="301.8" y="1990.6" font-family="'DejaVu Sans','Liberation Sans',sans-serif" font-size="37.8" xml:space="preserve">Density  (</text>
<text x="509.5" y="1971" font-family="'DejaVu Sans','Liberation Sans',sans-serif" font-size="25.5" text-anchor="middle">g</text>
<line x1="483.5" y1="1981" x2="535.8" y2="1981" stroke="#000" stroke-width="2.2"/>
<text x="484.5" y="2007" font-family="'DejaVu Sans','Liberation Sans',sans-serif" font-size="25.5">cm<tspan dy="-9" font-size="18">3</tspan></text>
<text x="541" y="1989.2" font-family="'DejaVu Sans','Liberation Sans',sans-serif" font-size="37.8">)</text>
<text y="119.6" font-family="'Liberation Serif','Times New Roman',serif" font-size="37.6"><tspan x="361.5">Diffusion</tspan><tspan x="583" font-size="37.6">x</tspan></text>
<text transform="translate(513.2 122.6) scale(1.33 1)" font-family="'Liberation Serif','Times New Roman',serif" font-size="38" stroke="#000" stroke-width="0.6">=</text>
<text y="119.6" font-family="'DejaVu Sans','Liberation Sans',sans-serif" font-size="37"><tspan x="548.5">3</tspan><tspan x="611">10</tspan><tspan dy="-13.5" font-size="25.9">28</tspan></text>
<text x="402" y="756.3" font-family="'Liberation Serif','Times New Roman',serif" font-size="37.8">Streaming</text>
<text x="402" y="1389.6" font-family="'Liberation Serif','Times New Roman',serif" font-size="37.8">Streaming</text>
<path d="M296.6 946.6L306.9 967.5L299.2 967.5L299.2 1047.9L294.0 1047.9L294.0 967.5L286.3 967.5z" fill="#000"/>
<path d="M355.0 976.0L365.3 997.3L357.6 997.3L357.6 1074.0L352.4 1074.0L352.4 997.3L344.7 997.3z" fill="#000"/>
<path d="M410.7 999.3L421.0 1020.7L413.3 1020.7L413.3 1097.7L408.1 1097.7L408.1 1020.7L400.4 1020.7z" fill="#000"/>
<path d="M315 936.7L612.8 1029.2M630.2 1066L489 1185.3" stroke="#000" stroke-width="2.7" stroke-dasharray="5.8 4.8" fill="none"/>
<text transform="translate(173 1062) rotate(17.5)" font-family="'Liberation Serif','Times New Roman',serif" font-weight="bold" font-style="italic" font-size="32.5" stroke="#000" stroke-width="0.7">Cosmic Ray Heating</text>
<text transform="translate(485 1164) rotate(-40.2)" font-family="'Liberation Serif','Times New Roman',serif" font-weight="bold" font-style="italic" font-size="32.5" stroke="#000" stroke-width="0.7">Expansion</text>
</svg>
</body></html>
